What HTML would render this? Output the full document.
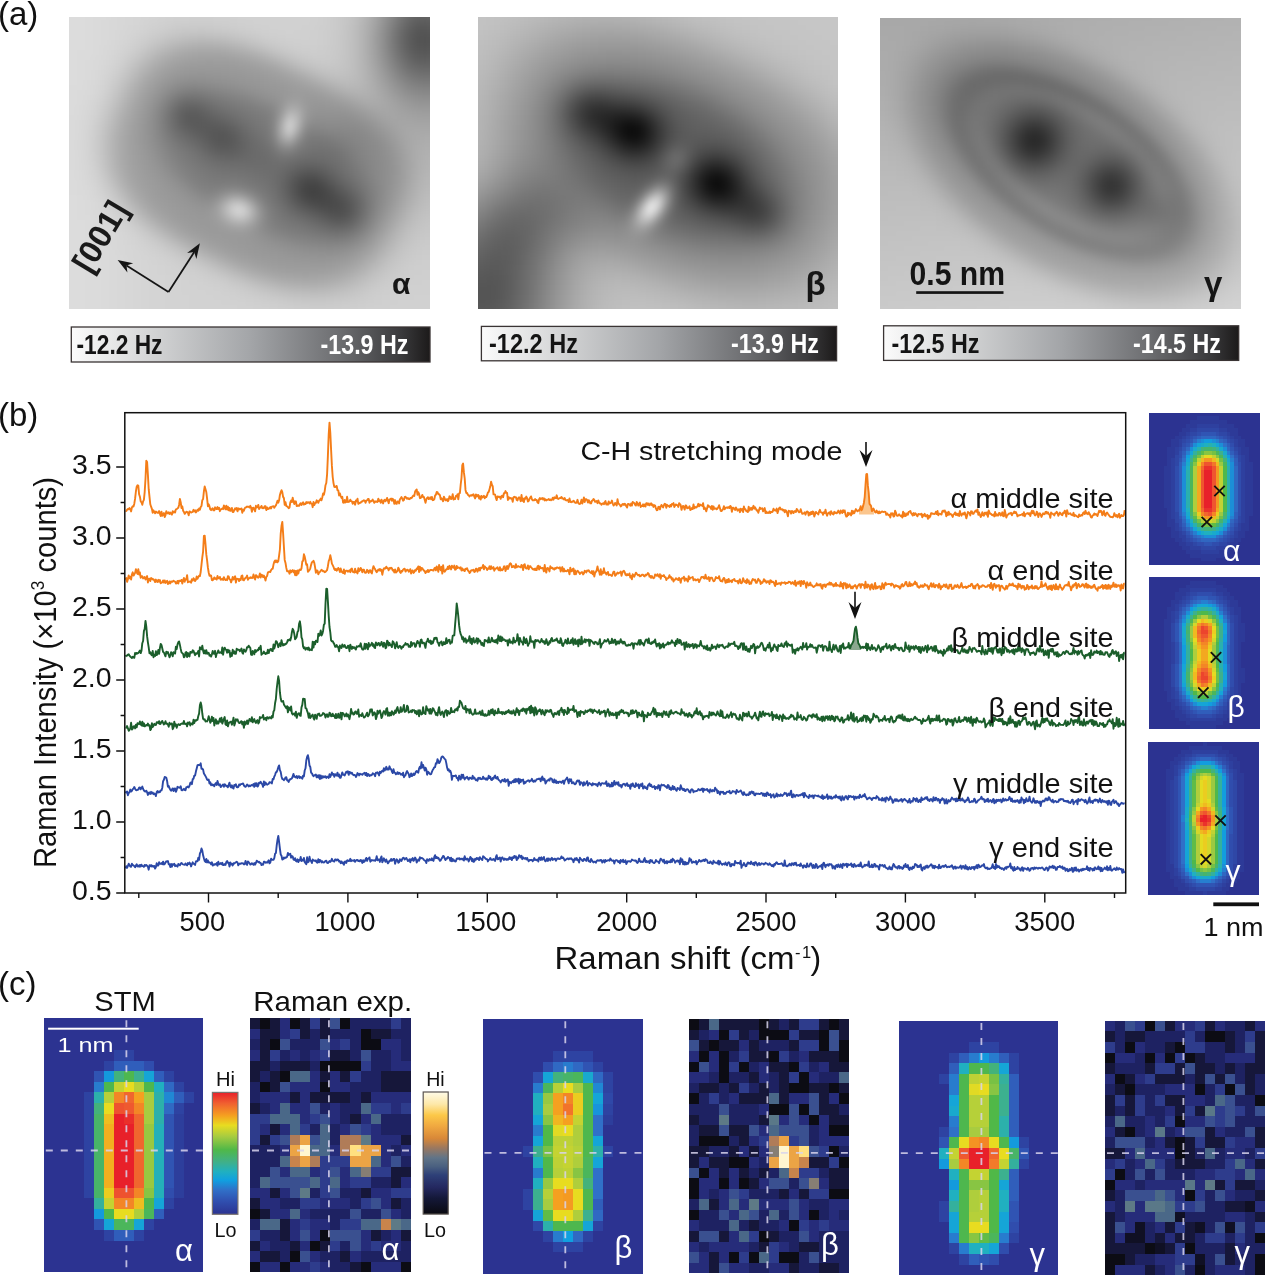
<!DOCTYPE html><html><head><meta charset="utf-8"><style>html,body{margin:0;padding:0;background:#fff;width:1266px;height:1277px;overflow:hidden;position:relative}i{position:absolute;left:0;width:100%;display:block}svg text{font-family:"Liberation Sans",sans-serif}#ov{position:absolute;left:0;top:0;will-change:transform}</style></head><body>
<div style="position:absolute;left:69px;top:17px;width:361px;height:291.5px;overflow:hidden"><div style="position:absolute;left:-12px;top:-12px;width:385px;height:316px;filter:blur(3px)"><i style="top:0px;height:5px;background:linear-gradient(90deg,#dcdcdc,#dcdcdc,#dcdcdc,#dcdcdc,#dbdbdb,#dadada,#dadada,#d8d8d8,#d7d7d7,#d6d6d6,#d5d5d5,#d4d4d4,#d3d3d3,#d2d2d2,#d1d1d1,#d0d0d0,#d0d0d0,#cfcfcf,#cfcfcf,#cfcfcf,#d0d0d0,#d0d0d0,#d0d0d0,#d1d1d1,#d1d1d1,#d1d1d1,#d1d1d1,#d1d1d1,#d1d1d1,#d1d1d1,#d1d1d1,#d1d1d1,#d0d0d0,#cfcfcf,#cdcdcd,#cacaca,#c6c6c6,#c1c1c1,#b9b9b9,#aeaeae,#a1a1a1,#929292,#838383,#747474,#696969,#626262,#626262,#646464,#646464)"></i><i style="top:5px;height:5px;background:linear-gradient(90deg,#dcdcdc,#dcdcdc,#dcdcdc,#dcdcdc,#dbdbdb,#dadada,#dadada,#d8d8d8,#d7d7d7,#d6d6d6,#d5d5d5,#d4d4d4,#d3d3d3,#d2d2d2,#d1d1d1,#d0d0d0,#d0d0d0,#cfcfcf,#cfcfcf,#cfcfcf,#d0d0d0,#d0d0d0,#d0d0d0,#d1d1d1,#d1d1d1,#d1d1d1,#d1d1d1,#d1d1d1,#d1d1d1,#d1d1d1,#d1d1d1,#d1d1d1,#d0d0d0,#cfcfcf,#cdcdcd,#cacaca,#c6c6c6,#c1c1c1,#b9b9b9,#aeaeae,#a1a1a1,#929292,#838383,#747474,#696969,#626262,#626262,#646464,#646464)"></i><i style="top:10px;height:5px;background:linear-gradient(90deg,#dcdcdc,#dcdcdc,#dcdcdc,#dcdcdc,#dbdbdb,#dadada,#dadada,#d8d8d8,#d7d7d7,#d6d6d6,#d5d5d5,#d4d4d4,#d3d3d3,#d2d2d2,#d1d1d1,#d0d0d0,#d0d0d0,#cfcfcf,#cfcfcf,#cfcfcf,#d0d0d0,#d0d0d0,#d0d0d0,#d1d1d1,#d1d1d1,#d1d1d1,#d1d1d1,#d1d1d1,#d1d1d1,#d1d1d1,#d1d1d1,#d1d1d1,#d0d0d0,#cfcfcf,#cdcdcd,#cacaca,#c6c6c6,#c1c1c1,#b9b9b9,#aeaeae,#a1a1a1,#929292,#838383,#747474,#696969,#626262,#626262,#646464,#646464)"></i><i style="top:15px;height:5px;background:linear-gradient(90deg,#dcdcdc,#dcdcdc,#dcdcdc,#dcdcdc,#dbdbdb,#dadada,#d9d9d9,#d8d8d8,#d7d7d7,#d6d6d6,#d5d5d5,#d3d3d3,#d2d2d2,#d0d0d0,#cfcfcf,#cecece,#cecece,#cdcdcd,#cdcdcd,#cdcdcd,#cecece,#cecece,#cfcfcf,#d0d0d0,#d0d0d0,#d1d1d1,#d1d1d1,#d1d1d1,#d1d1d1,#d1d1d1,#d1d1d1,#d1d1d1,#d0d0d0,#cfcfcf,#cdcdcd,#cacaca,#c6c6c6,#c0c0c0,#b7b7b7,#acacac,#9f9f9f,#8f8f8f,#7f7f7f,#707070,#646464,#5d5d5d,#5c5c5c,#5e5e5e,#5e5e5e)"></i><i style="top:20px;height:5px;background:linear-gradient(90deg,#dcdcdc,#dcdcdc,#dcdcdc,#dcdcdc,#dbdbdb,#dadada,#d9d9d9,#d8d8d8,#d7d7d7,#d5d5d5,#d4d4d4,#d2d2d2,#d0d0d0,#cfcfcf,#cdcdcd,#cbcbcb,#cacaca,#cacaca,#cacaca,#cacaca,#cbcbcb,#cccccc,#cdcdcd,#cecece,#cfcfcf,#d0d0d0,#d0d0d0,#d1d1d1,#d1d1d1,#d1d1d1,#d1d1d1,#d0d0d0,#d0d0d0,#cecece,#cdcdcd,#cacaca,#c5c5c5,#bfbfbf,#b6b6b6,#ababab,#9d9d9d,#8c8c8c,#7c7c7c,#6c6c6c,#606060,#585858,#585858,#5a5a5a,#5a5a5a)"></i><i style="top:25px;height:5px;background:linear-gradient(90deg,#dcdcdc,#dcdcdc,#dcdcdc,#dcdcdc,#dbdbdb,#dadada,#d9d9d9,#d8d8d8,#d6d6d6,#d5d5d5,#d3d3d3,#d1d1d1,#cecece,#cccccc,#c9c9c9,#c7c7c7,#c6c6c6,#c5c5c5,#c4c4c4,#c5c5c5,#c6c6c6,#c7c7c7,#c9c9c9,#cbcbcb,#cccccc,#cecece,#cfcfcf,#d0d0d0,#d0d0d0,#d1d1d1,#d0d0d0,#d0d0d0,#cfcfcf,#cecece,#cccccc,#c9c9c9,#c5c5c5,#bebebe,#b5b5b5,#aaaaaa,#9b9b9b,#8b8b8b,#797979,#696969,#5d5d5d,#555555,#555555,#575757,#575757)"></i><i style="top:30px;height:5px;background:linear-gradient(90deg,#dcdcdc,#dcdcdc,#dcdcdc,#dcdcdc,#dbdbdb,#dadada,#d9d9d9,#d8d8d8,#d6d6d6,#d4d4d4,#d1d1d1,#cecece,#cbcbcb,#c8c8c8,#c4c4c4,#c2c2c2,#bfbfbf,#bebebe,#bdbdbd,#bebebe,#bfbfbf,#c0c0c0,#c3c3c3,#c5c5c5,#c8c8c8,#cacaca,#cdcdcd,#cecece,#cfcfcf,#d0d0d0,#d0d0d0,#d0d0d0,#cfcfcf,#cecece,#cccccc,#c9c9c9,#c5c5c5,#bebebe,#b5b5b5,#a9a9a9,#9a9a9a,#8a8a8a,#787878,#686868,#5b5b5b,#545454,#535353,#555555,#555555)"></i><i style="top:35px;height:5px;background:linear-gradient(90deg,#dcdcdc,#dcdcdc,#dcdcdc,#dcdcdc,#dbdbdb,#dadada,#d9d9d9,#d7d7d7,#d5d5d5,#d3d3d3,#cfcfcf,#cccccc,#c7c7c7,#c3c3c3,#bebebe,#bbbbbb,#b8b8b8,#b6b6b6,#b5b5b5,#b5b5b5,#b6b6b6,#b8b8b8,#bbbbbb,#bebebe,#c2c2c2,#c5c5c5,#c9c9c9,#cbcbcb,#cdcdcd,#cecece,#cfcfcf,#cfcfcf,#cfcfcf,#cecece,#cccccc,#c9c9c9,#c4c4c4,#bebebe,#b5b5b5,#a9a9a9,#9a9a9a,#8a8a8a,#787878,#686868,#5c5c5c,#545454,#535353,#555555,#555555)"></i><i style="top:40px;height:5px;background:linear-gradient(90deg,#dcdcdc,#dcdcdc,#dcdcdc,#dcdcdc,#dbdbdb,#dadada,#d8d8d8,#d7d7d7,#d4d4d4,#d1d1d1,#cdcdcd,#c8c8c8,#c2c2c2,#bdbdbd,#b8b8b8,#b3b3b3,#b0b0b0,#aeaeae,#adadad,#adadad,#aeaeae,#afafaf,#b2b2b2,#b5b5b5,#bababa,#bebebe,#c3c3c3,#c7c7c7,#cacaca,#cccccc,#cdcdcd,#cecece,#cecece,#cdcdcd,#cbcbcb,#c9c9c9,#c4c4c4,#bebebe,#b5b5b5,#a9a9a9,#9b9b9b,#8a8a8a,#797979,#696969,#5d5d5d,#565656,#555555,#575757,#575757)"></i><i style="top:45px;height:5px;background:linear-gradient(90deg,#dcdcdc,#dcdcdc,#dcdcdc,#dbdbdb,#dbdbdb,#dadada,#d8d8d8,#d6d6d6,#d3d3d3,#cfcfcf,#cacaca,#c3c3c3,#bdbdbd,#b6b6b6,#b1b1b1,#acacac,#a9a9a9,#a7a7a7,#a6a6a6,#a6a6a6,#a6a6a6,#a7a7a7,#aaaaaa,#adadad,#b0b0b0,#b5b5b5,#bababa,#c0c0c0,#c4c4c4,#c8c8c8,#cbcbcb,#cccccc,#cdcdcd,#cccccc,#cbcbcb,#c8c8c8,#c4c4c4,#bebebe,#b5b5b5,#a9a9a9,#9c9c9c,#8c8c8c,#7b7b7b,#6c6c6c,#606060,#595959,#585858,#5a5a5a,#5a5a5a)"></i><i style="top:50px;height:5px;background:linear-gradient(90deg,#dcdcdc,#dcdcdc,#dcdcdc,#dbdbdb,#dbdbdb,#d9d9d9,#d8d8d8,#d5d5d5,#d1d1d1,#cccccc,#c6c6c6,#bfbfbf,#b7b7b7,#b0b0b0,#ababab,#a6a6a6,#a4a4a4,#a2a2a2,#a1a1a1,#a0a0a0,#a1a1a1,#a1a1a1,#a3a3a3,#a5a5a5,#a8a8a8,#acacac,#b1b1b1,#b7b7b7,#bdbdbd,#c2c2c2,#c6c6c6,#c9c9c9,#cbcbcb,#cbcbcb,#cacaca,#c8c8c8,#c4c4c4,#bebebe,#b5b5b5,#aaaaaa,#9d9d9d,#8e8e8e,#7e7e7e,#6f6f6f,#646464,#5d5d5d,#5c5c5c,#5e5e5e,#5e5e5e)"></i><i style="top:55px;height:5px;background:linear-gradient(90deg,#dcdcdc,#dcdcdc,#dcdcdc,#dbdbdb,#dadada,#d9d9d9,#d7d7d7,#d4d4d4,#d0d0d0,#c9c9c9,#c2c2c2,#b9b9b9,#b1b1b1,#ababab,#a5a5a5,#a2a2a2,#9f9f9f,#9e9e9e,#9d9d9d,#9c9c9c,#9d9d9d,#9d9d9d,#9e9e9e,#a0a0a0,#a2a2a2,#a5a5a5,#a9a9a9,#aeaeae,#b4b4b4,#bababa,#c0c0c0,#c5c5c5,#c7c7c7,#c9c9c9,#c9c9c9,#c7c7c7,#c3c3c3,#bebebe,#b6b6b6,#ababab,#9f9f9f,#909090,#818181,#747474,#696969,#626262,#616161,#636363,#636363)"></i><i style="top:60px;height:5px;background:linear-gradient(90deg,#dcdcdc,#dcdcdc,#dcdcdc,#dbdbdb,#dadada,#d9d9d9,#d6d6d6,#d3d3d3,#cdcdcd,#c6c6c6,#bdbdbd,#b4b4b4,#acacac,#a6a6a6,#a1a1a1,#9d9d9d,#9b9b9b,#9a9a9a,#9a9a9a,#9a9a9a,#9a9a9a,#9a9a9a,#9b9b9b,#9c9c9c,#9d9d9d,#9f9f9f,#a2a2a2,#a6a6a6,#ababab,#b2b2b2,#b8b8b8,#bebebe,#c2c2c2,#c5c5c5,#c6c6c6,#c5c5c5,#c3c3c3,#bebebe,#b6b6b6,#adadad,#a1a1a1,#939393,#858585,#787878,#6e6e6e,#686868,#676767,#686868,#686868)"></i><i style="top:65px;height:5px;background:linear-gradient(90deg,#dcdcdc,#dcdcdc,#dcdcdc,#dbdbdb,#dadada,#d8d8d8,#d5d5d5,#d1d1d1,#cbcbcb,#c2c2c2,#b9b9b9,#b0b0b0,#a8a8a8,#a1a1a1,#9d9d9d,#9a9a9a,#989898,#979797,#969696,#979797,#979797,#989898,#999999,#999999,#9b9b9b,#9c9c9c,#9e9e9e,#a0a0a0,#a4a4a4,#a9a9a9,#afafaf,#b5b5b5,#bbbbbb,#c0c0c0,#c2c2c2,#c3c3c3,#c1c1c1,#bdbdbd,#b7b7b7,#aeaeae,#a3a3a3,#979797,#8a8a8a,#7e7e7e,#747474,#6f6f6f,#6d6d6d,#6f6f6f,#6f6f6f)"></i><i style="top:70px;height:5px;background:linear-gradient(90deg,#dcdcdc,#dcdcdc,#dcdcdc,#dbdbdb,#dadada,#d8d8d8,#d4d4d4,#cfcfcf,#c8c8c8,#bfbfbf,#b5b5b5,#ababab,#a4a4a4,#9e9e9e,#999999,#959595,#939393,#929292,#929292,#939393,#949494,#959595,#969696,#979797,#989898,#999999,#9b9b9b,#9d9d9d,#9f9f9f,#a2a2a2,#a7a7a7,#acacac,#b3b3b3,#b8b8b8,#bdbdbd,#bfbfbf,#bfbfbf,#bcbcbc,#b7b7b7,#afafaf,#a5a5a5,#9a9a9a,#8e8e8e,#838383,#7b7b7b,#757575,#747474,#757575,#757575)"></i><i style="top:75px;height:5px;background:linear-gradient(90deg,#dcdcdc,#dcdcdc,#dcdcdc,#dbdbdb,#d9d9d9,#d7d7d7,#d3d3d3,#cdcdcd,#c5c5c5,#bbbbbb,#b1b1b1,#a7a7a7,#a0a0a0,#9a9a9a,#959595,#909090,#8e8e8e,#8c8c8c,#8d8d8d,#8e8e8e,#909090,#919191,#939393,#959595,#969696,#979797,#999999,#9a9a9a,#9c9c9c,#9e9e9e,#a1a1a1,#a5a5a5,#aaaaaa,#b0b0b0,#b5b5b5,#b9b9b9,#bbbbbb,#bababa,#b7b7b7,#b0b0b0,#a7a7a7,#9d9d9d,#939393,#898989,#818181,#7c7c7c,#7b7b7b,#7c7c7c,#7c7c7c)"></i><i style="top:80px;height:5px;background:linear-gradient(90deg,#dcdcdc,#dcdcdc,#dbdbdb,#dbdbdb,#d9d9d9,#d6d6d6,#d2d2d2,#cbcbcb,#c2c2c2,#b7b7b7,#adadad,#a4a4a4,#9d9d9d,#969696,#909090,#8a8a8a,#868686,#858585,#868686,#888888,#8a8a8a,#8c8c8c,#8e8e8e,#919191,#939393,#959595,#979797,#989898,#999999,#9b9b9b,#9d9d9d,#9f9f9f,#a3a3a3,#a7a7a7,#adadad,#b2b2b2,#b6b6b6,#b7b7b7,#b5b5b5,#b0b0b0,#a9a9a9,#a1a1a1,#979797,#8e8e8e,#878787,#838383,#828282,#828282,#828282)"></i><i style="top:85px;height:5px;background:linear-gradient(90deg,#dcdcdc,#dcdcdc,#dbdbdb,#dadada,#d9d9d9,#d6d6d6,#d1d1d1,#c9c9c9,#bfbfbf,#b4b4b4,#aaaaaa,#a1a1a1,#9a9a9a,#929292,#8a8a8a,#838383,#7e7e7e,#7c7c7c,#7d7d7d,#808080,#838383,#868686,#888888,#8b8b8b,#8e8e8e,#919191,#949494,#969696,#989898,#9a9a9a,#9c9c9c,#9c9c9c,#9d9d9d,#a0a0a0,#a5a5a5,#aaaaaa,#afafaf,#b2b2b2,#b2b2b2,#b0b0b0,#aaaaaa,#a3a3a3,#9b9b9b,#939393,#8d8d8d,#898989,#888888,#898989,#898989)"></i><i style="top:90px;height:5px;background:linear-gradient(90deg,#dbdbdb,#dbdbdb,#dbdbdb,#dadada,#d8d8d8,#d5d5d5,#cfcfcf,#c6c6c6,#bcbcbc,#b1b1b1,#a7a7a7,#9e9e9e,#979797,#8e8e8e,#848484,#7a7a7a,#747474,#737373,#757575,#797979,#7c7c7c,#7f7f7f,#828282,#858585,#888888,#8c8c8c,#909090,#939393,#969696,#9b9b9b,#9d9d9d,#9a9a9a,#9a9a9a,#9b9b9b,#9e9e9e,#a2a2a2,#a7a7a7,#ababab,#aeaeae,#aeaeae,#ababab,#a5a5a5,#9f9f9f,#989898,#939393,#8f8f8f,#8e8e8e,#8f8f8f,#8f8f8f)"></i><i style="top:95px;height:5px;background:linear-gradient(90deg,#dbdbdb,#dbdbdb,#dbdbdb,#dadada,#d7d7d7,#d3d3d3,#cdcdcd,#c4c4c4,#b9b9b9,#aeaeae,#a4a4a4,#9c9c9c,#949494,#8a8a8a,#7e7e7e,#727272,#6b6b6b,#6a6a6a,#6d6d6d,#717171,#767676,#797979,#7c7c7c,#7f7f7f,#828282,#868686,#8a8a8a,#8e8e8e,#969696,#a0a0a0,#a1a1a1,#9a9a9a,#979797,#989898,#999999,#9c9c9c,#9f9f9f,#a4a4a4,#a8a8a8,#ababab,#aaaaaa,#a7a7a7,#a2a2a2,#9c9c9c,#989898,#949494,#949494,#949494,#949494)"></i><i style="top:100px;height:5px;background:linear-gradient(90deg,#dbdbdb,#dbdbdb,#dbdbdb,#d9d9d9,#d7d7d7,#d2d2d2,#cbcbcb,#c1c1c1,#b6b6b6,#ababab,#a2a2a2,#9a9a9a,#919191,#868686,#797979,#6c6c6c,#646464,#626262,#656565,#6b6b6b,#707070,#747474,#777777,#7a7a7a,#7d7d7d,#808080,#848484,#898989,#969696,#a9a9a9,#a8a8a8,#9a9a9a,#969696,#959595,#969696,#979797,#999999,#9d9d9d,#a2a2a2,#a6a6a6,#a8a8a8,#a7a7a7,#a4a4a4,#a0a0a0,#9c9c9c,#999999,#999999,#999999,#999999)"></i><i style="top:105px;height:5px;background:linear-gradient(90deg,#dbdbdb,#dbdbdb,#dbdbdb,#d9d9d9,#d6d6d6,#d1d1d1,#c9c9c9,#bebebe,#b3b3b3,#a9a9a9,#a0a0a0,#999999,#8f8f8f,#838383,#757575,#676767,#5e5e5e,#5c5c5c,#606060,#656565,#6a6a6a,#6e6e6e,#727272,#767676,#797979,#7c7c7c,#7f7f7f,#858585,#999999,#b6b6b6,#b0b0b0,#9a9a9a,#939393,#939393,#939393,#939393,#949494,#979797,#9b9b9b,#a0a0a0,#a4a4a4,#a6a6a6,#a5a5a5,#a2a2a2,#a0a0a0,#9e9e9e,#9d9d9d,#9d9d9d,#9d9d9d)"></i><i style="top:110px;height:5px;background:linear-gradient(90deg,#dbdbdb,#dbdbdb,#dadada,#d9d9d9,#d5d5d5,#d0d0d0,#c7c7c7,#bcbcbc,#b0b0b0,#a7a7a7,#9f9f9f,#979797,#8e8e8e,#828282,#737373,#666666,#5c5c5c,#5a5a5a,#5c5c5c,#606060,#646464,#696969,#6d6d6d,#727272,#767676,#797979,#7c7c7c,#838383,#a0a0a0,#c5c5c5,#b6b6b6,#989898,#909090,#909090,#909090,#909090,#909090,#929292,#969696,#9b9b9b,#a0a0a0,#a4a4a4,#a5a5a5,#a4a4a4,#a3a3a3,#a1a1a1,#a1a1a1,#a1a1a1,#a1a1a1)"></i><i style="top:115px;height:5px;background:linear-gradient(90deg,#dbdbdb,#dbdbdb,#dadada,#d8d8d8,#d5d5d5,#cecece,#c5c5c5,#bababa,#aeaeae,#a5a5a5,#9e9e9e,#969696,#8d8d8d,#818181,#747474,#676767,#5d5d5d,#5a5a5a,#5a5a5a,#5c5c5c,#5f5f5f,#626262,#686868,#6e6e6e,#737373,#777777,#7a7a7a,#838383,#a8a8a8,#d1d1d1,#b7b7b7,#939393,#8c8c8c,#8c8c8c,#8d8d8d,#8d8d8d,#8d8d8d,#8e8e8e,#919191,#959595,#9b9b9b,#a1a1a1,#a4a4a4,#a5a5a5,#a5a5a5,#a4a4a4,#a4a4a4,#a4a4a4,#a4a4a4)"></i><i style="top:120px;height:5px;background:linear-gradient(90deg,#dbdbdb,#dbdbdb,#dadada,#d8d8d8,#d4d4d4,#cdcdcd,#c3c3c3,#b8b8b8,#adadad,#a4a4a4,#9d9d9d,#969696,#8d8d8d,#828282,#757575,#696969,#616161,#5c5c5c,#5a5a5a,#5a5a5a,#5a5a5a,#5d5d5d,#626262,#696969,#707070,#757575,#787878,#838383,#adadad,#d5d5d5,#b2b2b2,#8c8c8c,#868686,#888888,#898989,#898989,#8a8a8a,#8b8b8b,#8d8d8d,#919191,#979797,#9d9d9d,#a2a2a2,#a6a6a6,#a7a7a7,#a7a7a7,#a7a7a7,#a7a7a7,#a7a7a7)"></i><i style="top:125px;height:5px;background:linear-gradient(90deg,#dbdbdb,#dbdbdb,#dadada,#d8d8d8,#d3d3d3,#cccccc,#c2c2c2,#b6b6b6,#ababab,#a3a3a3,#9c9c9c,#969696,#8e8e8e,#838383,#787878,#6e6e6e,#666666,#606060,#5c5c5c,#595959,#575757,#585858,#5e5e5e,#666666,#6d6d6d,#727272,#767676,#828282,#acacac,#cbcbcb,#a6a6a6,#848484,#808080,#828282,#848484,#858585,#878787,#888888,#8a8a8a,#8e8e8e,#939393,#999999,#a0a0a0,#a5a5a5,#a8a8a8,#a9a9a9,#a9a9a9,#aaaaaa,#aaaaaa)"></i><i style="top:130px;height:5px;background:linear-gradient(90deg,#dbdbdb,#dbdbdb,#dadada,#d8d8d8,#d3d3d3,#cbcbcb,#c1c1c1,#b5b5b5,#aaaaaa,#a2a2a2,#9c9c9c,#969696,#8e8e8e,#858585,#7b7b7b,#727272,#6b6b6b,#656565,#606060,#5a5a5a,#565656,#565656,#5b5b5b,#636363,#6a6a6a,#707070,#747474,#808080,#a4a4a4,#b8b8b8,#979797,#7e7e7e,#7a7a7a,#7c7c7c,#7e7e7e,#818181,#838383,#868686,#888888,#8b8b8b,#909090,#969696,#9d9d9d,#a4a4a4,#a8a8a8,#aaaaaa,#acacac,#acacac,#acacac)"></i><i style="top:135px;height:5px;background:linear-gradient(90deg,#dbdbdb,#dbdbdb,#dadada,#d7d7d7,#d3d3d3,#cbcbcb,#c0c0c0,#b4b4b4,#aaaaaa,#a2a2a2,#9c9c9c,#969696,#8f8f8f,#878787,#7e7e7e,#767676,#707070,#6a6a6a,#646464,#5d5d5d,#585858,#575757,#5b5b5b,#626262,#686868,#6d6d6d,#727272,#7c7c7c,#979797,#a1a1a1,#898989,#797979,#777777,#777777,#797979,#7c7c7c,#808080,#848484,#878787,#8a8a8a,#8d8d8d,#939393,#9b9b9b,#a2a2a2,#a8a8a8,#ababab,#adadad,#aeaeae,#aeaeae)"></i><i style="top:140px;height:5px;background:linear-gradient(90deg,#dbdbdb,#dbdbdb,#dadada,#d7d7d7,#d3d3d3,#cbcbcb,#c0c0c0,#b4b4b4,#aaaaaa,#a2a2a2,#9d9d9d,#979797,#919191,#898989,#818181,#7a7a7a,#747474,#6f6f6f,#686868,#616161,#5b5b5b,#5a5a5a,#5d5d5d,#626262,#686868,#6c6c6c,#6f6f6f,#777777,#888888,#8d8d8d,#7e7e7e,#767676,#747474,#737373,#757575,#787878,#7d7d7d,#818181,#858585,#898989,#8c8c8c,#919191,#989898,#a1a1a1,#a8a8a8,#acacac,#afafaf,#b0b0b0,#b0b0b0)"></i><i style="top:145px;height:5px;background:linear-gradient(90deg,#dbdbdb,#dbdbdb,#dadada,#d8d8d8,#d3d3d3,#cbcbcb,#c0c0c0,#b4b4b4,#aaaaaa,#a2a2a2,#9d9d9d,#989898,#929292,#8b8b8b,#838383,#7d7d7d,#787878,#737373,#6d6d6d,#666666,#616161,#5f5f5f,#606060,#646464,#686868,#6b6b6b,#6d6d6d,#737373,#7d7d7d,#7e7e7e,#767676,#727272,#707070,#707070,#717171,#747474,#797979,#7f7f7f,#848484,#888888,#8b8b8b,#909090,#979797,#9f9f9f,#a7a7a7,#adadad,#b0b0b0,#b1b1b1,#b1b1b1)"></i><i style="top:150px;height:5px;background:linear-gradient(90deg,#dbdbdb,#dbdbdb,#dadada,#d8d8d8,#d3d3d3,#cccccc,#c1c1c1,#b5b5b5,#aaaaaa,#a3a3a3,#9e9e9e,#999999,#949494,#8d8d8d,#868686,#7f7f7f,#7a7a7a,#767676,#717171,#6c6c6c,#676767,#656565,#656565,#676767,#696969,#6b6b6b,#6c6c6c,#707070,#747474,#747474,#707070,#6d6d6d,#6c6c6c,#6d6d6d,#6f6f6f,#727272,#777777,#7d7d7d,#838383,#878787,#8b8b8b,#8f8f8f,#959595,#9e9e9e,#a7a7a7,#adadad,#b1b1b1,#b3b3b3,#b3b3b3)"></i><i style="top:155px;height:5px;background:linear-gradient(90deg,#dbdbdb,#dbdbdb,#dadada,#d8d8d8,#d4d4d4,#cccccc,#c2c2c2,#b6b6b6,#ababab,#a3a3a3,#9e9e9e,#9a9a9a,#959595,#8f8f8f,#888888,#828282,#7c7c7c,#787878,#747474,#707070,#6d6d6d,#6b6b6b,#6b6b6b,#6b6b6b,#6b6b6b,#6c6c6c,#6c6c6c,#6e6e6e,#6f6f6f,#6d6d6d,#696969,#676767,#676767,#686868,#6c6c6c,#6f6f6f,#747474,#7b7b7b,#818181,#868686,#8a8a8a,#8e8e8e,#959595,#9d9d9d,#a6a6a6,#aeaeae,#b2b2b2,#b4b4b4,#b4b4b4)"></i><i style="top:160px;height:5px;background:linear-gradient(90deg,#dbdbdb,#dbdbdb,#dadada,#d8d8d8,#d5d5d5,#cecece,#c3c3c3,#b7b7b7,#acacac,#a4a4a4,#9f9f9f,#9b9b9b,#979797,#929292,#8b8b8b,#848484,#7f7f7f,#7b7b7b,#777777,#747474,#717171,#707070,#6f6f6f,#6f6f6f,#6e6e6e,#6d6d6d,#6d6d6d,#6d6d6d,#6c6c6c,#686868,#636363,#5f5f5f,#5f5f5f,#626262,#676767,#6d6d6d,#727272,#787878,#7f7f7f,#858585,#8a8a8a,#8e8e8e,#949494,#9d9d9d,#a6a6a6,#aeaeae,#b3b3b3,#b5b5b5,#b5b5b5)"></i><i style="top:165px;height:5px;background:linear-gradient(90deg,#dbdbdb,#dbdbdb,#dbdbdb,#d9d9d9,#d5d5d5,#cfcfcf,#c5c5c5,#b9b9b9,#aeaeae,#a5a5a5,#a0a0a0,#9c9c9c,#989898,#949494,#8e8e8e,#878787,#818181,#7d7d7d,#7a7a7a,#777777,#757575,#747474,#737373,#727272,#717171,#707070,#6e6e6e,#6d6d6d,#696969,#636363,#5c5c5c,#575757,#575757,#5b5b5b,#626262,#696969,#707070,#767676,#7d7d7d,#848484,#898989,#8e8e8e,#949494,#9d9d9d,#a7a7a7,#afafaf,#b4b4b4,#b6b6b6,#b6b6b6)"></i><i style="top:170px;height:5px;background:linear-gradient(90deg,#dbdbdb,#dbdbdb,#dbdbdb,#d9d9d9,#d6d6d6,#d1d1d1,#c8c8c8,#bcbcbc,#b0b0b0,#a7a7a7,#a1a1a1,#9d9d9d,#9a9a9a,#969696,#919191,#8b8b8b,#848484,#7f7f7f,#7c7c7c,#797979,#787878,#777777,#777777,#767676,#747474,#727272,#707070,#6d6d6d,#686868,#5f5f5f,#555555,#4f4f4f,#4e4e4e,#545454,#5c5c5c,#656565,#6c6c6c,#737373,#7b7b7b,#828282,#898989,#8e8e8e,#959595,#9d9d9d,#a7a7a7,#b0b0b0,#b6b6b6,#b8b8b8,#b8b8b8)"></i><i style="top:175px;height:5px;background:linear-gradient(90deg,#dbdbdb,#dbdbdb,#dbdbdb,#dadada,#d7d7d7,#d2d2d2,#cacaca,#bfbfbf,#b3b3b3,#a9a9a9,#a2a2a2,#9e9e9e,#9b9b9b,#989898,#949494,#8f8f8f,#888888,#828282,#7e7e7e,#7c7c7c,#7b7b7b,#7b7b7b,#7b7b7b,#7a7a7a,#777777,#757575,#727272,#6e6e6e,#676767,#5c5c5c,#515151,#484848,#474747,#4d4d4d,#565656,#5f5f5f,#686868,#6f6f6f,#787878,#808080,#888888,#8e8e8e,#959595,#9e9e9e,#a8a8a8,#b1b1b1,#b7b7b7,#b9b9b9,#b9b9b9)"></i><i style="top:180px;height:5px;background:linear-gradient(90deg,#dbdbdb,#dbdbdb,#dbdbdb,#dadada,#d8d8d8,#d4d4d4,#cdcdcd,#c3c3c3,#b7b7b7,#acacac,#a4a4a4,#9f9f9f,#9c9c9c,#999999,#969696,#929292,#8d8d8d,#868686,#818181,#7f7f7f,#7f7f7f,#828282,#838383,#818181,#7c7c7c,#787878,#747474,#6f6f6f,#676767,#5b5b5b,#4e4e4e,#454545,#434343,#474747,#505050,#595959,#626262,#6b6b6b,#757575,#7e7e7e,#878787,#8e8e8e,#969696,#a0a0a0,#aaaaaa,#b3b3b3,#b8b8b8,#bababa,#bababa)"></i><i style="top:185px;height:5px;background:linear-gradient(90deg,#dcdcdc,#dcdcdc,#dbdbdb,#dadada,#d9d9d9,#d5d5d5,#cfcfcf,#c7c7c7,#bbbbbb,#b0b0b0,#a7a7a7,#a1a1a1,#9d9d9d,#9a9a9a,#989898,#959595,#919191,#8b8b8b,#868686,#838383,#868686,#8d8d8d,#929292,#8f8f8f,#868686,#7d7d7d,#777777,#717171,#686868,#5c5c5c,#4f4f4f,#454545,#414141,#454545,#4b4b4b,#545454,#5c5c5c,#666666,#717171,#7c7c7c,#868686,#8f8f8f,#989898,#a1a1a1,#acacac,#b4b4b4,#bababa,#bcbcbc,#bcbcbc)"></i><i style="top:190px;height:5px;background:linear-gradient(90deg,#dcdcdc,#dcdcdc,#dcdcdc,#dbdbdb,#d9d9d9,#d6d6d6,#d2d2d2,#cacaca,#c0c0c0,#b4b4b4,#aaaaaa,#a3a3a3,#9e9e9e,#9b9b9b,#999999,#979797,#949494,#909090,#8b8b8b,#898989,#8f8f8f,#9c9c9c,#a8a8a8,#a5a5a5,#959595,#858585,#7a7a7a,#737373,#6a6a6a,#5f5f5f,#525252,#484848,#444444,#454545,#494949,#4f4f4f,#575757,#616161,#6e6e6e,#7b7b7b,#868686,#909090,#999999,#a4a4a4,#aeaeae,#b6b6b6,#bcbcbc,#bebebe,#bebebe)"></i><i style="top:195px;height:5px;background:linear-gradient(90deg,#dcdcdc,#dcdcdc,#dcdcdc,#dbdbdb,#dadada,#d8d8d8,#d4d4d4,#cecece,#c5c5c5,#b9b9b9,#afafaf,#a6a6a6,#a0a0a0,#9d9d9d,#9a9a9a,#989898,#969696,#939393,#909090,#8f8f8f,#989898,#acacac,#c0c0c0,#bfbfbf,#a9a9a9,#8f8f8f,#7e7e7e,#757575,#6d6d6d,#636363,#585858,#4f4f4f,#494949,#484848,#494949,#4c4c4c,#535353,#5e5e5e,#6b6b6b,#7a7a7a,#878787,#919191,#9b9b9b,#a6a6a6,#b0b0b0,#b8b8b8,#bdbdbd,#bfbfbf,#bfbfbf)"></i><i style="top:200px;height:5px;background:linear-gradient(90deg,#dcdcdc,#dcdcdc,#dcdcdc,#dbdbdb,#dadada,#d8d8d8,#d5d5d5,#d0d0d0,#c9c9c9,#bfbfbf,#b4b4b4,#aaaaaa,#a3a3a3,#9e9e9e,#9c9c9c,#9a9a9a,#989898,#969696,#949494,#959595,#9f9f9f,#b6b6b6,#cfcfcf,#d2d2d2,#bababa,#999999,#838383,#787878,#717171,#686868,#5f5f5f,#575757,#515151,#4d4d4d,#4b4b4b,#4c4c4c,#515151,#5c5c5c,#6b6b6b,#7a7a7a,#888888,#939393,#9e9e9e,#a9a9a9,#b3b3b3,#bababa,#bfbfbf,#c1c1c1,#c1c1c1)"></i><i style="top:205px;height:5px;background:linear-gradient(90deg,#dcdcdc,#dcdcdc,#dcdcdc,#dbdbdb,#dadada,#d9d9d9,#d7d7d7,#d3d3d3,#cdcdcd,#c5c5c5,#bababa,#b0b0b0,#a7a7a7,#a1a1a1,#9d9d9d,#9b9b9b,#999999,#989898,#969696,#989898,#a0a0a0,#b5b5b5,#cecece,#d5d5d5,#bfbfbf,#9e9e9e,#868686,#7a7a7a,#747474,#6d6d6d,#666666,#606060,#5a5a5a,#555555,#505050,#4f4f4f,#525252,#5d5d5d,#6c6c6c,#7c7c7c,#8a8a8a,#969696,#a1a1a1,#acacac,#b6b6b6,#bdbdbd,#c1c1c1,#c2c2c2,#c2c2c2)"></i><i style="top:210px;height:5px;background:linear-gradient(90deg,#dcdcdc,#dcdcdc,#dcdcdc,#dbdbdb,#dbdbdb,#d9d9d9,#d8d8d8,#d5d5d5,#d0d0d0,#cacaca,#c0c0c0,#b6b6b6,#acacac,#a5a5a5,#a0a0a0,#9c9c9c,#9a9a9a,#999999,#989898,#999999,#9e9e9e,#adadad,#c0c0c0,#c7c7c7,#b7b7b7,#9c9c9c,#878787,#7c7c7c,#777777,#727272,#6d6d6d,#686868,#626262,#5d5d5d,#575757,#545454,#575757,#616161,#6f6f6f,#7f7f7f,#8d8d8d,#999999,#a5a5a5,#afafaf,#b9b9b9,#bfbfbf,#c3c3c3,#c4c4c4,#c4c4c4)"></i><i style="top:215px;height:5px;background:linear-gradient(90deg,#dcdcdc,#dcdcdc,#dcdcdc,#dcdcdc,#dbdbdb,#dadada,#d8d8d8,#d6d6d6,#d3d3d3,#cecece,#c6c6c6,#bdbdbd,#b3b3b3,#aaaaaa,#a3a3a3,#9f9f9f,#9c9c9c,#9a9a9a,#999999,#999999,#9c9c9c,#a4a4a4,#afafaf,#b3b3b3,#a9a9a9,#979797,#878787,#7e7e7e,#7a7a7a,#767676,#737373,#6f6f6f,#6a6a6a,#656565,#606060,#5c5c5c,#5f5f5f,#676767,#757575,#838383,#919191,#9d9d9d,#a8a8a8,#b3b3b3,#bbbbbb,#c1c1c1,#c4c4c4,#c6c6c6,#c6c6c6)"></i><i style="top:220px;height:5px;background:linear-gradient(90deg,#dcdcdc,#dcdcdc,#dcdcdc,#dcdcdc,#dbdbdb,#dadada,#d9d9d9,#d7d7d7,#d4d4d4,#d1d1d1,#cbcbcb,#c4c4c4,#bababa,#b1b1b1,#a9a9a9,#a3a3a3,#9e9e9e,#9c9c9c,#9a9a9a,#999999,#9a9a9a,#9d9d9d,#a2a2a2,#a4a4a4,#9e9e9e,#939393,#888888,#818181,#7d7d7d,#7a7a7a,#787878,#757575,#717171,#6d6d6d,#686868,#666666,#686868,#6f6f6f,#7b7b7b,#888888,#959595,#a1a1a1,#acacac,#b7b7b7,#bebebe,#c3c3c3,#c6c6c6,#c7c7c7,#c7c7c7)"></i><i style="top:225px;height:5px;background:linear-gradient(90deg,#dcdcdc,#dcdcdc,#dcdcdc,#dcdcdc,#dbdbdb,#dadada,#d9d9d9,#d8d8d8,#d6d6d6,#d3d3d3,#cfcfcf,#c9c9c9,#c2c2c2,#b9b9b9,#b0b0b0,#a8a8a8,#a2a2a2,#9e9e9e,#9c9c9c,#9a9a9a,#9a9a9a,#9a9a9a,#9b9b9b,#9c9c9c,#989898,#929292,#8b8b8b,#868686,#828282,#7f7f7f,#7c7c7c,#7a7a7a,#777777,#747474,#717171,#707070,#727272,#787878,#828282,#8e8e8e,#9a9a9a,#a5a5a5,#b1b1b1,#bababa,#c1c1c1,#c5c5c5,#c7c7c7,#c8c8c8,#c8c8c8)"></i><i style="top:230px;height:5px;background:linear-gradient(90deg,#dcdcdc,#dcdcdc,#dcdcdc,#dcdcdc,#dbdbdb,#dadada,#d9d9d9,#d8d8d8,#d6d6d6,#d4d4d4,#d2d2d2,#cdcdcd,#c8c8c8,#c0c0c0,#b8b8b8,#afafaf,#a8a8a8,#a3a3a3,#9f9f9f,#9c9c9c,#9b9b9b,#9a9a9a,#999999,#999999,#979797,#949494,#909090,#8b8b8b,#888888,#848484,#828282,#808080,#7e7e7e,#7c7c7c,#7a7a7a,#797979,#7b7b7b,#818181,#8a8a8a,#949494,#9f9f9f,#aaaaaa,#b5b5b5,#bdbdbd,#c3c3c3,#c7c7c7,#c9c9c9,#c9c9c9,#c9c9c9)"></i><i style="top:235px;height:5px;background:linear-gradient(90deg,#dcdcdc,#dcdcdc,#dcdcdc,#dcdcdc,#dbdbdb,#dadada,#d9d9d9,#d8d8d8,#d7d7d7,#d5d5d5,#d3d3d3,#d0d0d0,#cccccc,#c7c7c7,#c0c0c0,#b8b8b8,#b0b0b0,#a9a9a9,#a3a3a3,#9f9f9f,#9d9d9d,#9b9b9b,#9a9a9a,#999999,#989898,#969696,#939393,#919191,#8e8e8e,#8b8b8b,#888888,#868686,#848484,#838383,#828282,#828282,#848484,#898989,#909090,#999999,#a4a4a4,#aeaeae,#b8b8b8,#c0c0c0,#c5c5c5,#c8c8c8,#cacaca,#cacaca,#cacaca)"></i><i style="top:240px;height:5px;background:linear-gradient(90deg,#dcdcdc,#dcdcdc,#dcdcdc,#dcdcdc,#dbdbdb,#dadada,#dadada,#d8d8d8,#d7d7d7,#d6d6d6,#d4d4d4,#d2d2d2,#cfcfcf,#cccccc,#c6c6c6,#c0c0c0,#b8b8b8,#b1b1b1,#aaaaaa,#a4a4a4,#a0a0a0,#9d9d9d,#9b9b9b,#9a9a9a,#999999,#989898,#969696,#949494,#929292,#909090,#8e8e8e,#8c8c8c,#8b8b8b,#8a8a8a,#898989,#8a8a8a,#8c8c8c,#909090,#979797,#9f9f9f,#a9a9a9,#b3b3b3,#bcbcbc,#c3c3c3,#c7c7c7,#cacaca,#cbcbcb,#cbcbcb,#cbcbcb)"></i><i style="top:245px;height:5px;background:linear-gradient(90deg,#dcdcdc,#dcdcdc,#dcdcdc,#dcdcdc,#dbdbdb,#dadada,#dadada,#d9d9d9,#d7d7d7,#d6d6d6,#d5d5d5,#d3d3d3,#d1d1d1,#cfcfcf,#cbcbcb,#c7c7c7,#c0c0c0,#b9b9b9,#b2b2b2,#ababab,#a6a6a6,#a1a1a1,#9e9e9e,#9c9c9c,#9a9a9a,#999999,#989898,#979797,#969696,#949494,#939393,#919191,#909090,#909090,#8f8f8f,#909090,#939393,#979797,#9d9d9d,#a4a4a4,#aeaeae,#b7b7b7,#bfbfbf,#c5c5c5,#c9c9c9,#cbcbcb,#cccccc,#cccccc,#cccccc)"></i><i style="top:250px;height:5px;background:linear-gradient(90deg,#dcdcdc,#dcdcdc,#dcdcdc,#dcdcdc,#dbdbdb,#dadada,#dadada,#d9d9d9,#d8d8d8,#d6d6d6,#d5d5d5,#d4d4d4,#d3d3d3,#d1d1d1,#cfcfcf,#cbcbcb,#c7c7c7,#c1c1c1,#bbbbbb,#b4b4b4,#adadad,#a7a7a7,#a2a2a2,#9f9f9f,#9d9d9d,#9b9b9b,#9a9a9a,#999999,#989898,#979797,#969696,#959595,#959595,#949494,#959595,#969696,#989898,#9c9c9c,#a2a2a2,#aaaaaa,#b3b3b3,#bcbcbc,#c3c3c3,#c7c7c7,#cacaca,#cccccc,#cdcdcd,#cdcdcd,#cdcdcd)"></i><i style="top:255px;height:5px;background:linear-gradient(90deg,#dcdcdc,#dcdcdc,#dcdcdc,#dcdcdc,#dbdbdb,#dbdbdb,#dadada,#d9d9d9,#d8d8d8,#d7d7d7,#d6d6d6,#d5d5d5,#d3d3d3,#d2d2d2,#d1d1d1,#cfcfcf,#cccccc,#c8c8c8,#c3c3c3,#bdbdbd,#b6b6b6,#afafaf,#a9a9a9,#a4a4a4,#a1a1a1,#9e9e9e,#9d9d9d,#9b9b9b,#9a9a9a,#9a9a9a,#999999,#999999,#989898,#989898,#999999,#9b9b9b,#9d9d9d,#a2a2a2,#a8a8a8,#b0b0b0,#b8b8b8,#c0c0c0,#c5c5c5,#c9c9c9,#cccccc,#cdcdcd,#cecece,#cecece,#cecece)"></i><i style="top:260px;height:5px;background:linear-gradient(90deg,#dcdcdc,#dcdcdc,#dcdcdc,#dcdcdc,#dbdbdb,#dbdbdb,#dadada,#d9d9d9,#d8d8d8,#d7d7d7,#d6d6d6,#d5d5d5,#d4d4d4,#d3d3d3,#d2d2d2,#d0d0d0,#cfcfcf,#cccccc,#c9c9c9,#c4c4c4,#bebebe,#b8b8b8,#b1b1b1,#ababab,#a7a7a7,#a3a3a3,#a0a0a0,#9e9e9e,#9d9d9d,#9c9c9c,#9c9c9c,#9c9c9c,#9c9c9c,#9c9c9c,#9d9d9d,#9f9f9f,#a3a3a3,#a7a7a7,#aeaeae,#b5b5b5,#bdbdbd,#c3c3c3,#c8c8c8,#cbcbcb,#cdcdcd,#cecece,#cecece,#cecece,#cecece)"></i><i style="top:265px;height:5px;background:linear-gradient(90deg,#dcdcdc,#dcdcdc,#dcdcdc,#dcdcdc,#dbdbdb,#dbdbdb,#dadada,#d9d9d9,#d8d8d8,#d7d7d7,#d6d6d6,#d5d5d5,#d4d4d4,#d3d3d3,#d2d2d2,#d2d2d2,#d0d0d0,#cfcfcf,#cdcdcd,#cacaca,#c5c5c5,#c0c0c0,#bababa,#b4b4b4,#aeaeae,#aaaaaa,#a6a6a6,#a3a3a3,#a1a1a1,#a0a0a0,#9f9f9f,#9f9f9f,#9f9f9f,#a0a0a0,#a2a2a2,#a4a4a4,#a8a8a8,#adadad,#b4b4b4,#bbbbbb,#c1c1c1,#c6c6c6,#cacaca,#cccccc,#cecece,#cecece,#cfcfcf,#cfcfcf,#cfcfcf)"></i><i style="top:270px;height:5px;background:linear-gradient(90deg,#dcdcdc,#dcdcdc,#dcdcdc,#dcdcdc,#dbdbdb,#dbdbdb,#dadada,#d9d9d9,#d8d8d8,#d7d7d7,#d6d6d6,#d5d5d5,#d4d4d4,#d4d4d4,#d3d3d3,#d2d2d2,#d1d1d1,#d0d0d0,#cfcfcf,#cdcdcd,#cbcbcb,#c7c7c7,#c2c2c2,#bdbdbd,#b7b7b7,#b2b2b2,#aeaeae,#aaaaaa,#a7a7a7,#a6a6a6,#a5a5a5,#a4a4a4,#a5a5a5,#a6a6a6,#a8a8a8,#aaaaaa,#afafaf,#b4b4b4,#bababa,#c0c0c0,#c5c5c5,#c9c9c9,#cccccc,#cdcdcd,#cecece,#cfcfcf,#cfcfcf,#cfcfcf,#cfcfcf)"></i><i style="top:275px;height:5px;background:linear-gradient(90deg,#dcdcdc,#dcdcdc,#dcdcdc,#dcdcdc,#dbdbdb,#dbdbdb,#dadada,#d9d9d9,#d8d8d8,#d7d7d7,#d6d6d6,#d5d5d5,#d4d4d4,#d4d4d4,#d3d3d3,#d3d3d3,#d2d2d2,#d1d1d1,#d1d1d1,#cfcfcf,#cecece,#cccccc,#c8c8c8,#c5c5c5,#c0c0c0,#bbbbbb,#b7b7b7,#b3b3b3,#afafaf,#adadad,#acacac,#ababab,#ababab,#acacac,#aeaeae,#b1b1b1,#b5b5b5,#bababa,#bfbfbf,#c4c4c4,#c8c8c8,#cbcbcb,#cdcdcd,#cecece,#cfcfcf,#cfcfcf,#d0d0d0,#d0d0d0,#d0d0d0)"></i><i style="top:280px;height:5px;background:linear-gradient(90deg,#dcdcdc,#dcdcdc,#dcdcdc,#dcdcdc,#dbdbdb,#dbdbdb,#dadada,#d9d9d9,#d8d8d8,#d7d7d7,#d6d6d6,#d5d5d5,#d4d4d4,#d4d4d4,#d3d3d3,#d3d3d3,#d2d2d2,#d2d2d2,#d1d1d1,#d1d1d1,#d0d0d0,#cecece,#cccccc,#cacaca,#c7c7c7,#c3c3c3,#bfbfbf,#bcbcbc,#b8b8b8,#b6b6b6,#b4b4b4,#b3b3b3,#b3b3b3,#b4b4b4,#b6b6b6,#b9b9b9,#bcbcbc,#c0c0c0,#c4c4c4,#c8c8c8,#cbcbcb,#cdcdcd,#cecece,#cfcfcf,#d0d0d0,#d0d0d0,#d0d0d0,#d0d0d0,#d0d0d0)"></i><i style="top:285px;height:5px;background:linear-gradient(90deg,#dcdcdc,#dcdcdc,#dcdcdc,#dcdcdc,#dbdbdb,#dbdbdb,#dadada,#d9d9d9,#d8d8d8,#d7d7d7,#d6d6d6,#d5d5d5,#d4d4d4,#d4d4d4,#d3d3d3,#d3d3d3,#d2d2d2,#d2d2d2,#d2d2d2,#d1d1d1,#d1d1d1,#d0d0d0,#cfcfcf,#cdcdcd,#cbcbcb,#c9c9c9,#c6c6c6,#c3c3c3,#c1c1c1,#bebebe,#bdbdbd,#bcbcbc,#bbbbbb,#bcbcbc,#bdbdbd,#c0c0c0,#c2c2c2,#c5c5c5,#c8c8c8,#cbcbcb,#cdcdcd,#cecece,#cfcfcf,#d0d0d0,#d0d0d0,#d0d0d0,#d0d0d0,#d0d0d0,#d0d0d0)"></i><i style="top:290px;height:5px;background:linear-gradient(90deg,#dcdcdc,#dcdcdc,#dcdcdc,#dcdcdc,#dbdbdb,#dbdbdb,#dadada,#d9d9d9,#d8d8d8,#d7d7d7,#d6d6d6,#d5d5d5,#d4d4d4,#d4d4d4,#d3d3d3,#d3d3d3,#d3d3d3,#d2d2d2,#d2d2d2,#d2d2d2,#d1d1d1,#d1d1d1,#d0d0d0,#cfcfcf,#cecece,#cdcdcd,#cbcbcb,#c9c9c9,#c7c7c7,#c5c5c5,#c4c4c4,#c3c3c3,#c3c3c3,#c3c3c3,#c4c4c4,#c5c5c5,#c7c7c7,#c9c9c9,#cbcbcb,#cdcdcd,#cecece,#cfcfcf,#d0d0d0,#d0d0d0,#d0d0d0,#d1d1d1,#d1d1d1,#d1d1d1,#d1d1d1)"></i><i style="top:295px;height:5px;background:linear-gradient(90deg,#dcdcdc,#dcdcdc,#dcdcdc,#dcdcdc,#dbdbdb,#dbdbdb,#dadada,#d9d9d9,#d8d8d8,#d7d7d7,#d6d6d6,#d5d5d5,#d4d4d4,#d4d4d4,#d3d3d3,#d3d3d3,#d3d3d3,#d2d2d2,#d2d2d2,#d2d2d2,#d2d2d2,#d1d1d1,#d1d1d1,#d1d1d1,#d0d0d0,#cfcfcf,#cecece,#cdcdcd,#cccccc,#cacaca,#c9c9c9,#c9c9c9,#c8c8c8,#c8c8c8,#c9c9c9,#cacaca,#cbcbcb,#cccccc,#cdcdcd,#cecece,#cfcfcf,#d0d0d0,#d0d0d0,#d1d1d1,#d1d1d1,#d1d1d1,#d1d1d1,#d1d1d1,#d1d1d1)"></i><i style="top:300px;height:5px;background:linear-gradient(90deg,#dcdcdc,#dcdcdc,#dcdcdc,#dcdcdc,#dbdbdb,#dbdbdb,#dadada,#d9d9d9,#d8d8d8,#d7d7d7,#d6d6d6,#d5d5d5,#d4d4d4,#d4d4d4,#d3d3d3,#d3d3d3,#d3d3d3,#d2d2d2,#d2d2d2,#d2d2d2,#d2d2d2,#d2d2d2,#d2d2d2,#d1d1d1,#d1d1d1,#d0d0d0,#d0d0d0,#cfcfcf,#cecece,#cecece,#cdcdcd,#cccccc,#cccccc,#cccccc,#cccccc,#cdcdcd,#cecece,#cecece,#cfcfcf,#d0d0d0,#d0d0d0,#d0d0d0,#d1d1d1,#d1d1d1,#d1d1d1,#d1d1d1,#d1d1d1,#d1d1d1,#d1d1d1)"></i><i style="top:305px;height:5px;background:linear-gradient(90deg,#dcdcdc,#dcdcdc,#dcdcdc,#dcdcdc,#dbdbdb,#dbdbdb,#dadada,#d9d9d9,#d8d8d8,#d7d7d7,#d6d6d6,#d5d5d5,#d4d4d4,#d4d4d4,#d3d3d3,#d3d3d3,#d3d3d3,#d2d2d2,#d2d2d2,#d2d2d2,#d2d2d2,#d2d2d2,#d2d2d2,#d1d1d1,#d1d1d1,#d1d1d1,#d0d0d0,#d0d0d0,#cfcfcf,#cecece,#cdcdcd,#cdcdcd,#cdcdcd,#cdcdcd,#cdcdcd,#cdcdcd,#cecece,#cfcfcf,#cfcfcf,#d0d0d0,#d0d0d0,#d1d1d1,#d1d1d1,#d1d1d1,#d1d1d1,#d1d1d1,#d1d1d1,#d1d1d1,#d1d1d1)"></i><i style="top:310px;height:5px;background:linear-gradient(90deg,#dcdcdc,#dcdcdc,#dcdcdc,#dcdcdc,#dbdbdb,#dbdbdb,#dadada,#d9d9d9,#d8d8d8,#d7d7d7,#d6d6d6,#d5d5d5,#d4d4d4,#d4d4d4,#d3d3d3,#d3d3d3,#d3d3d3,#d2d2d2,#d2d2d2,#d2d2d2,#d2d2d2,#d2d2d2,#d2d2d2,#d1d1d1,#d1d1d1,#d1d1d1,#d0d0d0,#d0d0d0,#cfcfcf,#cecece,#cdcdcd,#cdcdcd,#cdcdcd,#cdcdcd,#cdcdcd,#cdcdcd,#cecece,#cfcfcf,#cfcfcf,#d0d0d0,#d0d0d0,#d1d1d1,#d1d1d1,#d1d1d1,#d1d1d1,#d1d1d1,#d1d1d1,#d1d1d1,#d1d1d1)"></i><i style="top:315px;height:5px;background:linear-gradient(90deg,#dcdcdc,#dcdcdc,#dcdcdc,#dcdcdc,#dbdbdb,#dbdbdb,#dadada,#d9d9d9,#d8d8d8,#d7d7d7,#d6d6d6,#d5d5d5,#d4d4d4,#d4d4d4,#d3d3d3,#d3d3d3,#d3d3d3,#d2d2d2,#d2d2d2,#d2d2d2,#d2d2d2,#d2d2d2,#d2d2d2,#d1d1d1,#d1d1d1,#d1d1d1,#d0d0d0,#d0d0d0,#cfcfcf,#cecece,#cdcdcd,#cdcdcd,#cdcdcd,#cdcdcd,#cdcdcd,#cdcdcd,#cecece,#cfcfcf,#cfcfcf,#d0d0d0,#d0d0d0,#d1d1d1,#d1d1d1,#d1d1d1,#d1d1d1,#d1d1d1,#d1d1d1,#d1d1d1,#d1d1d1)"></i></div></div><div style="position:absolute;left:477.7px;top:17px;width:360px;height:291.5px;overflow:hidden"><div style="position:absolute;left:-12px;top:-12px;width:384px;height:316px;filter:blur(3px)"><i style="top:0px;height:5px;background:linear-gradient(90deg,#c3c3c3,#c3c3c3,#c3c3c3,#c2c2c2,#c1c1c1,#c0c0c0,#bebebe,#bdbdbd,#bbbbbb,#bababa,#b8b8b8,#b6b6b6,#b5b5b5,#b4b4b4,#b3b3b3,#b2b2b2,#b2b2b2,#b2b2b2,#b2b2b2,#b2b2b2,#b3b3b3,#b4b4b4,#b5b5b5,#b6b6b6,#b8b8b8,#b9b9b9,#bbbbbb,#bcbcbc,#bebebe,#bfbfbf,#c0c0c0,#c1c1c1,#c2c2c2,#c3c3c3,#c3c3c3,#c4c4c4,#c4c4c4,#c5c5c5,#c5c5c5,#c5c5c5,#c5c5c5,#c6c6c6,#c6c6c6,#c6c6c6,#c6c6c6,#c6c6c6,#c6c6c6,#c6c6c6,#c6c6c6)"></i><i style="top:5px;height:5px;background:linear-gradient(90deg,#c3c3c3,#c3c3c3,#c3c3c3,#c2c2c2,#c1c1c1,#c0c0c0,#bebebe,#bdbdbd,#bbbbbb,#bababa,#b8b8b8,#b6b6b6,#b5b5b5,#b4b4b4,#b3b3b3,#b2b2b2,#b2b2b2,#b2b2b2,#b2b2b2,#b2b2b2,#b3b3b3,#b4b4b4,#b5b5b5,#b6b6b6,#b8b8b8,#b9b9b9,#bbbbbb,#bcbcbc,#bebebe,#bfbfbf,#c0c0c0,#c1c1c1,#c2c2c2,#c3c3c3,#c3c3c3,#c4c4c4,#c4c4c4,#c5c5c5,#c5c5c5,#c5c5c5,#c5c5c5,#c6c6c6,#c6c6c6,#c6c6c6,#c6c6c6,#c6c6c6,#c6c6c6,#c6c6c6,#c6c6c6)"></i><i style="top:10px;height:5px;background:linear-gradient(90deg,#c3c3c3,#c3c3c3,#c3c3c3,#c2c2c2,#c1c1c1,#c0c0c0,#bebebe,#bdbdbd,#bbbbbb,#bababa,#b8b8b8,#b6b6b6,#b5b5b5,#b4b4b4,#b3b3b3,#b2b2b2,#b2b2b2,#b2b2b2,#b2b2b2,#b2b2b2,#b3b3b3,#b4b4b4,#b5b5b5,#b6b6b6,#b8b8b8,#b9b9b9,#bbbbbb,#bcbcbc,#bebebe,#bfbfbf,#c0c0c0,#c1c1c1,#c2c2c2,#c3c3c3,#c3c3c3,#c4c4c4,#c4c4c4,#c5c5c5,#c5c5c5,#c5c5c5,#c5c5c5,#c6c6c6,#c6c6c6,#c6c6c6,#c6c6c6,#c6c6c6,#c6c6c6,#c6c6c6,#c6c6c6)"></i><i style="top:15px;height:5px;background:linear-gradient(90deg,#c3c3c3,#c3c3c3,#c2c2c2,#c1c1c1,#c0c0c0,#bebebe,#bdbdbd,#bbbbbb,#b9b9b9,#b7b7b7,#b5b5b5,#b3b3b3,#b2b2b2,#b0b0b0,#afafaf,#aeaeae,#aeaeae,#adadad,#adadad,#aeaeae,#aeaeae,#afafaf,#b1b1b1,#b2b2b2,#b4b4b4,#b5b5b5,#b7b7b7,#b9b9b9,#bbbbbb,#bdbdbd,#bebebe,#bfbfbf,#c1c1c1,#c2c2c2,#c3c3c3,#c3c3c3,#c4c4c4,#c4c4c4,#c5c5c5,#c5c5c5,#c5c5c5,#c5c5c5,#c6c6c6,#c6c6c6,#c6c6c6,#c6c6c6,#c6c6c6,#c6c6c6,#c6c6c6)"></i><i style="top:20px;height:5px;background:linear-gradient(90deg,#c2c2c2,#c2c2c2,#c2c2c2,#c0c0c0,#bfbfbf,#bdbdbd,#bbbbbb,#b9b9b9,#b7b7b7,#b4b4b4,#b2b2b2,#b0b0b0,#aeaeae,#adadad,#ababab,#aaaaaa,#a9a9a9,#a9a9a9,#a9a9a9,#a9a9a9,#aaaaaa,#ababab,#acacac,#adadad,#afafaf,#b1b1b1,#b3b3b3,#b5b5b5,#b7b7b7,#bababa,#bbbbbb,#bdbdbd,#bfbfbf,#c0c0c0,#c1c1c1,#c2c2c2,#c3c3c3,#c4c4c4,#c4c4c4,#c5c5c5,#c5c5c5,#c5c5c5,#c5c5c5,#c6c6c6,#c6c6c6,#c6c6c6,#c6c6c6,#c6c6c6,#c6c6c6)"></i><i style="top:25px;height:5px;background:linear-gradient(90deg,#c1c1c1,#c1c1c1,#c1c1c1,#bfbfbf,#bebebe,#bcbcbc,#b9b9b9,#b7b7b7,#b4b4b4,#b2b2b2,#afafaf,#adadad,#aaaaaa,#a9a9a9,#a7a7a7,#a6a6a6,#a5a5a5,#a5a5a5,#a4a4a4,#a5a5a5,#a5a5a5,#a6a6a6,#a7a7a7,#a9a9a9,#aaaaaa,#acacac,#afafaf,#b1b1b1,#b3b3b3,#b6b6b6,#b8b8b8,#bababa,#bcbcbc,#bebebe,#c0c0c0,#c1c1c1,#c2c2c2,#c3c3c3,#c3c3c3,#c4c4c4,#c4c4c4,#c5c5c5,#c5c5c5,#c5c5c5,#c6c6c6,#c6c6c6,#c6c6c6,#c6c6c6,#c6c6c6)"></i><i style="top:30px;height:5px;background:linear-gradient(90deg,#c1c1c1,#c1c1c1,#c0c0c0,#bebebe,#bcbcbc,#bababa,#b7b7b7,#b5b5b5,#b2b2b2,#afafaf,#acacac,#a9a9a9,#a7a7a7,#a5a5a5,#a3a3a3,#a2a2a2,#a1a1a1,#a0a0a0,#a0a0a0,#a0a0a0,#a1a1a1,#a1a1a1,#a2a2a2,#a4a4a4,#a6a6a6,#a8a8a8,#aaaaaa,#acacac,#afafaf,#b2b2b2,#b4b4b4,#b7b7b7,#b9b9b9,#bcbcbc,#bdbdbd,#bfbfbf,#c0c0c0,#c2c2c2,#c3c3c3,#c3c3c3,#c4c4c4,#c4c4c4,#c5c5c5,#c5c5c5,#c5c5c5,#c6c6c6,#c6c6c6,#c6c6c6,#c6c6c6)"></i><i style="top:35px;height:5px;background:linear-gradient(90deg,#c0c0c0,#c0c0c0,#bfbfbf,#bdbdbd,#bbbbbb,#b8b8b8,#b5b5b5,#b2b2b2,#afafaf,#acacac,#a9a9a9,#a6a6a6,#a3a3a3,#a1a1a1,#9f9f9f,#9e9e9e,#9d9d9d,#9c9c9c,#9c9c9c,#9c9c9c,#9c9c9c,#9d9d9d,#9e9e9e,#9f9f9f,#a1a1a1,#a3a3a3,#a5a5a5,#a7a7a7,#aaaaaa,#adadad,#b0b0b0,#b3b3b3,#b6b6b6,#b8b8b8,#bbbbbb,#bdbdbd,#bfbfbf,#c0c0c0,#c1c1c1,#c2c2c2,#c3c3c3,#c4c4c4,#c4c4c4,#c5c5c5,#c5c5c5,#c5c5c5,#c6c6c6,#c6c6c6,#c6c6c6)"></i><i style="top:40px;height:5px;background:linear-gradient(90deg,#bfbfbf,#bfbfbf,#bebebe,#bcbcbc,#bababa,#b7b7b7,#b3b3b3,#b0b0b0,#acacac,#a9a9a9,#a5a5a5,#a2a2a2,#a0a0a0,#9d9d9d,#9b9b9b,#9a9a9a,#999999,#989898,#989898,#989898,#989898,#989898,#999999,#9b9b9b,#9c9c9c,#9e9e9e,#a0a0a0,#a3a3a3,#a5a5a5,#a8a8a8,#ababab,#afafaf,#b2b2b2,#b5b5b5,#b7b7b7,#bababa,#bcbcbc,#bebebe,#c0c0c0,#c1c1c1,#c2c2c2,#c3c3c3,#c4c4c4,#c4c4c4,#c5c5c5,#c5c5c5,#c5c5c5,#c5c5c5,#c5c5c5)"></i><i style="top:45px;height:5px;background:linear-gradient(90deg,#bfbfbf,#bfbfbf,#bebebe,#bbbbbb,#b8b8b8,#b5b5b5,#b1b1b1,#adadad,#aaaaaa,#a6a6a6,#a2a2a2,#9f9f9f,#9c9c9c,#9a9a9a,#979797,#969696,#959595,#949494,#939393,#939393,#949494,#949494,#959595,#969696,#989898,#9a9a9a,#9c9c9c,#9e9e9e,#a1a1a1,#a3a3a3,#a7a7a7,#aaaaaa,#adadad,#b0b0b0,#b4b4b4,#b7b7b7,#b9b9b9,#bcbcbc,#bebebe,#c0c0c0,#c1c1c1,#c2c2c2,#c3c3c3,#c4c4c4,#c4c4c4,#c5c5c5,#c5c5c5,#c5c5c5,#c5c5c5)"></i><i style="top:50px;height:5px;background:linear-gradient(90deg,#bebebe,#bebebe,#bdbdbd,#bababa,#b7b7b7,#b3b3b3,#afafaf,#ababab,#a7a7a7,#a3a3a3,#9f9f9f,#9c9c9c,#999999,#969696,#939393,#929292,#909090,#909090,#8f8f8f,#8f8f8f,#8f8f8f,#909090,#919191,#929292,#949494,#959595,#979797,#999999,#9c9c9c,#9f9f9f,#a2a2a2,#a5a5a5,#a8a8a8,#acacac,#afafaf,#b3b3b3,#b6b6b6,#b9b9b9,#bbbbbb,#bebebe,#bfbfbf,#c1c1c1,#c2c2c2,#c3c3c3,#c4c4c4,#c4c4c4,#c5c5c5,#c5c5c5,#c5c5c5)"></i><i style="top:55px;height:5px;background:linear-gradient(90deg,#bdbdbd,#bdbdbd,#bcbcbc,#b9b9b9,#b5b5b5,#b1b1b1,#adadad,#a9a9a9,#a4a4a4,#a0a0a0,#9c9c9c,#989898,#959595,#929292,#8f8f8f,#8d8d8d,#8b8b8b,#8b8b8b,#8a8a8a,#8a8a8a,#8b8b8b,#8b8b8b,#8c8c8c,#8d8d8d,#8f8f8f,#919191,#939393,#959595,#989898,#9a9a9a,#9d9d9d,#a0a0a0,#a4a4a4,#a7a7a7,#ababab,#aeaeae,#b2b2b2,#b5b5b5,#b8b8b8,#bbbbbb,#bdbdbd,#bfbfbf,#c1c1c1,#c2c2c2,#c3c3c3,#c4c4c4,#c4c4c4,#c5c5c5,#c5c5c5)"></i><i style="top:60px;height:5px;background:linear-gradient(90deg,#bcbcbc,#bcbcbc,#bbbbbb,#b8b8b8,#b4b4b4,#b0b0b0,#ababab,#a7a7a7,#a2a2a2,#9d9d9d,#999999,#959595,#919191,#8d8d8d,#8a8a8a,#878787,#868686,#858585,#848484,#848484,#858585,#868686,#878787,#888888,#8a8a8a,#8c8c8c,#8e8e8e,#919191,#939393,#969696,#999999,#9c9c9c,#9f9f9f,#a2a2a2,#a6a6a6,#aaaaaa,#aeaeae,#b1b1b1,#b5b5b5,#b8b8b8,#bbbbbb,#bdbdbd,#bfbfbf,#c1c1c1,#c2c2c2,#c3c3c3,#c4c4c4,#c4c4c4,#c4c4c4)"></i><i style="top:65px;height:5px;background:linear-gradient(90deg,#bcbcbc,#bcbcbc,#bababa,#b7b7b7,#b3b3b3,#aeaeae,#a9a9a9,#a4a4a4,#a0a0a0,#9b9b9b,#969696,#919191,#8c8c8c,#888888,#848484,#808080,#7e7e7e,#7d7d7d,#7d7d7d,#7e7e7e,#7e7e7e,#7f7f7f,#818181,#828282,#848484,#878787,#898989,#8c8c8c,#8f8f8f,#929292,#949494,#979797,#9b9b9b,#9e9e9e,#a1a1a1,#a5a5a5,#a9a9a9,#adadad,#b1b1b1,#b5b5b5,#b8b8b8,#bbbbbb,#bebebe,#c0c0c0,#c1c1c1,#c2c2c2,#c3c3c3,#c4c4c4,#c4c4c4)"></i><i style="top:70px;height:5px;background:linear-gradient(90deg,#bbbbbb,#bbbbbb,#b9b9b9,#b5b5b5,#b1b1b1,#acacac,#a7a7a7,#a2a2a2,#9d9d9d,#989898,#939393,#8d8d8d,#878787,#818181,#7c7c7c,#787878,#767676,#757575,#757575,#767676,#777777,#787878,#7a7a7a,#7c7c7c,#7e7e7e,#818181,#848484,#878787,#8a8a8a,#8d8d8d,#909090,#939393,#969696,#9a9a9a,#9d9d9d,#a1a1a1,#a5a5a5,#a9a9a9,#adadad,#b1b1b1,#b5b5b5,#b8b8b8,#bbbbbb,#bebebe,#c0c0c0,#c1c1c1,#c3c3c3,#c3c3c3,#c3c3c3)"></i><i style="top:75px;height:5px;background:linear-gradient(90deg,#bababa,#bababa,#b8b8b8,#b4b4b4,#b0b0b0,#ababab,#a6a6a6,#a1a1a1,#9b9b9b,#969696,#909090,#898989,#828282,#7a7a7a,#737373,#6e6e6e,#6b6b6b,#6b6b6b,#6c6c6c,#6d6d6d,#6e6e6e,#707070,#727272,#747474,#777777,#7a7a7a,#7d7d7d,#818181,#848484,#888888,#8c8c8c,#8f8f8f,#929292,#969696,#999999,#9c9c9c,#a0a0a0,#a4a4a4,#a9a9a9,#adadad,#b1b1b1,#b5b5b5,#b9b9b9,#bcbcbc,#bebebe,#c0c0c0,#c2c2c2,#c2c2c2,#c2c2c2)"></i><i style="top:80px;height:5px;background:linear-gradient(90deg,#b9b9b9,#b9b9b9,#b7b7b7,#b3b3b3,#afafaf,#aaaaaa,#a4a4a4,#9f9f9f,#999999,#939393,#8d8d8d,#858585,#7c7c7c,#727272,#696969,#636363,#606060,#606060,#616161,#636363,#656565,#676767,#696969,#6c6c6c,#6f6f6f,#737373,#767676,#7a7a7a,#7e7e7e,#828282,#868686,#8a8a8a,#8e8e8e,#929292,#959595,#989898,#9c9c9c,#a0a0a0,#a4a4a4,#a9a9a9,#adadad,#b2b2b2,#b6b6b6,#b9b9b9,#bcbcbc,#bfbfbf,#c1c1c1,#c1c1c1,#c1c1c1)"></i><i style="top:85px;height:5px;background:linear-gradient(90deg,#b8b8b8,#b8b8b8,#b7b7b7,#b2b2b2,#adadad,#a8a8a8,#a3a3a3,#9d9d9d,#979797,#919191,#898989,#808080,#767676,#6a6a6a,#5f5f5f,#575757,#535353,#535353,#565656,#585858,#5b5b5b,#5d5d5d,#606060,#646464,#686868,#6c6c6c,#707070,#747474,#787878,#7c7c7c,#818181,#858585,#898989,#8d8d8d,#919191,#959595,#989898,#9c9c9c,#a0a0a0,#a5a5a5,#a9a9a9,#aeaeae,#b2b2b2,#b6b6b6,#bababa,#bdbdbd,#bfbfbf,#c0c0c0,#c0c0c0)"></i><i style="top:90px;height:5px;background:linear-gradient(90deg,#b8b8b8,#b8b8b8,#b6b6b6,#b1b1b1,#acacac,#a7a7a7,#a1a1a1,#9c9c9c,#969696,#8f8f8f,#878787,#7c7c7c,#707070,#626262,#555555,#4b4b4b,#474747,#474747,#4a4a4a,#4d4d4d,#4f4f4f,#525252,#565656,#5b5b5b,#606060,#656565,#696969,#6e6e6e,#727272,#767676,#7a7a7a,#7f7f7f,#848484,#898989,#8d8d8d,#919191,#959595,#989898,#9c9c9c,#a1a1a1,#a5a5a5,#aaaaaa,#afafaf,#b3b3b3,#b7b7b7,#bbbbbb,#bebebe,#bfbfbf,#bfbfbf)"></i><i style="top:95px;height:5px;background:linear-gradient(90deg,#b7b7b7,#b7b7b7,#b5b5b5,#b0b0b0,#ababab,#a6a6a6,#a0a0a0,#9a9a9a,#949494,#8d8d8d,#848484,#797979,#6b6b6b,#5b5b5b,#4c4c4c,#414141,#3c3c3c,#3c3c3c,#3e3e3e,#414141,#434343,#464646,#4b4b4b,#515151,#585858,#5f5f5f,#646464,#686868,#6c6c6c,#707070,#747474,#797979,#7f7f7f,#848484,#898989,#8d8d8d,#919191,#959595,#999999,#9d9d9d,#a2a2a2,#a6a6a6,#ababab,#b0b0b0,#b4b4b4,#b8b8b8,#bcbcbc,#bdbdbd,#bdbdbd)"></i><i style="top:100px;height:5px;background:linear-gradient(90deg,#b7b7b7,#b7b7b7,#b4b4b4,#b0b0b0,#aaaaaa,#a5a5a5,#9f9f9f,#999999,#939393,#8b8b8b,#828282,#767676,#676767,#565656,#464646,#3a3a3a,#333333,#323232,#333333,#353535,#363636,#393939,#3f3f3f,#474747,#505050,#595959,#5f5f5f,#646464,#686868,#6b6b6b,#6f6f6f,#747474,#797979,#7e7e7e,#848484,#898989,#8e8e8e,#929292,#969696,#9a9a9a,#9e9e9e,#a3a3a3,#a8a8a8,#adadad,#b1b1b1,#b6b6b6,#bababa,#bbbbbb,#bbbbbb)"></i><i style="top:105px;height:5px;background:linear-gradient(90deg,#b6b6b6,#b6b6b6,#b4b4b4,#afafaf,#aaaaaa,#a4a4a4,#9e9e9e,#989898,#929292,#8a8a8a,#818181,#747474,#656565,#535353,#434343,#363636,#2e2e2e,#2b2b2b,#2a2a2a,#292929,#292929,#2c2c2c,#323232,#3d3d3d,#494949,#535353,#5b5b5b,#606060,#646464,#676767,#6a6a6a,#6e6e6e,#737373,#797979,#7f7f7f,#848484,#8a8a8a,#8e8e8e,#939393,#979797,#9b9b9b,#9f9f9f,#a4a4a4,#a9a9a9,#aeaeae,#b3b3b3,#b7b7b7,#b9b9b9,#b9b9b9)"></i><i style="top:110px;height:5px;background:linear-gradient(90deg,#b6b6b6,#b6b6b6,#b3b3b3,#aeaeae,#a9a9a9,#a3a3a3,#9d9d9d,#979797,#919191,#898989,#808080,#747474,#646464,#535353,#434343,#353535,#2c2c2c,#272727,#242424,#202020,#1e1e1e,#1f1f1f,#262626,#333333,#414141,#4e4e4e,#585858,#5e5e5e,#616161,#646464,#676767,#6a6a6a,#6e6e6e,#737373,#797979,#808080,#858585,#8b8b8b,#8f8f8f,#949494,#989898,#9c9c9c,#a1a1a1,#a6a6a6,#ababab,#b0b0b0,#b5b5b5,#b7b7b7,#b7b7b7)"></i><i style="top:115px;height:5px;background:linear-gradient(90deg,#b5b5b5,#b5b5b5,#b3b3b3,#aeaeae,#a8a8a8,#a2a2a2,#9d9d9d,#979797,#909090,#898989,#808080,#747474,#666666,#555555,#464646,#383838,#2f2f2f,#272727,#212121,#1a1a1a,#151515,#151515,#1c1c1c,#2a2a2a,#3b3b3b,#4a4a4a,#555555,#5c5c5c,#5f5f5f,#626262,#646464,#666666,#6a6a6a,#6e6e6e,#747474,#7a7a7a,#818181,#878787,#8c8c8c,#919191,#959595,#999999,#9e9e9e,#a3a3a3,#a8a8a8,#aeaeae,#b3b3b3,#b5b5b5,#b5b5b5)"></i><i style="top:120px;height:5px;background:linear-gradient(90deg,#b5b5b5,#b5b5b5,#b3b3b3,#adadad,#a8a8a8,#a2a2a2,#9c9c9c,#969696,#909090,#898989,#808080,#757575,#686868,#595959,#4a4a4a,#3e3e3e,#343434,#2b2b2b,#212121,#171717,#0f0f0f,#0e0e0e,#151515,#252525,#373737,#474747,#535353,#5a5a5a,#5e5e5e,#606060,#616161,#636363,#666666,#6a6a6a,#6f6f6f,#757575,#7c7c7c,#838383,#898989,#8e8e8e,#929292,#979797,#9b9b9b,#a0a0a0,#a5a5a5,#ababab,#b0b0b0,#b2b2b2,#b2b2b2)"></i><i style="top:125px;height:5px;background:linear-gradient(90deg,#b5b5b5,#b5b5b5,#b2b2b2,#adadad,#a7a7a7,#a1a1a1,#9b9b9b,#959595,#8f8f8f,#898989,#808080,#767676,#6a6a6a,#5d5d5d,#505050,#454545,#3b3b3b,#303030,#252525,#191919,#0f0f0f,#0c0c0c,#131313,#222222,#353535,#464646,#525252,#595959,#5c5c5c,#5e5e5e,#5e5e5e,#606060,#626262,#656565,#6a6a6a,#707070,#777777,#7e7e7e,#858585,#8b8b8b,#909090,#949494,#999999,#9e9e9e,#a3a3a3,#a8a8a8,#aeaeae,#b0b0b0,#b0b0b0)"></i><i style="top:130px;height:5px;background:linear-gradient(90deg,#b4b4b4,#b4b4b4,#b2b2b2,#acacac,#a7a7a7,#a1a1a1,#9b9b9b,#959595,#8f8f8f,#898989,#818181,#787878,#6d6d6d,#626262,#575757,#4c4c4c,#424242,#383838,#2b2b2b,#1e1e1e,#131313,#0f0f0f,#151515,#242424,#363636,#474747,#535353,#5a5a5a,#5b5b5b,#5b5b5b,#5b5b5b,#5c5c5c,#5e5e5e,#616161,#666666,#6c6c6c,#737373,#7a7a7a,#818181,#888888,#8d8d8d,#929292,#979797,#9b9b9b,#a0a0a0,#a6a6a6,#ababab,#aeaeae,#aeaeae)"></i><i style="top:135px;height:5px;background:linear-gradient(90deg,#b4b4b4,#b4b4b4,#b1b1b1,#acacac,#a6a6a6,#a0a0a0,#9a9a9a,#949494,#8f8f8f,#888888,#828282,#797979,#707070,#666666,#5c5c5c,#535353,#4a4a4a,#404040,#333333,#262626,#1b1b1b,#171717,#1c1c1c,#292929,#3a3a3a,#4b4b4b,#575757,#5c5c5c,#5b5b5b,#585858,#575757,#575757,#585858,#5c5c5c,#616161,#676767,#6e6e6e,#767676,#7d7d7d,#848484,#8a8a8a,#909090,#949494,#999999,#9e9e9e,#a3a3a3,#a9a9a9,#acacac,#acacac)"></i><i style="top:140px;height:5px;background:linear-gradient(90deg,#b3b3b3,#b3b3b3,#b0b0b0,#ababab,#a5a5a5,#9f9f9f,#999999,#939393,#8e8e8e,#888888,#828282,#7b7b7b,#727272,#6a6a6a,#616161,#595959,#515151,#474747,#3c3c3c,#303030,#262626,#222222,#252525,#303030,#404040,#515151,#5e5e5e,#606060,#5b5b5b,#545454,#515151,#505050,#515151,#565656,#5c5c5c,#636363,#6a6a6a,#727272,#7a7a7a,#818181,#888888,#8d8d8d,#929292,#979797,#9c9c9c,#a1a1a1,#a7a7a7,#aaaaaa,#aaaaaa)"></i><i style="top:145px;height:5px;background:linear-gradient(90deg,#b2b2b2,#b2b2b2,#afafaf,#aaaaaa,#a4a4a4,#9e9e9e,#989898,#929292,#8d8d8d,#888888,#828282,#7c7c7c,#747474,#6c6c6c,#656565,#5e5e5e,#575757,#4e4e4e,#454545,#3a3a3a,#313131,#2e2e2e,#313131,#3a3a3a,#474747,#585858,#666666,#656565,#5a5a5a,#4f4f4f,#494949,#474747,#494949,#4e4e4e,#555555,#5e5e5e,#666666,#6e6e6e,#767676,#7e7e7e,#858585,#8b8b8b,#909090,#959595,#9a9a9a,#a0a0a0,#a5a5a5,#a8a8a8,#a8a8a8)"></i><i style="top:150px;height:5px;background:linear-gradient(90deg,#b1b1b1,#b1b1b1,#aeaeae,#a8a8a8,#a2a2a2,#9c9c9c,#969696,#909090,#8c8c8c,#878787,#828282,#7c7c7c,#767676,#6f6f6f,#686868,#626262,#5b5b5b,#545454,#4c4c4c,#444444,#3d3d3d,#3a3a3a,#3c3c3c,#434343,#4e4e4e,#5f5f5f,#6b6b6b,#686868,#575757,#494949,#404040,#3c3c3c,#3e3e3e,#454545,#4e4e4e,#585858,#626262,#6a6a6a,#737373,#7b7b7b,#828282,#898989,#8f8f8f,#949494,#999999,#9e9e9e,#a3a3a3,#a6a6a6,#a6a6a6)"></i><i style="top:155px;height:5px;background:linear-gradient(90deg,#afafaf,#afafaf,#acacac,#a6a6a6,#a0a0a0,#9a9a9a,#949494,#8e8e8e,#8a8a8a,#858585,#818181,#7c7c7c,#777777,#717171,#6a6a6a,#656565,#5f5f5f,#595959,#535353,#4d4d4d,#474747,#454545,#464646,#4b4b4b,#545454,#616161,#6b6b6b,#656565,#525252,#404040,#353535,#303030,#323232,#3b3b3b,#464646,#535353,#5e5e5e,#676767,#707070,#787878,#808080,#878787,#8d8d8d,#929292,#979797,#9d9d9d,#a2a2a2,#a5a5a5,#a5a5a5)"></i><i style="top:160px;height:5px;background:linear-gradient(90deg,#adadad,#adadad,#aaaaaa,#a4a4a4,#9e9e9e,#979797,#919191,#8c8c8c,#888888,#848484,#808080,#7c7c7c,#787878,#727272,#6d6d6d,#676767,#626262,#5d5d5d,#585858,#545454,#505050,#4e4e4e,#4e4e4e,#525252,#585858,#626262,#676767,#5e5e5e,#4b4b4b,#383838,#2a2a2a,#242424,#262626,#303030,#3e3e3e,#4d4d4d,#595959,#646464,#6d6d6d,#757575,#7d7d7d,#858585,#8b8b8b,#919191,#969696,#9b9b9b,#a1a1a1,#a4a4a4,#a4a4a4)"></i><i style="top:165px;height:5px;background:linear-gradient(90deg,#aaaaaa,#aaaaaa,#a7a7a7,#a1a1a1,#9b9b9b,#949494,#8e8e8e,#898989,#858585,#828282,#7f7f7f,#7c7c7c,#787878,#747474,#6f6f6f,#6a6a6a,#656565,#606060,#5c5c5c,#595959,#565656,#555555,#555555,#575757,#5c5c5c,#626262,#626262,#565656,#434343,#303030,#212121,#191919,#1b1b1b,#262626,#363636,#474747,#555555,#606060,#6a6a6a,#737373,#7b7b7b,#838383,#8a8a8a,#909090,#959595,#9a9a9a,#a0a0a0,#a3a3a3,#a3a3a3)"></i><i style="top:170px;height:5px;background:linear-gradient(90deg,#a7a7a7,#a7a7a7,#a4a4a4,#9e9e9e,#979797,#919191,#8b8b8b,#868686,#828282,#7f7f7f,#7d7d7d,#7b7b7b,#787878,#757575,#717171,#6c6c6c,#676767,#636363,#606060,#5d5d5d,#5b5b5b,#595959,#5a5a5a,#5d5d5d,#646464,#686868,#606060,#515151,#3e3e3e,#2a2a2a,#1a1a1a,#111111,#131313,#1f1f1f,#303030,#414141,#515151,#5d5d5d,#676767,#707070,#797979,#818181,#888888,#8f8f8f,#949494,#9a9a9a,#9f9f9f,#a2a2a2,#a2a2a2)"></i><i style="top:175px;height:5px;background:linear-gradient(90deg,#a3a3a3,#a3a3a3,#a0a0a0,#9a9a9a,#939393,#8d8d8d,#878787,#828282,#7f7f7f,#7c7c7c,#7b7b7b,#7a7a7a,#787878,#767676,#737373,#6f6f6f,#6a6a6a,#666666,#636363,#606060,#5e5e5e,#5d5d5d,#5e5e5e,#666666,#737373,#747474,#636363,#4f4f4f,#3c3c3c,#282828,#171717,#0d0d0d,#0f0f0f,#1a1a1a,#2b2b2b,#3d3d3d,#4c4c4c,#595959,#636363,#6d6d6d,#777777,#808080,#878787,#8e8e8e,#939393,#999999,#9e9e9e,#a1a1a1,#a1a1a1)"></i><i style="top:180px;height:5px;background:linear-gradient(90deg,#9f9f9f,#9f9f9f,#9c9c9c,#959595,#8f8f8f,#898989,#838383,#7e7e7e,#7b7b7b,#797979,#787878,#787878,#787878,#777777,#757575,#727272,#6e6e6e,#696969,#666666,#636363,#616161,#606060,#656565,#767676,#8c8c8c,#858585,#676767,#4f4f4f,#3c3c3c,#2a2a2a,#191919,#0f0f0f,#0f0f0f,#191919,#282828,#393939,#474747,#545454,#5f5f5f,#6a6a6a,#757575,#7e7e7e,#868686,#8d8d8d,#939393,#999999,#9e9e9e,#a1a1a1,#a1a1a1)"></i><i style="top:185px;height:5px;background:linear-gradient(90deg,#9b9b9b,#9b9b9b,#979797,#919191,#8a8a8a,#848484,#7f7f7f,#7a7a7a,#787878,#767676,#767676,#777777,#787878,#787878,#777777,#757575,#717171,#6d6d6d,#696969,#666666,#646464,#646464,#707070,#929292,#adadad,#959595,#6a6a6a,#505050,#3f3f3f,#2e2e2e,#1e1e1e,#151515,#141414,#1c1c1c,#282828,#363636,#424242,#4e4e4e,#5b5b5b,#676767,#727272,#7d7d7d,#858585,#8d8d8d,#939393,#989898,#9e9e9e,#a1a1a1,#a1a1a1)"></i><i style="top:190px;height:5px;background:linear-gradient(90deg,#969696,#969696,#929292,#8b8b8b,#858585,#7f7f7f,#7a7a7a,#767676,#747474,#737373,#747474,#757575,#777777,#787878,#797979,#787878,#757575,#717171,#6d6d6d,#696969,#676767,#6a6a6a,#828282,#b7b7b7,#cdcdcd,#9e9e9e,#6a6a6a,#535353,#444444,#353535,#272727,#1e1e1e,#1d1d1d,#222222,#2b2b2b,#343434,#3e3e3e,#494949,#565656,#636363,#707070,#7c7c7c,#858585,#8c8c8c,#939393,#989898,#9e9e9e,#a1a1a1,#a1a1a1)"></i><i style="top:195px;height:5px;background:linear-gradient(90deg,#919191,#919191,#8d8d8d,#868686,#808080,#7a7a7a,#767676,#737373,#717171,#717171,#727272,#747474,#777777,#797979,#7a7a7a,#7a7a7a,#797979,#767676,#727272,#6e6e6e,#6b6b6b,#737373,#9c9c9c,#dbdbdb,#dcdcdc,#9a9a9a,#686868,#555555,#4a4a4a,#3e3e3e,#323232,#2a2a2a,#282828,#2a2a2a,#2f2f2f,#343434,#3b3b3b,#454545,#515151,#606060,#6e6e6e,#7b7b7b,#858585,#8c8c8c,#939393,#999999,#9e9e9e,#a1a1a1,#a1a1a1)"></i><i style="top:200px;height:5px;background:linear-gradient(90deg,#8c8c8c,#8c8c8c,#888888,#818181,#7a7a7a,#757575,#717171,#6f6f6f,#6e6e6e,#6f6f6f,#717171,#747474,#777777,#7a7a7a,#7c7c7c,#7d7d7d,#7c7c7c,#7a7a7a,#777777,#737373,#717171,#7f7f7f,#b5b5b5,#eeeeee,#d4d4d4,#8d8d8d,#666666,#595959,#505050,#474747,#3e3e3e,#373737,#343434,#343434,#353535,#373737,#3a3a3a,#424242,#4f4f4f,#5e5e5e,#6d6d6d,#7a7a7a,#858585,#8d8d8d,#939393,#999999,#9f9f9f,#a1a1a1,#a1a1a1)"></i><i style="top:205px;height:5px;background:linear-gradient(90deg,#878787,#878787,#838383,#7c7c7c,#757575,#717171,#6d6d6d,#6c6c6c,#6c6c6c,#6e6e6e,#707070,#747474,#777777,#7b7b7b,#7e7e7e,#808080,#808080,#7f7f7f,#7c7c7c,#787878,#787878,#8c8c8c,#c3c3c3,#e7e7e7,#bbbbbb,#7f7f7f,#656565,#5d5d5d,#575757,#505050,#494949,#444444,#404040,#3e3e3e,#3d3d3d,#3b3b3b,#3c3c3c,#434343,#4e4e4e,#5e5e5e,#6d6d6d,#7b7b7b,#858585,#8e8e8e,#949494,#9a9a9a,#9f9f9f,#a2a2a2,#a2a2a2)"></i><i style="top:210px;height:5px;background:linear-gradient(90deg,#828282,#828282,#7e7e7e,#777777,#717171,#6c6c6c,#6a6a6a,#696969,#6a6a6a,#6d6d6d,#707070,#747474,#797979,#7d7d7d,#808080,#828282,#838383,#838383,#818181,#7e7e7e,#808080,#969696,#c3c3c3,#cdcdcd,#9e9e9e,#757575,#666666,#616161,#5d5d5d,#585858,#535353,#4f4f4f,#4c4c4c,#494949,#464646,#424242,#424242,#464646,#515151,#606060,#6f6f6f,#7c7c7c,#878787,#8f8f8f,#959595,#9b9b9b,#a0a0a0,#a3a3a3,#a3a3a3)"></i><i style="top:215px;height:5px;background:linear-gradient(90deg,#7d7d7d,#7d7d7d,#797979,#727272,#6d6d6d,#696969,#676767,#676767,#696969,#6c6c6c,#717171,#767676,#7a7a7a,#7f7f7f,#828282,#858585,#868686,#878787,#858585,#848484,#868686,#9a9a9a,#b5b5b5,#aeaeae,#898989,#727272,#6a6a6a,#666666,#636363,#5f5f5f,#5c5c5c,#595959,#565656,#535353,#4f4f4f,#4c4c4c,#4a4a4a,#4e4e4e,#575757,#646464,#727272,#7f7f7f,#888888,#909090,#969696,#9c9c9c,#a1a1a1,#a4a4a4,#a4a4a4)"></i><i style="top:220px;height:5px;background:linear-gradient(90deg,#787878,#787878,#757575,#6e6e6e,#696969,#666666,#656565,#666666,#686868,#6d6d6d,#727272,#787878,#7d7d7d,#828282,#858585,#888888,#8a8a8a,#8a8a8a,#8a8a8a,#898989,#8c8c8c,#999999,#a4a4a4,#979797,#808080,#747474,#6f6f6f,#6c6c6c,#696969,#666666,#636363,#616161,#5f5f5f,#5d5d5d,#5a5a5a,#565656,#555555,#575757,#5f5f5f,#6a6a6a,#777777,#828282,#8b8b8b,#929292,#989898,#9d9d9d,#a3a3a3,#a5a5a5,#a5a5a5)"></i><i style="top:225px;height:5px;background:linear-gradient(90deg,#747474,#747474,#717171,#6a6a6a,#666666,#636363,#636363,#656565,#686868,#6e6e6e,#747474,#7a7a7a,#808080,#858585,#898989,#8c8c8c,#8e8e8e,#8e8e8e,#8e8e8e,#8d8d8d,#8f8f8f,#969696,#979797,#8c8c8c,#7f7f7f,#797979,#757575,#727272,#6f6f6f,#6d6d6d,#6b6b6b,#696969,#686868,#666666,#646464,#616161,#606060,#626262,#696969,#727272,#7c7c7c,#858585,#8d8d8d,#949494,#9a9a9a,#9f9f9f,#a4a4a4,#a7a7a7,#a7a7a7)"></i><i style="top:230px;height:5px;background:linear-gradient(90deg,#707070,#707070,#6d6d6d,#676767,#636363,#616161,#616161,#646464,#696969,#6f6f6f,#767676,#7d7d7d,#838383,#898989,#8d8d8d,#909090,#929292,#929292,#929292,#919191,#929292,#949494,#919191,#8a8a8a,#838383,#7f7f7f,#7b7b7b,#797979,#767676,#747474,#727272,#717171,#707070,#6f6f6f,#6d6d6d,#6c6c6c,#6b6b6b,#6d6d6d,#727272,#7a7a7a,#828282,#898989,#909090,#969696,#9b9b9b,#a1a1a1,#a6a6a6,#a8a8a8,#a8a8a8)"></i><i style="top:235px;height:5px;background:linear-gradient(90deg,#6d6d6d,#6d6d6d,#696969,#646464,#616161,#606060,#616161,#646464,#696969,#707070,#787878,#7f7f7f,#868686,#8c8c8c,#919191,#949494,#969696,#979797,#969696,#959595,#959595,#949494,#919191,#8c8c8c,#888888,#858585,#828282,#7f7f7f,#7d7d7d,#7b7b7b,#797979,#787878,#777777,#777777,#767676,#757575,#767676,#777777,#7b7b7b,#818181,#878787,#8d8d8d,#939393,#989898,#9d9d9d,#a2a2a2,#a7a7a7,#aaaaaa,#aaaaaa)"></i><i style="top:240px;height:5px;background:linear-gradient(90deg,#696969,#696969,#666666,#626262,#5f5f5f,#5e5e5e,#606060,#646464,#6a6a6a,#727272,#7a7a7a,#828282,#8a8a8a,#909090,#959595,#989898,#9a9a9a,#9b9b9b,#9b9b9b,#9a9a9a,#989898,#979797,#949494,#919191,#8e8e8e,#8b8b8b,#888888,#868686,#838383,#818181,#808080,#7f7f7f,#7e7e7e,#7e7e7e,#7e7e7e,#7e7e7e,#7e7e7e,#808080,#838383,#878787,#8c8c8c,#919191,#969696,#9b9b9b,#a0a0a0,#a4a4a4,#a9a9a9,#acacac,#acacac)"></i><i style="top:245px;height:5px;background:linear-gradient(90deg,#666666,#666666,#636363,#5f5f5f,#5d5d5d,#5e5e5e,#606060,#656565,#6c6c6c,#737373,#7c7c7c,#858585,#8d8d8d,#949494,#999999,#9d9d9d,#9f9f9f,#a0a0a0,#9f9f9f,#9e9e9e,#9d9d9d,#9a9a9a,#989898,#959595,#939393,#909090,#8e8e8e,#8b8b8b,#898989,#888888,#868686,#858585,#858585,#848484,#848484,#858585,#868686,#878787,#8a8a8a,#8d8d8d,#919191,#959595,#999999,#9d9d9d,#a2a2a2,#a6a6a6,#ababab,#adadad,#adadad)"></i><i style="top:250px;height:5px;background:linear-gradient(90deg,#636363,#636363,#616161,#5d5d5d,#5c5c5c,#5d5d5d,#606060,#666666,#6d6d6d,#757575,#7e7e7e,#878787,#909090,#979797,#9d9d9d,#a1a1a1,#a3a3a3,#a4a4a4,#a4a4a4,#a3a3a3,#a1a1a1,#9f9f9f,#9c9c9c,#9a9a9a,#979797,#959595,#939393,#909090,#8f8f8f,#8d8d8d,#8c8c8c,#8b8b8b,#8a8a8a,#8a8a8a,#8a8a8a,#8b8b8b,#8b8b8b,#8d8d8d,#8f8f8f,#929292,#959595,#989898,#9c9c9c,#a0a0a0,#a4a4a4,#a9a9a9,#adadad,#afafaf,#afafaf)"></i><i style="top:255px;height:5px;background:linear-gradient(90deg,#606060,#606060,#5e5e5e,#5b5b5b,#5b5b5b,#5c5c5c,#606060,#666666,#6e6e6e,#777777,#808080,#898989,#929292,#999999,#a0a0a0,#a4a4a4,#a7a7a7,#a8a8a8,#a9a9a9,#a8a8a8,#a6a6a6,#a4a4a4,#a1a1a1,#9f9f9f,#9c9c9c,#9a9a9a,#979797,#959595,#939393,#929292,#919191,#909090,#8f8f8f,#8f8f8f,#8f8f8f,#909090,#909090,#929292,#949494,#969696,#999999,#9c9c9c,#9f9f9f,#a3a3a3,#a7a7a7,#ababab,#afafaf,#b1b1b1,#b1b1b1)"></i><i style="top:260px;height:5px;background:linear-gradient(90deg,#5e5e5e,#5e5e5e,#5c5c5c,#5a5a5a,#5a5a5a,#5c5c5c,#616161,#676767,#6f6f6f,#787878,#828282,#8b8b8b,#949494,#9c9c9c,#a2a2a2,#a7a7a7,#aaaaaa,#acacac,#adadad,#acacac,#ababab,#a9a9a9,#a6a6a6,#a3a3a3,#a1a1a1,#9e9e9e,#9c9c9c,#9a9a9a,#989898,#979797,#959595,#949494,#949494,#949494,#949494,#949494,#959595,#969696,#989898,#9a9a9a,#9c9c9c,#9f9f9f,#a2a2a2,#a6a6a6,#aaaaaa,#adadad,#b1b1b1,#b3b3b3,#b3b3b3)"></i><i style="top:265px;height:5px;background:linear-gradient(90deg,#5b5b5b,#5b5b5b,#5a5a5a,#585858,#595959,#5c5c5c,#616161,#686868,#707070,#797979,#838383,#8d8d8d,#969696,#9e9e9e,#a4a4a4,#a9a9a9,#adadad,#afafaf,#b0b0b0,#b0b0b0,#afafaf,#adadad,#ababab,#a8a8a8,#a6a6a6,#a3a3a3,#a1a1a1,#9f9f9f,#9d9d9d,#9b9b9b,#9a9a9a,#999999,#989898,#989898,#989898,#989898,#999999,#9a9a9a,#9c9c9c,#9e9e9e,#a0a0a0,#a3a3a3,#a6a6a6,#a9a9a9,#acacac,#b0b0b0,#b3b3b3,#b5b5b5,#b5b5b5)"></i><i style="top:270px;height:5px;background:linear-gradient(90deg,#595959,#595959,#585858,#575757,#585858,#5b5b5b,#616161,#686868,#717171,#7a7a7a,#848484,#8e8e8e,#979797,#9f9f9f,#a6a6a6,#ababab,#afafaf,#b2b2b2,#b3b3b3,#b4b4b4,#b3b3b3,#b2b2b2,#b0b0b0,#adadad,#ababab,#a8a8a8,#a6a6a6,#a4a4a4,#a2a2a2,#a0a0a0,#9e9e9e,#9d9d9d,#9d9d9d,#9c9c9c,#9c9c9c,#9c9c9c,#9d9d9d,#9e9e9e,#a0a0a0,#a1a1a1,#a3a3a3,#a6a6a6,#a9a9a9,#acacac,#afafaf,#b2b2b2,#b5b5b5,#b7b7b7,#b7b7b7)"></i><i style="top:275px;height:5px;background:linear-gradient(90deg,#585858,#585858,#575757,#565656,#575757,#5b5b5b,#616161,#696969,#727272,#7b7b7b,#858585,#8f8f8f,#989898,#a0a0a0,#a7a7a7,#adadad,#b1b1b1,#b4b4b4,#b6b6b6,#b7b7b7,#b6b6b6,#b5b5b5,#b4b4b4,#b2b2b2,#b0b0b0,#adadad,#ababab,#a9a9a9,#a7a7a7,#a5a5a5,#a3a3a3,#a2a2a2,#a1a1a1,#a1a1a1,#a1a1a1,#a1a1a1,#a1a1a1,#a2a2a2,#a4a4a4,#a5a5a5,#a7a7a7,#a9a9a9,#acacac,#afafaf,#b2b2b2,#b5b5b5,#b7b7b7,#b9b9b9,#b9b9b9)"></i><i style="top:280px;height:5px;background:linear-gradient(90deg,#565656,#565656,#555555,#555555,#575757,#5b5b5b,#616161,#696969,#727272,#7c7c7c,#868686,#909090,#999999,#a1a1a1,#a8a8a8,#aeaeae,#b3b3b3,#b6b6b6,#b8b8b8,#b9b9b9,#b9b9b9,#b9b9b9,#b7b7b7,#b6b6b6,#b4b4b4,#b2b2b2,#b0b0b0,#adadad,#ababab,#aaaaaa,#a8a8a8,#a7a7a7,#a6a6a6,#a5a5a5,#a5a5a5,#a5a5a5,#a6a6a6,#a6a6a6,#a8a8a8,#a9a9a9,#ababab,#adadad,#afafaf,#b2b2b2,#b4b4b4,#b7b7b7,#b9b9b9,#bababa,#bababa)"></i><i style="top:285px;height:5px;background:linear-gradient(90deg,#565656,#565656,#555555,#555555,#575757,#5c5c5c,#626262,#6a6a6a,#737373,#7d7d7d,#878787,#919191,#9a9a9a,#a2a2a2,#a9a9a9,#afafaf,#b4b4b4,#b7b7b7,#b9b9b9,#bbbbbb,#bbbbbb,#bbbbbb,#bababa,#b9b9b9,#b8b8b8,#b6b6b6,#b4b4b4,#b2b2b2,#b0b0b0,#afafaf,#adadad,#acacac,#ababab,#aaaaaa,#aaaaaa,#aaaaaa,#aaaaaa,#ababab,#acacac,#adadad,#afafaf,#b0b0b0,#b2b2b2,#b5b5b5,#b7b7b7,#b9b9b9,#bbbbbb,#bcbcbc,#bcbcbc)"></i><i style="top:290px;height:5px;background:linear-gradient(90deg,#565656,#565656,#555555,#555555,#575757,#5c5c5c,#636363,#6b6b6b,#747474,#7e7e7e,#888888,#929292,#9b9b9b,#a3a3a3,#aaaaaa,#b0b0b0,#b5b5b5,#b8b8b8,#bbbbbb,#bcbcbc,#bdbdbd,#bdbdbd,#bdbdbd,#bcbcbc,#bbbbbb,#b9b9b9,#b8b8b8,#b6b6b6,#b5b5b5,#b3b3b3,#b2b2b2,#b0b0b0,#afafaf,#afafaf,#aeaeae,#aeaeae,#aeaeae,#afafaf,#b0b0b0,#b1b1b1,#b2b2b2,#b4b4b4,#b5b5b5,#b7b7b7,#b9b9b9,#bbbbbb,#bdbdbd,#bebebe,#bebebe)"></i><i style="top:295px;height:5px;background:linear-gradient(90deg,#565656,#565656,#555555,#565656,#585858,#5d5d5d,#646464,#6c6c6c,#757575,#7f7f7f,#898989,#939393,#9c9c9c,#a4a4a4,#ababab,#b1b1b1,#b5b5b5,#b9b9b9,#bcbcbc,#bdbdbd,#bebebe,#bfbfbf,#bfbfbf,#bebebe,#bdbdbd,#bcbcbc,#bbbbbb,#bababa,#b8b8b8,#b7b7b7,#b6b6b6,#b5b5b5,#b4b4b4,#b3b3b3,#b3b3b3,#b2b2b2,#b2b2b2,#b3b3b3,#b4b4b4,#b4b4b4,#b6b6b6,#b7b7b7,#b8b8b8,#bababa,#bbbbbb,#bdbdbd,#bebebe,#bfbfbf,#bfbfbf)"></i><i style="top:300px;height:5px;background:linear-gradient(90deg,#575757,#575757,#575757,#575757,#5a5a5a,#5f5f5f,#656565,#6e6e6e,#777777,#818181,#8a8a8a,#949494,#9d9d9d,#a5a5a5,#acacac,#b1b1b1,#b6b6b6,#bababa,#bcbcbc,#bebebe,#bfbfbf,#c0c0c0,#c0c0c0,#c0c0c0,#c0c0c0,#bfbfbf,#bebebe,#bdbdbd,#bcbcbc,#bababa,#b9b9b9,#b8b8b8,#b8b8b8,#b7b7b7,#b6b6b6,#b6b6b6,#b6b6b6,#b6b6b6,#b7b7b7,#b8b8b8,#b9b9b9,#bababa,#bbbbbb,#bcbcbc,#bdbdbd,#bebebe,#c0c0c0,#c0c0c0,#c0c0c0)"></i><i style="top:305px;height:5px;background:linear-gradient(90deg,#575757,#575757,#575757,#575757,#5a5a5a,#5f5f5f,#666666,#6e6e6e,#777777,#818181,#8b8b8b,#949494,#9d9d9d,#a5a5a5,#acacac,#b1b1b1,#b6b6b6,#bababa,#bdbdbd,#bebebe,#c0c0c0,#c0c0c0,#c1c1c1,#c0c0c0,#c0c0c0,#bfbfbf,#bebebe,#bdbdbd,#bcbcbc,#bbbbbb,#bababa,#b9b9b9,#b8b8b8,#b8b8b8,#b7b7b7,#b7b7b7,#b7b7b7,#b7b7b7,#b8b8b8,#b8b8b8,#b9b9b9,#bababa,#bbbbbb,#bcbcbc,#bebebe,#bfbfbf,#c0c0c0,#c0c0c0,#c0c0c0)"></i><i style="top:310px;height:5px;background:linear-gradient(90deg,#575757,#575757,#575757,#575757,#5a5a5a,#5f5f5f,#666666,#6e6e6e,#777777,#818181,#8b8b8b,#949494,#9d9d9d,#a5a5a5,#acacac,#b1b1b1,#b6b6b6,#bababa,#bdbdbd,#bebebe,#c0c0c0,#c0c0c0,#c1c1c1,#c0c0c0,#c0c0c0,#bfbfbf,#bebebe,#bdbdbd,#bcbcbc,#bbbbbb,#bababa,#b9b9b9,#b8b8b8,#b8b8b8,#b7b7b7,#b7b7b7,#b7b7b7,#b7b7b7,#b8b8b8,#b8b8b8,#b9b9b9,#bababa,#bbbbbb,#bcbcbc,#bebebe,#bfbfbf,#c0c0c0,#c0c0c0,#c0c0c0)"></i><i style="top:315px;height:5px;background:linear-gradient(90deg,#575757,#575757,#575757,#575757,#5a5a5a,#5f5f5f,#666666,#6e6e6e,#777777,#818181,#8b8b8b,#949494,#9d9d9d,#a5a5a5,#acacac,#b1b1b1,#b6b6b6,#bababa,#bdbdbd,#bebebe,#c0c0c0,#c0c0c0,#c1c1c1,#c0c0c0,#c0c0c0,#bfbfbf,#bebebe,#bdbdbd,#bcbcbc,#bbbbbb,#bababa,#b9b9b9,#b8b8b8,#b8b8b8,#b7b7b7,#b7b7b7,#b7b7b7,#b7b7b7,#b8b8b8,#b8b8b8,#b9b9b9,#bababa,#bbbbbb,#bcbcbc,#bebebe,#bfbfbf,#c0c0c0,#c0c0c0,#c0c0c0)"></i></div></div><div style="position:absolute;left:880px;top:17.5px;width:361px;height:291px;overflow:hidden"><div style="position:absolute;left:-12px;top:-12px;width:385px;height:315px;filter:blur(3px)"><i style="top:0px;height:5px;background:linear-gradient(90deg,#a8a8a8,#a8a8a8,#a8a8a8,#a8a8a8,#a8a8a8,#a8a8a8,#a8a8a8,#a8a8a8,#a8a8a8,#a7a7a7,#a7a7a7,#a7a7a7,#a7a7a7,#a7a7a7,#a7a7a7,#a8a8a8,#a8a8a8,#a8a8a8,#a9a9a9,#aaaaaa,#aaaaaa,#ababab,#ababab,#acacac,#acacac,#adadad,#adadad,#adadad,#aeaeae,#aeaeae,#aeaeae,#afafaf,#afafaf,#afafaf,#afafaf,#afafaf,#b0b0b0,#b0b0b0,#b0b0b0,#b0b0b0,#b1b1b1,#b1b1b1,#b1b1b1,#b1b1b1,#b1b1b1,#b2b2b2,#b2b2b2,#b2b2b2,#b2b2b2)"></i><i style="top:5px;height:5px;background:linear-gradient(90deg,#a8a8a8,#a8a8a8,#a8a8a8,#a8a8a8,#a8a8a8,#a8a8a8,#a8a8a8,#a8a8a8,#a8a8a8,#a7a7a7,#a7a7a7,#a7a7a7,#a7a7a7,#a7a7a7,#a7a7a7,#a8a8a8,#a8a8a8,#a8a8a8,#a9a9a9,#aaaaaa,#aaaaaa,#ababab,#ababab,#acacac,#acacac,#adadad,#adadad,#adadad,#aeaeae,#aeaeae,#aeaeae,#afafaf,#afafaf,#afafaf,#afafaf,#afafaf,#b0b0b0,#b0b0b0,#b0b0b0,#b0b0b0,#b1b1b1,#b1b1b1,#b1b1b1,#b1b1b1,#b1b1b1,#b2b2b2,#b2b2b2,#b2b2b2,#b2b2b2)"></i><i style="top:10px;height:5px;background:linear-gradient(90deg,#a8a8a8,#a8a8a8,#a8a8a8,#a8a8a8,#a8a8a8,#a8a8a8,#a8a8a8,#a8a8a8,#a8a8a8,#a7a7a7,#a7a7a7,#a7a7a7,#a7a7a7,#a7a7a7,#a7a7a7,#a8a8a8,#a8a8a8,#a8a8a8,#a9a9a9,#aaaaaa,#aaaaaa,#ababab,#ababab,#acacac,#acacac,#adadad,#adadad,#adadad,#aeaeae,#aeaeae,#aeaeae,#afafaf,#afafaf,#afafaf,#afafaf,#afafaf,#b0b0b0,#b0b0b0,#b0b0b0,#b0b0b0,#b1b1b1,#b1b1b1,#b1b1b1,#b1b1b1,#b1b1b1,#b2b2b2,#b2b2b2,#b2b2b2,#b2b2b2)"></i><i style="top:15px;height:5px;background:linear-gradient(90deg,#a8a8a8,#a8a8a8,#a8a8a8,#a8a8a8,#a8a8a8,#a8a8a8,#a8a8a8,#a8a8a8,#a7a7a7,#a7a7a7,#a6a6a6,#a6a6a6,#a6a6a6,#a5a5a5,#a6a6a6,#a6a6a6,#a6a6a6,#a7a7a7,#a8a8a8,#a9a9a9,#a9a9a9,#aaaaaa,#ababab,#acacac,#adadad,#adadad,#aeaeae,#aeaeae,#aeaeae,#afafaf,#afafaf,#afafaf,#afafaf,#b0b0b0,#b0b0b0,#b0b0b0,#b0b0b0,#b0b0b0,#b1b1b1,#b1b1b1,#b1b1b1,#b1b1b1,#b2b2b2,#b2b2b2,#b2b2b2,#b2b2b2,#b2b2b2,#b3b3b3,#b3b3b3)"></i><i style="top:20px;height:5px;background:linear-gradient(90deg,#a9a9a9,#a9a9a9,#a9a9a9,#a9a9a9,#a9a9a9,#a8a8a8,#a8a8a8,#a7a7a7,#a6a6a6,#a6a6a6,#a5a5a5,#a4a4a4,#a3a3a3,#a3a3a3,#a3a3a3,#a3a3a3,#a3a3a3,#a4a4a4,#a5a5a5,#a6a6a6,#a8a8a8,#a9a9a9,#aaaaaa,#ababab,#acacac,#adadad,#aeaeae,#aeaeae,#afafaf,#afafaf,#afafaf,#b0b0b0,#b0b0b0,#b0b0b0,#b0b0b0,#b1b1b1,#b1b1b1,#b1b1b1,#b1b1b1,#b1b1b1,#b2b2b2,#b2b2b2,#b2b2b2,#b2b2b2,#b3b3b3,#b3b3b3,#b3b3b3,#b3b3b3,#b3b3b3)"></i><i style="top:25px;height:5px;background:linear-gradient(90deg,#a9a9a9,#a9a9a9,#a9a9a9,#a9a9a9,#a9a9a9,#a8a8a8,#a7a7a7,#a6a6a6,#a5a5a5,#a4a4a4,#a2a2a2,#a1a1a1,#a0a0a0,#9f9f9f,#9f9f9f,#9f9f9f,#9f9f9f,#a0a0a0,#a1a1a1,#a3a3a3,#a4a4a4,#a6a6a6,#a8a8a8,#aaaaaa,#ababab,#adadad,#aeaeae,#aeaeae,#afafaf,#afafaf,#b0b0b0,#b0b0b0,#b0b0b0,#b1b1b1,#b1b1b1,#b1b1b1,#b1b1b1,#b2b2b2,#b2b2b2,#b2b2b2,#b2b2b2,#b3b3b3,#b3b3b3,#b3b3b3,#b3b3b3,#b3b3b3,#b4b4b4,#b4b4b4,#b4b4b4)"></i><i style="top:30px;height:5px;background:linear-gradient(90deg,#aaaaaa,#aaaaaa,#aaaaaa,#a9a9a9,#a9a9a9,#a8a8a8,#a7a7a7,#a5a5a5,#a3a3a3,#a1a1a1,#9f9f9f,#9d9d9d,#9c9c9c,#9b9b9b,#9a9a9a,#9a9a9a,#9a9a9a,#9b9b9b,#9c9c9c,#9e9e9e,#a0a0a0,#a2a2a2,#a4a4a4,#a7a7a7,#a9a9a9,#ababab,#adadad,#aeaeae,#afafaf,#b0b0b0,#b0b0b0,#b1b1b1,#b1b1b1,#b1b1b1,#b1b1b1,#b2b2b2,#b2b2b2,#b2b2b2,#b2b2b2,#b3b3b3,#b3b3b3,#b3b3b3,#b3b3b3,#b4b4b4,#b4b4b4,#b4b4b4,#b4b4b4,#b4b4b4,#b4b4b4)"></i><i style="top:35px;height:5px;background:linear-gradient(90deg,#aaaaaa,#aaaaaa,#aaaaaa,#aaaaaa,#a9a9a9,#a8a8a8,#a6a6a6,#a4a4a4,#a1a1a1,#9e9e9e,#9c9c9c,#999999,#979797,#969696,#959595,#949494,#949494,#959595,#969696,#989898,#9a9a9a,#9c9c9c,#9f9f9f,#a2a2a2,#a6a6a6,#a8a8a8,#ababab,#adadad,#aeaeae,#b0b0b0,#b0b0b0,#b1b1b1,#b1b1b1,#b2b2b2,#b2b2b2,#b2b2b2,#b3b3b3,#b3b3b3,#b3b3b3,#b3b3b3,#b3b3b3,#b4b4b4,#b4b4b4,#b4b4b4,#b4b4b4,#b5b5b5,#b5b5b5,#b5b5b5,#b5b5b5)"></i><i style="top:40px;height:5px;background:linear-gradient(90deg,#aaaaaa,#aaaaaa,#aaaaaa,#aaaaaa,#a9a9a9,#a7a7a7,#a5a5a5,#a2a2a2,#9e9e9e,#9b9b9b,#989898,#959595,#929292,#919191,#909090,#8f8f8f,#8f8f8f,#8f8f8f,#909090,#929292,#949494,#969696,#999999,#9d9d9d,#a0a0a0,#a4a4a4,#a8a8a8,#ababab,#adadad,#afafaf,#b0b0b0,#b1b1b1,#b2b2b2,#b2b2b2,#b3b3b3,#b3b3b3,#b3b3b3,#b3b3b3,#b4b4b4,#b4b4b4,#b4b4b4,#b4b4b4,#b4b4b4,#b5b5b5,#b5b5b5,#b5b5b5,#b5b5b5,#b5b5b5,#b5b5b5)"></i><i style="top:45px;height:5px;background:linear-gradient(90deg,#ababab,#ababab,#ababab,#aaaaaa,#a8a8a8,#a6a6a6,#a3a3a3,#9f9f9f,#9b9b9b,#979797,#949494,#919191,#8e8e8e,#8c8c8c,#8b8b8b,#8a8a8a,#8a8a8a,#8a8a8a,#8b8b8b,#8d8d8d,#8e8e8e,#909090,#939393,#969696,#9a9a9a,#9e9e9e,#a3a3a3,#a7a7a7,#ababab,#adadad,#afafaf,#b1b1b1,#b2b2b2,#b3b3b3,#b3b3b3,#b3b3b3,#b4b4b4,#b4b4b4,#b4b4b4,#b4b4b4,#b5b5b5,#b5b5b5,#b5b5b5,#b5b5b5,#b6b6b6,#b6b6b6,#b6b6b6,#b6b6b6,#b6b6b6)"></i><i style="top:50px;height:5px;background:linear-gradient(90deg,#ababab,#ababab,#ababab,#aaaaaa,#a8a8a8,#a5a5a5,#a1a1a1,#9d9d9d,#989898,#949494,#909090,#8d8d8d,#8a8a8a,#878787,#868686,#858585,#848484,#858585,#868686,#888888,#8a8a8a,#8c8c8c,#8e8e8e,#919191,#949494,#989898,#9d9d9d,#a2a2a2,#a6a6a6,#ababab,#aeaeae,#b0b0b0,#b2b2b2,#b3b3b3,#b3b3b3,#b4b4b4,#b4b4b4,#b4b4b4,#b5b5b5,#b5b5b5,#b5b5b5,#b5b5b5,#b6b6b6,#b6b6b6,#b6b6b6,#b6b6b6,#b7b7b7,#b7b7b7,#b7b7b7)"></i><i style="top:55px;height:5px;background:linear-gradient(90deg,#acacac,#acacac,#ababab,#aaaaaa,#a7a7a7,#a4a4a4,#9f9f9f,#9a9a9a,#959595,#919191,#8c8c8c,#888888,#858585,#828282,#7f7f7f,#7d7d7d,#7d7d7d,#7d7d7d,#7f7f7f,#818181,#848484,#868686,#898989,#8c8c8c,#8f8f8f,#929292,#969696,#9b9b9b,#a1a1a1,#a6a6a6,#ababab,#aeaeae,#b1b1b1,#b2b2b2,#b3b3b3,#b4b4b4,#b5b5b5,#b5b5b5,#b5b5b5,#b6b6b6,#b6b6b6,#b6b6b6,#b6b6b6,#b6b6b6,#b7b7b7,#b7b7b7,#b7b7b7,#b7b7b7,#b7b7b7)"></i><i style="top:60px;height:5px;background:linear-gradient(90deg,#acacac,#acacac,#ababab,#aaaaaa,#a7a7a7,#a3a3a3,#9e9e9e,#989898,#939393,#8e8e8e,#898989,#848484,#7f7f7f,#7b7b7b,#777777,#757575,#747474,#747474,#757575,#777777,#7b7b7b,#7f7f7f,#838383,#878787,#8b8b8b,#8e8e8e,#919191,#959595,#9b9b9b,#a0a0a0,#a6a6a6,#ababab,#afafaf,#b2b2b2,#b3b3b3,#b4b4b4,#b5b5b5,#b5b5b5,#b6b6b6,#b6b6b6,#b6b6b6,#b7b7b7,#b7b7b7,#b7b7b7,#b7b7b7,#b7b7b7,#b8b8b8,#b8b8b8,#b8b8b8)"></i><i style="top:65px;height:5px;background:linear-gradient(90deg,#acacac,#acacac,#acacac,#aaaaaa,#a6a6a6,#a2a2a2,#9c9c9c,#969696,#909090,#8b8b8b,#858585,#7f7f7f,#797979,#747474,#707070,#6e6e6e,#6d6d6d,#6d6d6d,#6d6d6d,#6f6f6f,#717171,#757575,#7a7a7a,#7f7f7f,#858585,#898989,#8d8d8d,#909090,#959595,#9a9a9a,#a0a0a0,#a6a6a6,#acacac,#b0b0b0,#b2b2b2,#b4b4b4,#b5b5b5,#b6b6b6,#b6b6b6,#b7b7b7,#b7b7b7,#b7b7b7,#b7b7b7,#b8b8b8,#b8b8b8,#b8b8b8,#b8b8b8,#b8b8b8,#b8b8b8)"></i><i style="top:70px;height:5px;background:linear-gradient(90deg,#adadad,#adadad,#acacac,#aaaaaa,#a6a6a6,#a1a1a1,#9b9b9b,#949494,#8e8e8e,#888888,#818181,#7a7a7a,#737373,#6e6e6e,#6c6c6c,#6b6b6b,#6b6b6b,#6b6b6b,#6b6b6b,#6b6b6b,#6b6b6b,#6d6d6d,#707070,#757575,#7c7c7c,#838383,#888888,#8d8d8d,#909090,#959595,#9a9a9a,#a1a1a1,#a7a7a7,#adadad,#b1b1b1,#b3b3b3,#b5b5b5,#b6b6b6,#b7b7b7,#b7b7b7,#b7b7b7,#b8b8b8,#b8b8b8,#b8b8b8,#b8b8b8,#b9b9b9,#b9b9b9,#b9b9b9,#b9b9b9)"></i><i style="top:75px;height:5px;background:linear-gradient(90deg,#adadad,#adadad,#acacac,#aaaaaa,#a6a6a6,#a0a0a0,#9a9a9a,#939393,#8d8d8d,#868686,#7e7e7e,#767676,#6f6f6f,#6b6b6b,#6b6b6b,#6b6b6b,#6d6d6d,#6e6e6e,#6e6e6e,#6e6e6e,#6d6d6d,#6c6c6c,#6c6c6c,#6d6d6d,#727272,#797979,#818181,#888888,#8c8c8c,#909090,#959595,#9b9b9b,#a1a1a1,#a8a8a8,#aeaeae,#b2b2b2,#b5b5b5,#b6b6b6,#b7b7b7,#b8b8b8,#b8b8b8,#b8b8b8,#b9b9b9,#b9b9b9,#b9b9b9,#b9b9b9,#b9b9b9,#bababa,#bababa)"></i><i style="top:80px;height:5px;background:linear-gradient(90deg,#aeaeae,#aeaeae,#adadad,#aaaaaa,#a6a6a6,#a0a0a0,#999999,#929292,#8b8b8b,#848484,#7b7b7b,#727272,#6c6c6c,#6b6b6b,#6c6c6c,#6f6f6f,#707070,#717171,#727272,#727272,#717171,#707070,#6f6f6f,#6d6d6d,#6d6d6d,#707070,#767676,#7f7f7f,#878787,#8d8d8d,#919191,#969696,#9c9c9c,#a3a3a3,#aaaaaa,#afafaf,#b3b3b3,#b6b6b6,#b7b7b7,#b8b8b8,#b8b8b8,#b9b9b9,#b9b9b9,#b9b9b9,#bababa,#bababa,#bababa,#bababa,#bababa)"></i><i style="top:85px;height:5px;background:linear-gradient(90deg,#aeaeae,#aeaeae,#adadad,#aaaaaa,#a6a6a6,#9f9f9f,#989898,#919191,#8b8b8b,#828282,#787878,#707070,#6c6c6c,#6c6c6c,#6f6f6f,#727272,#737373,#737373,#727272,#727272,#727272,#727272,#727272,#727272,#707070,#6e6e6e,#6f6f6f,#757575,#7f7f7f,#878787,#8d8d8d,#929292,#979797,#9d9d9d,#a4a4a4,#ababab,#b1b1b1,#b5b5b5,#b7b7b7,#b8b8b8,#b9b9b9,#b9b9b9,#bababa,#bababa,#bababa,#bababa,#bbbbbb,#bbbbbb,#bbbbbb)"></i><i style="top:90px;height:5px;background:linear-gradient(90deg,#afafaf,#afafaf,#aeaeae,#ababab,#a6a6a6,#9f9f9f,#989898,#919191,#8a8a8a,#818181,#777777,#6e6e6e,#6c6c6c,#6e6e6e,#727272,#737373,#737373,#717171,#6f6f6f,#6e6e6e,#6d6d6d,#6e6e6e,#707070,#737373,#747474,#737373,#707070,#707070,#757575,#7f7f7f,#888888,#8e8e8e,#939393,#989898,#9f9f9f,#a6a6a6,#adadad,#b3b3b3,#b6b6b6,#b8b8b8,#b9b9b9,#bababa,#bababa,#bababa,#bbbbbb,#bbbbbb,#bbbbbb,#bbbbbb,#bbbbbb)"></i><i style="top:95px;height:5px;background:linear-gradient(90deg,#afafaf,#afafaf,#afafaf,#acacac,#a7a7a7,#a0a0a0,#989898,#919191,#8a8a8a,#818181,#767676,#6e6e6e,#6d6d6d,#717171,#747474,#747474,#727272,#6e6e6e,#6a6a6a,#676767,#656565,#666666,#696969,#6e6e6e,#737373,#767676,#767676,#727272,#717171,#757575,#7f7f7f,#898989,#8f8f8f,#949494,#9a9a9a,#a1a1a1,#a9a9a9,#b0b0b0,#b5b5b5,#b7b7b7,#b9b9b9,#bababa,#bbbbbb,#bbbbbb,#bbbbbb,#bcbcbc,#bcbcbc,#bcbcbc,#bcbcbc)"></i><i style="top:100px;height:5px;background:linear-gradient(90deg,#b0b0b0,#b0b0b0,#afafaf,#acacac,#a7a7a7,#a0a0a0,#999999,#929292,#8b8b8b,#818181,#767676,#6e6e6e,#6e6e6e,#727272,#757575,#737373,#6f6f6f,#6a6a6a,#656565,#5f5f5f,#5c5c5c,#5c5c5c,#5f5f5f,#656565,#6d6d6d,#747474,#787878,#787878,#747474,#717171,#767676,#818181,#8a8a8a,#919191,#969696,#9c9c9c,#a4a4a4,#acacac,#b2b2b2,#b6b6b6,#b9b9b9,#bababa,#bbbbbb,#bbbbbb,#bcbcbc,#bcbcbc,#bcbcbc,#bcbcbc,#bcbcbc)"></i><i style="top:105px;height:5px;background:linear-gradient(90deg,#b1b1b1,#b1b1b1,#b0b0b0,#adadad,#a8a8a8,#a1a1a1,#999999,#929292,#8b8b8b,#828282,#767676,#6e6e6e,#6f6f6f,#747474,#757575,#727272,#6d6d6d,#666666,#5f5f5f,#585858,#535353,#525252,#565656,#5d5d5d,#656565,#6e6e6e,#757575,#7a7a7a,#7a7a7a,#757575,#727272,#787878,#838383,#8c8c8c,#929292,#989898,#9f9f9f,#a7a7a7,#afafaf,#b4b4b4,#b8b8b8,#bababa,#bbbbbb,#bcbcbc,#bcbcbc,#bdbdbd,#bdbdbd,#bdbdbd,#bdbdbd)"></i><i style="top:110px;height:5px;background:linear-gradient(90deg,#b2b2b2,#b2b2b2,#b1b1b1,#aeaeae,#aaaaaa,#a3a3a3,#9b9b9b,#939393,#8c8c8c,#838383,#777777,#6f6f6f,#707070,#757575,#767676,#727272,#6b6b6b,#626262,#585858,#4f4f4f,#494949,#484848,#4c4c4c,#555555,#5f5f5f,#686868,#707070,#777777,#7c7c7c,#7b7b7b,#767676,#737373,#7a7a7a,#868686,#8f8f8f,#959595,#9a9a9a,#a2a2a2,#aaaaaa,#b2b2b2,#b7b7b7,#bababa,#bbbbbb,#bcbcbc,#bdbdbd,#bdbdbd,#bdbdbd,#bebebe,#bebebe)"></i><i style="top:115px;height:5px;background:linear-gradient(90deg,#b3b3b3,#b3b3b3,#b2b2b2,#afafaf,#ababab,#a4a4a4,#9c9c9c,#949494,#8e8e8e,#858585,#797979,#707070,#717171,#767676,#767676,#717171,#696969,#5e5e5e,#535353,#474747,#3f3f3f,#3d3d3d,#434343,#4d4d4d,#595959,#646464,#6c6c6c,#737373,#797979,#7d7d7d,#7b7b7b,#767676,#747474,#7d7d7d,#898989,#919191,#979797,#9d9d9d,#a5a5a5,#aeaeae,#b5b5b5,#b9b9b9,#bbbbbb,#bdbdbd,#bdbdbd,#bebebe,#bebebe,#bebebe,#bebebe)"></i><i style="top:120px;height:5px;background:linear-gradient(90deg,#b3b3b3,#b3b3b3,#b3b3b3,#b1b1b1,#acacac,#a6a6a6,#9e9e9e,#969696,#8f8f8f,#888888,#7c7c7c,#717171,#717171,#767676,#777777,#717171,#676767,#5b5b5b,#4d4d4d,#404040,#363636,#343434,#3b3b3b,#474747,#555555,#616161,#696969,#6f6f6f,#747474,#7a7a7a,#7d7d7d,#7b7b7b,#757575,#767676,#818181,#8d8d8d,#949494,#9a9a9a,#a1a1a1,#aaaaaa,#b2b2b2,#b7b7b7,#bbbbbb,#bdbdbd,#bebebe,#bebebe,#bfbfbf,#bfbfbf,#bfbfbf)"></i><i style="top:125px;height:5px;background:linear-gradient(90deg,#b4b4b4,#b4b4b4,#b4b4b4,#b2b2b2,#aeaeae,#a8a8a8,#a0a0a0,#989898,#919191,#8a8a8a,#7f7f7f,#737373,#717171,#767676,#787878,#717171,#666666,#595959,#494949,#3a3a3a,#2f2f2f,#2d2d2d,#343434,#424242,#515151,#5f5f5f,#686868,#6e6e6e,#717171,#757575,#7a7a7a,#7d7d7d,#797979,#747474,#797979,#858585,#909090,#979797,#9d9d9d,#a5a5a5,#aeaeae,#b5b5b5,#bababa,#bcbcbc,#bebebe,#bfbfbf,#bfbfbf,#bfbfbf,#bfbfbf)"></i><i style="top:130px;height:5px;background:linear-gradient(90deg,#b5b5b5,#b5b5b5,#b5b5b5,#b3b3b3,#b0b0b0,#aaaaaa,#a2a2a2,#9a9a9a,#939393,#8d8d8d,#838383,#767676,#717171,#767676,#797979,#737373,#676767,#585858,#474747,#373737,#2c2c2c,#292929,#313131,#3f3f3f,#505050,#5e5e5e,#676767,#6c6c6c,#6f6f6f,#717171,#757575,#7a7a7a,#7c7c7c,#777777,#757575,#7d7d7d,#8b8b8b,#949494,#9a9a9a,#a1a1a1,#aaaaaa,#b2b2b2,#b8b8b8,#bcbcbc,#bebebe,#bfbfbf,#c0c0c0,#c0c0c0,#c0c0c0)"></i><i style="top:135px;height:5px;background:linear-gradient(90deg,#b6b6b6,#b6b6b6,#b5b5b5,#b4b4b4,#b1b1b1,#acacac,#a5a5a5,#9c9c9c,#959595,#8f8f8f,#878787,#7a7a7a,#727272,#757575,#797979,#757575,#686868,#595959,#484848,#383838,#2c2c2c,#2a2a2a,#313131,#404040,#505050,#5e5e5e,#676767,#6c6c6c,#6d6d6d,#6e6e6e,#707070,#747474,#7a7a7a,#7a7a7a,#767676,#777777,#838383,#909090,#979797,#9e9e9e,#a6a6a6,#afafaf,#b6b6b6,#bbbbbb,#bebebe,#bfbfbf,#c0c0c0,#c0c0c0,#c0c0c0)"></i><i style="top:140px;height:5px;background:linear-gradient(90deg,#b7b7b7,#b7b7b7,#b6b6b6,#b5b5b5,#b3b3b3,#afafaf,#a7a7a7,#9f9f9f,#979797,#919191,#8b8b8b,#7f7f7f,#747474,#737373,#797979,#777777,#6b6b6b,#5c5c5c,#4b4b4b,#3b3b3b,#303030,#2e2e2e,#353535,#434343,#525252,#5f5f5f,#676767,#6a6a6a,#6b6b6b,#6a6a6a,#6a6a6a,#6d6d6d,#747474,#7a7a7a,#797979,#757575,#7c7c7c,#8a8a8a,#949494,#9b9b9b,#a2a2a2,#ababab,#b3b3b3,#bababa,#bdbdbd,#bfbfbf,#c0c0c0,#c1c1c1,#c1c1c1)"></i><i style="top:145px;height:5px;background:linear-gradient(90deg,#b7b7b7,#b7b7b7,#b7b7b7,#b6b6b6,#b5b5b5,#b1b1b1,#aaaaaa,#a2a2a2,#9a9a9a,#949494,#8e8e8e,#848484,#787878,#737373,#787878,#797979,#6f6f6f,#606060,#505050,#414141,#373737,#353535,#3c3c3c,#484848,#565656,#616161,#676767,#696969,#676767,#656565,#646464,#666666,#6c6c6c,#757575,#7a7a7a,#777777,#777777,#838383,#909090,#989898,#9f9f9f,#a7a7a7,#b0b0b0,#b8b8b8,#bdbdbd,#bfbfbf,#c1c1c1,#c1c1c1,#c1c1c1)"></i><i style="top:150px;height:5px;background:linear-gradient(90deg,#b8b8b8,#b8b8b8,#b8b8b8,#b7b7b7,#b6b6b6,#b3b3b3,#adadad,#a5a5a5,#9d9d9d,#969696,#919191,#898989,#7d7d7d,#747474,#767676,#7a7a7a,#747474,#666666,#575757,#4a4a4a,#414141,#3f3f3f,#454545,#4f4f4f,#5a5a5a,#636363,#676767,#676767,#636363,#5e5e5e,#5c5c5c,#5d5d5d,#646464,#6e6e6e,#787878,#797979,#777777,#7d7d7d,#8b8b8b,#969696,#9d9d9d,#a4a4a4,#adadad,#b6b6b6,#bcbcbc,#bfbfbf,#c1c1c1,#c1c1c1,#c1c1c1)"></i><i style="top:155px;height:5px;background:linear-gradient(90deg,#b9b9b9,#b9b9b9,#b9b9b9,#b8b8b8,#b7b7b7,#b5b5b5,#b0b0b0,#a9a9a9,#a0a0a0,#999999,#939393,#8e8e8e,#838383,#777777,#747474,#7a7a7a,#797979,#6d6d6d,#5f5f5f,#535353,#4c4c4c,#4a4a4a,#4e4e4e,#565656,#5f5f5f,#656565,#676767,#646464,#5e5e5e,#575757,#535353,#545454,#5b5b5b,#676767,#737373,#7a7a7a,#787878,#797979,#858585,#929292,#9a9a9a,#a1a1a1,#aaaaaa,#b3b3b3,#bababa,#bfbfbf,#c1c1c1,#c2c2c2,#c2c2c2)"></i><i style="top:160px;height:5px;background:linear-gradient(90deg,#b9b9b9,#b9b9b9,#b9b9b9,#b9b9b9,#b8b8b8,#b7b7b7,#b3b3b3,#acacac,#a4a4a4,#9c9c9c,#969696,#919191,#898989,#7d7d7d,#747474,#787878,#7b7b7b,#747474,#686868,#5d5d5d,#565656,#555555,#585858,#5e5e5e,#646464,#686868,#676767,#616161,#585858,#4e4e4e,#494949,#4a4a4a,#535353,#606060,#6e6e6e,#797979,#7b7b7b,#787878,#7f7f7f,#8d8d8d,#989898,#9f9f9f,#a7a7a7,#b0b0b0,#b8b8b8,#bebebe,#c1c1c1,#c2c2c2,#c2c2c2)"></i><i style="top:165px;height:5px;background:linear-gradient(90deg,#bababa,#bababa,#bababa,#bababa,#b9b9b9,#b8b8b8,#b5b5b5,#b0b0b0,#a8a8a8,#9f9f9f,#999999,#949494,#8e8e8e,#848484,#787878,#757575,#7b7b7b,#7b7b7b,#717171,#676767,#606060,#5f5f5f,#616161,#656565,#696969,#6a6a6a,#676767,#5e5e5e,#525252,#474747,#404040,#424242,#4b4b4b,#595959,#696969,#777777,#7c7c7c,#797979,#7c7c7c,#888888,#959595,#9d9d9d,#a5a5a5,#aeaeae,#b6b6b6,#bdbdbd,#c1c1c1,#c2c2c2,#c2c2c2)"></i><i style="top:170px;height:5px;background:linear-gradient(90deg,#bbbbbb,#bbbbbb,#bbbbbb,#bbbbbb,#bababa,#b9b9b9,#b7b7b7,#b3b3b3,#acacac,#a4a4a4,#9c9c9c,#969696,#929292,#8b8b8b,#7e7e7e,#767676,#797979,#7e7e7e,#7a7a7a,#707070,#6a6a6a,#676767,#686868,#6a6a6a,#6c6c6c,#6c6c6c,#666666,#5c5c5c,#4e4e4e,#414141,#393939,#3b3b3b,#454545,#555555,#656565,#747474,#7c7c7c,#7b7b7b,#7a7a7a,#848484,#929292,#9b9b9b,#a3a3a3,#ababab,#b4b4b4,#bcbcbc,#c0c0c0,#c2c2c2,#c2c2c2)"></i><i style="top:175px;height:5px;background:linear-gradient(90deg,#bbbbbb,#bbbbbb,#bbbbbb,#bbbbbb,#bbbbbb,#bbbbbb,#b9b9b9,#b6b6b6,#b0b0b0,#a8a8a8,#a0a0a0,#999999,#959595,#909090,#868686,#7a7a7a,#767676,#7d7d7d,#7f7f7f,#7a7a7a,#727272,#6e6e6e,#6e6e6e,#6f6f6f,#6f6f6f,#6d6d6d,#676767,#5b5b5b,#4c4c4c,#3e3e3e,#353535,#373737,#424242,#525252,#636363,#717171,#7b7b7b,#7c7c7c,#7a7a7a,#808080,#8e8e8e,#999999,#a1a1a1,#a9a9a9,#b2b2b2,#bababa,#c0c0c0,#c1c1c1,#c1c1c1)"></i><i style="top:180px;height:5px;background:linear-gradient(90deg,#bcbcbc,#bcbcbc,#bcbcbc,#bcbcbc,#bcbcbc,#bcbcbc,#bbbbbb,#b8b8b8,#b4b4b4,#adadad,#a4a4a4,#9d9d9d,#989898,#949494,#8d8d8d,#828282,#787878,#797979,#808080,#818181,#7b7b7b,#757575,#737373,#737373,#727272,#6f6f6f,#686868,#5c5c5c,#4d4d4d,#3e3e3e,#353535,#373737,#424242,#525252,#626262,#707070,#797979,#7c7c7c,#7a7a7a,#7d7d7d,#8a8a8a,#979797,#9f9f9f,#a7a7a7,#b0b0b0,#b9b9b9,#bfbfbf,#c1c1c1,#c1c1c1)"></i><i style="top:185px;height:5px;background:linear-gradient(90deg,#bcbcbc,#bcbcbc,#bcbcbc,#bdbdbd,#bdbdbd,#bdbdbd,#bcbcbc,#bababa,#b7b7b7,#b1b1b1,#a9a9a9,#a1a1a1,#9b9b9b,#969696,#929292,#8a8a8a,#7e7e7e,#787878,#7d7d7d,#838383,#828282,#7d7d7d,#787878,#767676,#747474,#717171,#6a6a6a,#5e5e5e,#505050,#424242,#3a3a3a,#3b3b3b,#454545,#545454,#626262,#6e6e6e,#777777,#7b7b7b,#797979,#7b7b7b,#868686,#949494,#9e9e9e,#a6a6a6,#aeaeae,#b7b7b7,#bebebe,#c1c1c1,#c1c1c1)"></i><i style="top:190px;height:5px;background:linear-gradient(90deg,#bdbdbd,#bdbdbd,#bdbdbd,#bdbdbd,#bdbdbd,#bdbdbd,#bdbdbd,#bcbcbc,#bababa,#b5b5b5,#aeaeae,#a6a6a6,#9e9e9e,#999999,#969696,#919191,#878787,#7c7c7c,#7a7a7a,#808080,#868686,#848484,#7e7e7e,#7a7a7a,#777777,#737373,#6c6c6c,#626262,#555555,#484848,#414141,#434343,#4b4b4b,#585858,#646464,#6d6d6d,#747474,#797979,#787878,#797979,#848484,#929292,#9d9d9d,#a5a5a5,#adadad,#b6b6b6,#bdbdbd,#c0c0c0,#c0c0c0)"></i><i style="top:195px;height:5px;background:linear-gradient(90deg,#bebebe,#bebebe,#bebebe,#bebebe,#bebebe,#bebebe,#bebebe,#bdbdbd,#bcbcbc,#b9b9b9,#b3b3b3,#ababab,#a3a3a3,#9d9d9d,#999999,#959595,#8f8f8f,#858585,#7b7b7b,#7c7c7c,#838383,#878787,#858585,#808080,#7b7b7b,#767676,#707070,#676767,#5c5c5c,#515151,#4b4b4b,#4c4c4c,#535353,#5d5d5d,#666666,#6d6d6d,#727272,#777777,#777777,#797979,#828282,#909090,#9c9c9c,#a4a4a4,#acacac,#b5b5b5,#bdbdbd,#c0c0c0,#c0c0c0)"></i><i style="top:200px;height:5px;background:linear-gradient(90deg,#bebebe,#bebebe,#bebebe,#bebebe,#bfbfbf,#bfbfbf,#bfbfbf,#bebebe,#bebebe,#bbbbbb,#b7b7b7,#b1b1b1,#a9a9a9,#a1a1a1,#9c9c9c,#989898,#959595,#8e8e8e,#838383,#7b7b7b,#7e7e7e,#858585,#898989,#868686,#808080,#7b7b7b,#747474,#6c6c6c,#636363,#5b5b5b,#565656,#575757,#5c5c5c,#646464,#6a6a6a,#6e6e6e,#727272,#757575,#777777,#787878,#808080,#8f8f8f,#9b9b9b,#a3a3a3,#ababab,#b4b4b4,#bcbcbc,#bfbfbf,#bfbfbf)"></i><i style="top:205px;height:5px;background:linear-gradient(90deg,#bfbfbf,#bfbfbf,#bfbfbf,#bfbfbf,#bfbfbf,#bfbfbf,#bfbfbf,#bfbfbf,#bfbfbf,#bebebe,#bbbbbb,#b6b6b6,#aeaeae,#a6a6a6,#9f9f9f,#9b9b9b,#989898,#949494,#8c8c8c,#828282,#7c7c7c,#808080,#868686,#898989,#868686,#818181,#7a7a7a,#737373,#6c6c6c,#656565,#616161,#626262,#666666,#6a6a6a,#6e6e6e,#707070,#737373,#757575,#777777,#787878,#808080,#8e8e8e,#9a9a9a,#a3a3a3,#ababab,#b3b3b3,#bcbcbc,#bfbfbf,#bfbfbf)"></i><i style="top:210px;height:5px;background:linear-gradient(90deg,#bfbfbf,#bfbfbf,#bfbfbf,#c0c0c0,#c0c0c0,#c0c0c0,#c0c0c0,#c0c0c0,#c0c0c0,#bfbfbf,#bdbdbd,#bababa,#b4b4b4,#acacac,#a4a4a4,#9f9f9f,#9b9b9b,#989898,#949494,#8c8c8c,#828282,#7d7d7d,#808080,#878787,#898989,#878787,#818181,#7b7b7b,#747474,#6f6f6f,#6c6c6c,#6c6c6c,#6e6e6e,#727272,#747474,#757575,#767676,#777777,#787878,#797979,#818181,#8e8e8e,#9a9a9a,#a3a3a3,#ababab,#b3b3b3,#bbbbbb,#bfbfbf,#bfbfbf)"></i><i style="top:215px;height:5px;background:linear-gradient(90deg,#c0c0c0,#c0c0c0,#c0c0c0,#c0c0c0,#c0c0c0,#c1c1c1,#c1c1c1,#c1c1c1,#c1c1c1,#c0c0c0,#bfbfbf,#bdbdbd,#b9b9b9,#b2b2b2,#aaaaaa,#a3a3a3,#9e9e9e,#9b9b9b,#989898,#949494,#8c8c8c,#828282,#7e7e7e,#818181,#868686,#898989,#888888,#838383,#7d7d7d,#797979,#767676,#757575,#777777,#797979,#7a7a7a,#7a7a7a,#7a7a7a,#7a7a7a,#797979,#7b7b7b,#828282,#8f8f8f,#9b9b9b,#a3a3a3,#ababab,#b3b3b3,#bbbbbb,#bfbfbf,#bfbfbf)"></i><i style="top:220px;height:5px;background:linear-gradient(90deg,#c1c1c1,#c1c1c1,#c1c1c1,#c1c1c1,#c1c1c1,#c1c1c1,#c1c1c1,#c2c2c2,#c2c2c2,#c1c1c1,#c1c1c1,#bfbfbf,#bdbdbd,#b8b8b8,#b1b1b1,#a9a9a9,#a3a3a3,#9e9e9e,#9b9b9b,#999999,#949494,#8c8c8c,#838383,#7f7f7f,#808080,#858585,#888888,#888888,#858585,#828282,#7f7f7f,#7e7e7e,#7e7e7e,#7f7f7f,#7f7f7f,#7f7f7f,#7e7e7e,#7c7c7c,#7b7b7b,#7d7d7d,#858585,#909090,#9c9c9c,#a4a4a4,#ababab,#b3b3b3,#bbbbbb,#bfbfbf,#bfbfbf)"></i><i style="top:225px;height:5px;background:linear-gradient(90deg,#c1c1c1,#c1c1c1,#c1c1c1,#c1c1c1,#c2c2c2,#c2c2c2,#c2c2c2,#c2c2c2,#c2c2c2,#c2c2c2,#c2c2c2,#c1c1c1,#bfbfbf,#bcbcbc,#b7b7b7,#b0b0b0,#a8a8a8,#a2a2a2,#9e9e9e,#9c9c9c,#999999,#959595,#8d8d8d,#858585,#808080,#808080,#838383,#878787,#888888,#878787,#868686,#858585,#858585,#848484,#848484,#828282,#808080,#7e7e7e,#7d7d7d,#808080,#888888,#939393,#9d9d9d,#a5a5a5,#acacac,#b4b4b4,#bcbcbc,#bfbfbf,#bfbfbf)"></i><i style="top:230px;height:5px;background:linear-gradient(90deg,#c2c2c2,#c2c2c2,#c2c2c2,#c2c2c2,#c2c2c2,#c2c2c2,#c3c3c3,#c3c3c3,#c3c3c3,#c3c3c3,#c3c3c3,#c3c3c3,#c2c2c2,#c0c0c0,#bcbcbc,#b6b6b6,#afafaf,#a8a8a8,#a2a2a2,#9f9f9f,#9c9c9c,#9a9a9a,#969696,#8f8f8f,#878787,#818181,#808080,#828282,#848484,#868686,#878787,#878787,#878787,#878787,#858585,#838383,#818181,#7f7f7f,#7f7f7f,#838383,#8b8b8b,#969696,#9f9f9f,#a6a6a6,#adadad,#b5b5b5,#bcbcbc,#c0c0c0,#c0c0c0)"></i><i style="top:235px;height:5px;background:linear-gradient(90deg,#c2c2c2,#c2c2c2,#c2c2c2,#c3c3c3,#c3c3c3,#c3c3c3,#c3c3c3,#c3c3c3,#c4c4c4,#c4c4c4,#c4c4c4,#c4c4c4,#c3c3c3,#c2c2c2,#c0c0c0,#bbbbbb,#b5b5b5,#aeaeae,#a8a8a8,#a3a3a3,#9f9f9f,#9d9d9d,#9b9b9b,#989898,#929292,#8a8a8a,#848484,#818181,#818181,#828282,#848484,#858585,#868686,#858585,#848484,#838383,#818181,#808080,#828282,#888888,#909090,#999999,#a1a1a1,#a8a8a8,#afafaf,#b6b6b6,#bdbdbd,#c1c1c1,#c1c1c1)"></i><i style="top:240px;height:5px;background:linear-gradient(90deg,#c3c3c3,#c3c3c3,#c3c3c3,#c3c3c3,#c3c3c3,#c4c4c4,#c4c4c4,#c4c4c4,#c4c4c4,#c4c4c4,#c5c5c5,#c5c5c5,#c4c4c4,#c4c4c4,#c2c2c2,#c0c0c0,#bbbbbb,#b5b5b5,#afafaf,#a8a8a8,#a4a4a4,#a0a0a0,#9e9e9e,#9c9c9c,#9a9a9a,#959595,#8e8e8e,#888888,#848484,#828282,#818181,#828282,#828282,#838383,#828282,#828282,#828282,#838383,#878787,#8d8d8d,#959595,#9d9d9d,#a4a4a4,#aaaaaa,#b0b0b0,#b8b8b8,#bfbfbf,#c2c2c2,#c2c2c2)"></i><i style="top:245px;height:5px;background:linear-gradient(90deg,#c3c3c3,#c3c3c3,#c4c4c4,#c4c4c4,#c4c4c4,#c4c4c4,#c4c4c4,#c5c5c5,#c5c5c5,#c5c5c5,#c5c5c5,#c5c5c5,#c5c5c5,#c5c5c5,#c4c4c4,#c3c3c3,#c0c0c0,#bbbbbb,#b6b6b6,#afafaf,#a9a9a9,#a5a5a5,#a2a2a2,#a0a0a0,#9e9e9e,#9c9c9c,#989898,#939393,#8e8e8e,#898989,#868686,#848484,#838383,#838383,#838383,#848484,#858585,#888888,#8d8d8d,#939393,#9a9a9a,#a0a0a0,#a6a6a6,#acacac,#b2b2b2,#b9b9b9,#c0c0c0,#c3c3c3,#c3c3c3)"></i><i style="top:250px;height:5px;background:linear-gradient(90deg,#c4c4c4,#c4c4c4,#c4c4c4,#c4c4c4,#c5c5c5,#c5c5c5,#c5c5c5,#c5c5c5,#c5c5c5,#c6c6c6,#c6c6c6,#c6c6c6,#c6c6c6,#c6c6c6,#c6c6c6,#c5c5c5,#c3c3c3,#c0c0c0,#bcbcbc,#b6b6b6,#b0b0b0,#aaaaaa,#a6a6a6,#a3a3a3,#a1a1a1,#9f9f9f,#9e9e9e,#9b9b9b,#989898,#949494,#909090,#8d8d8d,#8b8b8b,#8a8a8a,#8a8a8a,#8b8b8b,#8d8d8d,#909090,#949494,#999999,#9f9f9f,#a4a4a4,#a9a9a9,#afafaf,#b5b5b5,#bcbcbc,#c2c2c2,#c4c4c4,#c4c4c4)"></i><i style="top:255px;height:5px;background:linear-gradient(90deg,#c5c5c5,#c5c5c5,#c5c5c5,#c5c5c5,#c5c5c5,#c5c5c5,#c6c6c6,#c6c6c6,#c6c6c6,#c6c6c6,#c6c6c6,#c7c7c7,#c7c7c7,#c7c7c7,#c7c7c7,#c6c6c6,#c5c5c5,#c4c4c4,#c1c1c1,#bdbdbd,#b7b7b7,#b1b1b1,#acacac,#a8a8a8,#a5a5a5,#a3a3a3,#a1a1a1,#a0a0a0,#9e9e9e,#9c9c9c,#999999,#979797,#959595,#939393,#939393,#949494,#959595,#989898,#9b9b9b,#9f9f9f,#a3a3a3,#a8a8a8,#acacac,#b2b2b2,#b8b8b8,#bebebe,#c4c4c4,#c6c6c6,#c6c6c6)"></i><i style="top:260px;height:5px;background:linear-gradient(90deg,#c5c5c5,#c5c5c5,#c5c5c5,#c6c6c6,#c6c6c6,#c6c6c6,#c6c6c6,#c6c6c6,#c7c7c7,#c7c7c7,#c7c7c7,#c7c7c7,#c7c7c7,#c8c8c8,#c8c8c8,#c7c7c7,#c7c7c7,#c6c6c6,#c5c5c5,#c2c2c2,#bebebe,#b9b9b9,#b3b3b3,#aeaeae,#aaaaaa,#a7a7a7,#a5a5a5,#a3a3a3,#a2a2a2,#a1a1a1,#a0a0a0,#9e9e9e,#9d9d9d,#9c9c9c,#9c9c9c,#9c9c9c,#9d9d9d,#9f9f9f,#a1a1a1,#a4a4a4,#a7a7a7,#ababab,#b0b0b0,#b5b5b5,#bbbbbb,#c0c0c0,#c6c6c6,#c8c8c8,#c8c8c8)"></i><i style="top:265px;height:5px;background:linear-gradient(90deg,#c6c6c6,#c6c6c6,#c6c6c6,#c6c6c6,#c6c6c6,#c7c7c7,#c7c7c7,#c7c7c7,#c7c7c7,#c7c7c7,#c8c8c8,#c8c8c8,#c8c8c8,#c8c8c8,#c8c8c8,#c8c8c8,#c8c8c8,#c8c8c8,#c7c7c7,#c5c5c5,#c3c3c3,#bfbfbf,#bbbbbb,#b6b6b6,#b1b1b1,#adadad,#aaaaaa,#a7a7a7,#a6a6a6,#a5a5a5,#a4a4a4,#a3a3a3,#a2a2a2,#a2a2a2,#a2a2a2,#a2a2a2,#a3a3a3,#a4a4a4,#a6a6a6,#a8a8a8,#ababab,#afafaf,#b3b3b3,#b8b8b8,#bebebe,#c3c3c3,#c7c7c7,#c9c9c9,#c9c9c9)"></i><i style="top:270px;height:5px;background:linear-gradient(90deg,#c6c6c6,#c6c6c6,#c6c6c6,#c7c7c7,#c7c7c7,#c7c7c7,#c7c7c7,#c8c8c8,#c8c8c8,#c8c8c8,#c8c8c8,#c8c8c8,#c9c9c9,#c9c9c9,#c9c9c9,#c9c9c9,#c9c9c9,#c9c9c9,#c9c9c9,#c8c8c8,#c6c6c6,#c4c4c4,#c1c1c1,#bdbdbd,#b8b8b8,#b4b4b4,#b0b0b0,#adadad,#aaaaaa,#a9a9a9,#a7a7a7,#a7a7a7,#a6a6a6,#a6a6a6,#a6a6a6,#a6a6a6,#a7a7a7,#a8a8a8,#aaaaaa,#acacac,#afafaf,#b3b3b3,#b7b7b7,#bcbcbc,#c1c1c1,#c6c6c6,#c9c9c9,#cbcbcb,#cbcbcb)"></i><i style="top:275px;height:5px;background:linear-gradient(90deg,#c7c7c7,#c7c7c7,#c7c7c7,#c7c7c7,#c8c8c8,#c8c8c8,#c8c8c8,#c8c8c8,#c8c8c8,#c9c9c9,#c9c9c9,#c9c9c9,#c9c9c9,#c9c9c9,#cacaca,#cacaca,#cacaca,#cacaca,#cacaca,#cacaca,#c9c9c9,#c8c8c8,#c6c6c6,#c3c3c3,#bfbfbf,#bbbbbb,#b7b7b7,#b4b4b4,#b1b1b1,#aeaeae,#acacac,#ababab,#ababab,#aaaaaa,#aaaaaa,#ababab,#ababab,#adadad,#aeaeae,#b1b1b1,#b4b4b4,#b7b7b7,#bcbcbc,#c0c0c0,#c4c4c4,#c8c8c8,#cbcbcb,#cdcdcd,#cdcdcd)"></i><i style="top:280px;height:5px;background:linear-gradient(90deg,#c8c8c8,#c8c8c8,#c8c8c8,#c8c8c8,#c8c8c8,#c8c8c8,#c9c9c9,#c9c9c9,#c9c9c9,#c9c9c9,#c9c9c9,#cacaca,#cacaca,#cacaca,#cacaca,#cacaca,#cbcbcb,#cbcbcb,#cbcbcb,#cbcbcb,#cacaca,#cacaca,#c9c9c9,#c7c7c7,#c5c5c5,#c2c2c2,#bfbfbf,#bbbbbb,#b8b8b8,#b5b5b5,#b3b3b3,#b1b1b1,#b0b0b0,#b0b0b0,#afafaf,#b0b0b0,#b0b0b0,#b2b2b2,#b4b4b4,#b6b6b6,#b9b9b9,#bcbcbc,#c0c0c0,#c4c4c4,#c7c7c7,#cbcbcb,#cdcdcd,#cecece,#cecece)"></i><i style="top:285px;height:5px;background:linear-gradient(90deg,#c8c8c8,#c8c8c8,#c8c8c8,#c8c8c8,#c9c9c9,#c9c9c9,#c9c9c9,#c9c9c9,#cacaca,#cacaca,#cacaca,#cacaca,#cacaca,#cbcbcb,#cbcbcb,#cbcbcb,#cbcbcb,#cbcbcb,#cccccc,#cccccc,#cccccc,#cbcbcb,#cbcbcb,#cacaca,#c9c9c9,#c7c7c7,#c5c5c5,#c2c2c2,#bfbfbf,#bdbdbd,#bababa,#b8b8b8,#b7b7b7,#b6b6b6,#b6b6b6,#b6b6b6,#b6b6b6,#b8b8b8,#b9b9b9,#bbbbbb,#bebebe,#c1c1c1,#c4c4c4,#c7c7c7,#cacaca,#cdcdcd,#cfcfcf,#cfcfcf,#cfcfcf)"></i><i style="top:290px;height:5px;background:linear-gradient(90deg,#c9c9c9,#c9c9c9,#c9c9c9,#c9c9c9,#c9c9c9,#c9c9c9,#cacaca,#cacaca,#cacaca,#cacaca,#cbcbcb,#cbcbcb,#cbcbcb,#cbcbcb,#cbcbcb,#cccccc,#cccccc,#cccccc,#cccccc,#cccccc,#cccccc,#cccccc,#cccccc,#cccccc,#cbcbcb,#cacaca,#c9c9c9,#c7c7c7,#c5c5c5,#c3c3c3,#c1c1c1,#bfbfbf,#bebebe,#bdbdbd,#bcbcbc,#bcbcbc,#bdbdbd,#bebebe,#bfbfbf,#c1c1c1,#c3c3c3,#c6c6c6,#c8c8c8,#cbcbcb,#cdcdcd,#cfcfcf,#d0d0d0,#d1d1d1,#d1d1d1)"></i><i style="top:295px;height:5px;background:linear-gradient(90deg,#c9c9c9,#c9c9c9,#c9c9c9,#cacaca,#cacaca,#cacaca,#cacaca,#cbcbcb,#cbcbcb,#cbcbcb,#cbcbcb,#cbcbcb,#cccccc,#cccccc,#cccccc,#cccccc,#cccccc,#cdcdcd,#cdcdcd,#cdcdcd,#cdcdcd,#cdcdcd,#cdcdcd,#cdcdcd,#cdcdcd,#cccccc,#cccccc,#cbcbcb,#cacaca,#c8c8c8,#c7c7c7,#c6c6c6,#c4c4c4,#c3c3c3,#c3c3c3,#c3c3c3,#c3c3c3,#c4c4c4,#c5c5c5,#c6c6c6,#c8c8c8,#cacaca,#cbcbcb,#cdcdcd,#cfcfcf,#d0d0d0,#d1d1d1,#d2d2d2,#d2d2d2)"></i><i style="top:300px;height:5px;background:linear-gradient(90deg,#cacaca,#cacaca,#cacaca,#cacaca,#cacaca,#cbcbcb,#cbcbcb,#cbcbcb,#cbcbcb,#cccccc,#cccccc,#cccccc,#cccccc,#cccccc,#cdcdcd,#cdcdcd,#cdcdcd,#cdcdcd,#cecece,#cecece,#cecece,#cecece,#cecece,#cecece,#cecece,#cecece,#cecece,#cdcdcd,#cdcdcd,#cccccc,#cbcbcb,#cacaca,#c9c9c9,#c9c9c9,#c8c8c8,#c8c8c8,#c8c8c8,#c9c9c9,#c9c9c9,#cacaca,#cccccc,#cdcdcd,#cecece,#cfcfcf,#d1d1d1,#d2d2d2,#d2d2d2,#d3d3d3,#d3d3d3)"></i><i style="top:305px;height:5px;background:linear-gradient(90deg,#cacaca,#cacaca,#cacaca,#cacaca,#cacaca,#cbcbcb,#cbcbcb,#cbcbcb,#cbcbcb,#cccccc,#cccccc,#cccccc,#cccccc,#cccccc,#cdcdcd,#cdcdcd,#cdcdcd,#cdcdcd,#cecece,#cecece,#cecece,#cecece,#cecece,#cecece,#cecece,#cecece,#cecece,#cdcdcd,#cdcdcd,#cccccc,#cbcbcb,#cacaca,#c9c9c9,#c9c9c9,#c8c8c8,#c8c8c8,#c8c8c8,#c9c9c9,#c9c9c9,#cacaca,#cccccc,#cdcdcd,#cecece,#cfcfcf,#d1d1d1,#d2d2d2,#d2d2d2,#d3d3d3,#d3d3d3)"></i><i style="top:310px;height:5px;background:linear-gradient(90deg,#cacaca,#cacaca,#cacaca,#cacaca,#cacaca,#cbcbcb,#cbcbcb,#cbcbcb,#cbcbcb,#cccccc,#cccccc,#cccccc,#cccccc,#cccccc,#cdcdcd,#cdcdcd,#cdcdcd,#cdcdcd,#cecece,#cecece,#cecece,#cecece,#cecece,#cecece,#cecece,#cecece,#cecece,#cdcdcd,#cdcdcd,#cccccc,#cbcbcb,#cacaca,#c9c9c9,#c9c9c9,#c8c8c8,#c8c8c8,#c8c8c8,#c9c9c9,#c9c9c9,#cacaca,#cccccc,#cdcdcd,#cecece,#cfcfcf,#d1d1d1,#d2d2d2,#d2d2d2,#d3d3d3,#d3d3d3)"></i></div></div><div style="position:absolute;left:43.8px;top:1018.3px;width:159.6px;height:254.1px;overflow:hidden"><i style="top:0.00px;height:11.19px;background:#2c3391"></i><i style="top:10.59px;height:11.19px;background:#2c3391"></i><i style="top:21.18px;height:11.19px;background:#2c3391"></i><i style="top:31.76px;height:11.19px;background:linear-gradient(90deg,#2c3391 0.0px 69.8px,#2e43a2 69.8px 89.8px,#2c3391 89.8px 159.6px)"></i><i style="top:42.35px;height:11.19px;background:linear-gradient(90deg,#2c3391 0.0px 59.8px,#2e43a2 59.8px 69.8px,#305ebb 69.8px 99.8px,#304dad 99.8px 109.7px,#2c3391 109.7px 159.6px)"></i><i style="top:52.94px;height:11.19px;background:linear-gradient(90deg,#2c3391 0.0px 49.9px,#3054b3 49.9px 59.8px,#149add 59.8px 69.8px,#43b27b 69.8px 79.8px,#4eb74e 79.8px 89.8px,#3cb08f 89.8px 99.8px,#15a5d7 99.8px 109.7px,#305ebb 109.7px 119.7px,#2e43a2 119.7px 129.7px,#2c3391 129.7px 159.6px)"></i><i style="top:63.53px;height:11.19px;background:linear-gradient(90deg,#2c3391 0.0px 49.9px,#287cce 49.9px 59.8px,#4eb74e 59.8px 69.8px,#c4d332 69.8px 79.8px,#e8dc20 79.8px 89.8px,#b6d039 89.8px 99.8px,#4eb74e 99.8px 109.7px,#20b0c0 109.7px 119.7px,#3069c3 119.7px 129.7px,#2e43a2 129.7px 139.7px,#2c3391 139.7px 159.6px)"></i><i style="top:74.11px;height:11.19px;background:linear-gradient(90deg,#2c3391 0.0px 39.9px,#2e43a2 39.9px 49.9px,#2cb0ab 49.9px 59.8px,#b6d039 59.8px 69.8px,#f38626 69.8px 79.8px,#f0662e 79.8px 89.8px,#f5a020 89.8px 99.8px,#a8cc40 99.8px 109.7px,#2cb0ab 109.7px 119.7px,#2088d4 119.7px 129.7px,#305ebb 129.7px 139.7px,#2e43a2 139.7px 149.6px,#2c3391 149.6px 159.6px)"></i><i style="top:84.70px;height:11.19px;background:linear-gradient(90deg,#2c3391 0.0px 39.9px,#2e43a2 39.9px 49.9px,#43b27b 49.9px 59.8px,#e8dc20 59.8px 69.8px,#ee522f 69.8px 79.8px,#ef592f 79.8px 89.8px,#f38626 89.8px 99.8px,#a8cc40 99.8px 109.7px,#2cb0ab 109.7px 119.7px,#3069c3 119.7px 129.7px,#2e43a2 129.7px 139.7px,#2c3391 139.7px 159.6px)"></i><i style="top:95.29px;height:11.19px;background:linear-gradient(90deg,#2c3391 0.0px 39.9px,#2e43a2 39.9px 49.9px,#48b468 49.9px 59.8px,#eebe20 59.8px 69.8px,#e8202a 69.8px 79.8px,#ea2e2b 79.8px 89.8px,#f0662e 89.8px 99.8px,#a8cc40 99.8px 109.7px,#2cb0ab 109.7px 119.7px,#3054b3 119.7px 129.7px,#2d3e9c 129.7px 139.7px,#2c3391 139.7px 159.6px)"></i><i style="top:105.88px;height:11.19px;background:linear-gradient(90deg,#2c3391 0.0px 39.9px,#2e43a2 39.9px 49.9px,#48b468 49.9px 59.8px,#f2af20 59.8px 69.8px,#e8202a 69.8px 89.8px,#f0662e 89.8px 99.8px,#98c841 99.8px 109.7px,#24b0b9 109.7px 119.7px,#3054b3 119.7px 129.7px,#2d3e9c 129.7px 139.7px,#2c3391 139.7px 159.6px)"></i><i style="top:116.46px;height:11.19px;background:linear-gradient(90deg,#2c3391 0.0px 39.9px,#2e43a2 39.9px 49.9px,#48b468 49.9px 59.8px,#f2af20 59.8px 69.8px,#e8202a 69.8px 89.8px,#f0662e 89.8px 99.8px,#98c841 99.8px 109.7px,#24b0b9 109.7px 119.7px,#3054b3 119.7px 129.7px,#2d3e9c 129.7px 139.7px,#2c3391 139.7px 159.6px)"></i><i style="top:127.05px;height:11.19px;background:linear-gradient(90deg,#2c3391 0.0px 39.9px,#2e43a2 39.9px 49.9px,#48b468 49.9px 59.8px,#f2af20 59.8px 69.8px,#e8202a 69.8px 89.8px,#f0662e 89.8px 99.8px,#98c841 99.8px 109.7px,#24b0b9 109.7px 119.7px,#3054b3 119.7px 129.7px,#2d3e9c 129.7px 139.7px,#2c3391 139.7px 159.6px)"></i><i style="top:137.64px;height:11.19px;background:linear-gradient(90deg,#2c3391 0.0px 39.9px,#2e43a2 39.9px 49.9px,#48b468 49.9px 59.8px,#f2af20 59.8px 69.8px,#e8202a 69.8px 89.8px,#f0662e 89.8px 99.8px,#98c841 99.8px 109.7px,#24b0b9 109.7px 119.7px,#3054b3 119.7px 129.7px,#2d3e9c 129.7px 139.7px,#2c3391 139.7px 159.6px)"></i><i style="top:148.22px;height:11.19px;background:linear-gradient(90deg,#2c3391 0.0px 39.9px,#2e43a2 39.9px 49.9px,#48b468 49.9px 59.8px,#f2af20 59.8px 69.8px,#e8202a 69.8px 89.8px,#f0662e 89.8px 99.8px,#98c841 99.8px 109.7px,#24b0b9 109.7px 119.7px,#3054b3 119.7px 129.7px,#2d3e9c 129.7px 139.7px,#2c3391 139.7px 159.6px)"></i><i style="top:158.81px;height:11.19px;background:linear-gradient(90deg,#2c3391 0.0px 39.9px,#2e43a2 39.9px 49.9px,#48b468 49.9px 59.8px,#f2af20 59.8px 69.8px,#e8202a 69.8px 89.8px,#f0662e 89.8px 99.8px,#98c841 99.8px 109.7px,#24b0b9 109.7px 119.7px,#3054b3 119.7px 129.7px,#2d3e9c 129.7px 139.7px,#2c3391 139.7px 159.6px)"></i><i style="top:169.40px;height:11.19px;background:linear-gradient(90deg,#2c3391 0.0px 39.9px,#2e43a2 39.9px 49.9px,#48b468 49.9px 59.8px,#ebcd20 59.8px 69.8px,#ee522f 69.8px 89.8px,#f38626 89.8px 99.8px,#88c543 99.8px 109.7px,#24b0b9 109.7px 119.7px,#304dad 119.7px 129.7px,#2d3e9c 129.7px 139.7px,#2c3391 139.7px 159.6px)"></i><i style="top:179.99px;height:11.19px;background:linear-gradient(90deg,#2c3391 0.0px 49.9px,#34b09d 49.9px 59.8px,#c4d332 59.8px 69.8px,#f38626 69.8px 89.8px,#eebe20 89.8px 99.8px,#4eb74e 99.8px 109.7px,#15a5d7 109.7px 119.7px,#2e43a2 119.7px 129.7px,#2c3391 129.7px 159.6px)"></i><i style="top:190.58px;height:11.19px;background:linear-gradient(90deg,#2c3391 0.0px 49.9px,#149add 49.9px 59.8px,#4eb74e 59.8px 69.8px,#e8dc20 69.8px 89.8px,#afce3c 89.8px 99.8px,#4bb65b 99.8px 109.7px,#305ebb 109.7px 119.7px,#2c3391 119.7px 159.6px)"></i><i style="top:201.16px;height:11.19px;background:linear-gradient(90deg,#2c3391 0.0px 49.9px,#3054b3 49.9px 59.8px,#15a5d7 59.8px 69.8px,#4bb65b 69.8px 89.8px,#15a5d7 89.8px 99.8px,#2e43a2 99.8px 109.7px,#2c3391 109.7px 159.6px)"></i><i style="top:211.75px;height:11.19px;background:linear-gradient(90deg,#2c3391 0.0px 59.8px,#2e43a2 59.8px 69.8px,#305ebb 69.8px 89.8px,#2e43a2 89.8px 99.8px,#2c3391 99.8px 159.6px)"></i><i style="top:222.34px;height:11.19px;background:#2c3391"></i><i style="top:232.93px;height:11.19px;background:#2c3391"></i><i style="top:243.51px;height:11.19px;background:#2c3391"></i></div><div style="position:absolute;left:250px;top:1018.3px;width:160.8px;height:254.1px;overflow:hidden"><i style="top:0.00px;height:11.19px;background:linear-gradient(90deg,#16173a 0.0px 10.1px,#0c0c14 10.1px 20.1px,#16173a 20.1px 30.2px,#262c7a 30.2px 40.2px,#0c0c14 40.2px 50.2px,#16173a 50.2px 60.3px,#2e3c8c 60.3px 70.4px,#16173a 70.4px 80.4px,#3a5090 80.4px 90.5px,#0c0c14 90.5px 100.5px,#1e2262 100.5px 140.7px,#2e3c8c 140.7px 150.8px,#1e2262 150.8px 160.8px)"></i><i style="top:10.59px;height:11.19px;background:linear-gradient(90deg,#262c7a 0.0px 10.1px,#16173a 10.1px 30.2px,#262c7a 30.2px 40.2px,#2e3c8c 40.2px 50.2px,#16173a 50.2px 60.3px,#1e2262 60.3px 70.4px,#16173a 70.4px 80.4px,#1e2262 80.4px 110.6px,#0c0c14 110.6px 120.6px,#16173a 120.6px 140.7px,#1e2262 140.7px 160.8px)"></i><i style="top:21.18px;height:11.19px;background:linear-gradient(90deg,#1e2262 0.0px 10.1px,#16173a 10.1px 20.1px,#0c0c14 20.1px 30.2px,#3a5090 30.2px 40.2px,#1e2262 40.2px 70.4px,#3a5090 70.4px 80.4px,#262c7a 80.4px 90.5px,#2e3c8c 90.5px 100.5px,#1e2262 100.5px 110.6px,#0c0c14 110.6px 130.7px,#262c7a 130.7px 150.8px,#1e2262 150.8px 160.8px)"></i><i style="top:31.76px;height:11.19px;background:linear-gradient(90deg,#262c7a 0.0px 10.1px,#16173a 10.1px 20.1px,#2e3c8c 20.1px 30.2px,#1e2262 30.2px 40.2px,#262c7a 40.2px 50.2px,#1e2262 50.2px 60.3px,#262c7a 60.3px 70.4px,#2e3c8c 70.4px 80.4px,#16173a 80.4px 100.5px,#1e2262 100.5px 110.6px,#3a5090 110.6px 120.6px,#1e2262 120.6px 140.7px,#262c7a 140.7px 150.8px,#1e2262 150.8px 160.8px)"></i><i style="top:42.35px;height:11.19px;background:linear-gradient(90deg,#16173a 0.0px 20.1px,#1e2262 20.1px 30.2px,#16173a 30.2px 60.3px,#1e2262 60.3px 70.4px,#0c0c14 70.4px 110.6px,#2e3c8c 110.6px 120.6px,#1e2262 120.6px 140.7px,#262c7a 140.7px 160.8px)"></i><i style="top:52.94px;height:11.19px;background:linear-gradient(90deg,#16173a 0.0px 10.1px,#1e2262 10.1px 20.1px,#16173a 20.1px 30.2px,#0c0c14 30.2px 40.2px,#4a6888 40.2px 60.3px,#262c7a 60.3px 70.4px,#16173a 70.4px 80.4px,#262c7a 80.4px 90.5px,#16173a 90.5px 100.5px,#2e3c8c 100.5px 110.6px,#1e2262 110.6px 130.7px,#16173a 130.7px 160.8px)"></i><i style="top:63.53px;height:11.19px;background:linear-gradient(90deg,#1e2262 0.0px 10.1px,#0c0c14 10.1px 20.1px,#16173a 20.1px 30.2px,#3a5090 30.2px 40.2px,#262c7a 40.2px 70.4px,#0c0c14 70.4px 80.4px,#262c7a 80.4px 100.5px,#1e2262 100.5px 130.7px,#16173a 130.7px 160.8px)"></i><i style="top:74.11px;height:11.19px;background:linear-gradient(90deg,#1e2262 0.0px 10.1px,#262c7a 10.1px 40.2px,#16173a 40.2px 50.2px,#262c7a 50.2px 60.3px,#16173a 60.3px 100.5px,#1e2262 100.5px 110.6px,#16173a 110.6px 120.6px,#262c7a 120.6px 160.8px)"></i><i style="top:84.70px;height:11.19px;background:linear-gradient(90deg,#16173a 0.0px 10.1px,#1e2262 10.1px 20.1px,#262c7a 20.1px 30.2px,#4a6888 30.2px 40.2px,#262c7a 40.2px 60.3px,#3a5090 60.3px 70.4px,#1e2262 70.4px 80.4px,#262c7a 80.4px 90.5px,#1e2262 90.5px 110.6px,#4a6888 110.6px 120.6px,#2e3c8c 120.6px 140.7px,#262c7a 140.7px 150.8px,#2e3c8c 150.8px 160.8px)"></i><i style="top:95.29px;height:11.19px;background:linear-gradient(90deg,#2e3c8c 0.0px 20.1px,#4a6888 20.1px 50.2px,#262c7a 50.2px 60.3px,#2e3c8c 60.3px 70.4px,#3a5090 70.4px 80.4px,#262c7a 80.4px 90.5px,#1e2262 90.5px 100.5px,#16173a 100.5px 110.6px,#262c7a 110.6px 120.6px,#4a6888 120.6px 130.7px,#1e2262 130.7px 160.8px)"></i><i style="top:105.88px;height:11.19px;background:linear-gradient(90deg,#2e3c8c 0.0px 10.1px,#262c7a 10.1px 20.1px,#16173a 20.1px 30.2px,#262c7a 30.2px 40.2px,#4a6888 40.2px 50.2px,#2e3c8c 50.2px 60.3px,#1e2262 60.3px 70.4px,#4a6888 70.4px 80.4px,#1e2262 80.4px 90.5px,#262c7a 90.5px 100.5px,#3a5090 100.5px 110.6px,#2e3c8c 110.6px 120.6px,#262c7a 120.6px 130.7px,#1e2262 130.7px 160.8px)"></i><i style="top:116.46px;height:11.19px;background:linear-gradient(90deg,#2e3c8c 0.0px 10.1px,#16173a 10.1px 20.1px,#2e3c8c 20.1px 30.2px,#3a5090 30.2px 40.2px,#b07c58 40.2px 50.2px,#eca445 50.2px 60.3px,#3a5090 60.3px 70.4px,#4a6888 70.4px 80.4px,#1e2262 80.4px 90.5px,#b07c58 90.5px 110.6px,#5e7a86 110.6px 120.6px,#262c7a 120.6px 150.8px,#16173a 150.8px 160.8px)"></i><i style="top:127.05px;height:11.19px;background:linear-gradient(90deg,#1e2262 0.0px 30.2px,#262c7a 30.2px 40.2px,#eca445 40.2px 50.2px,#fff6d0 50.2px 60.3px,#4a6888 60.3px 80.4px,#262c7a 80.4px 90.5px,#b07c58 90.5px 100.5px,#ffe080 100.5px 110.6px,#eca445 110.6px 130.7px,#262c7a 130.7px 140.7px,#1e2262 140.7px 150.8px,#262c7a 150.8px 160.8px)"></i><i style="top:137.64px;height:11.19px;background:linear-gradient(90deg,#1e2262 0.0px 30.2px,#4a6888 30.2px 40.2px,#c8844c 40.2px 50.2px,#eca445 50.2px 60.3px,#b07c58 60.3px 70.4px,#2e3c8c 70.4px 100.5px,#eca445 100.5px 120.6px,#4a6888 120.6px 130.7px,#262c7a 130.7px 140.7px,#3a5090 140.7px 150.8px,#1e2262 150.8px 160.8px)"></i><i style="top:148.22px;height:11.19px;background:linear-gradient(90deg,#1e2262 0.0px 20.1px,#3a5090 20.1px 30.2px,#262c7a 30.2px 40.2px,#4a6888 40.2px 60.3px,#262c7a 60.3px 70.4px,#2e3c8c 70.4px 80.4px,#3a5090 80.4px 90.5px,#262c7a 90.5px 100.5px,#4a6888 100.5px 110.6px,#867e74 110.6px 120.6px,#2e3c8c 120.6px 140.7px,#16173a 140.7px 160.8px)"></i><i style="top:158.81px;height:11.19px;background:linear-gradient(90deg,#1e2262 0.0px 10.1px,#4a6888 10.1px 20.1px,#3a5090 20.1px 60.3px,#4a6888 60.3px 70.4px,#2e3c8c 70.4px 80.4px,#4a6888 80.4px 90.5px,#262c7a 90.5px 100.5px,#2e3c8c 100.5px 120.6px,#1e2262 120.6px 140.7px,#16173a 140.7px 150.8px,#262c7a 150.8px 160.8px)"></i><i style="top:169.40px;height:11.19px;background:linear-gradient(90deg,#262c7a 0.0px 20.1px,#16173a 20.1px 30.2px,#262c7a 30.2px 40.2px,#3a5090 40.2px 50.2px,#5e7a86 50.2px 60.3px,#1e2262 60.3px 70.4px,#2e3c8c 70.4px 80.4px,#3a5090 80.4px 90.5px,#1e2262 90.5px 110.6px,#16173a 110.6px 120.6px,#262c7a 120.6px 140.7px,#2e3c8c 140.7px 160.8px)"></i><i style="top:179.99px;height:11.19px;background:linear-gradient(90deg,#16173a 0.0px 10.1px,#262c7a 10.1px 30.2px,#1e2262 30.2px 50.2px,#2e3c8c 50.2px 70.4px,#262c7a 70.4px 100.5px,#1e2262 100.5px 110.6px,#2e3c8c 110.6px 120.6px,#3a5090 120.6px 130.7px,#262c7a 130.7px 140.7px,#16173a 140.7px 150.8px,#1e2262 150.8px 160.8px)"></i><i style="top:190.58px;height:11.19px;background:linear-gradient(90deg,#0c0c14 0.0px 10.1px,#16173a 10.1px 20.1px,#262c7a 20.1px 40.2px,#4a6888 40.2px 50.2px,#262c7a 50.2px 60.3px,#1e2262 60.3px 100.5px,#3a5090 100.5px 110.6px,#1e2262 110.6px 130.7px,#3a5090 130.7px 140.7px,#262c7a 140.7px 150.8px,#1e2262 150.8px 160.8px)"></i><i style="top:201.16px;height:11.19px;background:linear-gradient(90deg,#1e2262 0.0px 10.1px,#4a6888 10.1px 30.2px,#16173a 30.2px 40.2px,#262c7a 40.2px 50.2px,#2e3c8c 50.2px 60.3px,#262c7a 60.3px 80.4px,#1e2262 80.4px 90.5px,#2e3c8c 90.5px 110.6px,#4a6888 110.6px 130.7px,#c8844c 130.7px 140.7px,#5e7a86 140.7px 150.8px,#4a6888 150.8px 160.8px)"></i><i style="top:211.75px;height:11.19px;background:linear-gradient(90deg,#2e3c8c 0.0px 10.1px,#1e2262 10.1px 30.2px,#16173a 30.2px 40.2px,#262c7a 40.2px 50.2px,#3a5090 50.2px 60.3px,#262c7a 60.3px 70.4px,#0c0c14 70.4px 80.4px,#3a5090 80.4px 110.6px,#262c7a 110.6px 120.6px,#16173a 120.6px 130.7px,#1e2262 130.7px 140.7px,#262c7a 140.7px 150.8px,#16173a 150.8px 160.8px)"></i><i style="top:222.34px;height:11.19px;background:linear-gradient(90deg,#16173a 0.0px 10.1px,#262c7a 10.1px 20.1px,#1e2262 20.1px 40.2px,#16173a 40.2px 50.2px,#262c7a 50.2px 60.3px,#0c0c14 60.3px 70.4px,#16173a 70.4px 80.4px,#2e3c8c 80.4px 90.5px,#1e2262 90.5px 100.5px,#3a5090 100.5px 110.6px,#262c7a 110.6px 120.6px,#2e3c8c 120.6px 130.7px,#262c7a 130.7px 150.8px,#1e2262 150.8px 160.8px)"></i><i style="top:232.93px;height:11.19px;background:linear-gradient(90deg,#262c7a 0.0px 10.1px,#16173a 10.1px 30.2px,#1e2262 30.2px 40.2px,#0c0c14 40.2px 50.2px,#3a5090 50.2px 60.3px,#262c7a 60.3px 70.4px,#1e2262 70.4px 90.5px,#16173a 90.5px 100.5px,#262c7a 100.5px 110.6px,#1e2262 110.6px 160.8px)"></i><i style="top:243.51px;height:11.19px;background:linear-gradient(90deg,#0c0c14 0.0px 10.1px,#262c7a 10.1px 30.2px,#0c0c14 30.2px 40.2px,#262c7a 40.2px 60.3px,#2e3c8c 60.3px 70.4px,#262c7a 70.4px 80.4px,#1e2262 80.4px 100.5px,#16173a 100.5px 110.6px,#0c0c14 110.6px 120.6px,#262c7a 120.6px 150.8px,#0c0c14 150.8px 160.8px)"></i></div><div style="position:absolute;left:482.5px;top:1019.3px;width:160.4px;height:254.3px;overflow:hidden"><i style="top:0.00px;height:11.20px;background:#2c3391"></i><i style="top:10.60px;height:11.20px;background:#2c3391"></i><i style="top:21.19px;height:11.20px;background:#2c3391"></i><i style="top:31.79px;height:11.20px;background:linear-gradient(90deg,#2c3391 0.0px 70.2px,#2e43a2 70.2px 110.3px,#2c3391 110.3px 160.4px)"></i><i style="top:42.38px;height:11.20px;background:linear-gradient(90deg,#2c3391 0.0px 60.2px,#304dad 60.2px 70.2px,#3069c3 70.2px 80.2px,#287cce 80.2px 90.2px,#3069c3 90.2px 100.2px,#3054b3 100.2px 110.3px,#2e43a2 110.3px 120.3px,#2c3391 120.3px 160.4px)"></i><i style="top:52.98px;height:11.20px;background:linear-gradient(90deg,#2c3391 0.0px 50.1px,#304dad 50.1px 60.2px,#15a5d7 60.2px 70.2px,#43b27b 70.2px 80.2px,#48b468 80.2px 90.2px,#4bb65b 90.2px 100.2px,#19a9ce 100.2px 110.3px,#3069c3 110.3px 120.3px,#2e43a2 120.3px 130.3px,#2c3391 130.3px 160.4px)"></i><i style="top:63.58px;height:11.20px;background:linear-gradient(90deg,#2c3391 0.0px 50.1px,#287cce 50.1px 60.2px,#4bb65b 60.2px 70.2px,#b6d039 70.2px 80.2px,#e8dc20 80.2px 90.2px,#a8cc40 90.2px 100.2px,#4eb74e 100.2px 110.3px,#2088d4 110.3px 120.3px,#2e43a2 120.3px 130.3px,#2c3391 130.3px 160.4px)"></i><i style="top:74.17px;height:11.20px;background:linear-gradient(90deg,#2c3391 0.0px 50.1px,#20b0c0 50.1px 60.2px,#98c841 60.2px 70.2px,#f5a020 70.2px 80.2px,#f38626 80.2px 90.2px,#ebcd20 90.2px 100.2px,#4eb74e 100.2px 110.3px,#15a5d7 110.3px 120.3px,#2f48a8 120.3px 130.3px,#2c3391 130.3px 160.4px)"></i><i style="top:84.77px;height:11.20px;background:linear-gradient(90deg,#2c3391 0.0px 50.1px,#20b0c0 50.1px 60.2px,#a8cc40 60.2px 70.2px,#f5a020 70.2px 80.2px,#f2732b 80.2px 90.2px,#ebcd20 90.2px 100.2px,#4eb74e 100.2px 110.3px,#1894da 110.3px 120.3px,#2e43a2 120.3px 130.3px,#2c3391 130.3px 160.4px)"></i><i style="top:95.36px;height:11.20px;background:linear-gradient(90deg,#2c3391 0.0px 50.1px,#15a5d7 50.1px 60.2px,#88c543 60.2px 70.2px,#f0b620 70.2px 80.2px,#f5a020 80.2px 90.2px,#c4d332 90.2px 100.2px,#4eb74e 100.2px 110.3px,#3070c8 110.3px 120.3px,#2d3e9c 120.3px 130.3px,#2c3391 130.3px 160.4px)"></i><i style="top:105.96px;height:11.20px;background:linear-gradient(90deg,#2c3391 0.0px 50.1px,#287cce 50.1px 60.2px,#50b848 60.2px 70.2px,#e1da24 70.2px 80.2px,#e8dc20 80.2px 90.2px,#afce3c 90.2px 100.2px,#4eb74e 100.2px 110.3px,#3070c8 110.3px 120.3px,#2c3391 120.3px 160.4px)"></i><i style="top:116.55px;height:11.20px;background:linear-gradient(90deg,#2c3391 0.0px 50.1px,#15a5d7 50.1px 60.2px,#50b848 60.2px 70.2px,#bdd135 70.2px 90.2px,#afce3c 90.2px 100.2px,#4eb74e 100.2px 110.3px,#15a5d7 110.3px 120.3px,#2c3391 120.3px 160.4px)"></i><i style="top:127.15px;height:11.20px;background:linear-gradient(90deg,#2c3391 0.0px 40.1px,#2e43a2 40.1px 50.1px,#3cb08f 50.1px 60.2px,#78c144 60.2px 70.2px,#c4d332 70.2px 90.2px,#b6d039 90.2px 100.2px,#4eb74e 100.2px 110.3px,#2cb0ab 110.3px 120.3px,#2e43a2 120.3px 130.3px,#2c3391 130.3px 160.4px)"></i><i style="top:137.75px;height:11.20px;background:linear-gradient(90deg,#2c3391 0.0px 50.1px,#20b0c0 50.1px 60.2px,#50b848 60.2px 70.2px,#bdd135 70.2px 80.2px,#c4d332 80.2px 90.2px,#afce3c 90.2px 100.2px,#4bb65b 100.2px 110.3px,#15a5d7 110.3px 120.3px,#2c3391 120.3px 160.4px)"></i><i style="top:148.34px;height:11.20px;background:linear-gradient(90deg,#2c3391 0.0px 50.1px,#287cce 50.1px 60.2px,#4eb74e 60.2px 70.2px,#b6d039 70.2px 80.2px,#bdd135 80.2px 90.2px,#88c543 90.2px 100.2px,#4bb65b 100.2px 110.3px,#3070c8 110.3px 120.3px,#2c3391 120.3px 160.4px)"></i><i style="top:158.94px;height:11.20px;background:linear-gradient(90deg,#2c3391 0.0px 50.1px,#20b0c0 50.1px 60.2px,#98c841 60.2px 70.2px,#e8dc20 70.2px 90.2px,#afce3c 90.2px 100.2px,#43b27b 100.2px 110.3px,#3070c8 110.3px 120.3px,#2c3391 120.3px 160.4px)"></i><i style="top:169.53px;height:11.20px;background:linear-gradient(90deg,#2c3391 0.0px 40.1px,#2e43a2 40.1px 50.1px,#3cb08f 50.1px 60.2px,#b6d039 60.2px 70.2px,#f5a020 70.2px 80.2px,#f49a22 80.2px 90.2px,#e8dc20 90.2px 100.2px,#4eb74e 100.2px 110.3px,#3070c8 110.3px 120.3px,#2c3391 120.3px 160.4px)"></i><i style="top:180.13px;height:11.20px;background:linear-gradient(90deg,#2c3391 0.0px 40.1px,#2e43a2 40.1px 50.1px,#3cb08f 50.1px 60.2px,#a8cc40 60.2px 70.2px,#f5a020 70.2px 80.2px,#f49a22 80.2px 90.2px,#e8dc20 90.2px 100.2px,#4eb74e 100.2px 110.3px,#305ebb 110.3px 120.3px,#2c3391 120.3px 160.4px)"></i><i style="top:190.72px;height:11.20px;background:linear-gradient(90deg,#2c3391 0.0px 50.1px,#15a5d7 50.1px 60.2px,#60bc47 60.2px 70.2px,#e8dc20 70.2px 90.2px,#afce3c 90.2px 100.2px,#3cb08f 100.2px 110.3px,#3069c3 110.3px 120.3px,#2c3391 120.3px 160.4px)"></i><i style="top:201.32px;height:11.20px;background:linear-gradient(90deg,#2c3391 0.0px 50.1px,#2f48a8 50.1px 60.2px,#2cb0ab 60.2px 70.2px,#4eb74e 70.2px 100.2px,#15a5d7 100.2px 110.3px,#2e43a2 110.3px 120.3px,#2c3391 120.3px 160.4px)"></i><i style="top:211.92px;height:11.20px;background:linear-gradient(90deg,#2c3391 0.0px 60.2px,#2e43a2 60.2px 70.2px,#287cce 70.2px 80.2px,#10a0e0 80.2px 90.2px,#3069c3 90.2px 100.2px,#2e43a2 100.2px 110.3px,#2c3391 110.3px 160.4px)"></i><i style="top:222.51px;height:11.20px;background:linear-gradient(90deg,#2c3391 0.0px 70.2px,#2e43a2 70.2px 100.2px,#2c3391 100.2px 160.4px)"></i><i style="top:233.11px;height:11.20px;background:#2c3391"></i><i style="top:243.70px;height:11.20px;background:#2c3391"></i></div><div style="position:absolute;left:688.9px;top:1019.3px;width:160px;height:254.1px;overflow:hidden"><i style="top:0.00px;height:11.19px;background:linear-gradient(90deg,#0c0c14 0.0px 10.0px,#16173a 10.0px 20.0px,#4a6888 20.0px 30.0px,#16173a 30.0px 70.0px,#0c0c14 70.0px 80.0px,#16173a 80.0px 90.0px,#1e2262 90.0px 100.0px,#16173a 100.0px 110.0px,#2e3c8c 110.0px 130.0px,#16173a 130.0px 140.0px,#0c0c14 140.0px 150.0px,#16173a 150.0px 160.0px)"></i><i style="top:10.59px;height:11.19px;background:linear-gradient(90deg,#16173a 0.0px 10.0px,#1e2262 10.0px 20.0px,#262c7a 20.0px 30.0px,#0c0c14 30.0px 40.0px,#2e3c8c 40.0px 50.0px,#16173a 50.0px 60.0px,#1e2262 60.0px 70.0px,#0c0c14 70.0px 100.0px,#2e3c8c 100.0px 110.0px,#16173a 110.0px 130.0px,#0c0c14 130.0px 140.0px,#3a5090 140.0px 150.0px,#16173a 150.0px 160.0px)"></i><i style="top:21.18px;height:11.19px;background:linear-gradient(90deg,#3a5090 0.0px 10.0px,#16173a 10.0px 20.0px,#0c0c14 20.0px 30.0px,#16173a 30.0px 50.0px,#262c7a 50.0px 60.0px,#16173a 60.0px 70.0px,#1e2262 70.0px 100.0px,#16173a 100.0px 110.0px,#2e3c8c 110.0px 130.0px,#0c0c14 130.0px 140.0px,#3a5090 140.0px 150.0px,#0c0c14 150.0px 160.0px)"></i><i style="top:31.76px;height:11.19px;background:linear-gradient(90deg,#262c7a 0.0px 10.0px,#0c0c14 10.0px 20.0px,#262c7a 20.0px 30.0px,#0c0c14 30.0px 40.0px,#1e2262 40.0px 50.0px,#2e3c8c 50.0px 60.0px,#16173a 60.0px 80.0px,#0c0c14 80.0px 90.0px,#2e3c8c 90.0px 100.0px,#1e2262 100.0px 110.0px,#262c7a 110.0px 120.0px,#16173a 120.0px 150.0px,#0c0c14 150.0px 160.0px)"></i><i style="top:42.35px;height:11.19px;background:linear-gradient(90deg,#0c0c14 0.0px 10.0px,#3a5090 10.0px 20.0px,#262c7a 20.0px 30.0px,#0c0c14 30.0px 40.0px,#2e3c8c 40.0px 50.0px,#0c0c14 50.0px 60.0px,#1e2262 60.0px 70.0px,#262c7a 70.0px 80.0px,#16173a 80.0px 100.0px,#0c0c14 100.0px 110.0px,#2e3c8c 110.0px 120.0px,#1e2262 120.0px 130.0px,#262c7a 130.0px 140.0px,#16173a 140.0px 160.0px)"></i><i style="top:52.94px;height:11.19px;background:linear-gradient(90deg,#262c7a 0.0px 20.0px,#1e2262 20.0px 30.0px,#0c0c14 30.0px 40.0px,#1e2262 40.0px 60.0px,#16173a 60.0px 70.0px,#262c7a 70.0px 80.0px,#1e2262 80.0px 90.0px,#16173a 90.0px 100.0px,#2e3c8c 100.0px 110.0px,#0c0c14 110.0px 120.0px,#262c7a 120.0px 130.0px,#1e2262 130.0px 150.0px,#4a6888 150.0px 160.0px)"></i><i style="top:63.53px;height:11.19px;background:linear-gradient(90deg,#1e2262 0.0px 10.0px,#16173a 10.0px 30.0px,#1e2262 30.0px 40.0px,#16173a 40.0px 50.0px,#2e3c8c 50.0px 60.0px,#1e2262 60.0px 70.0px,#16173a 70.0px 80.0px,#1e2262 80.0px 90.0px,#16173a 90.0px 100.0px,#0c0c14 100.0px 120.0px,#16173a 120.0px 140.0px,#0c0c14 140.0px 150.0px,#16173a 150.0px 160.0px)"></i><i style="top:74.11px;height:11.19px;background:linear-gradient(90deg,#0c0c14 0.0px 10.0px,#1e2262 10.0px 20.0px,#2e3c8c 20.0px 30.0px,#1e2262 30.0px 40.0px,#262c7a 40.0px 50.0px,#16173a 50.0px 80.0px,#4a6888 80.0px 90.0px,#16173a 90.0px 100.0px,#262c7a 100.0px 120.0px,#3a5090 120.0px 130.0px,#16173a 130.0px 140.0px,#262c7a 140.0px 150.0px,#0c0c14 150.0px 160.0px)"></i><i style="top:84.70px;height:11.19px;background:linear-gradient(90deg,#1e2262 0.0px 30.0px,#3a5090 30.0px 40.0px,#1e2262 40.0px 70.0px,#262c7a 70.0px 80.0px,#0c0c14 80.0px 100.0px,#3a5090 100.0px 110.0px,#0c0c14 110.0px 120.0px,#3a5090 120.0px 130.0px,#16173a 130.0px 150.0px,#1e2262 150.0px 160.0px)"></i><i style="top:95.29px;height:11.19px;background:linear-gradient(90deg,#16173a 0.0px 10.0px,#1e2262 10.0px 30.0px,#5e7a86 30.0px 40.0px,#1e2262 40.0px 70.0px,#16173a 70.0px 80.0px,#5a7888 80.0px 90.0px,#262c7a 90.0px 100.0px,#3a5090 100.0px 110.0px,#262c7a 110.0px 120.0px,#0c0c14 120.0px 130.0px,#262c7a 130.0px 140.0px,#16173a 140.0px 160.0px)"></i><i style="top:105.88px;height:11.19px;background:linear-gradient(90deg,#1e2262 0.0px 10.0px,#16173a 10.0px 30.0px,#3a5090 30.0px 40.0px,#16173a 40.0px 60.0px,#3a5090 60.0px 70.0px,#262c7a 70.0px 80.0px,#4a6888 80.0px 90.0px,#3a5090 90.0px 120.0px,#1e2262 120.0px 130.0px,#262c7a 130.0px 140.0px,#0c0c14 140.0px 160.0px)"></i><i style="top:116.46px;height:11.19px;background:linear-gradient(90deg,#1e2262 0.0px 10.0px,#0c0c14 10.0px 40.0px,#1e2262 40.0px 50.0px,#16173a 50.0px 60.0px,#262c7a 60.0px 70.0px,#2e3c8c 70.0px 80.0px,#b07c58 80.0px 90.0px,#eca445 90.0px 100.0px,#2e3c8c 100.0px 110.0px,#3a5090 110.0px 120.0px,#1e2262 120.0px 130.0px,#262c7a 130.0px 160.0px)"></i><i style="top:127.05px;height:11.19px;background:linear-gradient(90deg,#16173a 0.0px 20.0px,#1e2262 20.0px 40.0px,#16173a 40.0px 50.0px,#262c7a 50.0px 60.0px,#16173a 60.0px 70.0px,#262c7a 70.0px 80.0px,#867e74 80.0px 90.0px,#fff6d0 90.0px 100.0px,#eca445 100.0px 110.0px,#ffe080 110.0px 120.0px,#3a5090 120.0px 130.0px,#2e3c8c 130.0px 140.0px,#0c0c14 140.0px 150.0px,#1e2262 150.0px 160.0px)"></i><i style="top:137.64px;height:11.19px;background:linear-gradient(90deg,#16173a 0.0px 10.0px,#262c7a 10.0px 20.0px,#16173a 20.0px 40.0px,#0c0c14 40.0px 60.0px,#262c7a 60.0px 70.0px,#1e2262 70.0px 80.0px,#eca445 80.0px 90.0px,#fff6d0 90.0px 100.0px,#eca445 100.0px 110.0px,#c8844c 110.0px 120.0px,#16173a 120.0px 140.0px,#2e3c8c 140.0px 150.0px,#0c0c14 150.0px 160.0px)"></i><i style="top:148.22px;height:11.19px;background:linear-gradient(90deg,#3a5090 0.0px 10.0px,#0c0c14 10.0px 20.0px,#262c7a 20.0px 30.0px,#16173a 30.0px 40.0px,#262c7a 40.0px 50.0px,#16173a 50.0px 60.0px,#1e2262 60.0px 70.0px,#16173a 70.0px 80.0px,#1e2262 80.0px 90.0px,#4a6888 90.0px 100.0px,#c8844c 100.0px 110.0px,#2e3c8c 110.0px 130.0px,#1e2262 130.0px 140.0px,#16173a 140.0px 160.0px)"></i><i style="top:158.81px;height:11.19px;background:linear-gradient(90deg,#0c0c14 0.0px 10.0px,#262c7a 10.0px 30.0px,#0c0c14 30.0px 40.0px,#262c7a 40.0px 50.0px,#0c0c14 50.0px 60.0px,#16173a 60.0px 70.0px,#262c7a 70.0px 80.0px,#3a5090 80.0px 100.0px,#1e2262 100.0px 110.0px,#3a5090 110.0px 120.0px,#867e74 120.0px 130.0px,#262c7a 130.0px 140.0px,#16173a 140.0px 160.0px)"></i><i style="top:169.40px;height:11.19px;background:linear-gradient(90deg,#0c0c14 0.0px 10.0px,#262c7a 10.0px 20.0px,#1e2262 20.0px 30.0px,#262c7a 30.0px 40.0px,#3a5090 40.0px 50.0px,#2e3c8c 50.0px 60.0px,#1e2262 60.0px 90.0px,#16173a 90.0px 100.0px,#262c7a 100.0px 110.0px,#16173a 110.0px 120.0px,#2e3c8c 120.0px 140.0px,#0c0c14 140.0px 160.0px)"></i><i style="top:179.99px;height:11.19px;background:linear-gradient(90deg,#1e2262 0.0px 10.0px,#4a6888 10.0px 20.0px,#16173a 20.0px 30.0px,#262c7a 30.0px 40.0px,#4a6888 40.0px 50.0px,#262c7a 50.0px 60.0px,#5e7a86 60.0px 70.0px,#262c7a 70.0px 100.0px,#3a5090 100.0px 110.0px,#262c7a 110.0px 120.0px,#1e2262 120.0px 140.0px,#262c7a 140.0px 160.0px)"></i><i style="top:190.58px;height:11.19px;background:linear-gradient(90deg,#0c0c14 0.0px 10.0px,#1e2262 10.0px 30.0px,#3a5090 30.0px 40.0px,#262c7a 40.0px 50.0px,#4a6888 50.0px 60.0px,#3a5090 60.0px 70.0px,#1e2262 70.0px 80.0px,#4a6888 80.0px 90.0px,#1e2262 90.0px 100.0px,#3a5090 100.0px 110.0px,#262c7a 110.0px 120.0px,#0c0c14 120.0px 130.0px,#1e2262 130.0px 140.0px,#262c7a 140.0px 150.0px,#1e2262 150.0px 160.0px)"></i><i style="top:201.16px;height:11.19px;background:linear-gradient(90deg,#262c7a 0.0px 10.0px,#1e2262 10.0px 40.0px,#4a6888 40.0px 50.0px,#1e2262 50.0px 60.0px,#16173a 60.0px 70.0px,#1e2262 70.0px 90.0px,#262c7a 90.0px 100.0px,#0c0c14 100.0px 110.0px,#2e3c8c 110.0px 120.0px,#262c7a 120.0px 130.0px,#2e3c8c 130.0px 140.0px,#262c7a 140.0px 160.0px)"></i><i style="top:211.75px;height:11.19px;background:linear-gradient(90deg,#16173a 0.0px 10.0px,#3a5090 10.0px 30.0px,#16173a 30.0px 40.0px,#262c7a 40.0px 50.0px,#4a6888 50.0px 60.0px,#2e3c8c 60.0px 70.0px,#0c0c14 70.0px 80.0px,#16173a 80.0px 90.0px,#1e2262 90.0px 110.0px,#3a5090 110.0px 120.0px,#262c7a 120.0px 130.0px,#1e2262 130.0px 160.0px)"></i><i style="top:222.34px;height:11.19px;background:linear-gradient(90deg,#262c7a 0.0px 10.0px,#1e2262 10.0px 20.0px,#262c7a 20.0px 60.0px,#1e2262 60.0px 70.0px,#16173a 70.0px 80.0px,#2e3c8c 80.0px 90.0px,#262c7a 90.0px 100.0px,#1e2262 100.0px 110.0px,#16173a 110.0px 130.0px,#1e2262 130.0px 160.0px)"></i><i style="top:232.93px;height:11.19px;background:linear-gradient(90deg,#3a5090 0.0px 10.0px,#262c7a 10.0px 20.0px,#16173a 20.0px 30.0px,#262c7a 30.0px 40.0px,#0c0c14 40.0px 50.0px,#2e3c8c 50.0px 60.0px,#0c0c14 60.0px 70.0px,#4a6888 70.0px 80.0px,#2e3c8c 80.0px 90.0px,#0c0c14 90.0px 110.0px,#1e2262 110.0px 120.0px,#3a5090 120.0px 130.0px,#1e2262 130.0px 160.0px)"></i><i style="top:243.51px;height:11.19px;background:linear-gradient(90deg,#262c7a 0.0px 20.0px,#16173a 20.0px 30.0px,#3a5090 30.0px 40.0px,#262c7a 40.0px 60.0px,#1e2262 60.0px 80.0px,#262c7a 80.0px 100.0px,#16173a 100.0px 110.0px,#1e2262 110.0px 130.0px,#16173a 130.0px 150.0px,#1e2262 150.0px 160.0px)"></i></div><div style="position:absolute;left:898.8px;top:1020.9px;width:159.5px;height:254.4px;overflow:hidden"><i style="top:0.00px;height:11.20px;background:#2c3391"></i><i style="top:10.60px;height:11.20px;background:#2c3391"></i><i style="top:21.20px;height:11.20px;background:linear-gradient(90deg,#2c3391 0.0px 69.8px,#2e43a2 69.8px 99.7px,#2c3391 99.7px 159.5px)"></i><i style="top:31.80px;height:11.20px;background:linear-gradient(90deg,#2c3391 0.0px 49.8px,#2e43a2 49.8px 59.8px,#305ebb 59.8px 69.8px,#287cce 69.8px 79.8px,#149add 79.8px 89.7px,#287cce 89.7px 99.7px,#305ebb 99.7px 109.7px,#2e43a2 109.7px 119.6px,#2c3391 119.6px 159.5px)"></i><i style="top:42.40px;height:11.20px;background:linear-gradient(90deg,#2c3391 0.0px 49.8px,#305ebb 49.8px 59.8px,#20b0c0 59.8px 69.8px,#4eb74e 69.8px 89.7px,#43b27b 89.7px 99.7px,#15a5d7 99.7px 109.7px,#2e43a2 109.7px 119.6px,#2c3391 119.6px 159.5px)"></i><i style="top:53.00px;height:11.20px;background:linear-gradient(90deg,#2c3391 0.0px 39.9px,#2e43a2 39.9px 49.8px,#287cce 49.8px 59.8px,#4eb74e 59.8px 69.8px,#bdd135 69.8px 79.8px,#c4d332 79.8px 89.7px,#78c144 89.7px 99.7px,#34b09d 99.7px 109.7px,#305ebb 109.7px 119.6px,#2c3391 119.6px 159.5px)"></i><i style="top:63.60px;height:11.20px;background:linear-gradient(90deg,#2c3391 0.0px 49.8px,#287cce 49.8px 59.8px,#4eb74e 59.8px 69.8px,#e1da24 69.8px 79.8px,#e8dc20 79.8px 89.7px,#88c543 89.7px 99.7px,#3cb08f 99.7px 109.7px,#305ebb 109.7px 119.6px,#2c3391 119.6px 159.5px)"></i><i style="top:74.20px;height:11.20px;background:linear-gradient(90deg,#2c3391 0.0px 49.8px,#15a5d7 49.8px 59.8px,#4eb74e 59.8px 69.8px,#b6d039 69.8px 89.7px,#50b848 89.7px 99.7px,#3cb08f 99.7px 109.7px,#305ebb 109.7px 119.6px,#2c3391 119.6px 159.5px)"></i><i style="top:84.80px;height:11.20px;background:linear-gradient(90deg,#2c3391 0.0px 49.8px,#19a9ce 49.8px 59.8px,#4eb74e 59.8px 69.8px,#b6d039 69.8px 89.7px,#50b848 89.7px 99.7px,#3cb08f 99.7px 109.7px,#305ebb 109.7px 119.6px,#2c3391 119.6px 159.5px)"></i><i style="top:95.40px;height:11.20px;background:linear-gradient(90deg,#2c3391 0.0px 49.8px,#287cce 49.8px 59.8px,#4eb74e 59.8px 69.8px,#b6d039 69.8px 89.7px,#50b848 89.7px 99.7px,#2cb0ab 99.7px 109.7px,#305ebb 109.7px 119.6px,#2c3391 119.6px 159.5px)"></i><i style="top:106.00px;height:11.20px;background:linear-gradient(90deg,#2c3391 0.0px 39.9px,#2e43a2 39.9px 49.8px,#3070c8 49.8px 59.8px,#4eb74e 59.8px 69.8px,#a8cc40 69.8px 89.7px,#50b848 89.7px 99.7px,#2cb0ab 99.7px 109.7px,#305ebb 109.7px 119.6px,#2c3391 119.6px 159.5px)"></i><i style="top:116.60px;height:11.20px;background:linear-gradient(90deg,#2c3391 0.0px 39.9px,#3054b3 39.9px 49.8px,#4eb74e 49.8px 59.8px,#e8dc20 59.8px 69.8px,#f49323 69.8px 79.8px,#f38626 79.8px 89.7px,#e8dc20 89.7px 99.7px,#4eb74e 99.7px 109.7px,#149add 109.7px 119.6px,#2e43a2 119.6px 129.6px,#2c3391 129.6px 159.5px)"></i><i style="top:127.20px;height:11.20px;background:linear-gradient(90deg,#2c3391 0.0px 39.9px,#20b0c0 39.9px 49.8px,#c4d332 49.8px 59.8px,#ef592f 59.8px 69.8px,#e8202a 69.8px 89.7px,#f0662e 89.7px 99.7px,#e8dc20 99.7px 109.7px,#48b468 109.7px 119.6px,#3054b3 119.6px 129.6px,#2c3391 129.6px 159.5px)"></i><i style="top:137.80px;height:11.20px;background:linear-gradient(90deg,#2c3391 0.0px 39.9px,#149add 39.9px 49.8px,#a8cc40 49.8px 59.8px,#f38626 59.8px 69.8px,#e8202a 69.8px 89.7px,#f27a2a 89.7px 99.7px,#c4d332 99.7px 109.7px,#34b09d 109.7px 119.6px,#2e43a2 119.6px 129.6px,#2c3391 129.6px 159.5px)"></i><i style="top:148.40px;height:11.20px;background:linear-gradient(90deg,#2c3391 0.0px 49.8px,#20b0c0 49.8px 59.8px,#4eb74e 59.8px 69.8px,#c4d332 69.8px 89.7px,#50b848 89.7px 99.7px,#3cb08f 99.7px 109.7px,#305ebb 109.7px 119.6px,#2c3391 119.6px 159.5px)"></i><i style="top:159.00px;height:11.20px;background:linear-gradient(90deg,#2c3391 0.0px 49.8px,#149add 49.8px 59.8px,#4eb74e 59.8px 69.8px,#88c543 69.8px 89.7px,#50b848 89.7px 99.7px,#15a5d7 99.7px 109.7px,#305ebb 109.7px 119.6px,#2c3391 119.6px 159.5px)"></i><i style="top:169.60px;height:11.20px;background:linear-gradient(90deg,#2c3391 0.0px 49.8px,#20b0c0 49.8px 59.8px,#4eb74e 59.8px 69.8px,#afce3c 69.8px 79.8px,#b6d039 79.8px 89.7px,#50b848 89.7px 99.7px,#20b0c0 99.7px 109.7px,#305ebb 109.7px 119.6px,#2c3391 119.6px 159.5px)"></i><i style="top:180.20px;height:11.20px;background:linear-gradient(90deg,#2c3391 0.0px 39.9px,#2e43a2 39.9px 49.8px,#34b09d 49.8px 59.8px,#4eb74e 59.8px 69.8px,#afce3c 69.8px 79.8px,#b6d039 79.8px 89.7px,#50b848 89.7px 99.7px,#20b0c0 99.7px 109.7px,#3054b3 109.7px 119.6px,#2c3391 119.6px 159.5px)"></i><i style="top:190.80px;height:11.20px;background:linear-gradient(90deg,#2c3391 0.0px 39.9px,#2e43a2 39.9px 49.8px,#15a5d7 49.8px 59.8px,#4eb74e 59.8px 69.8px,#b6d039 69.8px 89.7px,#50b848 89.7px 99.7px,#15a5d7 99.7px 109.7px,#3054b3 109.7px 119.6px,#2c3391 119.6px 159.5px)"></i><i style="top:201.40px;height:11.20px;background:linear-gradient(90deg,#2c3391 0.0px 49.8px,#15a5d7 49.8px 59.8px,#4eb74e 59.8px 69.8px,#e8dc20 69.8px 89.7px,#50b848 89.7px 99.7px,#15a5d7 99.7px 109.7px,#304dad 109.7px 119.6px,#2c3391 119.6px 159.5px)"></i><i style="top:212.00px;height:11.20px;background:linear-gradient(90deg,#2c3391 0.0px 49.8px,#287cce 49.8px 59.8px,#4eb74e 59.8px 69.8px,#88c543 69.8px 79.8px,#60bc47 79.8px 89.7px,#4bb65b 89.7px 99.7px,#287cce 99.7px 109.7px,#2e43a2 109.7px 119.6px,#2c3391 119.6px 159.5px)"></i><i style="top:222.60px;height:11.20px;background:linear-gradient(90deg,#2c3391 0.0px 49.8px,#2e43a2 49.8px 59.8px,#287cce 59.8px 69.8px,#20b0c0 69.8px 89.7px,#15a5d7 89.7px 99.7px,#304dad 99.7px 109.7px,#2c3391 109.7px 159.5px)"></i><i style="top:233.20px;height:11.20px;background:linear-gradient(90deg,#2c3391 0.0px 59.8px,#2e43a2 59.8px 69.8px,#305ebb 69.8px 79.8px,#3054b3 79.8px 89.7px,#304dad 89.7px 99.7px,#2c3391 99.7px 159.5px)"></i><i style="top:243.80px;height:11.20px;background:#2c3391"></i></div><div style="position:absolute;left:1105px;top:1020.9px;width:159.6px;height:254.4px;overflow:hidden"><i style="top:0.00px;height:11.20px;background:linear-gradient(90deg,#262c7a 0.0px 10.0px,#1e2262 10.0px 19.9px,#3a5090 19.9px 29.9px,#2e3c8c 29.9px 39.9px,#0c0c14 39.9px 49.9px,#3a5090 49.9px 59.8px,#16173a 59.8px 69.8px,#262c7a 69.8px 89.8px,#2e3c8c 89.8px 99.8px,#16173a 99.8px 109.7px,#262c7a 109.7px 119.7px,#1e2262 119.7px 139.7px,#16173a 139.7px 149.6px,#262c7a 149.6px 159.6px)"></i><i style="top:10.60px;height:11.20px;background:linear-gradient(90deg,#16173a 0.0px 10.0px,#1e2262 10.0px 19.9px,#16173a 19.9px 39.9px,#1e2262 39.9px 79.8px,#2e3c8c 79.8px 89.8px,#1e2262 89.8px 99.8px,#0c0c14 99.8px 119.7px,#16173a 119.7px 129.7px,#1e2262 129.7px 139.7px,#2e3c8c 139.7px 149.6px,#16173a 149.6px 159.6px)"></i><i style="top:21.20px;height:11.20px;background:linear-gradient(90deg,#2e3c8c 0.0px 10.0px,#1e2262 10.0px 19.9px,#0c0c14 19.9px 29.9px,#262c7a 29.9px 39.9px,#1e2262 39.9px 59.8px,#16173a 59.8px 69.8px,#0c0c14 69.8px 79.8px,#2e3c8c 79.8px 99.8px,#1e2262 99.8px 119.7px,#16173a 119.7px 129.7px,#1e2262 129.7px 139.7px,#3a5090 139.7px 149.6px,#16173a 149.6px 159.6px)"></i><i style="top:31.80px;height:11.20px;background:linear-gradient(90deg,#0c0c14 0.0px 10.0px,#262c7a 10.0px 29.9px,#1e2262 29.9px 39.9px,#0c0c14 39.9px 49.9px,#262c7a 49.9px 59.8px,#0c0c14 59.8px 69.8px,#2e3c8c 69.8px 79.8px,#0c0c14 79.8px 89.8px,#16173a 89.8px 99.8px,#1e2262 99.8px 119.7px,#262c7a 119.7px 149.6px,#16173a 149.6px 159.6px)"></i><i style="top:42.40px;height:11.20px;background:linear-gradient(90deg,#16173a 0.0px 10.0px,#1e2262 10.0px 39.9px,#16173a 39.9px 49.9px,#2e3c8c 49.9px 69.8px,#16173a 69.8px 79.8px,#3a5090 79.8px 89.8px,#16173a 89.8px 109.7px,#1e2262 109.7px 119.7px,#16173a 119.7px 129.7px,#1e2262 129.7px 139.7px,#16173a 139.7px 159.6px)"></i><i style="top:53.00px;height:11.20px;background:linear-gradient(90deg,#262c7a 0.0px 10.0px,#0c0c14 10.0px 19.9px,#16173a 19.9px 29.9px,#262c7a 29.9px 39.9px,#2e3c8c 39.9px 49.9px,#16173a 49.9px 79.8px,#1e2262 79.8px 89.8px,#16173a 89.8px 99.8px,#3a5090 99.8px 109.7px,#16173a 109.7px 119.7px,#3a5090 119.7px 129.7px,#1e2262 129.7px 139.7px,#16173a 139.7px 149.6px,#1e2262 149.6px 159.6px)"></i><i style="top:63.60px;height:11.20px;background:linear-gradient(90deg,#1e2262 0.0px 10.0px,#16173a 10.0px 19.9px,#0c0c14 19.9px 29.9px,#1e2262 29.9px 59.8px,#262c7a 59.8px 89.8px,#0c0c14 89.8px 99.8px,#1e2262 99.8px 109.7px,#2e3c8c 109.7px 119.7px,#0c0c14 119.7px 129.7px,#3a5090 129.7px 139.7px,#16173a 139.7px 149.6px,#1e2262 149.6px 159.6px)"></i><i style="top:74.20px;height:11.20px;background:linear-gradient(90deg,#16173a 0.0px 10.0px,#2e3c8c 10.0px 19.9px,#16173a 19.9px 29.9px,#2e3c8c 29.9px 39.9px,#1e2262 39.9px 49.9px,#2e3c8c 49.9px 59.8px,#16173a 59.8px 79.8px,#262c7a 79.8px 99.8px,#1e2262 99.8px 109.7px,#4a6888 109.7px 119.7px,#3a5090 119.7px 129.7px,#1e2262 129.7px 149.6px,#0c0c14 149.6px 159.6px)"></i><i style="top:84.80px;height:11.20px;background:linear-gradient(90deg,#16173a 0.0px 10.0px,#1e2262 10.0px 19.9px,#16173a 19.9px 29.9px,#2e3c8c 29.9px 39.9px,#1e2262 39.9px 59.8px,#262c7a 59.8px 69.8px,#16173a 69.8px 79.8px,#2e3c8c 79.8px 89.8px,#16173a 89.8px 99.8px,#5a7888 99.8px 109.7px,#2e3c8c 109.7px 119.7px,#3a5090 119.7px 129.7px,#2e3c8c 129.7px 139.7px,#1e2262 139.7px 149.6px,#3a5090 149.6px 159.6px)"></i><i style="top:95.40px;height:11.20px;background:linear-gradient(90deg,#1e2262 0.0px 10.0px,#4a6888 10.0px 19.9px,#1e2262 19.9px 39.9px,#262c7a 39.9px 49.9px,#1e2262 49.9px 59.8px,#2e3c8c 59.8px 69.8px,#0c0c14 69.8px 79.8px,#262c7a 79.8px 99.8px,#3a5090 99.8px 109.7px,#2e3c8c 109.7px 119.7px,#3a5090 119.7px 129.7px,#1e2262 129.7px 159.6px)"></i><i style="top:106.00px;height:11.20px;background:linear-gradient(90deg,#262c7a 0.0px 10.0px,#16173a 10.0px 19.9px,#0c0c14 19.9px 29.9px,#1e2262 29.9px 39.9px,#262c7a 39.9px 49.9px,#5a7888 49.9px 59.8px,#1e2262 59.8px 69.8px,#262c7a 69.8px 79.8px,#3a5090 79.8px 99.8px,#16173a 99.8px 109.7px,#262c7a 109.7px 119.7px,#1e2262 119.7px 139.7px,#3a5090 139.7px 149.6px,#16173a 149.6px 159.6px)"></i><i style="top:116.60px;height:11.20px;background:linear-gradient(90deg,#1e2262 0.0px 10.0px,#3a5090 10.0px 39.9px,#1e2262 39.9px 49.9px,#262c7a 49.9px 59.8px,#16173a 59.8px 69.8px,#0c0c14 69.8px 79.8px,#16173a 79.8px 89.8px,#2e3c8c 89.8px 99.8px,#16173a 99.8px 119.7px,#2e3c8c 119.7px 129.7px,#262c7a 129.7px 149.6px,#16173a 149.6px 159.6px)"></i><i style="top:127.20px;height:11.20px;background:linear-gradient(90deg,#16173a 0.0px 19.9px,#262c7a 19.9px 29.9px,#4a6888 29.9px 39.9px,#262c7a 39.9px 69.8px,#0c0c14 69.8px 79.8px,#16173a 79.8px 89.8px,#1e2262 89.8px 99.8px,#4a6888 99.8px 109.7px,#1e2262 109.7px 119.7px,#262c7a 119.7px 139.7px,#1e2262 139.7px 149.6px,#2e3c8c 149.6px 159.6px)"></i><i style="top:137.80px;height:11.20px;background:linear-gradient(90deg,#262c7a 0.0px 10.0px,#2e3c8c 10.0px 19.9px,#1e2262 19.9px 29.9px,#262c7a 29.9px 39.9px,#4a6888 39.9px 49.9px,#2e3c8c 49.9px 59.8px,#1e2262 59.8px 69.8px,#16173a 69.8px 99.8px,#1e2262 99.8px 119.7px,#2e3c8c 119.7px 129.7px,#4a6888 129.7px 139.7px,#262c7a 139.7px 149.6px,#16173a 149.6px 159.6px)"></i><i style="top:148.40px;height:11.20px;background:linear-gradient(90deg,#2e3c8c 0.0px 10.0px,#0c0c14 10.0px 19.9px,#1e2262 19.9px 29.9px,#3a5090 29.9px 39.9px,#1e2262 39.9px 49.9px,#3a5090 49.9px 59.8px,#1e2262 59.8px 89.8px,#262c7a 89.8px 109.7px,#2e3c8c 109.7px 129.7px,#262c7a 129.7px 139.7px,#4a6888 139.7px 149.6px,#262c7a 149.6px 159.6px)"></i><i style="top:159.00px;height:11.20px;background:linear-gradient(90deg,#0c0c14 0.0px 10.0px,#262c7a 10.0px 29.9px,#1e2262 29.9px 39.9px,#262c7a 39.9px 79.8px,#5a7888 79.8px 89.8px,#262c7a 89.8px 99.8px,#5e7a86 99.8px 109.7px,#16173a 109.7px 119.7px,#2e3c8c 119.7px 129.7px,#16173a 129.7px 149.6px,#1e2262 149.6px 159.6px)"></i><i style="top:169.60px;height:11.20px;background:linear-gradient(90deg,#16173a 0.0px 10.0px,#1e2262 10.0px 19.9px,#3a5090 19.9px 49.9px,#4a6888 49.9px 59.8px,#3a5090 59.8px 69.8px,#262c7a 69.8px 79.8px,#0c0c14 79.8px 89.8px,#2e3c8c 89.8px 99.8px,#1e2262 99.8px 109.7px,#3a5090 109.7px 119.7px,#262c7a 119.7px 129.7px,#1e2262 129.7px 149.6px,#16173a 149.6px 159.6px)"></i><i style="top:180.20px;height:11.20px;background:linear-gradient(90deg,#262c7a 0.0px 10.0px,#1e2262 10.0px 19.9px,#5e7a86 19.9px 29.9px,#262c7a 29.9px 39.9px,#5a7888 39.9px 59.8px,#4a6888 59.8px 69.8px,#2e3c8c 69.8px 89.8px,#3a5090 89.8px 99.8px,#1e2262 99.8px 119.7px,#16173a 119.7px 139.7px,#101024 139.7px 149.6px,#262c7a 149.6px 159.6px)"></i><i style="top:190.80px;height:11.20px;background:linear-gradient(90deg,#16173a 0.0px 10.0px,#1e2262 10.0px 19.9px,#262c7a 19.9px 49.9px,#4a6888 49.9px 69.8px,#101024 69.8px 79.8px,#1e2262 79.8px 119.7px,#262c7a 119.7px 139.7px,#1e2262 139.7px 149.6px,#16173a 149.6px 159.6px)"></i><i style="top:201.40px;height:11.20px;background:linear-gradient(90deg,#16173a 0.0px 10.0px,#3a5090 10.0px 19.9px,#262c7a 19.9px 29.9px,#101024 29.9px 39.9px,#1e2262 39.9px 49.9px,#262c7a 49.9px 59.8px,#16173a 59.8px 69.8px,#2e3c8c 69.8px 79.8px,#16173a 79.8px 89.8px,#101024 89.8px 99.8px,#1e2262 99.8px 109.7px,#3a5090 109.7px 119.7px,#101024 119.7px 129.7px,#3a5090 129.7px 139.7px,#1e2262 139.7px 149.6px,#2e3c8c 149.6px 159.6px)"></i><i style="top:212.00px;height:11.20px;background:linear-gradient(90deg,#16173a 0.0px 10.0px,#262c7a 10.0px 19.9px,#101024 19.9px 39.9px,#1e2262 39.9px 49.9px,#16173a 49.9px 59.8px,#262c7a 59.8px 69.8px,#16173a 69.8px 89.8px,#1e2262 89.8px 99.8px,#2e3c8c 99.8px 119.7px,#1e2262 119.7px 129.7px,#2e3c8c 129.7px 139.7px,#1e2262 139.7px 149.6px,#0c0c14 149.6px 159.6px)"></i><i style="top:222.60px;height:11.20px;background:linear-gradient(90deg,#16173a 0.0px 39.9px,#0c0c14 39.9px 49.9px,#101024 49.9px 59.8px,#16173a 59.8px 69.8px,#2e3c8c 69.8px 79.8px,#0c0c14 79.8px 89.8px,#1e2262 89.8px 119.7px,#16173a 119.7px 129.7px,#262c7a 129.7px 139.7px,#1e2262 139.7px 159.6px)"></i><i style="top:233.20px;height:11.20px;background:linear-gradient(90deg,#0c0c14 0.0px 19.9px,#16173a 19.9px 29.9px,#1e2262 29.9px 49.9px,#262c7a 49.9px 69.8px,#2e3c8c 69.8px 89.8px,#101024 89.8px 99.8px,#1e2262 99.8px 109.7px,#3a5090 109.7px 119.7px,#16173a 119.7px 129.7px,#1e2262 129.7px 149.6px,#0c0c14 149.6px 159.6px)"></i><i style="top:243.80px;height:11.20px;background:linear-gradient(90deg,#0c0c14 0.0px 10.0px,#262c7a 10.0px 39.9px,#16173a 39.9px 49.9px,#1e2262 49.9px 59.8px,#262c7a 59.8px 69.8px,#3a5090 69.8px 79.8px,#1e2262 79.8px 89.8px,#0c0c14 89.8px 99.8px,#1e2262 99.8px 109.7px,#262c7a 109.7px 139.7px,#1e2262 139.7px 149.6px,#0c0c14 149.6px 159.6px)"></i></div><div style="position:absolute;left:1149px;top:412.7px;width:111px;height:152.5px;overflow:hidden"><i style="top:0.00px;height:4.41px;background:#2c3391"></i><i style="top:3.81px;height:4.41px;background:linear-gradient(90deg,#2c3391 0.0px 48.1px,#2d3a98 48.1px 70.3px,#2c3391 70.3px 111.0px)"></i><i style="top:7.62px;height:4.41px;background:linear-gradient(90deg,#2c3391 0.0px 40.7px,#2d3a98 40.7px 77.7px,#2c3391 77.7px 111.0px)"></i><i style="top:11.44px;height:4.41px;background:linear-gradient(90deg,#2c3391 0.0px 37.0px,#2d3a98 37.0px 48.1px,#2e409f 48.1px 70.3px,#2d3a98 70.3px 85.1px,#2c3391 85.1px 111.0px)"></i><i style="top:15.25px;height:4.41px;background:linear-gradient(90deg,#2c3391 0.0px 33.3px,#2d3a98 33.3px 40.7px,#2e409f 40.7px 48.1px,#2f47a6 48.1px 70.3px,#2e409f 70.3px 77.7px,#2d3a98 77.7px 88.8px,#2c3391 88.8px 111.0px)"></i><i style="top:19.06px;height:4.41px;background:linear-gradient(90deg,#2c3391 0.0px 29.6px,#2d3a98 29.6px 37.0px,#2e409f 37.0px 40.7px,#2f47a6 40.7px 48.1px,#304dad 48.1px 51.8px,#3055b4 51.8px 66.6px,#304dad 66.6px 70.3px,#2f47a6 70.3px 77.7px,#2e409f 77.7px 81.4px,#2d3a98 81.4px 88.8px,#2c3391 88.8px 111.0px)"></i><i style="top:22.88px;height:4.41px;background:linear-gradient(90deg,#2c3391 0.0px 25.9px,#2d3a98 25.9px 33.3px,#2e409f 33.3px 37.0px,#2f47a6 37.0px 40.7px,#304dad 40.7px 44.4px,#3055b4 44.4px 48.1px,#305ebb 48.1px 51.8px,#3067c1 51.8px 66.6px,#305ebb 66.6px 70.3px,#3055b4 70.3px 74.0px,#304dad 74.0px 77.7px,#2f47a6 77.7px 81.4px,#2e409f 81.4px 85.1px,#2d3a98 85.1px 92.5px,#2c3391 92.5px 111.0px)"></i><i style="top:26.69px;height:4.41px;background:linear-gradient(90deg,#2c3391 0.0px 22.2px,#2d3a98 22.2px 29.6px,#2e409f 29.6px 33.3px,#2f47a6 33.3px 37.0px,#304dad 37.0px 40.7px,#3055b4 40.7px 44.4px,#3067c1 44.4px 48.1px,#267fd0 48.1px 51.8px,#1c8ed7 51.8px 55.5px,#129dde 55.5px 62.9px,#1c8ed7 62.9px 66.6px,#267fd0 66.6px 70.3px,#3067c1 70.3px 74.0px,#305ebb 74.0px 77.7px,#304dad 77.7px 81.4px,#2f47a6 81.4px 85.1px,#2e409f 85.1px 88.8px,#2d3a98 88.8px 96.2px,#2c3391 96.2px 111.0px)"></i><i style="top:30.50px;height:4.41px;background:linear-gradient(90deg,#2c3391 0.0px 22.2px,#2d3a98 22.2px 29.6px,#2e409f 29.6px 33.3px,#304dad 33.3px 37.0px,#3055b4 37.0px 40.7px,#3067c1 40.7px 44.4px,#1c8ed7 44.4px 48.1px,#15a5d7 48.1px 51.8px,#1aaacb 51.8px 55.5px,#20b0c0 55.5px 59.2px,#2ab0ae 59.2px 62.9px,#20b0c0 62.9px 66.6px,#15a5d7 66.6px 70.3px,#1c8ed7 70.3px 74.0px,#3070c8 74.0px 77.7px,#305ebb 77.7px 81.4px,#304dad 81.4px 85.1px,#2e409f 85.1px 88.8px,#2d3a98 88.8px 96.2px,#2c3391 96.2px 111.0px)"></i><i style="top:34.31px;height:4.41px;background:linear-gradient(90deg,#2c3391 0.0px 18.5px,#2d3a98 18.5px 25.9px,#2e409f 25.9px 29.6px,#2f47a6 29.6px 33.3px,#3055b4 33.3px 37.0px,#3067c1 37.0px 40.7px,#1c8ed7 40.7px 44.4px,#1aaacb 44.4px 48.1px,#2ab0ae 48.1px 51.8px,#43b27b 51.8px 55.5px,#47b46b 55.5px 62.9px,#43b27b 62.9px 66.6px,#34b09d 66.6px 70.3px,#1aaacb 70.3px 74.0px,#1c8ed7 74.0px 77.7px,#3067c1 77.7px 81.4px,#3055b4 81.4px 85.1px,#2f47a6 85.1px 88.8px,#2e409f 88.8px 92.5px,#2d3a98 92.5px 99.9px,#2c3391 99.9px 111.0px)"></i><i style="top:38.12px;height:4.41px;background:linear-gradient(90deg,#2c3391 0.0px 18.5px,#2d3a98 18.5px 25.9px,#2e409f 25.9px 29.6px,#304dad 29.6px 33.3px,#305ebb 33.3px 37.0px,#267fd0 37.0px 40.7px,#15a5d7 40.7px 44.4px,#34b09d 44.4px 48.1px,#47b46b 48.1px 51.8px,#60bc47 51.8px 55.5px,#88c543 55.5px 62.9px,#74c045 62.9px 66.6px,#4bb65b 66.6px 70.3px,#3eb08c 70.3px 74.0px,#1aaacb 74.0px 77.7px,#267fd0 77.7px 81.4px,#305ebb 81.4px 85.1px,#304dad 85.1px 88.8px,#2e409f 88.8px 92.5px,#2d3a98 92.5px 99.9px,#2c3391 99.9px 111.0px)"></i><i style="top:41.94px;height:4.41px;background:linear-gradient(90deg,#2c3391 0.0px 18.5px,#2d3a98 18.5px 25.9px,#2f47a6 25.9px 29.6px,#304dad 29.6px 33.3px,#3067c1 33.3px 37.0px,#129dde 37.0px 40.7px,#2ab0ae 40.7px 44.4px,#47b46b 44.4px 48.1px,#74c045 48.1px 51.8px,#c1d234 51.8px 55.5px,#e4db22 55.5px 62.9px,#c1d234 62.9px 66.6px,#88c543 66.6px 70.3px,#4bb65b 70.3px 74.0px,#2ab0ae 74.0px 77.7px,#129dde 77.7px 81.4px,#3070c8 81.4px 85.1px,#3055b4 85.1px 88.8px,#2f47a6 88.8px 92.5px,#2e409f 92.5px 96.2px,#2d3a98 96.2px 99.9px,#2c3391 99.9px 111.0px)"></i><i style="top:45.75px;height:4.41px;background:linear-gradient(90deg,#2c3391 0.0px 18.5px,#2d3a98 18.5px 22.2px,#2e409f 22.2px 25.9px,#2f47a6 25.9px 29.6px,#3055b4 29.6px 33.3px,#3070c8 33.3px 37.0px,#15a5d7 37.0px 40.7px,#3eb08c 40.7px 44.4px,#60bc47 44.4px 48.1px,#c1d234 48.1px 51.8px,#efba20 51.8px 55.5px,#f49622 55.5px 62.9px,#efba20 62.9px 66.6px,#d3d72b 66.6px 70.3px,#74c045 70.3px 74.0px,#43b27b 74.0px 77.7px,#1aaacb 77.7px 81.4px,#267fd0 81.4px 85.1px,#305ebb 85.1px 88.8px,#2f47a6 88.8px 92.5px,#2e409f 92.5px 96.2px,#2d3a98 96.2px 99.9px,#2c3391 99.9px 111.0px)"></i><i style="top:49.56px;height:4.41px;background:linear-gradient(90deg,#2c3391 0.0px 18.5px,#2d3a98 18.5px 22.2px,#2e409f 22.2px 25.9px,#2f47a6 25.9px 29.6px,#305ebb 29.6px 33.3px,#267fd0 33.3px 37.0px,#1aaacb 37.0px 40.7px,#47b46b 40.7px 44.4px,#88c543 44.4px 48.1px,#ebcd20 48.1px 51.8px,#f38626 51.8px 55.5px,#ef552f 55.5px 62.9px,#f2762a 62.9px 66.6px,#efba20 66.6px 70.3px,#9cc941 70.3px 74.0px,#4bb65b 74.0px 77.7px,#20b0c0 77.7px 81.4px,#1c8ed7 81.4px 85.1px,#305ebb 85.1px 88.8px,#304dad 88.8px 92.5px,#2e409f 92.5px 96.2px,#2d3a98 96.2px 103.6px,#2c3391 103.6px 111.0px)"></i><i style="top:53.38px;height:4.41px;background:linear-gradient(90deg,#2c3391 0.0px 14.8px,#2d3a98 14.8px 22.2px,#2e409f 22.2px 25.9px,#304dad 25.9px 29.6px,#305ebb 29.6px 33.3px,#1c8ed7 33.3px 37.0px,#20b0c0 37.0px 40.7px,#4bb65b 40.7px 44.4px,#afce3c 44.4px 48.1px,#f3a820 48.1px 51.8px,#f0662e 51.8px 55.5px,#ea322c 55.5px 62.9px,#ef552f 62.9px 66.6px,#f49622 66.6px 70.3px,#c1d234 70.3px 74.0px,#4fb84b 74.0px 77.7px,#2ab0ae 77.7px 81.4px,#1c8ed7 81.4px 85.1px,#3067c1 85.1px 88.8px,#304dad 88.8px 92.5px,#2e409f 92.5px 96.2px,#2d3a98 96.2px 103.6px,#2c3391 103.6px 111.0px)"></i><i style="top:57.19px;height:4.41px;background:linear-gradient(90deg,#2c3391 0.0px 14.8px,#2d3a98 14.8px 22.2px,#2e409f 22.2px 25.9px,#304dad 25.9px 29.6px,#305ebb 29.6px 33.3px,#1c8ed7 33.3px 37.0px,#2ab0ae 37.0px 40.7px,#4bb65b 40.7px 44.4px,#afce3c 44.4px 48.1px,#f3a820 48.1px 51.8px,#ef552f 51.8px 55.5px,#e8202a 55.5px 62.9px,#ef552f 62.9px 66.6px,#f49622 66.6px 70.3px,#c1d234 70.3px 74.0px,#4fb84b 74.0px 77.7px,#2ab0ae 77.7px 81.4px,#1c8ed7 81.4px 85.1px,#3067c1 85.1px 88.8px,#304dad 88.8px 92.5px,#2e409f 92.5px 96.2px,#2d3a98 96.2px 103.6px,#2c3391 103.6px 111.0px)"></i><i style="top:61.00px;height:4.41px;background:linear-gradient(90deg,#2c3391 0.0px 14.8px,#2d3a98 14.8px 22.2px,#2e409f 22.2px 25.9px,#304dad 25.9px 29.6px,#305ebb 29.6px 33.3px,#1c8ed7 33.3px 37.0px,#2ab0ae 37.0px 40.7px,#4bb65b 40.7px 44.4px,#afce3c 44.4px 48.1px,#f3a820 48.1px 51.8px,#ef552f 51.8px 55.5px,#e8202a 55.5px 62.9px,#ef552f 62.9px 66.6px,#f49622 66.6px 70.3px,#c1d234 70.3px 74.0px,#4fb84b 74.0px 77.7px,#2ab0ae 77.7px 81.4px,#1c8ed7 81.4px 85.1px,#3067c1 85.1px 88.8px,#304dad 88.8px 92.5px,#2e409f 92.5px 96.2px,#2d3a98 96.2px 103.6px,#2c3391 103.6px 111.0px)"></i><i style="top:64.81px;height:4.41px;background:linear-gradient(90deg,#2c3391 0.0px 14.8px,#2d3a98 14.8px 22.2px,#2e409f 22.2px 25.9px,#304dad 25.9px 29.6px,#305ebb 29.6px 33.3px,#1c8ed7 33.3px 37.0px,#2ab0ae 37.0px 40.7px,#4bb65b 40.7px 44.4px,#afce3c 44.4px 48.1px,#f3a820 48.1px 51.8px,#ef552f 51.8px 55.5px,#e8202a 55.5px 62.9px,#ef552f 62.9px 66.6px,#f49622 66.6px 70.3px,#c1d234 70.3px 74.0px,#4fb84b 74.0px 77.7px,#2ab0ae 77.7px 81.4px,#1c8ed7 81.4px 85.1px,#3067c1 85.1px 88.8px,#304dad 88.8px 92.5px,#2e409f 92.5px 96.2px,#2d3a98 96.2px 103.6px,#2c3391 103.6px 111.0px)"></i><i style="top:68.62px;height:4.41px;background:linear-gradient(90deg,#2c3391 0.0px 14.8px,#2d3a98 14.8px 22.2px,#2e409f 22.2px 25.9px,#304dad 25.9px 29.6px,#305ebb 29.6px 33.3px,#1c8ed7 33.3px 37.0px,#2ab0ae 37.0px 40.7px,#4bb65b 40.7px 44.4px,#afce3c 44.4px 48.1px,#f3a820 48.1px 51.8px,#ef552f 51.8px 55.5px,#e8202a 55.5px 62.9px,#ef552f 62.9px 66.6px,#f49622 66.6px 70.3px,#c1d234 70.3px 74.0px,#4fb84b 74.0px 77.7px,#2ab0ae 77.7px 81.4px,#1c8ed7 81.4px 85.1px,#3067c1 85.1px 88.8px,#304dad 88.8px 92.5px,#2e409f 92.5px 96.2px,#2d3a98 96.2px 103.6px,#2c3391 103.6px 111.0px)"></i><i style="top:72.44px;height:4.41px;background:linear-gradient(90deg,#2c3391 0.0px 14.8px,#2d3a98 14.8px 22.2px,#2e409f 22.2px 25.9px,#304dad 25.9px 29.6px,#305ebb 29.6px 33.3px,#1c8ed7 33.3px 37.0px,#2ab0ae 37.0px 40.7px,#4bb65b 40.7px 44.4px,#afce3c 44.4px 48.1px,#f3a820 48.1px 51.8px,#ef552f 51.8px 55.5px,#e8202a 55.5px 62.9px,#ef552f 62.9px 66.6px,#f49622 66.6px 70.3px,#c1d234 70.3px 74.0px,#4fb84b 74.0px 77.7px,#2ab0ae 77.7px 81.4px,#1c8ed7 81.4px 85.1px,#3067c1 85.1px 88.8px,#304dad 88.8px 92.5px,#2e409f 92.5px 96.2px,#2d3a98 96.2px 103.6px,#2c3391 103.6px 111.0px)"></i><i style="top:76.25px;height:4.41px;background:linear-gradient(90deg,#2c3391 0.0px 14.8px,#2d3a98 14.8px 22.2px,#2e409f 22.2px 25.9px,#304dad 25.9px 29.6px,#305ebb 29.6px 33.3px,#1c8ed7 33.3px 37.0px,#2ab0ae 37.0px 40.7px,#4bb65b 40.7px 44.4px,#afce3c 44.4px 48.1px,#f3a820 48.1px 51.8px,#ef552f 51.8px 55.5px,#e8202a 55.5px 62.9px,#ef552f 62.9px 66.6px,#f49622 66.6px 70.3px,#c1d234 70.3px 74.0px,#4fb84b 74.0px 77.7px,#2ab0ae 77.7px 81.4px,#1c8ed7 81.4px 85.1px,#3067c1 85.1px 88.8px,#304dad 88.8px 92.5px,#2e409f 92.5px 96.2px,#2d3a98 96.2px 103.6px,#2c3391 103.6px 111.0px)"></i><i style="top:80.06px;height:4.41px;background:linear-gradient(90deg,#2c3391 0.0px 14.8px,#2d3a98 14.8px 22.2px,#2e409f 22.2px 25.9px,#304dad 25.9px 29.6px,#305ebb 29.6px 33.3px,#1c8ed7 33.3px 37.0px,#2ab0ae 37.0px 40.7px,#4bb65b 40.7px 44.4px,#afce3c 44.4px 48.1px,#f3a820 48.1px 51.8px,#ef552f 51.8px 55.5px,#e8202a 55.5px 62.9px,#ef552f 62.9px 66.6px,#f49622 66.6px 70.3px,#c1d234 70.3px 74.0px,#4fb84b 74.0px 77.7px,#2ab0ae 77.7px 81.4px,#1c8ed7 81.4px 85.1px,#3067c1 85.1px 88.8px,#304dad 88.8px 92.5px,#2e409f 92.5px 96.2px,#2d3a98 96.2px 103.6px,#2c3391 103.6px 111.0px)"></i><i style="top:83.88px;height:4.41px;background:linear-gradient(90deg,#2c3391 0.0px 14.8px,#2d3a98 14.8px 22.2px,#2e409f 22.2px 25.9px,#304dad 25.9px 29.6px,#305ebb 29.6px 33.3px,#1c8ed7 33.3px 37.0px,#2ab0ae 37.0px 40.7px,#4bb65b 40.7px 44.4px,#afce3c 44.4px 48.1px,#f3a820 48.1px 51.8px,#ef552f 51.8px 55.5px,#e8202a 55.5px 62.9px,#ef552f 62.9px 66.6px,#f49622 66.6px 70.3px,#c1d234 70.3px 74.0px,#4fb84b 74.0px 77.7px,#2ab0ae 77.7px 81.4px,#1c8ed7 81.4px 85.1px,#3067c1 85.1px 88.8px,#304dad 88.8px 92.5px,#2e409f 92.5px 96.2px,#2d3a98 96.2px 103.6px,#2c3391 103.6px 111.0px)"></i><i style="top:87.69px;height:4.41px;background:linear-gradient(90deg,#2c3391 0.0px 14.8px,#2d3a98 14.8px 22.2px,#2e409f 22.2px 25.9px,#304dad 25.9px 29.6px,#305ebb 29.6px 33.3px,#1c8ed7 33.3px 37.0px,#2ab0ae 37.0px 40.7px,#4bb65b 40.7px 44.4px,#afce3c 44.4px 48.1px,#f3a820 48.1px 51.8px,#ef552f 51.8px 55.5px,#e8202a 55.5px 62.9px,#ef552f 62.9px 66.6px,#f49622 66.6px 70.3px,#c1d234 70.3px 74.0px,#4fb84b 74.0px 77.7px,#2ab0ae 77.7px 81.4px,#1c8ed7 81.4px 85.1px,#3067c1 85.1px 88.8px,#304dad 88.8px 92.5px,#2e409f 92.5px 96.2px,#2d3a98 96.2px 103.6px,#2c3391 103.6px 111.0px)"></i><i style="top:91.50px;height:4.41px;background:linear-gradient(90deg,#2c3391 0.0px 14.8px,#2d3a98 14.8px 22.2px,#2e409f 22.2px 25.9px,#304dad 25.9px 29.6px,#305ebb 29.6px 33.3px,#1c8ed7 33.3px 37.0px,#2ab0ae 37.0px 40.7px,#4bb65b 40.7px 44.4px,#afce3c 44.4px 48.1px,#f3a820 48.1px 51.8px,#ef552f 51.8px 55.5px,#e8202a 55.5px 62.9px,#ef552f 62.9px 66.6px,#f49622 66.6px 70.3px,#c1d234 70.3px 74.0px,#4fb84b 74.0px 77.7px,#2ab0ae 77.7px 81.4px,#1c8ed7 81.4px 85.1px,#3067c1 85.1px 88.8px,#304dad 88.8px 92.5px,#2e409f 92.5px 96.2px,#2d3a98 96.2px 103.6px,#2c3391 103.6px 111.0px)"></i><i style="top:95.31px;height:4.41px;background:linear-gradient(90deg,#2c3391 0.0px 18.5px,#2d3a98 18.5px 22.2px,#2e409f 22.2px 25.9px,#304dad 25.9px 29.6px,#305ebb 29.6px 33.3px,#1c8ed7 33.3px 37.0px,#20b0c0 37.0px 40.7px,#4bb65b 40.7px 44.4px,#afce3c 44.4px 48.1px,#f3a820 48.1px 51.8px,#f0662e 51.8px 55.5px,#ea322c 55.5px 62.9px,#ef552f 62.9px 66.6px,#f3a820 66.6px 70.3px,#c1d234 70.3px 74.0px,#4fb84b 74.0px 77.7px,#2ab0ae 77.7px 81.4px,#1c8ed7 81.4px 85.1px,#3067c1 85.1px 88.8px,#304dad 88.8px 92.5px,#2e409f 92.5px 96.2px,#2d3a98 96.2px 103.6px,#2c3391 103.6px 111.0px)"></i><i style="top:99.12px;height:4.41px;background:linear-gradient(90deg,#2c3391 0.0px 18.5px,#2d3a98 18.5px 22.2px,#2e409f 22.2px 25.9px,#2f47a6 25.9px 29.6px,#305ebb 29.6px 33.3px,#267fd0 33.3px 37.0px,#1aaacb 37.0px 40.7px,#47b46b 40.7px 44.4px,#88c543 44.4px 48.1px,#ebcd20 48.1px 51.8px,#f38626 51.8px 55.5px,#f0662e 55.5px 59.2px,#ef552f 59.2px 62.9px,#f38626 62.9px 66.6px,#ebcd20 66.6px 70.3px,#9cc941 70.3px 74.0px,#47b46b 74.0px 77.7px,#20b0c0 77.7px 81.4px,#1c8ed7 81.4px 85.1px,#305ebb 85.1px 88.8px,#304dad 88.8px 92.5px,#2e409f 92.5px 96.2px,#2d3a98 96.2px 103.6px,#2c3391 103.6px 111.0px)"></i><i style="top:102.94px;height:4.41px;background:linear-gradient(90deg,#2c3391 0.0px 18.5px,#2d3a98 18.5px 22.2px,#2e409f 22.2px 25.9px,#2f47a6 25.9px 29.6px,#3055b4 29.6px 33.3px,#3070c8 33.3px 37.0px,#15a5d7 37.0px 40.7px,#3eb08c 40.7px 44.4px,#60bc47 44.4px 48.1px,#c1d234 48.1px 51.8px,#ebcd20 51.8px 55.5px,#f49622 55.5px 62.9px,#efba20 62.9px 66.6px,#c1d234 66.6px 70.3px,#74c045 70.3px 74.0px,#43b27b 74.0px 77.7px,#1aaacb 77.7px 81.4px,#267fd0 81.4px 85.1px,#305ebb 85.1px 88.8px,#2f47a6 88.8px 92.5px,#2e409f 92.5px 96.2px,#2d3a98 96.2px 99.9px,#2c3391 99.9px 111.0px)"></i><i style="top:106.75px;height:4.41px;background:linear-gradient(90deg,#2c3391 0.0px 18.5px,#2d3a98 18.5px 25.9px,#2f47a6 25.9px 29.6px,#304dad 29.6px 33.3px,#3067c1 33.3px 37.0px,#1c8ed7 37.0px 40.7px,#20b0c0 40.7px 44.4px,#47b46b 44.4px 48.1px,#74c045 48.1px 51.8px,#afce3c 51.8px 55.5px,#d3d72b 55.5px 62.9px,#c1d234 62.9px 66.6px,#88c543 66.6px 70.3px,#47b46b 70.3px 74.0px,#2ab0ae 74.0px 77.7px,#129dde 77.7px 81.4px,#3067c1 81.4px 85.1px,#3055b4 85.1px 88.8px,#2f47a6 88.8px 92.5px,#2e409f 92.5px 96.2px,#2d3a98 96.2px 99.9px,#2c3391 99.9px 111.0px)"></i><i style="top:110.56px;height:4.41px;background:linear-gradient(90deg,#2c3391 0.0px 18.5px,#2d3a98 18.5px 25.9px,#2e409f 25.9px 29.6px,#304dad 29.6px 33.3px,#305ebb 33.3px 37.0px,#267fd0 37.0px 40.7px,#15a5d7 40.7px 44.4px,#2ab0ae 44.4px 48.1px,#47b46b 48.1px 51.8px,#60bc47 51.8px 55.5px,#74c045 55.5px 62.9px,#60bc47 62.9px 66.6px,#47b46b 66.6px 70.3px,#34b09d 70.3px 74.0px,#15a5d7 74.0px 77.7px,#267fd0 77.7px 81.4px,#305ebb 81.4px 85.1px,#304dad 85.1px 88.8px,#2e409f 88.8px 92.5px,#2d3a98 92.5px 99.9px,#2c3391 99.9px 111.0px)"></i><i style="top:114.38px;height:4.41px;background:linear-gradient(90deg,#2c3391 0.0px 22.2px,#2d3a98 22.2px 25.9px,#2e409f 25.9px 29.6px,#2f47a6 29.6px 33.3px,#3055b4 33.3px 37.0px,#3067c1 37.0px 40.7px,#267fd0 40.7px 44.4px,#15a5d7 44.4px 48.1px,#2ab0ae 48.1px 51.8px,#3eb08c 51.8px 55.5px,#43b27b 55.5px 62.9px,#3eb08c 62.9px 66.6px,#2ab0ae 66.6px 70.3px,#1aaacb 70.3px 74.0px,#1c8ed7 74.0px 77.7px,#3067c1 77.7px 81.4px,#3055b4 81.4px 85.1px,#2f47a6 85.1px 88.8px,#2e409f 88.8px 92.5px,#2d3a98 92.5px 99.9px,#2c3391 99.9px 111.0px)"></i><i style="top:118.19px;height:4.41px;background:linear-gradient(90deg,#2c3391 0.0px 22.2px,#2d3a98 22.2px 29.6px,#2e409f 29.6px 33.3px,#2f47a6 33.3px 37.0px,#3055b4 37.0px 40.7px,#3067c1 40.7px 44.4px,#267fd0 44.4px 48.1px,#129dde 48.1px 51.8px,#1aaacb 51.8px 55.5px,#20b0c0 55.5px 62.9px,#1aaacb 62.9px 66.6px,#15a5d7 66.6px 70.3px,#1c8ed7 70.3px 74.0px,#3067c1 74.0px 77.7px,#3055b4 77.7px 81.4px,#304dad 81.4px 85.1px,#2e409f 85.1px 88.8px,#2d3a98 88.8px 96.2px,#2c3391 96.2px 111.0px)"></i><i style="top:122.00px;height:4.41px;background:linear-gradient(90deg,#2c3391 0.0px 22.2px,#2d3a98 22.2px 29.6px,#2e409f 29.6px 37.0px,#304dad 37.0px 40.7px,#3055b4 40.7px 44.4px,#3067c1 44.4px 48.1px,#3070c8 48.1px 51.8px,#267fd0 51.8px 55.5px,#1c8ed7 55.5px 66.6px,#3070c8 66.6px 70.3px,#3067c1 70.3px 74.0px,#3055b4 74.0px 77.7px,#304dad 77.7px 81.4px,#2f47a6 81.4px 85.1px,#2e409f 85.1px 88.8px,#2d3a98 88.8px 96.2px,#2c3391 96.2px 111.0px)"></i><i style="top:125.81px;height:4.41px;background:linear-gradient(90deg,#2c3391 0.0px 25.9px,#2d3a98 25.9px 33.3px,#2e409f 33.3px 37.0px,#2f47a6 37.0px 40.7px,#304dad 40.7px 44.4px,#3055b4 44.4px 48.1px,#305ebb 48.1px 51.8px,#3067c1 51.8px 66.6px,#305ebb 66.6px 70.3px,#3055b4 70.3px 74.0px,#304dad 74.0px 77.7px,#2f47a6 77.7px 81.4px,#2e409f 81.4px 85.1px,#2d3a98 85.1px 92.5px,#2c3391 92.5px 111.0px)"></i><i style="top:129.62px;height:4.41px;background:linear-gradient(90deg,#2c3391 0.0px 29.6px,#2d3a98 29.6px 37.0px,#2e409f 37.0px 44.4px,#2f47a6 44.4px 48.1px,#304dad 48.1px 55.5px,#3055b4 55.5px 62.9px,#304dad 62.9px 70.3px,#2f47a6 70.3px 77.7px,#2e409f 77.7px 81.4px,#2d3a98 81.4px 88.8px,#2c3391 88.8px 111.0px)"></i><i style="top:133.44px;height:4.41px;background:linear-gradient(90deg,#2c3391 0.0px 33.3px,#2d3a98 33.3px 40.7px,#2e409f 40.7px 51.8px,#2f47a6 51.8px 66.6px,#2e409f 66.6px 77.7px,#2d3a98 77.7px 88.8px,#2c3391 88.8px 111.0px)"></i><i style="top:137.25px;height:4.41px;background:linear-gradient(90deg,#2c3391 0.0px 37.0px,#2d3a98 37.0px 51.8px,#2e409f 51.8px 70.3px,#2d3a98 70.3px 81.4px,#2c3391 81.4px 111.0px)"></i><i style="top:141.06px;height:4.41px;background:linear-gradient(90deg,#2c3391 0.0px 40.7px,#2d3a98 40.7px 77.7px,#2c3391 77.7px 111.0px)"></i><i style="top:144.88px;height:4.41px;background:linear-gradient(90deg,#2c3391 0.0px 51.8px,#2d3a98 51.8px 66.6px,#2c3391 66.6px 111.0px)"></i><i style="top:148.69px;height:4.41px;background:#2c3391"></i></div><div style="position:absolute;left:1149px;top:577px;width:111px;height:152px;overflow:hidden"><i style="top:0.00px;height:4.40px;background:#2c3391"></i><i style="top:3.80px;height:4.40px;background:linear-gradient(90deg,#2c3391 0.0px 40.7px,#2d3a98 40.7px 66.6px,#2c3391 66.6px 111.0px)"></i><i style="top:7.60px;height:4.40px;background:linear-gradient(90deg,#2c3391 0.0px 37.0px,#2d3a98 37.0px 74.0px,#2c3391 74.0px 111.0px)"></i><i style="top:11.40px;height:4.40px;background:linear-gradient(90deg,#2c3391 0.0px 29.6px,#2d3a98 29.6px 40.7px,#2e409f 40.7px 66.6px,#2d3a98 66.6px 77.7px,#2c3391 77.7px 111.0px)"></i><i style="top:15.20px;height:4.40px;background:linear-gradient(90deg,#2c3391 0.0px 25.9px,#2d3a98 25.9px 37.0px,#2e409f 37.0px 40.7px,#2f47a6 40.7px 48.1px,#304dad 48.1px 62.9px,#2f47a6 62.9px 66.6px,#2e409f 66.6px 74.0px,#2d3a98 74.0px 81.4px,#2c3391 81.4px 111.0px)"></i><i style="top:19.00px;height:4.40px;background:linear-gradient(90deg,#2c3391 0.0px 25.9px,#2d3a98 25.9px 33.3px,#2e409f 33.3px 37.0px,#2f47a6 37.0px 40.7px,#304dad 40.7px 44.4px,#3055b4 44.4px 48.1px,#305ebb 48.1px 59.2px,#3055b4 59.2px 66.6px,#304dad 66.6px 70.3px,#2f47a6 70.3px 74.0px,#2e409f 74.0px 77.7px,#2d3a98 77.7px 85.1px,#2c3391 85.1px 111.0px)"></i><i style="top:22.80px;height:4.40px;background:linear-gradient(90deg,#2c3391 0.0px 22.2px,#2d3a98 22.2px 29.6px,#2e409f 29.6px 33.3px,#2f47a6 33.3px 37.0px,#304dad 37.0px 40.7px,#305ebb 40.7px 44.4px,#3067c1 44.4px 48.1px,#3070c8 48.1px 51.8px,#267fd0 51.8px 59.2px,#3070c8 59.2px 62.9px,#3067c1 62.9px 66.6px,#3055b4 66.6px 70.3px,#304dad 70.3px 74.0px,#2f47a6 74.0px 77.7px,#2e409f 77.7px 81.4px,#2d3a98 81.4px 88.8px,#2c3391 88.8px 111.0px)"></i><i style="top:26.60px;height:4.40px;background:linear-gradient(90deg,#2c3391 0.0px 22.2px,#2d3a98 22.2px 25.9px,#2e409f 25.9px 29.6px,#2f47a6 29.6px 33.3px,#304dad 33.3px 37.0px,#305ebb 37.0px 40.7px,#3070c8 40.7px 44.4px,#1c8ed7 44.4px 48.1px,#15a5d7 48.1px 59.2px,#129dde 59.2px 62.9px,#1c8ed7 62.9px 66.6px,#3070c8 66.6px 70.3px,#305ebb 70.3px 74.0px,#304dad 74.0px 77.7px,#2e409f 77.7px 81.4px,#2d3a98 81.4px 88.8px,#2c3391 88.8px 111.0px)"></i><i style="top:30.40px;height:4.40px;background:linear-gradient(90deg,#2c3391 0.0px 18.5px,#2d3a98 18.5px 25.9px,#2e409f 25.9px 29.6px,#304dad 29.6px 33.3px,#305ebb 33.3px 37.0px,#3070c8 37.0px 40.7px,#129dde 40.7px 44.4px,#1aaacb 44.4px 48.1px,#2ab0ae 48.1px 51.8px,#34b09d 51.8px 59.2px,#2ab0ae 59.2px 62.9px,#1aaacb 62.9px 66.6px,#1c8ed7 66.6px 70.3px,#3067c1 70.3px 74.0px,#3055b4 74.0px 77.7px,#2f47a6 77.7px 81.4px,#2e409f 81.4px 85.1px,#2d3a98 85.1px 92.5px,#2c3391 92.5px 111.0px)"></i><i style="top:34.20px;height:4.40px;background:linear-gradient(90deg,#2c3391 0.0px 18.5px,#2d3a98 18.5px 22.2px,#2e409f 22.2px 25.9px,#2f47a6 25.9px 29.6px,#3055b4 29.6px 33.3px,#3067c1 33.3px 37.0px,#1c8ed7 37.0px 40.7px,#20b0c0 40.7px 44.4px,#3eb08c 44.4px 48.1px,#4bb65b 48.1px 51.8px,#4fb84b 51.8px 59.2px,#47b46b 59.2px 62.9px,#34b09d 62.9px 66.6px,#1aaacb 66.6px 70.3px,#267fd0 70.3px 74.0px,#305ebb 74.0px 77.7px,#304dad 77.7px 81.4px,#2e409f 81.4px 85.1px,#2d3a98 85.1px 92.5px,#2c3391 92.5px 111.0px)"></i><i style="top:38.00px;height:4.40px;background:linear-gradient(90deg,#2c3391 0.0px 18.5px,#2d3a98 18.5px 22.2px,#2e409f 22.2px 25.9px,#2f47a6 25.9px 29.6px,#305ebb 29.6px 33.3px,#267fd0 33.3px 37.0px,#1aaacb 37.0px 40.7px,#3eb08c 40.7px 44.4px,#4fb84b 44.4px 48.1px,#88c543 48.1px 51.8px,#afce3c 51.8px 59.2px,#74c045 59.2px 62.9px,#4bb65b 62.9px 66.6px,#34b09d 66.6px 70.3px,#15a5d7 70.3px 74.0px,#3070c8 74.0px 77.7px,#3055b4 77.7px 81.4px,#2f47a6 81.4px 85.1px,#2e409f 85.1px 88.8px,#2d3a98 88.8px 92.5px,#2c3391 92.5px 111.0px)"></i><i style="top:41.80px;height:4.40px;background:linear-gradient(90deg,#2c3391 0.0px 14.8px,#2d3a98 14.8px 22.2px,#2e409f 22.2px 25.9px,#304dad 25.9px 29.6px,#3067c1 29.6px 33.3px,#1c8ed7 33.3px 37.0px,#2ab0ae 37.0px 40.7px,#4bb65b 40.7px 44.4px,#9cc941 44.4px 48.1px,#e4db22 48.1px 51.8px,#efba20 51.8px 55.5px,#ebcd20 55.5px 59.2px,#d3d72b 59.2px 62.9px,#88c543 62.9px 66.6px,#47b46b 66.6px 70.3px,#20b0c0 70.3px 74.0px,#267fd0 74.0px 77.7px,#305ebb 77.7px 81.4px,#2f47a6 81.4px 85.1px,#2e409f 85.1px 88.8px,#2d3a98 88.8px 92.5px,#2c3391 92.5px 111.0px)"></i><i style="top:45.60px;height:4.40px;background:linear-gradient(90deg,#2c3391 0.0px 14.8px,#2d3a98 14.8px 22.2px,#2f47a6 22.2px 25.9px,#3055b4 25.9px 29.6px,#3070c8 29.6px 33.3px,#15a5d7 33.3px 37.0px,#3eb08c 37.0px 40.7px,#74c045 40.7px 44.4px,#d3d72b 44.4px 48.1px,#f49622 48.1px 51.8px,#f2762a 51.8px 55.5px,#f38626 55.5px 59.2px,#f3a820 59.2px 62.9px,#c1d234 62.9px 66.6px,#4fb84b 66.6px 70.3px,#34b09d 70.3px 74.0px,#129dde 74.0px 77.7px,#3067c1 77.7px 81.4px,#304dad 81.4px 85.1px,#2e409f 85.1px 88.8px,#2d3a98 88.8px 96.2px,#2c3391 96.2px 111.0px)"></i><i style="top:49.40px;height:4.40px;background:linear-gradient(90deg,#2c3391 0.0px 14.8px,#2d3a98 14.8px 22.2px,#2f47a6 22.2px 25.9px,#3055b4 25.9px 29.6px,#3070c8 29.6px 33.3px,#1aaacb 33.3px 37.0px,#43b27b 37.0px 40.7px,#9cc941 40.7px 44.4px,#efba20 44.4px 48.1px,#f2762a 48.1px 51.8px,#ec442d 51.8px 55.5px,#ef552f 55.5px 59.2px,#f38626 59.2px 62.9px,#e4db22 62.9px 66.6px,#74c045 66.6px 70.3px,#3eb08c 70.3px 74.0px,#129dde 74.0px 77.7px,#3067c1 77.7px 81.4px,#304dad 81.4px 85.1px,#2e409f 85.1px 88.8px,#2d3a98 88.8px 96.2px,#2c3391 96.2px 111.0px)"></i><i style="top:53.20px;height:4.40px;background:linear-gradient(90deg,#2c3391 0.0px 14.8px,#2d3a98 14.8px 22.2px,#2f47a6 22.2px 25.9px,#3055b4 25.9px 29.6px,#3070c8 29.6px 33.3px,#1aaacb 33.3px 37.0px,#47b46b 37.0px 40.7px,#9cc941 40.7px 44.4px,#efba20 44.4px 48.1px,#f0662e 48.1px 51.8px,#ec442d 51.8px 59.2px,#f2762a 59.2px 62.9px,#ebcd20 62.9px 66.6px,#74c045 66.6px 70.3px,#3eb08c 70.3px 74.0px,#15a5d7 74.0px 77.7px,#3067c1 77.7px 81.4px,#304dad 81.4px 85.1px,#2e409f 85.1px 88.8px,#2d3a98 88.8px 96.2px,#2c3391 96.2px 111.0px)"></i><i style="top:57.00px;height:4.40px;background:linear-gradient(90deg,#2c3391 0.0px 14.8px,#2d3a98 14.8px 22.2px,#2f47a6 22.2px 25.9px,#3055b4 25.9px 29.6px,#3070c8 29.6px 33.3px,#1aaacb 33.3px 37.0px,#43b27b 37.0px 40.7px,#9cc941 40.7px 44.4px,#efba20 44.4px 48.1px,#f2762a 48.1px 51.8px,#ef552f 51.8px 59.2px,#f38626 59.2px 62.9px,#e4db22 62.9px 66.6px,#74c045 66.6px 70.3px,#3eb08c 70.3px 74.0px,#129dde 74.0px 77.7px,#3067c1 77.7px 81.4px,#304dad 81.4px 85.1px,#2e409f 85.1px 88.8px,#2d3a98 88.8px 96.2px,#2c3391 96.2px 111.0px)"></i><i style="top:60.80px;height:4.40px;background:linear-gradient(90deg,#2c3391 0.0px 14.8px,#2d3a98 14.8px 22.2px,#2f47a6 22.2px 25.9px,#3055b4 25.9px 29.6px,#3070c8 29.6px 33.3px,#15a5d7 33.3px 37.0px,#43b27b 37.0px 40.7px,#88c543 40.7px 44.4px,#e4db22 44.4px 48.1px,#f38626 48.1px 51.8px,#f0662e 51.8px 55.5px,#f2762a 55.5px 59.2px,#f49622 59.2px 62.9px,#d3d72b 62.9px 66.6px,#60bc47 66.6px 70.3px,#34b09d 70.3px 74.0px,#129dde 74.0px 77.7px,#3067c1 77.7px 81.4px,#304dad 81.4px 85.1px,#2e409f 85.1px 88.8px,#2d3a98 88.8px 96.2px,#2c3391 96.2px 111.0px)"></i><i style="top:64.60px;height:4.40px;background:linear-gradient(90deg,#2c3391 0.0px 14.8px,#2d3a98 14.8px 22.2px,#2e409f 22.2px 25.9px,#304dad 25.9px 29.6px,#3067c1 29.6px 33.3px,#15a5d7 33.3px 37.0px,#3eb08c 37.0px 40.7px,#60bc47 40.7px 44.4px,#d3d72b 44.4px 48.1px,#f3a820 48.1px 51.8px,#f38626 51.8px 59.2px,#efba20 59.2px 62.9px,#afce3c 62.9px 66.6px,#4fb84b 66.6px 70.3px,#2ab0ae 70.3px 74.0px,#1c8ed7 74.0px 77.7px,#3067c1 77.7px 81.4px,#304dad 81.4px 85.1px,#2e409f 85.1px 88.8px,#2d3a98 88.8px 92.5px,#2c3391 92.5px 111.0px)"></i><i style="top:68.40px;height:4.40px;background:linear-gradient(90deg,#2c3391 0.0px 14.8px,#2d3a98 14.8px 22.2px,#2e409f 22.2px 25.9px,#304dad 25.9px 29.6px,#3067c1 29.6px 33.3px,#129dde 33.3px 37.0px,#34b09d 37.0px 40.7px,#60bc47 40.7px 44.4px,#c1d234 44.4px 48.1px,#efba20 48.1px 51.8px,#f49622 51.8px 59.2px,#ebcd20 59.2px 62.9px,#9cc941 62.9px 66.6px,#4bb65b 66.6px 70.3px,#2ab0ae 70.3px 74.0px,#1c8ed7 74.0px 77.7px,#305ebb 77.7px 81.4px,#304dad 81.4px 85.1px,#2e409f 85.1px 88.8px,#2d3a98 88.8px 92.5px,#2c3391 92.5px 111.0px)"></i><i style="top:72.20px;height:4.40px;background:linear-gradient(90deg,#2c3391 0.0px 14.8px,#2d3a98 14.8px 22.2px,#2e409f 22.2px 25.9px,#304dad 25.9px 29.6px,#3067c1 29.6px 33.3px,#129dde 33.3px 37.0px,#34b09d 37.0px 40.7px,#4fb84b 40.7px 44.4px,#afce3c 44.4px 48.1px,#ebcd20 48.1px 51.8px,#f3a820 51.8px 59.2px,#e4db22 59.2px 62.9px,#9cc941 62.9px 66.6px,#4bb65b 66.6px 70.3px,#20b0c0 70.3px 74.0px,#1c8ed7 74.0px 77.7px,#305ebb 77.7px 81.4px,#304dad 81.4px 85.1px,#2e409f 85.1px 88.8px,#2d3a98 88.8px 92.5px,#2c3391 92.5px 111.0px)"></i><i style="top:76.00px;height:4.40px;background:linear-gradient(90deg,#2c3391 0.0px 14.8px,#2d3a98 14.8px 22.2px,#2e409f 22.2px 25.9px,#304dad 25.9px 29.6px,#3067c1 29.6px 33.3px,#129dde 33.3px 37.0px,#34b09d 37.0px 40.7px,#4fb84b 40.7px 44.4px,#afce3c 44.4px 48.1px,#ebcd20 48.1px 51.8px,#f3a820 51.8px 59.2px,#e4db22 59.2px 62.9px,#9cc941 62.9px 66.6px,#4bb65b 66.6px 70.3px,#20b0c0 70.3px 74.0px,#1c8ed7 74.0px 77.7px,#305ebb 77.7px 81.4px,#304dad 81.4px 85.1px,#2e409f 85.1px 88.8px,#2d3a98 88.8px 92.5px,#2c3391 92.5px 111.0px)"></i><i style="top:79.80px;height:4.40px;background:linear-gradient(90deg,#2c3391 0.0px 14.8px,#2d3a98 14.8px 22.2px,#2e409f 22.2px 25.9px,#304dad 25.9px 29.6px,#3067c1 29.6px 33.3px,#129dde 33.3px 37.0px,#34b09d 37.0px 40.7px,#4fb84b 40.7px 44.4px,#afce3c 44.4px 48.1px,#ebcd20 48.1px 51.8px,#f3a820 51.8px 59.2px,#e4db22 59.2px 62.9px,#9cc941 62.9px 66.6px,#4bb65b 66.6px 70.3px,#20b0c0 70.3px 74.0px,#1c8ed7 74.0px 77.7px,#305ebb 77.7px 81.4px,#304dad 81.4px 85.1px,#2e409f 85.1px 88.8px,#2d3a98 88.8px 92.5px,#2c3391 92.5px 111.0px)"></i><i style="top:83.60px;height:4.40px;background:linear-gradient(90deg,#2c3391 0.0px 14.8px,#2d3a98 14.8px 22.2px,#2e409f 22.2px 25.9px,#304dad 25.9px 29.6px,#3067c1 29.6px 33.3px,#129dde 33.3px 37.0px,#34b09d 37.0px 40.7px,#60bc47 40.7px 44.4px,#c1d234 44.4px 48.1px,#efba20 48.1px 51.8px,#f49622 51.8px 59.2px,#ebcd20 59.2px 62.9px,#afce3c 62.9px 66.6px,#4bb65b 66.6px 70.3px,#2ab0ae 70.3px 74.0px,#1c8ed7 74.0px 77.7px,#305ebb 77.7px 81.4px,#304dad 81.4px 85.1px,#2e409f 85.1px 88.8px,#2d3a98 88.8px 92.5px,#2c3391 92.5px 111.0px)"></i><i style="top:87.40px;height:4.40px;background:linear-gradient(90deg,#2c3391 0.0px 14.8px,#2d3a98 14.8px 22.2px,#2f47a6 22.2px 25.9px,#3055b4 25.9px 29.6px,#3070c8 29.6px 33.3px,#15a5d7 33.3px 37.0px,#3eb08c 37.0px 40.7px,#74c045 40.7px 44.4px,#d3d72b 44.4px 48.1px,#f3a820 48.1px 51.8px,#f38626 51.8px 59.2px,#efba20 59.2px 62.9px,#c1d234 62.9px 66.6px,#4fb84b 66.6px 70.3px,#2ab0ae 70.3px 74.0px,#129dde 74.0px 77.7px,#3067c1 77.7px 81.4px,#304dad 81.4px 85.1px,#2e409f 85.1px 88.8px,#2d3a98 88.8px 92.5px,#2c3391 92.5px 111.0px)"></i><i style="top:91.20px;height:4.40px;background:linear-gradient(90deg,#2c3391 0.0px 14.8px,#2d3a98 14.8px 22.2px,#2f47a6 22.2px 25.9px,#3055b4 25.9px 29.6px,#3070c8 29.6px 33.3px,#15a5d7 33.3px 37.0px,#43b27b 37.0px 40.7px,#88c543 40.7px 44.4px,#ebcd20 44.4px 48.1px,#f38626 48.1px 51.8px,#f0662e 51.8px 59.2px,#f49622 59.2px 62.9px,#d3d72b 62.9px 66.6px,#60bc47 66.6px 70.3px,#34b09d 70.3px 74.0px,#129dde 74.0px 77.7px,#3067c1 77.7px 81.4px,#304dad 81.4px 85.1px,#2e409f 85.1px 88.8px,#2d3a98 88.8px 96.2px,#2c3391 96.2px 111.0px)"></i><i style="top:95.00px;height:4.40px;background:linear-gradient(90deg,#2c3391 0.0px 14.8px,#2d3a98 14.8px 22.2px,#2f47a6 22.2px 25.9px,#3055b4 25.9px 29.6px,#3070c8 29.6px 33.3px,#1aaacb 33.3px 37.0px,#47b46b 37.0px 40.7px,#9cc941 40.7px 44.4px,#efba20 44.4px 48.1px,#f2762a 48.1px 51.8px,#ec442d 51.8px 55.5px,#ef552f 55.5px 59.2px,#f38626 59.2px 62.9px,#e4db22 62.9px 66.6px,#74c045 66.6px 70.3px,#3eb08c 70.3px 74.0px,#15a5d7 74.0px 77.7px,#3067c1 77.7px 81.4px,#304dad 81.4px 85.1px,#2e409f 85.1px 88.8px,#2d3a98 88.8px 96.2px,#2c3391 96.2px 111.0px)"></i><i style="top:98.80px;height:4.40px;background:linear-gradient(90deg,#2c3391 0.0px 14.8px,#2d3a98 14.8px 22.2px,#2f47a6 22.2px 25.9px,#3055b4 25.9px 29.6px,#3070c8 29.6px 33.3px,#1aaacb 33.3px 37.0px,#47b46b 37.0px 40.7px,#9cc941 40.7px 44.4px,#efba20 44.4px 48.1px,#f0662e 48.1px 51.8px,#ec442d 51.8px 59.2px,#f2762a 59.2px 62.9px,#ebcd20 62.9px 66.6px,#74c045 66.6px 70.3px,#3eb08c 70.3px 74.0px,#15a5d7 74.0px 77.7px,#3067c1 77.7px 81.4px,#304dad 81.4px 85.1px,#2e409f 85.1px 88.8px,#2d3a98 88.8px 96.2px,#2c3391 96.2px 111.0px)"></i><i style="top:102.60px;height:4.40px;background:linear-gradient(90deg,#2c3391 0.0px 14.8px,#2d3a98 14.8px 22.2px,#2f47a6 22.2px 25.9px,#3055b4 25.9px 29.6px,#3070c8 29.6px 33.3px,#1aaacb 33.3px 37.0px,#43b27b 37.0px 40.7px,#88c543 40.7px 44.4px,#ebcd20 44.4px 48.1px,#f2762a 48.1px 51.8px,#ef552f 51.8px 59.2px,#f38626 59.2px 62.9px,#e4db22 62.9px 66.6px,#74c045 66.6px 70.3px,#3eb08c 70.3px 74.0px,#129dde 74.0px 77.7px,#3067c1 77.7px 81.4px,#304dad 81.4px 85.1px,#2e409f 85.1px 88.8px,#2d3a98 88.8px 96.2px,#2c3391 96.2px 111.0px)"></i><i style="top:106.40px;height:4.40px;background:linear-gradient(90deg,#2c3391 0.0px 14.8px,#2d3a98 14.8px 22.2px,#2f47a6 22.2px 25.9px,#3055b4 25.9px 29.6px,#3070c8 29.6px 33.3px,#15a5d7 33.3px 37.0px,#3eb08c 37.0px 40.7px,#74c045 40.7px 44.4px,#d3d72b 44.4px 48.1px,#f3a820 48.1px 51.8px,#f2762a 51.8px 55.5px,#f38626 55.5px 59.2px,#efba20 59.2px 62.9px,#c1d234 62.9px 66.6px,#4fb84b 66.6px 70.3px,#2ab0ae 70.3px 74.0px,#129dde 74.0px 77.7px,#3067c1 77.7px 81.4px,#304dad 81.4px 85.1px,#2e409f 85.1px 88.8px,#2d3a98 88.8px 92.5px,#2c3391 92.5px 111.0px)"></i><i style="top:110.20px;height:4.40px;background:linear-gradient(90deg,#2c3391 0.0px 14.8px,#2d3a98 14.8px 22.2px,#2e409f 22.2px 25.9px,#304dad 25.9px 29.6px,#3067c1 29.6px 33.3px,#1c8ed7 33.3px 37.0px,#2ab0ae 37.0px 40.7px,#4bb65b 40.7px 44.4px,#9cc941 44.4px 48.1px,#e4db22 48.1px 51.8px,#ebcd20 51.8px 59.2px,#d3d72b 59.2px 62.9px,#88c543 62.9px 66.6px,#47b46b 66.6px 70.3px,#20b0c0 70.3px 74.0px,#267fd0 74.0px 77.7px,#305ebb 77.7px 81.4px,#2f47a6 81.4px 85.1px,#2e409f 85.1px 88.8px,#2d3a98 88.8px 92.5px,#2c3391 92.5px 111.0px)"></i><i style="top:114.00px;height:4.40px;background:linear-gradient(90deg,#2c3391 0.0px 18.5px,#2d3a98 18.5px 22.2px,#2e409f 22.2px 25.9px,#2f47a6 25.9px 29.6px,#305ebb 29.6px 33.3px,#267fd0 33.3px 37.0px,#1aaacb 37.0px 40.7px,#3eb08c 40.7px 44.4px,#4fb84b 44.4px 48.1px,#88c543 48.1px 51.8px,#afce3c 51.8px 59.2px,#74c045 59.2px 62.9px,#4bb65b 62.9px 66.6px,#34b09d 66.6px 70.3px,#15a5d7 70.3px 74.0px,#3070c8 74.0px 77.7px,#3055b4 77.7px 81.4px,#2f47a6 81.4px 85.1px,#2e409f 85.1px 88.8px,#2d3a98 88.8px 92.5px,#2c3391 92.5px 111.0px)"></i><i style="top:117.80px;height:4.40px;background:linear-gradient(90deg,#2c3391 0.0px 18.5px,#2d3a98 18.5px 22.2px,#2e409f 22.2px 25.9px,#2f47a6 25.9px 29.6px,#3055b4 29.6px 33.3px,#3067c1 33.3px 37.0px,#1c8ed7 37.0px 40.7px,#20b0c0 40.7px 44.4px,#3eb08c 44.4px 48.1px,#4bb65b 48.1px 51.8px,#4fb84b 51.8px 59.2px,#47b46b 59.2px 62.9px,#34b09d 62.9px 66.6px,#1aaacb 66.6px 70.3px,#267fd0 70.3px 74.0px,#305ebb 74.0px 77.7px,#304dad 77.7px 81.4px,#2e409f 81.4px 85.1px,#2d3a98 85.1px 92.5px,#2c3391 92.5px 111.0px)"></i><i style="top:121.60px;height:4.40px;background:linear-gradient(90deg,#2c3391 0.0px 18.5px,#2d3a98 18.5px 25.9px,#2e409f 25.9px 29.6px,#304dad 29.6px 33.3px,#305ebb 33.3px 37.0px,#3070c8 37.0px 40.7px,#129dde 40.7px 44.4px,#20b0c0 44.4px 48.1px,#34b09d 48.1px 51.8px,#3eb08c 51.8px 55.5px,#34b09d 55.5px 59.2px,#2ab0ae 59.2px 62.9px,#1aaacb 62.9px 66.6px,#1c8ed7 66.6px 70.3px,#3067c1 70.3px 74.0px,#3055b4 74.0px 77.7px,#2f47a6 77.7px 81.4px,#2e409f 81.4px 85.1px,#2d3a98 85.1px 92.5px,#2c3391 92.5px 111.0px)"></i><i style="top:125.40px;height:4.40px;background:linear-gradient(90deg,#2c3391 0.0px 22.2px,#2d3a98 22.2px 25.9px,#2e409f 25.9px 29.6px,#2f47a6 29.6px 33.3px,#304dad 33.3px 37.0px,#305ebb 37.0px 40.7px,#3070c8 40.7px 44.4px,#1c8ed7 44.4px 48.1px,#15a5d7 48.1px 59.2px,#129dde 59.2px 62.9px,#1c8ed7 62.9px 66.6px,#3070c8 66.6px 70.3px,#305ebb 70.3px 74.0px,#304dad 74.0px 77.7px,#2e409f 77.7px 81.4px,#2d3a98 81.4px 88.8px,#2c3391 88.8px 111.0px)"></i><i style="top:129.20px;height:4.40px;background:linear-gradient(90deg,#2c3391 0.0px 22.2px,#2d3a98 22.2px 29.6px,#2e409f 29.6px 33.3px,#2f47a6 33.3px 37.0px,#304dad 37.0px 40.7px,#305ebb 40.7px 44.4px,#3067c1 44.4px 48.1px,#3070c8 48.1px 51.8px,#267fd0 51.8px 59.2px,#3070c8 59.2px 62.9px,#3067c1 62.9px 66.6px,#3055b4 66.6px 70.3px,#304dad 70.3px 74.0px,#2f47a6 74.0px 77.7px,#2e409f 77.7px 81.4px,#2d3a98 81.4px 88.8px,#2c3391 88.8px 111.0px)"></i><i style="top:133.00px;height:4.40px;background:linear-gradient(90deg,#2c3391 0.0px 25.9px,#2d3a98 25.9px 33.3px,#2e409f 33.3px 37.0px,#2f47a6 37.0px 40.7px,#304dad 40.7px 44.4px,#3055b4 44.4px 48.1px,#305ebb 48.1px 62.9px,#3055b4 62.9px 66.6px,#304dad 66.6px 70.3px,#2f47a6 70.3px 74.0px,#2e409f 74.0px 77.7px,#2d3a98 77.7px 85.1px,#2c3391 85.1px 111.0px)"></i><i style="top:136.80px;height:4.40px;background:linear-gradient(90deg,#2c3391 0.0px 25.9px,#2d3a98 25.9px 37.0px,#2e409f 37.0px 40.7px,#2f47a6 40.7px 48.1px,#304dad 48.1px 62.9px,#2f47a6 62.9px 66.6px,#2e409f 66.6px 74.0px,#2d3a98 74.0px 81.4px,#2c3391 81.4px 111.0px)"></i><i style="top:140.60px;height:4.40px;background:linear-gradient(90deg,#2c3391 0.0px 29.6px,#2d3a98 29.6px 40.7px,#2e409f 40.7px 66.6px,#2d3a98 66.6px 77.7px,#2c3391 77.7px 111.0px)"></i><i style="top:144.40px;height:4.40px;background:linear-gradient(90deg,#2c3391 0.0px 37.0px,#2d3a98 37.0px 74.0px,#2c3391 74.0px 111.0px)"></i><i style="top:148.20px;height:4.40px;background:linear-gradient(90deg,#2c3391 0.0px 40.7px,#2d3a98 40.7px 66.6px,#2c3391 66.6px 111.0px)"></i></div><div style="position:absolute;left:1148.2px;top:742.2px;width:111px;height:152.5px;overflow:hidden"><i style="top:0.00px;height:4.41px;background:linear-gradient(90deg,#2c3391 0.0px 55.5px,#2d3a98 55.5px 59.2px,#2c3391 59.2px 111.0px)"></i><i style="top:3.81px;height:4.41px;background:linear-gradient(90deg,#2c3391 0.0px 40.7px,#2d3a98 40.7px 74.0px,#2c3391 74.0px 111.0px)"></i><i style="top:7.62px;height:4.41px;background:linear-gradient(90deg,#2c3391 0.0px 33.3px,#2d3a98 33.3px 44.4px,#2e409f 44.4px 70.3px,#2d3a98 70.3px 81.4px,#2c3391 81.4px 111.0px)"></i><i style="top:11.44px;height:4.41px;background:linear-gradient(90deg,#2c3391 0.0px 29.6px,#2d3a98 29.6px 37.0px,#2e409f 37.0px 44.4px,#2f47a6 44.4px 48.1px,#304dad 48.1px 66.6px,#2f47a6 66.6px 70.3px,#2e409f 70.3px 77.7px,#2d3a98 77.7px 85.1px,#2c3391 85.1px 111.0px)"></i><i style="top:15.25px;height:4.41px;background:linear-gradient(90deg,#2c3391 0.0px 25.9px,#2d3a98 25.9px 33.3px,#2e409f 33.3px 37.0px,#2f47a6 37.0px 40.7px,#304dad 40.7px 44.4px,#3055b4 44.4px 48.1px,#305ebb 48.1px 51.8px,#3067c1 51.8px 62.9px,#305ebb 62.9px 66.6px,#3055b4 66.6px 70.3px,#304dad 70.3px 74.0px,#2f47a6 74.0px 77.7px,#2e409f 77.7px 81.4px,#2d3a98 81.4px 88.8px,#2c3391 88.8px 111.0px)"></i><i style="top:19.06px;height:4.41px;background:linear-gradient(90deg,#2c3391 0.0px 22.2px,#2d3a98 22.2px 29.6px,#2e409f 29.6px 33.3px,#2f47a6 33.3px 37.0px,#3055b4 37.0px 40.7px,#305ebb 40.7px 44.4px,#3070c8 44.4px 48.1px,#1c8ed7 48.1px 51.8px,#129dde 51.8px 62.9px,#1c8ed7 62.9px 66.6px,#3070c8 66.6px 70.3px,#305ebb 70.3px 74.0px,#304dad 74.0px 77.7px,#2f47a6 77.7px 81.4px,#2e409f 81.4px 85.1px,#2d3a98 85.1px 92.5px,#2c3391 92.5px 111.0px)"></i><i style="top:22.88px;height:4.41px;background:linear-gradient(90deg,#2c3391 0.0px 22.2px,#2d3a98 22.2px 25.9px,#2e409f 25.9px 29.6px,#2f47a6 29.6px 33.3px,#304dad 33.3px 37.0px,#3067c1 37.0px 40.7px,#267fd0 40.7px 44.4px,#15a5d7 44.4px 48.1px,#20b0c0 48.1px 51.8px,#34b09d 51.8px 62.9px,#20b0c0 62.9px 66.6px,#129dde 66.6px 70.3px,#267fd0 70.3px 74.0px,#305ebb 74.0px 77.7px,#304dad 77.7px 81.4px,#2e409f 81.4px 85.1px,#2d3a98 85.1px 92.5px,#2c3391 92.5px 111.0px)"></i><i style="top:26.69px;height:4.41px;background:linear-gradient(90deg,#2c3391 0.0px 18.5px,#2d3a98 18.5px 25.9px,#2e409f 25.9px 29.6px,#304dad 29.6px 33.3px,#305ebb 33.3px 37.0px,#267fd0 37.0px 40.7px,#15a5d7 40.7px 44.4px,#34b09d 44.4px 48.1px,#47b46b 48.1px 51.8px,#4fb84b 51.8px 62.9px,#43b27b 62.9px 66.6px,#2ab0ae 66.6px 70.3px,#129dde 70.3px 74.0px,#3070c8 74.0px 77.7px,#3055b4 77.7px 81.4px,#2f47a6 81.4px 85.1px,#2e409f 85.1px 88.8px,#2d3a98 88.8px 92.5px,#2c3391 92.5px 111.0px)"></i><i style="top:30.50px;height:4.41px;background:linear-gradient(90deg,#2c3391 0.0px 18.5px,#2d3a98 18.5px 25.9px,#2e409f 25.9px 29.6px,#304dad 29.6px 33.3px,#3067c1 33.3px 37.0px,#129dde 37.0px 40.7px,#2ab0ae 40.7px 44.4px,#47b46b 44.4px 48.1px,#74c045 48.1px 51.8px,#9cc941 51.8px 55.5px,#afce3c 55.5px 59.2px,#9cc941 59.2px 62.9px,#60bc47 62.9px 66.6px,#43b27b 66.6px 70.3px,#20b0c0 70.3px 74.0px,#1c8ed7 74.0px 77.7px,#305ebb 77.7px 81.4px,#304dad 81.4px 85.1px,#2e409f 85.1px 88.8px,#2d3a98 88.8px 96.2px,#2c3391 96.2px 111.0px)"></i><i style="top:34.31px;height:4.41px;background:linear-gradient(90deg,#2c3391 0.0px 18.5px,#2d3a98 18.5px 25.9px,#2f47a6 25.9px 29.6px,#3055b4 29.6px 33.3px,#3070c8 33.3px 37.0px,#15a5d7 37.0px 40.7px,#34b09d 40.7px 44.4px,#4fb84b 44.4px 48.1px,#9cc941 48.1px 51.8px,#d3d72b 51.8px 55.5px,#e4db22 55.5px 59.2px,#d3d72b 59.2px 62.9px,#9cc941 62.9px 66.6px,#4bb65b 66.6px 70.3px,#2ab0ae 70.3px 74.0px,#129dde 74.0px 77.7px,#3067c1 77.7px 81.4px,#304dad 81.4px 85.1px,#2e409f 85.1px 88.8px,#2d3a98 88.8px 96.2px,#2c3391 96.2px 111.0px)"></i><i style="top:38.12px;height:4.41px;background:linear-gradient(90deg,#2c3391 0.0px 18.5px,#2d3a98 18.5px 22.2px,#2e409f 22.2px 25.9px,#2f47a6 25.9px 29.6px,#3055b4 29.6px 33.3px,#3070c8 33.3px 37.0px,#15a5d7 37.0px 40.7px,#3eb08c 40.7px 44.4px,#60bc47 44.4px 48.1px,#afce3c 48.1px 51.8px,#e4db22 51.8px 55.5px,#ebcd20 55.5px 59.2px,#d3d72b 59.2px 62.9px,#9cc941 62.9px 66.6px,#4fb84b 66.6px 70.3px,#34b09d 70.3px 74.0px,#129dde 74.0px 77.7px,#3067c1 77.7px 81.4px,#304dad 81.4px 85.1px,#2f47a6 85.1px 88.8px,#2d3a98 88.8px 96.2px,#2c3391 96.2px 111.0px)"></i><i style="top:41.94px;height:4.41px;background:linear-gradient(90deg,#2c3391 0.0px 18.5px,#2d3a98 18.5px 22.2px,#2e409f 22.2px 25.9px,#2f47a6 25.9px 29.6px,#3055b4 29.6px 33.3px,#3070c8 33.3px 37.0px,#15a5d7 37.0px 40.7px,#3eb08c 40.7px 44.4px,#60bc47 44.4px 48.1px,#afce3c 48.1px 51.8px,#e4db22 51.8px 55.5px,#ebcd20 55.5px 59.2px,#d3d72b 59.2px 62.9px,#9cc941 62.9px 66.6px,#4fb84b 66.6px 70.3px,#34b09d 70.3px 74.0px,#129dde 74.0px 77.7px,#3067c1 77.7px 81.4px,#304dad 81.4px 85.1px,#2f47a6 85.1px 88.8px,#2d3a98 88.8px 96.2px,#2c3391 96.2px 111.0px)"></i><i style="top:45.75px;height:4.41px;background:linear-gradient(90deg,#2c3391 0.0px 18.5px,#2d3a98 18.5px 22.2px,#2e409f 22.2px 25.9px,#2f47a6 25.9px 29.6px,#3055b4 29.6px 33.3px,#3070c8 33.3px 37.0px,#15a5d7 37.0px 40.7px,#3eb08c 40.7px 44.4px,#60bc47 44.4px 48.1px,#afce3c 48.1px 51.8px,#e4db22 51.8px 55.5px,#ebcd20 55.5px 59.2px,#d3d72b 59.2px 62.9px,#9cc941 62.9px 66.6px,#4fb84b 66.6px 70.3px,#34b09d 70.3px 74.0px,#129dde 74.0px 77.7px,#3067c1 77.7px 81.4px,#304dad 81.4px 85.1px,#2f47a6 85.1px 88.8px,#2d3a98 88.8px 96.2px,#2c3391 96.2px 111.0px)"></i><i style="top:49.56px;height:4.41px;background:linear-gradient(90deg,#2c3391 0.0px 18.5px,#2d3a98 18.5px 22.2px,#2e409f 22.2px 25.9px,#2f47a6 25.9px 29.6px,#3055b4 29.6px 33.3px,#3070c8 33.3px 37.0px,#15a5d7 37.0px 40.7px,#3eb08c 40.7px 44.4px,#60bc47 44.4px 48.1px,#afce3c 48.1px 51.8px,#e4db22 51.8px 55.5px,#ebcd20 55.5px 59.2px,#d3d72b 59.2px 62.9px,#9cc941 62.9px 66.6px,#4fb84b 66.6px 70.3px,#34b09d 70.3px 74.0px,#129dde 74.0px 77.7px,#3067c1 77.7px 81.4px,#304dad 81.4px 85.1px,#2f47a6 85.1px 88.8px,#2d3a98 88.8px 96.2px,#2c3391 96.2px 111.0px)"></i><i style="top:53.38px;height:4.41px;background:linear-gradient(90deg,#2c3391 0.0px 18.5px,#2d3a98 18.5px 22.2px,#2e409f 22.2px 25.9px,#2f47a6 25.9px 29.6px,#3055b4 29.6px 33.3px,#3070c8 33.3px 37.0px,#15a5d7 37.0px 40.7px,#3eb08c 40.7px 44.4px,#60bc47 44.4px 48.1px,#afce3c 48.1px 51.8px,#e4db22 51.8px 55.5px,#ebcd20 55.5px 59.2px,#d3d72b 59.2px 62.9px,#9cc941 62.9px 66.6px,#4fb84b 66.6px 70.3px,#34b09d 70.3px 74.0px,#129dde 74.0px 77.7px,#3067c1 77.7px 81.4px,#304dad 81.4px 85.1px,#2f47a6 85.1px 88.8px,#2d3a98 88.8px 96.2px,#2c3391 96.2px 111.0px)"></i><i style="top:57.19px;height:4.41px;background:linear-gradient(90deg,#2c3391 0.0px 18.5px,#2d3a98 18.5px 22.2px,#2e409f 22.2px 25.9px,#2f47a6 25.9px 29.6px,#3055b4 29.6px 33.3px,#3070c8 33.3px 37.0px,#15a5d7 37.0px 40.7px,#3eb08c 40.7px 44.4px,#60bc47 44.4px 48.1px,#afce3c 48.1px 51.8px,#e4db22 51.8px 55.5px,#ebcd20 55.5px 59.2px,#e4db22 59.2px 62.9px,#9cc941 62.9px 66.6px,#4fb84b 66.6px 70.3px,#34b09d 70.3px 74.0px,#129dde 74.0px 77.7px,#3067c1 77.7px 81.4px,#304dad 81.4px 85.1px,#2f47a6 85.1px 88.8px,#2d3a98 88.8px 96.2px,#2c3391 96.2px 111.0px)"></i><i style="top:61.00px;height:4.41px;background:linear-gradient(90deg,#2c3391 0.0px 18.5px,#2d3a98 18.5px 22.2px,#2e409f 22.2px 25.9px,#2f47a6 25.9px 29.6px,#3055b4 29.6px 33.3px,#3070c8 33.3px 37.0px,#15a5d7 37.0px 40.7px,#3eb08c 40.7px 44.4px,#60bc47 44.4px 48.1px,#c1d234 48.1px 51.8px,#ebcd20 51.8px 55.5px,#efba20 55.5px 59.2px,#ebcd20 59.2px 62.9px,#afce3c 62.9px 66.6px,#4fb84b 66.6px 70.3px,#34b09d 70.3px 74.0px,#129dde 74.0px 77.7px,#3067c1 77.7px 81.4px,#304dad 81.4px 85.1px,#2f47a6 85.1px 88.8px,#2d3a98 88.8px 96.2px,#2c3391 96.2px 111.0px)"></i><i style="top:64.81px;height:4.41px;background:linear-gradient(90deg,#2c3391 0.0px 18.5px,#2d3a98 18.5px 22.2px,#2e409f 22.2px 25.9px,#2f47a6 25.9px 29.6px,#3055b4 29.6px 33.3px,#3070c8 33.3px 37.0px,#1aaacb 37.0px 40.7px,#43b27b 40.7px 44.4px,#88c543 44.4px 48.1px,#e4db22 48.1px 51.8px,#f49622 51.8px 55.5px,#f38626 55.5px 59.2px,#f3a820 59.2px 62.9px,#d3d72b 62.9px 66.6px,#60bc47 66.6px 70.3px,#3eb08c 70.3px 74.0px,#15a5d7 74.0px 77.7px,#3070c8 77.7px 81.4px,#3055b4 81.4px 85.1px,#2f47a6 85.1px 88.8px,#2d3a98 88.8px 96.2px,#2c3391 96.2px 111.0px)"></i><i style="top:68.62px;height:4.41px;background:linear-gradient(90deg,#2c3391 0.0px 18.5px,#2d3a98 18.5px 22.2px,#2e409f 22.2px 25.9px,#2f47a6 25.9px 29.6px,#3055b4 29.6px 33.3px,#3070c8 33.3px 37.0px,#1aaacb 37.0px 40.7px,#47b46b 40.7px 44.4px,#9cc941 44.4px 48.1px,#f3a820 48.1px 51.8px,#f0662e 51.8px 55.5px,#ef552f 55.5px 59.2px,#f2762a 59.2px 62.9px,#efba20 62.9px 66.6px,#88c543 66.6px 70.3px,#43b27b 70.3px 74.0px,#15a5d7 74.0px 77.7px,#3070c8 77.7px 81.4px,#3055b4 81.4px 85.1px,#2f47a6 85.1px 88.8px,#2d3a98 88.8px 96.2px,#2c3391 96.2px 111.0px)"></i><i style="top:72.44px;height:4.41px;background:linear-gradient(90deg,#2c3391 0.0px 18.5px,#2d3a98 18.5px 22.2px,#2e409f 22.2px 25.9px,#2f47a6 25.9px 29.6px,#3055b4 29.6px 33.3px,#267fd0 33.3px 37.0px,#1aaacb 37.0px 40.7px,#4bb65b 40.7px 44.4px,#c1d234 44.4px 48.1px,#f38626 48.1px 51.8px,#ea322c 51.8px 55.5px,#e8202a 55.5px 59.2px,#ec442d 59.2px 62.9px,#f49622 62.9px 66.6px,#afce3c 66.6px 70.3px,#43b27b 70.3px 74.0px,#15a5d7 74.0px 77.7px,#3070c8 77.7px 81.4px,#3055b4 81.4px 85.1px,#2f47a6 85.1px 88.8px,#2d3a98 88.8px 96.2px,#2c3391 96.2px 111.0px)"></i><i style="top:76.25px;height:4.41px;background:linear-gradient(90deg,#2c3391 0.0px 18.5px,#2d3a98 18.5px 22.2px,#2e409f 22.2px 25.9px,#2f47a6 25.9px 29.6px,#3055b4 29.6px 33.3px,#267fd0 33.3px 37.0px,#20b0c0 37.0px 40.7px,#4bb65b 40.7px 44.4px,#c1d234 44.4px 48.1px,#f2762a 48.1px 51.8px,#e8202a 51.8px 59.2px,#ea322c 59.2px 62.9px,#f49622 62.9px 66.6px,#afce3c 66.6px 70.3px,#47b46b 70.3px 74.0px,#15a5d7 74.0px 77.7px,#3070c8 77.7px 81.4px,#3055b4 81.4px 85.1px,#2f47a6 85.1px 88.8px,#2d3a98 88.8px 96.2px,#2c3391 96.2px 111.0px)"></i><i style="top:80.06px;height:4.41px;background:linear-gradient(90deg,#2c3391 0.0px 18.5px,#2d3a98 18.5px 22.2px,#2e409f 22.2px 25.9px,#2f47a6 25.9px 29.6px,#3055b4 29.6px 33.3px,#3070c8 33.3px 37.0px,#1aaacb 37.0px 40.7px,#47b46b 40.7px 44.4px,#afce3c 44.4px 48.1px,#f49622 48.1px 51.8px,#ef552f 51.8px 55.5px,#ea322c 55.5px 59.2px,#ef552f 59.2px 62.9px,#f3a820 62.9px 66.6px,#9cc941 66.6px 70.3px,#43b27b 70.3px 74.0px,#15a5d7 74.0px 77.7px,#3070c8 77.7px 81.4px,#3055b4 81.4px 85.1px,#2f47a6 85.1px 88.8px,#2d3a98 88.8px 96.2px,#2c3391 96.2px 111.0px)"></i><i style="top:83.88px;height:4.41px;background:linear-gradient(90deg,#2c3391 0.0px 18.5px,#2d3a98 18.5px 22.2px,#2e409f 22.2px 25.9px,#2f47a6 25.9px 29.6px,#3055b4 29.6px 33.3px,#3070c8 33.3px 37.0px,#1aaacb 37.0px 40.7px,#43b27b 40.7px 44.4px,#88c543 44.4px 48.1px,#ebcd20 48.1px 51.8px,#f38626 51.8px 55.5px,#f2762a 55.5px 59.2px,#f49622 59.2px 62.9px,#e4db22 62.9px 66.6px,#74c045 66.6px 70.3px,#3eb08c 70.3px 74.0px,#15a5d7 74.0px 77.7px,#3070c8 77.7px 81.4px,#3055b4 81.4px 85.1px,#2f47a6 85.1px 88.8px,#2d3a98 88.8px 96.2px,#2c3391 96.2px 111.0px)"></i><i style="top:87.69px;height:4.41px;background:linear-gradient(90deg,#2c3391 0.0px 18.5px,#2d3a98 18.5px 22.2px,#2e409f 22.2px 25.9px,#2f47a6 25.9px 29.6px,#3055b4 29.6px 33.3px,#3070c8 33.3px 37.0px,#15a5d7 37.0px 40.7px,#3eb08c 40.7px 44.4px,#74c045 44.4px 48.1px,#d3d72b 48.1px 51.8px,#efba20 51.8px 55.5px,#f3a820 55.5px 59.2px,#ebcd20 59.2px 62.9px,#c1d234 62.9px 66.6px,#60bc47 66.6px 70.3px,#34b09d 70.3px 74.0px,#129dde 74.0px 77.7px,#3067c1 77.7px 81.4px,#3055b4 81.4px 85.1px,#2f47a6 85.1px 88.8px,#2d3a98 88.8px 96.2px,#2c3391 96.2px 111.0px)"></i><i style="top:91.50px;height:4.41px;background:linear-gradient(90deg,#2c3391 0.0px 18.5px,#2d3a98 18.5px 22.2px,#2e409f 22.2px 25.9px,#2f47a6 25.9px 29.6px,#3055b4 29.6px 33.3px,#3070c8 33.3px 37.0px,#15a5d7 37.0px 40.7px,#3eb08c 40.7px 44.4px,#60bc47 44.4px 48.1px,#afce3c 48.1px 51.8px,#e4db22 51.8px 55.5px,#ebcd20 55.5px 59.2px,#e4db22 59.2px 62.9px,#afce3c 62.9px 66.6px,#4fb84b 66.6px 70.3px,#34b09d 70.3px 74.0px,#129dde 74.0px 77.7px,#3067c1 77.7px 81.4px,#304dad 81.4px 85.1px,#2f47a6 85.1px 88.8px,#2d3a98 88.8px 96.2px,#2c3391 96.2px 111.0px)"></i><i style="top:95.31px;height:4.41px;background:linear-gradient(90deg,#2c3391 0.0px 18.5px,#2d3a98 18.5px 22.2px,#2e409f 22.2px 25.9px,#2f47a6 25.9px 29.6px,#3055b4 29.6px 33.3px,#3070c8 33.3px 37.0px,#15a5d7 37.0px 40.7px,#3eb08c 40.7px 44.4px,#60bc47 44.4px 48.1px,#afce3c 48.1px 51.8px,#e4db22 51.8px 55.5px,#ebcd20 55.5px 59.2px,#d3d72b 59.2px 62.9px,#9cc941 62.9px 66.6px,#4fb84b 66.6px 70.3px,#34b09d 70.3px 74.0px,#129dde 74.0px 77.7px,#3067c1 77.7px 81.4px,#304dad 81.4px 85.1px,#2f47a6 85.1px 88.8px,#2d3a98 88.8px 96.2px,#2c3391 96.2px 111.0px)"></i><i style="top:99.12px;height:4.41px;background:linear-gradient(90deg,#2c3391 0.0px 18.5px,#2d3a98 18.5px 22.2px,#2e409f 22.2px 25.9px,#2f47a6 25.9px 29.6px,#3055b4 29.6px 33.3px,#3070c8 33.3px 37.0px,#15a5d7 37.0px 40.7px,#3eb08c 40.7px 44.4px,#60bc47 44.4px 48.1px,#afce3c 48.1px 51.8px,#e4db22 51.8px 55.5px,#ebcd20 55.5px 59.2px,#d3d72b 59.2px 62.9px,#9cc941 62.9px 66.6px,#4fb84b 66.6px 70.3px,#34b09d 70.3px 74.0px,#129dde 74.0px 77.7px,#3067c1 77.7px 81.4px,#304dad 81.4px 85.1px,#2f47a6 85.1px 88.8px,#2d3a98 88.8px 96.2px,#2c3391 96.2px 111.0px)"></i><i style="top:102.94px;height:4.41px;background:linear-gradient(90deg,#2c3391 0.0px 18.5px,#2d3a98 18.5px 22.2px,#2e409f 22.2px 25.9px,#2f47a6 25.9px 29.6px,#3055b4 29.6px 33.3px,#3070c8 33.3px 37.0px,#15a5d7 37.0px 40.7px,#3eb08c 40.7px 44.4px,#60bc47 44.4px 48.1px,#afce3c 48.1px 51.8px,#e4db22 51.8px 55.5px,#ebcd20 55.5px 59.2px,#d3d72b 59.2px 62.9px,#9cc941 62.9px 66.6px,#4fb84b 66.6px 70.3px,#34b09d 70.3px 74.0px,#129dde 74.0px 77.7px,#3067c1 77.7px 81.4px,#304dad 81.4px 85.1px,#2f47a6 85.1px 88.8px,#2d3a98 88.8px 96.2px,#2c3391 96.2px 111.0px)"></i><i style="top:106.75px;height:4.41px;background:linear-gradient(90deg,#2c3391 0.0px 18.5px,#2d3a98 18.5px 22.2px,#2e409f 22.2px 25.9px,#2f47a6 25.9px 29.6px,#3055b4 29.6px 33.3px,#3070c8 33.3px 37.0px,#15a5d7 37.0px 40.7px,#3eb08c 40.7px 44.4px,#60bc47 44.4px 48.1px,#afce3c 48.1px 51.8px,#e4db22 51.8px 55.5px,#ebcd20 55.5px 59.2px,#d3d72b 59.2px 62.9px,#9cc941 62.9px 66.6px,#4fb84b 66.6px 70.3px,#34b09d 70.3px 74.0px,#129dde 74.0px 77.7px,#3067c1 77.7px 81.4px,#304dad 81.4px 85.1px,#2f47a6 85.1px 88.8px,#2d3a98 88.8px 96.2px,#2c3391 96.2px 111.0px)"></i><i style="top:110.56px;height:4.41px;background:linear-gradient(90deg,#2c3391 0.0px 18.5px,#2d3a98 18.5px 22.2px,#2e409f 22.2px 25.9px,#2f47a6 25.9px 29.6px,#3055b4 29.6px 33.3px,#3070c8 33.3px 37.0px,#15a5d7 37.0px 40.7px,#3eb08c 40.7px 44.4px,#60bc47 44.4px 48.1px,#afce3c 48.1px 51.8px,#e4db22 51.8px 55.5px,#ebcd20 55.5px 59.2px,#d3d72b 59.2px 62.9px,#9cc941 62.9px 66.6px,#4fb84b 66.6px 70.3px,#34b09d 70.3px 74.0px,#129dde 74.0px 77.7px,#3067c1 77.7px 81.4px,#304dad 81.4px 85.1px,#2f47a6 85.1px 88.8px,#2d3a98 88.8px 96.2px,#2c3391 96.2px 111.0px)"></i><i style="top:114.38px;height:4.41px;background:linear-gradient(90deg,#2c3391 0.0px 18.5px,#2d3a98 18.5px 22.2px,#2e409f 22.2px 25.9px,#2f47a6 25.9px 29.6px,#3055b4 29.6px 33.3px,#3070c8 33.3px 37.0px,#15a5d7 37.0px 40.7px,#3eb08c 40.7px 44.4px,#60bc47 44.4px 48.1px,#afce3c 48.1px 51.8px,#e4db22 51.8px 55.5px,#ebcd20 55.5px 59.2px,#d3d72b 59.2px 62.9px,#9cc941 62.9px 66.6px,#4fb84b 66.6px 70.3px,#34b09d 70.3px 74.0px,#129dde 74.0px 77.7px,#3067c1 77.7px 81.4px,#304dad 81.4px 85.1px,#2f47a6 85.1px 88.8px,#2d3a98 88.8px 96.2px,#2c3391 96.2px 111.0px)"></i><i style="top:118.19px;height:4.41px;background:linear-gradient(90deg,#2c3391 0.0px 18.5px,#2d3a98 18.5px 22.2px,#2e409f 22.2px 25.9px,#2f47a6 25.9px 29.6px,#3055b4 29.6px 33.3px,#3070c8 33.3px 37.0px,#15a5d7 37.0px 40.7px,#3eb08c 40.7px 44.4px,#4fb84b 44.4px 48.1px,#afce3c 48.1px 51.8px,#e4db22 51.8px 59.2px,#d3d72b 59.2px 62.9px,#9cc941 62.9px 66.6px,#4fb84b 66.6px 70.3px,#34b09d 70.3px 74.0px,#129dde 74.0px 77.7px,#3067c1 77.7px 81.4px,#304dad 81.4px 85.1px,#2f47a6 85.1px 88.8px,#2d3a98 88.8px 96.2px,#2c3391 96.2px 111.0px)"></i><i style="top:122.00px;height:4.41px;background:linear-gradient(90deg,#2c3391 0.0px 18.5px,#2d3a98 18.5px 25.9px,#2f47a6 25.9px 29.6px,#3055b4 29.6px 33.3px,#3067c1 33.3px 37.0px,#129dde 37.0px 40.7px,#34b09d 40.7px 44.4px,#4bb65b 44.4px 48.1px,#88c543 48.1px 51.8px,#c1d234 51.8px 55.5px,#d3d72b 55.5px 59.2px,#afce3c 59.2px 62.9px,#74c045 62.9px 66.6px,#47b46b 66.6px 70.3px,#2ab0ae 70.3px 74.0px,#1c8ed7 74.0px 77.7px,#3067c1 77.7px 81.4px,#304dad 81.4px 85.1px,#2e409f 85.1px 88.8px,#2d3a98 88.8px 96.2px,#2c3391 96.2px 111.0px)"></i><i style="top:125.81px;height:4.41px;background:linear-gradient(90deg,#2c3391 0.0px 18.5px,#2d3a98 18.5px 25.9px,#2e409f 25.9px 29.6px,#304dad 29.6px 33.3px,#305ebb 33.3px 37.0px,#1c8ed7 37.0px 40.7px,#1aaacb 40.7px 44.4px,#3eb08c 44.4px 48.1px,#4fb84b 48.1px 51.8px,#74c045 51.8px 55.5px,#88c543 55.5px 59.2px,#74c045 59.2px 62.9px,#4bb65b 62.9px 66.6px,#34b09d 66.6px 70.3px,#1aaacb 70.3px 74.0px,#267fd0 74.0px 77.7px,#305ebb 77.7px 81.4px,#304dad 81.4px 85.1px,#2e409f 85.1px 88.8px,#2d3a98 88.8px 96.2px,#2c3391 96.2px 111.0px)"></i><i style="top:129.62px;height:4.41px;background:linear-gradient(90deg,#2c3391 0.0px 22.2px,#2d3a98 22.2px 25.9px,#2e409f 25.9px 29.6px,#2f47a6 29.6px 33.3px,#3055b4 33.3px 37.0px,#3070c8 37.0px 40.7px,#1c8ed7 40.7px 44.4px,#20b0c0 44.4px 48.1px,#34b09d 48.1px 51.8px,#43b27b 51.8px 55.5px,#47b46b 55.5px 59.2px,#43b27b 59.2px 62.9px,#34b09d 62.9px 66.6px,#1aaacb 66.6px 70.3px,#1c8ed7 70.3px 74.0px,#3067c1 74.0px 77.7px,#3055b4 77.7px 81.4px,#2f47a6 81.4px 85.1px,#2e409f 85.1px 88.8px,#2d3a98 88.8px 92.5px,#2c3391 92.5px 111.0px)"></i><i style="top:133.44px;height:4.41px;background:linear-gradient(90deg,#2c3391 0.0px 22.2px,#2d3a98 22.2px 29.6px,#2e409f 29.6px 33.3px,#304dad 33.3px 37.0px,#3055b4 37.0px 40.7px,#3070c8 40.7px 44.4px,#1c8ed7 44.4px 48.1px,#15a5d7 48.1px 51.8px,#1aaacb 51.8px 62.9px,#129dde 62.9px 66.6px,#267fd0 66.6px 70.3px,#3067c1 70.3px 74.0px,#3055b4 74.0px 77.7px,#2f47a6 77.7px 81.4px,#2e409f 81.4px 85.1px,#2d3a98 85.1px 92.5px,#2c3391 92.5px 111.0px)"></i><i style="top:137.25px;height:4.41px;background:linear-gradient(90deg,#2c3391 0.0px 25.9px,#2d3a98 25.9px 33.3px,#2e409f 33.3px 37.0px,#304dad 37.0px 40.7px,#3055b4 40.7px 44.4px,#305ebb 44.4px 48.1px,#3070c8 48.1px 51.8px,#267fd0 51.8px 62.9px,#3070c8 62.9px 66.6px,#305ebb 66.6px 70.3px,#3055b4 70.3px 74.0px,#2f47a6 74.0px 77.7px,#2e409f 77.7px 81.4px,#2d3a98 81.4px 88.8px,#2c3391 88.8px 111.0px)"></i><i style="top:141.06px;height:4.41px;background:linear-gradient(90deg,#2c3391 0.0px 25.9px,#2d3a98 25.9px 37.0px,#2e409f 37.0px 40.7px,#2f47a6 40.7px 44.4px,#304dad 44.4px 48.1px,#3055b4 48.1px 66.6px,#304dad 66.6px 70.3px,#2f47a6 70.3px 74.0px,#2e409f 74.0px 77.7px,#2d3a98 77.7px 85.1px,#2c3391 85.1px 111.0px)"></i><i style="top:144.88px;height:4.41px;background:linear-gradient(90deg,#2c3391 0.0px 29.6px,#2d3a98 29.6px 40.7px,#2e409f 40.7px 48.1px,#2f47a6 48.1px 66.6px,#2e409f 66.6px 74.0px,#2d3a98 74.0px 81.4px,#2c3391 81.4px 111.0px)"></i><i style="top:148.69px;height:4.41px;background:linear-gradient(90deg,#2c3391 0.0px 37.0px,#2d3a98 37.0px 55.5px,#2e409f 55.5px 59.2px,#2d3a98 59.2px 77.7px,#2c3391 77.7px 111.0px)"></i></div>
<svg id="ov" width="1266" height="1277" viewBox="0 0 1266 1277">
<defs><linearGradient id="cbg" x1="0" x2="1" y1="0" y2="0"><stop offset="0" stop-color="#fbfbfb"/><stop offset="0.25" stop-color="#cfd0d1"/><stop offset="0.5" stop-color="#a3a5a8"/><stop offset="0.75" stop-color="#6c6d70"/><stop offset="0.92" stop-color="#3a3a3c"/><stop offset="1" stop-color="#1c1a1a"/></linearGradient></defs><text x="392" y="293.5" font-size="30" font-weight="bold" fill="#161616">α</text><text x="805.5" y="295" font-size="33" font-weight="bold" fill="#161616">β</text><text x="1204" y="295" font-size="33" font-weight="bold" fill="#161616">γ</text><text x="0" y="0" font-size="32.6" font-weight="bold" fill="#1a1a1a" text-anchor="middle" transform="translate(109.6,242) rotate(-59.3)">[001]</text><path d="M168.5,291.9L126.5,265.5" stroke="#151515" stroke-width="1.8"/><path d="M117.6,259.9L133.2,263.2L126.5,265.5L127.4,272.5Z" fill="#151515"/><path d="M168.5,291.9L194.2,252.1" stroke="#151515" stroke-width="1.8"/><path d="M199.9,243.3L196.4,258.9L194.2,252.1L187.1,252.9Z" fill="#151515"/><text x="909.6" y="284.5" font-size="34" font-weight="bold" fill="#141414" textLength="95.5" lengthAdjust="spacingAndGlyphs">0.5 nm</text><rect x="916.2" y="291.2" width="87.3" height="2.7" fill="#141414"/><rect x="71.3" y="327" width="358.7" height="35" fill="url(#cbg)" stroke="#3a3434" stroke-width="1.3"/><text x="76.5" y="353.5" font-size="27" font-weight="bold" fill="#141414" textLength="86" lengthAdjust="spacingAndGlyphs">-12.2 Hz</text><text x="320.5" y="353.5" font-size="27" font-weight="bold" fill="#ffffff" textLength="88" lengthAdjust="spacingAndGlyphs">-13.9 Hz</text><rect x="481.4" y="326.4" width="355.20000000000005" height="34.400000000000034" fill="url(#cbg)" stroke="#3a3434" stroke-width="1.3"/><text x="489" y="353" font-size="27" font-weight="bold" fill="#141414" textLength="89" lengthAdjust="spacingAndGlyphs">-12.2 Hz</text><text x="731" y="353" font-size="27" font-weight="bold" fill="#ffffff" textLength="88" lengthAdjust="spacingAndGlyphs">-13.9 Hz</text><rect x="883.6" y="325.8" width="355.1" height="34.599999999999966" fill="url(#cbg)" stroke="#3a3434" stroke-width="1.3"/><text x="891.5" y="352.8" font-size="27" font-weight="bold" fill="#141414" textLength="88" lengthAdjust="spacingAndGlyphs">-12.5 Hz</text><text x="1133" y="352.8" font-size="27" font-weight="bold" fill="#ffffff" textLength="88" lengthAdjust="spacingAndGlyphs">-14.5 Hz</text><text x="-2" y="25.2" font-size="33" fill="#111">(a)</text><text x="-2" y="426.3" font-size="33" fill="#111">(b)</text><text x="-2" y="995.3" font-size="33" fill="#111">(c)</text><polygon points="859.0,514.5 859.1,510.7 859.9,508.9 860.7,506.2 861.5,510.3 862.3,509.0 863.1,506.1 863.9,502.7 864.7,497.2 865.5,485.1 866.3,474.4 867.1,473.9 867.9,485.9 868.7,492.5 869.5,503.9 870.3,504.9 871.1,506.1 871.9,511.1 872.7,509.9 873.5,508.5 874.0,514.5" fill="#fbc68e"/><polygon points="850.0,650 850.3,648.1 851.1,645.0 851.9,644.1 852.7,642.5 853.5,640.8 854.3,633.9 855.1,628.3 855.9,626.7 856.7,630.8 857.5,637.7 858.3,643.2 859.1,644.4 859.9,645.9 860.7,648.3 861.0,650" fill="#8aa88f"/><path d="M125.5,511.0L126.3,511.1 127.1,509.7 127.9,509.0 128.7,509.3 129.5,508.0 130.3,509.5 131.1,511.4 131.9,507.6 132.7,506.3 133.5,506.5 134.3,503.7 135.1,498.7 135.9,491.5 136.7,486.7 137.5,485.3 138.3,485.7 139.1,494.3 139.9,496.7 140.7,501.4 141.5,502.3 142.3,504.8 143.1,501.4 143.9,499.9 144.7,491.8 145.5,478.7 146.3,460.8 147.1,462.0 147.9,474.9 148.7,489.2 149.5,496.8 150.3,504.3 151.1,506.7 151.9,508.8 152.7,512.8 153.5,510.3 154.3,511.9 155.1,513.3 155.9,511.6 156.7,512.1 157.5,512.9 158.3,512.9 159.1,511.1 159.9,513.6 160.7,516.0 161.5,511.6 162.3,515.8 163.1,514.3 163.9,513.1 164.7,517.0 165.5,515.2 166.3,511.2 167.1,513.0 167.9,513.5 168.7,512.3 169.5,513.9 170.3,512.5 171.1,513.9 171.9,514.7 172.7,511.1 173.5,512.6 174.3,511.5 175.1,512.5 175.9,509.3 176.7,509.1 177.5,508.4 178.3,507.7 179.1,504.9 179.9,499.0 180.7,502.2 181.5,508.1 182.3,506.4 183.1,510.7 183.9,511.9 184.7,513.8 185.5,512.8 186.3,511.8 187.1,511.9 187.9,512.7 188.7,515.3 189.5,511.4 190.3,511.9 191.1,512.6 191.9,512.2 192.7,511.8 193.5,509.8 194.3,511.4 195.1,510.3 195.9,512.4 196.7,511.4 197.5,509.7 198.3,510.7 199.1,508.5 199.9,509.8 200.7,507.0 201.5,506.0 202.3,500.2 203.1,499.0 203.9,491.4 204.7,486.4 205.5,489.2 206.3,492.0 207.1,498.7 207.9,506.2 208.7,504.3 209.5,506.4 210.3,509.4 211.1,510.2 211.9,509.0 212.7,508.3 213.5,510.3 214.3,510.4 215.1,507.3 215.9,508.7 216.7,509.1 217.5,507.1 218.3,509.1 219.1,507.8 219.9,511.2 220.7,509.4 221.5,509.1 222.3,508.4 223.1,509.2 223.9,505.5 224.7,506.7 225.5,509.4 226.3,505.6 227.1,509.6 227.9,506.6 228.7,510.3 229.5,507.9 230.3,510.9 231.1,510.6 231.9,508.0 232.7,512.0 233.5,512.0 234.3,509.9 235.1,508.3 235.9,509.4 236.7,508.0 237.5,511.4 238.3,508.3 239.1,509.4 239.9,508.8 240.7,509.3 241.5,508.4 242.3,512.8 243.1,509.7 243.9,510.8 244.7,508.3 245.5,507.4 246.3,507.3 247.1,506.5 247.9,506.9 248.7,506.8 249.5,507.5 250.3,505.8 251.1,507.6 251.9,511.7 252.7,507.9 253.5,507.7 254.3,509.6 255.1,511.3 255.9,505.8 256.7,507.5 257.5,507.2 258.3,504.9 259.1,509.1 259.9,507.7 260.7,507.3 261.5,505.9 262.3,508.2 263.1,507.6 263.9,508.2 264.7,506.1 265.5,506.2 266.3,510.1 267.1,507.5 267.9,509.1 268.7,508.9 269.5,508.0 270.3,507.0 271.1,508.5 271.9,506.6 272.7,506.4 273.5,506.3 274.3,507.7 275.1,506.3 275.9,505.4 276.7,503.2 277.5,500.7 278.3,502.7 279.1,500.3 279.9,495.0 280.7,492.4 281.5,490.2 282.3,492.1 283.1,496.9 283.9,498.1 284.7,504.9 285.5,502.2 286.3,506.0 287.1,506.4 287.9,507.2 288.7,508.3 289.5,507.6 290.3,502.3 291.1,500.6 291.9,502.0 292.7,497.8 293.5,501.4 294.3,504.1 295.1,501.3 295.9,501.5 296.7,506.1 297.5,505.8 298.3,505.4 299.1,505.8 299.9,504.2 300.7,503.2 301.5,505.0 302.3,503.4 303.1,502.2 303.9,504.6 304.7,503.7 305.5,504.1 306.3,502.1 307.1,503.0 307.9,502.1 308.7,502.3 309.5,503.5 310.3,501.8 311.1,503.7 311.9,503.9 312.7,507.2 313.5,501.9 314.3,505.1 315.1,503.1 315.9,502.9 316.7,500.3 317.5,501.3 318.3,502.8 319.1,500.7 319.9,500.0 320.7,498.6 321.5,500.3 322.3,497.4 323.1,493.5 323.9,494.8 324.7,491.1 325.5,485.2 326.3,483.0 327.1,474.2 327.9,455.6 328.7,434.6 329.5,422.6 330.3,432.8 331.1,449.8 331.9,465.9 332.7,477.0 333.5,483.1 334.3,486.8 335.1,487.1 335.9,486.3 336.7,486.0 337.5,490.4 338.3,490.5 339.1,495.5 339.9,493.5 340.7,496.0 341.5,498.0 342.3,496.8 343.1,502.6 343.9,502.7 344.7,500.0 345.5,502.4 346.3,502.0 347.1,496.8 347.9,502.0 348.7,501.9 349.5,501.4 350.3,499.7 351.1,501.2 351.9,501.4 352.7,503.8 353.5,502.0 354.3,502.0 355.1,504.7 355.9,500.5 356.7,501.2 357.5,498.7 358.3,503.9 359.1,503.3 359.9,502.7 360.7,502.8 361.5,501.5 362.3,501.5 363.1,500.8 363.9,500.3 364.7,500.6 365.5,502.8 366.3,500.7 367.1,500.4 367.9,499.0 368.7,499.0 369.5,502.7 370.3,501.0 371.1,501.4 371.9,500.8 372.7,499.6 373.5,501.3 374.3,502.8 375.1,501.3 375.9,501.8 376.7,501.4 377.5,501.9 378.3,498.6 379.1,501.1 379.9,500.4 380.7,502.8 381.5,499.7 382.3,501.8 383.1,503.4 383.9,500.4 384.7,499.8 385.5,501.2 386.3,499.9 387.1,497.9 387.9,500.7 388.7,503.2 389.5,499.4 390.3,499.6 391.1,498.5 391.9,500.8 392.7,498.8 393.5,499.6 394.3,503.7 395.1,500.1 395.9,503.5 396.7,503.8 397.5,501.5 398.3,501.7 399.1,503.4 399.9,499.3 400.7,498.4 401.5,497.1 402.3,498.7 403.1,500.7 403.9,500.0 404.7,496.9 405.5,496.8 406.3,497.9 407.1,498.8 407.9,498.0 408.7,499.0 409.5,499.2 410.3,497.9 411.1,498.2 411.9,497.7 412.7,496.3 413.5,495.4 414.3,495.9 415.1,491.6 415.9,490.4 416.7,489.5 417.5,494.8 418.3,492.1 419.1,493.8 419.9,498.2 420.7,498.0 421.5,496.6 422.3,494.9 423.1,497.1 423.9,497.0 424.7,499.8 425.5,502.8 426.3,499.5 427.1,497.9 427.9,497.2 428.7,499.0 429.5,498.9 430.3,497.3 431.1,499.2 431.9,496.9 432.7,500.2 433.5,500.0 434.3,499.2 435.1,495.5 435.9,494.8 436.7,492.0 437.5,492.1 438.3,494.3 439.1,494.2 439.9,495.1 440.7,499.3 441.5,498.2 442.3,499.7 443.1,501.2 443.9,496.7 444.7,498.4 445.5,500.3 446.3,500.4 447.1,499.1 447.9,501.2 448.7,499.7 449.5,496.3 450.3,496.9 451.1,499.1 451.9,498.3 452.7,494.2 453.5,499.6 454.3,498.4 455.1,499.1 455.9,495.9 456.7,496.3 457.5,494.3 458.3,499.3 459.1,493.4 459.9,493.2 460.7,484.5 461.5,477.8 462.3,465.1 463.1,463.5 463.9,472.4 464.7,478.4 465.5,489.9 466.3,493.0 467.1,493.0 467.9,494.8 468.7,495.2 469.5,496.5 470.3,495.5 471.1,495.1 471.9,495.7 472.7,494.6 473.5,494.3 474.3,496.6 475.1,498.4 475.9,494.4 476.7,496.6 477.5,495.4 478.3,494.9 479.1,498.5 479.9,496.3 480.7,499.6 481.5,495.9 482.3,497.6 483.1,496.9 483.9,495.8 484.7,498.3 485.5,496.7 486.3,497.1 487.1,495.2 487.9,492.6 488.7,492.0 489.5,489.2 490.3,486.3 491.1,481.7 491.9,484.7 492.7,486.2 493.5,494.4 494.3,494.3 495.1,494.6 495.9,498.0 496.7,500.1 497.5,496.4 498.3,496.6 499.1,497.1 499.9,496.7 500.7,498.8 501.5,496.1 502.3,495.7 503.1,497.2 503.9,493.3 504.7,493.3 505.5,491.1 506.3,492.7 507.1,493.0 507.9,500.0 508.7,497.1 509.5,498.4 510.3,497.9 511.1,498.7 511.9,498.3 512.7,501.8 513.5,497.5 514.3,496.7 515.1,497.2 515.9,497.1 516.7,500.0 517.5,500.5 518.3,497.9 519.1,497.3 519.9,498.7 520.7,501.2 521.5,495.0 522.3,500.8 523.1,498.6 523.9,502.0 524.7,498.3 525.5,498.8 526.3,496.6 527.1,498.2 527.9,501.5 528.7,500.9 529.5,498.8 530.3,497.6 531.1,496.4 531.9,499.3 532.7,500.4 533.5,500.3 534.3,500.2 535.1,499.1 535.9,500.1 536.7,499.9 537.5,502.4 538.3,503.2 539.1,499.3 539.9,498.0 540.7,499.3 541.5,498.5 542.3,498.0 543.1,499.5 543.9,498.3 544.7,500.4 545.5,499.3 546.3,500.4 547.1,500.0 547.9,499.6 548.7,499.1 549.5,500.0 550.3,499.4 551.1,500.3 551.9,499.8 552.7,497.8 553.5,499.7 554.3,497.3 555.1,497.9 555.9,498.2 556.7,495.3 557.5,498.5 558.3,499.0 559.1,498.5 559.9,498.0 560.7,498.0 561.5,496.9 562.3,498.6 563.1,498.5 563.9,499.5 564.7,498.0 565.5,500.0 566.3,500.5 567.1,500.0 567.9,500.2 568.7,502.0 569.5,498.5 570.3,501.8 571.1,502.2 571.9,501.6 572.7,501.9 573.5,500.8 574.3,501.5 575.1,502.6 575.9,503.0 576.7,502.5 577.5,499.8 578.3,503.0 579.1,503.9 579.9,504.1 580.7,502.7 581.5,499.7 582.3,503.5 583.1,501.3 583.9,497.4 584.7,502.1 585.5,499.1 586.3,499.2 587.1,499.9 587.9,502.6 588.7,500.1 589.5,501.4 590.3,503.4 591.1,503.4 591.9,500.9 592.7,500.4 593.5,499.0 594.3,499.8 595.1,501.8 595.9,501.6 596.7,501.1 597.5,503.2 598.3,500.5 599.1,502.1 599.9,503.5 600.7,503.4 601.5,504.8 602.3,503.7 603.1,503.2 603.9,504.3 604.7,502.2 605.5,501.1 606.3,504.5 607.1,503.7 607.9,504.7 608.7,501.4 609.5,503.5 610.3,503.2 611.1,502.6 611.9,500.6 612.7,503.5 613.5,505.5 614.3,504.6 615.1,502.9 615.9,504.3 616.7,505.5 617.5,499.3 618.3,503.5 619.1,504.1 619.9,504.9 620.7,506.4 621.5,505.8 622.3,504.3 623.1,503.9 623.9,505.0 624.7,503.7 625.5,504.5 626.3,506.3 627.1,507.6 627.9,503.9 628.7,503.9 629.5,504.5 630.3,505.7 631.1,503.5 631.9,505.6 632.7,501.9 633.5,502.6 634.3,503.0 635.1,504.9 635.9,505.6 636.7,502.0 637.5,503.5 638.3,505.6 639.1,503.8 639.9,502.6 640.7,507.0 641.5,505.8 642.3,506.1 643.1,504.3 643.9,506.4 644.7,504.5 645.5,506.5 646.3,503.2 647.1,503.2 647.9,504.9 648.7,503.4 649.5,505.3 650.3,504.5 651.1,503.2 651.9,505.2 652.7,504.6 653.5,506.9 654.3,505.2 655.1,505.6 655.9,508.4 656.7,510.2 657.5,510.1 658.3,506.9 659.1,506.8 659.9,509.4 660.7,506.6 661.5,504.9 662.3,506.3 663.1,507.4 663.9,505.2 664.7,503.8 665.5,504.1 666.3,507.8 667.1,504.8 667.9,505.9 668.7,506.0 669.5,507.0 670.3,505.0 671.1,506.4 671.9,504.0 672.7,504.6 673.5,503.1 674.3,507.0 675.1,505.6 675.9,504.4 676.7,505.0 677.5,505.1 678.3,506.9 679.1,503.2 679.9,504.2 680.7,505.2 681.5,509.9 682.3,507.1 683.1,505.9 683.9,507.4 684.7,509.6 685.5,505.4 686.3,505.7 687.1,508.3 687.9,507.5 688.7,507.9 689.5,506.3 690.3,510.0 691.1,509.4 691.9,508.1 692.7,509.1 693.5,504.4 694.3,508.3 695.1,506.9 695.9,507.6 696.7,507.3 697.5,506.0 698.3,503.8 699.1,506.4 699.9,504.5 700.7,505.2 701.5,505.1 702.3,505.9 703.1,503.1 703.9,509.1 704.7,507.6 705.5,509.2 706.3,511.3 707.1,508.2 707.9,505.2 708.7,506.7 709.5,506.3 710.3,507.4 711.1,508.9 711.9,505.9 712.7,509.8 713.5,506.4 714.3,508.8 715.1,508.6 715.9,508.3 716.7,509.3 717.5,508.5 718.3,507.4 719.1,505.2 719.9,508.0 720.7,510.8 721.5,511.1 722.3,510.0 723.1,509.1 723.9,506.2 724.7,509.3 725.5,507.7 726.3,507.8 727.1,507.3 727.9,507.9 728.7,507.1 729.5,508.0 730.3,505.9 731.1,507.1 731.9,511.8 732.7,507.8 733.5,507.8 734.3,508.9 735.1,509.9 735.9,507.5 736.7,508.9 737.5,510.7 738.3,509.5 739.1,509.3 739.9,512.2 740.7,508.7 741.5,510.5 742.3,509.1 743.1,512.0 743.9,506.5 744.7,509.2 745.5,509.3 746.3,511.2 747.1,511.1 747.9,512.0 748.7,506.6 749.5,510.6 750.3,508.9 751.1,507.7 751.9,509.8 752.7,507.9 753.5,505.8 754.3,508.7 755.1,507.3 755.9,508.9 756.7,510.5 757.5,510.3 758.3,512.8 759.1,509.9 759.9,507.6 760.7,508.9 761.5,508.5 762.3,508.3 763.1,511.4 763.9,509.8 764.7,508.1 765.5,513.0 766.3,511.6 767.1,513.0 767.9,512.5 768.7,512.9 769.5,511.4 770.3,513.1 771.1,511.8 771.9,512.1 772.7,511.6 773.5,508.7 774.3,510.2 775.1,510.1 775.9,510.7 776.7,508.6 777.5,513.1 778.3,510.6 779.1,508.1 779.9,507.4 780.7,509.4 781.5,509.5 782.3,509.2 783.1,510.5 783.9,509.8 784.7,512.3 785.5,510.2 786.3,511.0 787.1,513.1 787.9,516.4 788.7,510.8 789.5,511.2 790.3,511.2 791.1,513.6 791.9,510.9 792.7,511.9 793.5,513.1 794.3,511.1 795.1,511.2 795.9,512.1 796.7,509.0 797.5,509.8 798.3,511.4 799.1,512.3 799.9,511.9 800.7,509.2 801.5,511.8 802.3,513.8 803.1,513.6 803.9,513.4 804.7,512.3 805.5,514.7 806.3,512.3 807.1,511.5 807.9,511.8 808.7,515.6 809.5,512.8 810.3,514.6 811.1,512.0 811.9,514.1 812.7,511.5 813.5,512.1 814.3,516.5 815.1,514.1 815.9,511.9 816.7,513.1 817.5,513.3 818.3,514.5 819.1,511.4 819.9,509.8 820.7,512.2 821.5,512.5 822.3,512.7 823.1,514.8 823.9,512.2 824.7,513.1 825.5,509.6 826.3,513.4 827.1,515.8 827.9,513.5 828.7,512.8 829.5,512.3 830.3,514.8 831.1,511.3 831.9,512.9 832.7,514.0 833.5,514.5 834.3,511.8 835.1,513.1 835.9,512.5 836.7,513.3 837.5,512.6 838.3,510.6 839.1,512.0 839.9,513.6 840.7,510.5 841.5,511.6 842.3,513.1 843.1,510.1 843.9,512.1 844.7,510.4 845.5,514.5 846.3,516.6 847.1,516.4 847.9,512.6 848.7,514.9 849.5,513.3 850.3,513.4 851.1,515.4 851.9,510.6 852.7,513.7 853.5,511.3 854.3,513.2 855.1,510.9 855.9,509.1 856.7,510.6 857.5,511.3 858.3,510.2 859.1,510.7 859.9,508.9 860.7,506.2 861.5,510.3 862.3,509.0 863.1,506.1 863.9,502.7 864.7,497.2 865.5,485.1 866.3,474.4 867.1,473.9 867.9,485.9 868.7,492.5 869.5,503.9 870.3,504.9 871.1,506.1 871.9,511.1 872.7,509.9 873.5,508.5 874.3,510.4 875.1,512.1 875.9,512.6 876.7,510.6 877.5,512.4 878.3,513.3 879.1,511.4 879.9,513.2 880.7,512.6 881.5,511.6 882.3,511.5 883.1,512.1 883.9,511.9 884.7,511.8 885.5,511.9 886.3,514.9 887.1,513.4 887.9,514.5 888.7,515.3 889.5,514.7 890.3,517.6 891.1,513.1 891.9,514.6 892.7,513.2 893.5,516.6 894.3,516.1 895.1,510.7 895.9,512.6 896.7,515.4 897.5,515.9 898.3,515.5 899.1,514.3 899.9,515.4 900.7,516.2 901.5,515.5 902.3,517.5 903.1,511.6 903.9,516.2 904.7,513.2 905.5,516.1 906.3,514.9 907.1,513.3 907.9,514.7 908.7,511.9 909.5,511.6 910.3,510.9 911.1,513.2 911.9,514.1 912.7,515.6 913.5,513.1 914.3,515.0 915.1,513.2 915.9,513.8 916.7,515.4 917.5,516.3 918.3,514.0 919.1,514.2 919.9,514.2 920.7,514.6 921.5,513.7 922.3,517.3 923.1,514.8 923.9,515.8 924.7,513.8 925.5,516.3 926.3,516.2 927.1,514.9 927.9,518.9 928.7,515.7 929.5,517.6 930.3,516.3 931.1,513.2 931.9,513.1 932.7,513.8 933.5,513.8 934.3,514.0 935.1,513.7 935.9,511.8 936.7,514.1 937.5,511.0 938.3,515.4 939.1,513.8 939.9,513.8 940.7,514.3 941.5,514.5 942.3,511.3 943.1,510.6 943.9,511.7 944.7,510.4 945.5,512.1 946.3,516.4 947.1,512.4 947.9,515.1 948.7,511.8 949.5,514.6 950.3,513.7 951.1,514.3 951.9,515.4 952.7,516.9 953.5,514.4 954.3,514.1 955.1,512.4 955.9,515.0 956.7,513.6 957.5,515.3 958.3,513.8 959.1,516.0 959.9,510.9 960.7,513.9 961.5,515.7 962.3,513.9 963.1,513.2 963.9,514.4 964.7,512.4 965.5,514.5 966.3,518.4 967.1,515.8 967.9,512.0 968.7,512.6 969.5,513.1 970.3,515.4 971.1,511.3 971.9,511.5 972.7,513.8 973.5,513.9 974.3,512.4 975.1,511.2 975.9,510.4 976.7,511.7 977.5,509.4 978.3,514.9 979.1,512.5 979.9,514.6 980.7,517.0 981.5,515.6 982.3,512.1 983.1,515.3 983.9,515.8 984.7,512.8 985.5,512.7 986.3,514.4 987.1,512.3 987.9,516.8 988.7,510.4 989.5,512.6 990.3,513.9 991.1,513.9 991.9,515.0 992.7,515.3 993.5,514.4 994.3,516.4 995.1,512.0 995.9,515.7 996.7,514.2 997.5,515.6 998.3,515.5 999.1,512.9 999.9,513.2 1000.7,515.5 1001.5,514.8 1002.3,512.3 1003.1,516.1 1003.9,516.3 1004.7,510.0 1005.5,513.4 1006.3,517.6 1007.1,515.4 1007.9,514.7 1008.7,513.9 1009.5,513.4 1010.3,513.5 1011.1,512.8 1011.9,515.3 1012.7,513.4 1013.5,513.2 1014.3,511.5 1015.1,513.1 1015.9,512.1 1016.7,513.8 1017.5,516.4 1018.3,515.4 1019.1,515.3 1019.9,515.2 1020.7,514.9 1021.5,514.7 1022.3,514.0 1023.1,515.6 1023.9,512.2 1024.7,516.4 1025.5,514.4 1026.3,513.6 1027.1,513.5 1027.9,513.1 1028.7,514.3 1029.5,513.2 1030.3,516.1 1031.1,512.9 1031.9,510.7 1032.7,513.2 1033.5,511.1 1034.3,514.2 1035.1,515.4 1035.9,514.9 1036.7,511.6 1037.5,512.7 1038.3,517.0 1039.1,514.0 1039.9,513.3 1040.7,514.8 1041.5,516.9 1042.3,515.2 1043.1,513.3 1043.9,513.8 1044.7,514.2 1045.5,512.0 1046.3,511.8 1047.1,513.6 1047.9,512.2 1048.7,513.9 1049.5,514.5 1050.3,517.8 1051.1,512.5 1051.9,513.6 1052.7,513.7 1053.5,514.5 1054.3,515.5 1055.1,513.2 1055.9,513.2 1056.7,511.8 1057.5,513.1 1058.3,515.8 1059.1,514.4 1059.9,512.6 1060.7,513.5 1061.5,514.7 1062.3,515.3 1063.1,512.7 1063.9,513.3 1064.7,510.7 1065.5,511.5 1066.3,516.6 1067.1,510.2 1067.9,513.2 1068.7,514.0 1069.5,513.6 1070.3,513.3 1071.1,514.6 1071.9,515.0 1072.7,515.3 1073.5,512.8 1074.3,516.2 1075.1,515.1 1075.9,515.5 1076.7,516.3 1077.5,516.8 1078.3,517.2 1079.1,514.5 1079.9,516.0 1080.7,515.8 1081.5,514.9 1082.3,515.4 1083.1,512.9 1083.9,512.3 1084.7,514.0 1085.5,510.7 1086.3,513.5 1087.1,513.2 1087.9,514.2 1088.7,512.2 1089.5,513.8 1090.3,515.3 1091.1,517.3 1091.9,517.5 1092.7,515.4 1093.5,515.1 1094.3,513.4 1095.1,514.7 1095.9,513.9 1096.7,514.7 1097.5,516.1 1098.3,513.3 1099.1,510.7 1099.9,512.0 1100.7,510.7 1101.5,511.2 1102.3,515.2 1103.1,513.5 1103.9,511.0 1104.7,515.0 1105.5,515.8 1106.3,513.2 1107.1,512.6 1107.9,513.8 1108.7,514.9 1109.5,515.9 1110.3,516.9 1111.1,517.1 1111.9,516.9 1112.7,517.3 1113.5,516.4 1114.3,513.2 1115.1,515.3 1115.9,516.4 1116.7,515.0 1117.5,517.3 1118.3,515.2 1119.1,513.8 1119.9,517.8 1120.7,516.3 1121.5,515.0 1122.3,516.1 1123.1,516.1 1123.9,514.9 1124.7,510.1" fill="none" stroke="#f47d18" stroke-width="1.9" stroke-linejoin="round"/><path d="M125.5,579.6L126.3,578.0 127.1,581.9 127.9,579.2 128.7,575.4 129.5,578.4 130.3,576.8 131.1,579.6 131.9,574.5 132.7,572.3 133.5,575.6 134.3,574.4 135.1,572.9 135.9,569.2 136.7,572.3 137.5,573.9 138.3,569.2 139.1,574.6 139.9,572.4 140.7,577.8 141.5,576.3 142.3,576.3 143.1,578.4 143.9,578.0 144.7,576.9 145.5,579.6 146.3,577.9 147.1,576.1 147.9,582.5 148.7,578.9 149.5,578.7 150.3,581.0 151.1,578.0 151.9,578.5 152.7,579.5 153.5,579.2 154.3,580.4 155.1,582.1 155.9,579.6 156.7,581.4 157.5,582.0 158.3,579.8 159.1,581.7 159.9,580.0 160.7,583.3 161.5,582.7 162.3,582.3 163.1,580.4 163.9,582.6 164.7,580.4 165.5,582.9 166.3,581.8 167.1,580.8 167.9,584.0 168.7,583.4 169.5,581.4 170.3,583.4 171.1,581.4 171.9,581.7 172.7,581.7 173.5,580.7 174.3,581.3 175.1,581.6 175.9,583.5 176.7,583.3 177.5,580.9 178.3,583.5 179.1,580.6 179.9,581.1 180.7,581.1 181.5,579.9 182.3,583.5 183.1,580.6 183.9,578.0 184.7,581.8 185.5,579.1 186.3,579.4 187.1,575.1 187.9,582.3 188.7,581.8 189.5,581.7 190.3,581.5 191.1,582.7 191.9,579.3 192.7,580.6 193.5,578.2 194.3,579.3 195.1,581.1 195.9,579.8 196.7,576.5 197.5,578.8 198.3,577.2 199.1,575.8 199.9,576.1 200.7,572.0 201.5,564.7 202.3,557.4 203.1,551.6 203.9,535.8 204.7,535.6 205.5,544.0 206.3,554.4 207.1,560.4 207.9,567.7 208.7,572.5 209.5,575.9 210.3,575.3 211.1,575.7 211.9,580.0 212.7,580.3 213.5,579.1 214.3,577.4 215.1,578.9 215.9,578.3 216.7,579.6 217.5,576.0 218.3,578.4 219.1,578.3 219.9,576.9 220.7,579.7 221.5,579.5 222.3,578.8 223.1,580.0 223.9,577.1 224.7,579.1 225.5,580.1 226.3,579.4 227.1,580.2 227.9,576.3 228.7,576.4 229.5,579.2 230.3,579.8 231.1,582.4 231.9,579.9 232.7,576.9 233.5,579.6 234.3,577.6 235.1,576.2 235.9,582.6 236.7,578.6 237.5,578.9 238.3,578.9 239.1,581.1 239.9,578.9 240.7,580.0 241.5,576.0 242.3,575.4 243.1,580.1 243.9,580.3 244.7,578.8 245.5,577.8 246.3,577.4 247.1,575.6 247.9,579.8 248.7,578.2 249.5,578.3 250.3,577.2 251.1,578.1 251.9,577.5 252.7,577.9 253.5,574.4 254.3,577.5 255.1,579.5 255.9,575.1 256.7,575.7 257.5,577.3 258.3,577.7 259.1,576.5 259.9,573.5 260.7,577.6 261.5,574.6 262.3,575.3 263.1,577.2 263.9,575.5 264.7,577.6 265.5,580.6 266.3,577.0 267.1,576.0 267.9,572.5 268.7,572.2 269.5,571.6 270.3,572.0 271.1,570.1 271.9,569.0 272.7,568.7 273.5,564.6 274.3,561.8 275.1,560.4 275.9,562.2 276.7,560.5 277.5,562.3 278.3,561.2 279.1,555.7 279.9,549.5 280.7,533.9 281.5,526.0 282.3,521.9 283.1,533.1 283.9,546.7 284.7,559.9 285.5,562.9 286.3,567.9 287.1,571.2 287.9,571.3 288.7,571.1 289.5,573.7 290.3,570.3 291.1,572.3 291.9,571.0 292.7,570.1 293.5,572.2 294.3,570.5 295.1,575.2 295.9,571.0 296.7,575.2 297.5,570.4 298.3,573.5 299.1,570.2 299.9,569.4 300.7,570.1 301.5,568.4 302.3,561.5 303.1,560.8 303.9,554.3 304.7,556.6 305.5,560.5 306.3,564.9 307.1,564.3 307.9,571.7 308.7,571.0 309.5,570.0 310.3,568.3 311.1,564.9 311.9,562.3 312.7,561.8 313.5,560.7 314.3,562.9 315.1,567.3 315.9,572.8 316.7,570.4 317.5,570.7 318.3,574.3 319.1,572.5 319.9,571.9 320.7,570.9 321.5,569.8 322.3,570.4 323.1,571.4 323.9,571.1 324.7,572.2 325.5,571.8 326.3,570.9 327.1,570.0 327.9,566.2 328.7,561.2 329.5,559.2 330.3,555.3 331.1,558.9 331.9,563.6 332.7,565.1 333.5,566.8 334.3,569.2 335.1,570.0 335.9,568.8 336.7,570.7 337.5,569.7 338.3,567.9 339.1,569.2 339.9,572.1 340.7,568.5 341.5,571.5 342.3,572.3 343.1,573.0 343.9,569.4 344.7,573.9 345.5,571.0 346.3,570.6 347.1,570.6 347.9,571.8 348.7,570.9 349.5,570.3 350.3,572.2 351.1,569.1 351.9,568.6 352.7,571.8 353.5,572.0 354.3,572.6 355.1,568.8 355.9,572.3 356.7,571.4 357.5,573.4 358.3,568.3 359.1,571.2 359.9,570.1 360.7,567.9 361.5,569.4 362.3,572.3 363.1,569.7 363.9,569.6 364.7,572.4 365.5,572.9 366.3,572.4 367.1,569.8 367.9,571.2 368.7,572.9 369.5,570.3 370.3,570.1 371.1,572.4 371.9,573.4 372.7,569.1 373.5,566.1 374.3,568.2 375.1,569.2 375.9,571.0 376.7,572.2 377.5,570.7 378.3,569.6 379.1,570.6 379.9,568.9 380.7,570.7 381.5,569.7 382.3,574.7 383.1,570.9 383.9,568.4 384.7,568.1 385.5,568.6 386.3,566.7 387.1,568.0 387.9,568.3 388.7,570.3 389.5,568.1 390.3,568.5 391.1,567.7 391.9,568.3 392.7,570.4 393.5,570.0 394.3,572.4 395.1,569.4 395.9,572.6 396.7,571.7 397.5,571.0 398.3,567.7 399.1,569.1 399.9,572.0 400.7,573.0 401.5,570.9 402.3,571.5 403.1,569.6 403.9,568.9 404.7,568.7 405.5,571.6 406.3,570.4 407.1,569.7 407.9,570.0 408.7,571.7 409.5,571.2 410.3,569.2 411.1,573.6 411.9,570.8 412.7,570.4 413.5,572.9 414.3,572.0 415.1,570.1 415.9,570.7 416.7,568.5 417.5,568.9 418.3,566.4 419.1,572.0 419.9,566.8 420.7,570.6 421.5,568.0 422.3,568.1 423.1,569.6 423.9,570.5 424.7,571.4 425.5,573.1 426.3,571.2 427.1,571.9 427.9,569.9 428.7,572.0 429.5,570.9 430.3,569.9 431.1,570.0 431.9,570.0 432.7,570.3 433.5,570.6 434.3,568.5 435.1,567.8 435.9,570.4 436.7,566.5 437.5,568.2 438.3,571.8 439.1,564.9 439.9,568.2 440.7,570.2 441.5,566.8 442.3,573.6 443.1,565.1 443.9,571.3 444.7,571.8 445.5,570.5 446.3,569.1 447.1,569.3 447.9,566.6 448.7,569.0 449.5,565.8 450.3,567.5 451.1,569.4 451.9,565.8 452.7,567.3 453.5,567.8 454.3,565.6 455.1,569.7 455.9,569.3 456.7,565.9 457.5,568.1 458.3,567.4 459.1,567.7 459.9,568.5 460.7,567.3 461.5,570.5 462.3,568.5 463.1,570.4 463.9,569.6 464.7,571.1 465.5,568.8 466.3,569.1 467.1,568.2 467.9,570.6 468.7,571.0 469.5,573.0 470.3,572.1 471.1,570.3 471.9,570.1 472.7,570.5 473.5,569.7 474.3,572.0 475.1,571.6 475.9,568.7 476.7,568.8 477.5,571.7 478.3,569.8 479.1,567.9 479.9,570.6 480.7,567.7 481.5,568.1 482.3,567.5 483.1,565.0 483.9,569.4 484.7,566.3 485.5,567.6 486.3,567.9 487.1,570.0 487.9,568.4 488.7,568.7 489.5,566.3 490.3,569.2 491.1,566.2 491.9,568.7 492.7,568.0 493.5,567.1 494.3,570.7 495.1,568.8 495.9,568.7 496.7,567.9 497.5,567.3 498.3,569.6 499.1,570.4 499.9,567.1 500.7,570.5 501.5,569.3 502.3,570.2 503.1,569.3 503.9,566.5 504.7,566.3 505.5,571.0 506.3,568.7 507.1,565.9 507.9,569.0 508.7,567.2 509.5,564.3 510.3,563.2 511.1,563.9 511.9,567.2 512.7,567.0 513.5,565.9 514.3,567.0 515.1,567.9 515.9,564.2 516.7,567.4 517.5,566.6 518.3,566.1 519.1,566.7 519.9,566.9 520.7,567.3 521.5,564.9 522.3,566.0 523.1,570.0 523.9,564.9 524.7,564.2 525.5,567.9 526.3,568.6 527.1,568.3 527.9,565.4 528.7,569.2 529.5,566.4 530.3,566.1 531.1,567.4 531.9,568.1 532.7,569.2 533.5,569.6 534.3,568.7 535.1,570.1 535.9,568.5 536.7,570.1 537.5,566.5 538.3,565.7 539.1,569.6 539.9,566.5 540.7,568.1 541.5,568.3 542.3,567.9 543.1,568.4 543.9,571.4 544.7,565.0 545.5,570.4 546.3,572.6 547.1,568.2 547.9,568.0 548.7,569.4 549.5,571.4 550.3,566.3 551.1,568.1 551.9,567.5 552.7,568.7 553.5,568.4 554.3,569.6 555.1,568.0 555.9,568.7 556.7,567.5 557.5,567.4 558.3,568.2 559.1,568.4 559.9,567.2 560.7,571.5 561.5,568.9 562.3,567.1 563.1,571.5 563.9,568.7 564.7,571.4 565.5,570.7 566.3,571.2 567.1,571.1 567.9,569.8 568.7,571.0 569.5,574.3 570.3,567.7 571.1,571.2 571.9,571.3 572.7,569.0 573.5,568.5 574.3,574.4 575.1,570.5 575.9,574.3 576.7,571.8 577.5,570.7 578.3,571.5 579.1,572.6 579.9,573.9 580.7,572.9 581.5,572.3 582.3,572.3 583.1,574.4 583.9,573.4 584.7,570.7 585.5,571.3 586.3,572.4 587.1,570.5 587.9,570.9 588.7,570.3 589.5,571.8 590.3,572.4 591.1,573.1 591.9,571.1 592.7,574.4 593.5,571.2 594.3,576.6 595.1,572.9 595.9,571.9 596.7,570.1 597.5,566.4 598.3,570.7 599.1,571.4 599.9,574.8 600.7,569.1 601.5,574.7 602.3,571.7 603.1,573.2 603.9,568.3 604.7,572.8 605.5,572.4 606.3,574.5 607.1,573.3 607.9,571.9 608.7,575.3 609.5,574.7 610.3,574.7 611.1,575.4 611.9,575.9 612.7,573.9 613.5,571.7 614.3,571.8 615.1,575.7 615.9,575.0 616.7,573.7 617.5,572.6 618.3,573.5 619.1,573.0 619.9,572.5 620.7,571.5 621.5,575.8 622.3,573.0 623.1,571.2 623.9,570.7 624.7,572.1 625.5,574.7 626.3,575.4 627.1,574.0 627.9,575.2 628.7,574.8 629.5,573.4 630.3,577.6 631.1,576.1 631.9,579.4 632.7,574.2 633.5,575.3 634.3,576.7 635.1,574.7 635.9,572.7 636.7,573.7 637.5,574.8 638.3,575.4 639.1,574.8 639.9,576.3 640.7,576.1 641.5,575.1 642.3,574.7 643.1,574.7 643.9,576.1 644.7,576.4 645.5,574.7 646.3,575.3 647.1,574.4 647.9,573.1 648.7,573.7 649.5,576.7 650.3,576.0 651.1,577.8 651.9,576.0 652.7,577.6 653.5,578.2 654.3,577.7 655.1,574.5 655.9,575.2 656.7,575.8 657.5,574.2 658.3,576.1 659.1,576.8 659.9,574.2 660.7,578.8 661.5,575.4 662.3,576.1 663.1,576.0 663.9,575.1 664.7,577.1 665.5,577.1 666.3,580.1 667.1,578.4 667.9,578.3 668.7,577.3 669.5,575.2 670.3,577.6 671.1,577.0 671.9,579.6 672.7,578.3 673.5,581.5 674.3,579.9 675.1,579.7 675.9,578.3 676.7,578.5 677.5,579.6 678.3,580.0 679.1,577.8 679.9,579.4 680.7,582.7 681.5,578.6 682.3,578.2 683.1,578.2 683.9,576.7 684.7,580.8 685.5,578.5 686.3,578.6 687.1,580.5 687.9,581.6 688.7,576.1 689.5,579.2 690.3,577.9 691.1,577.6 691.9,577.6 692.7,576.9 693.5,580.4 694.3,579.6 695.1,579.2 695.9,580.5 696.7,580.1 697.5,579.3 698.3,579.5 699.1,582.1 699.9,580.1 700.7,578.6 701.5,577.0 702.3,577.3 703.1,576.8 703.9,578.3 704.7,578.6 705.5,574.7 706.3,577.9 707.1,579.0 707.9,578.5 708.7,577.0 709.5,581.0 710.3,577.8 711.1,577.6 711.9,577.7 712.7,579.6 713.5,581.2 714.3,581.1 715.1,579.4 715.9,577.0 716.7,578.0 717.5,577.9 718.3,578.3 719.1,576.2 719.9,579.7 720.7,581.1 721.5,580.5 722.3,581.6 723.1,579.1 723.9,577.9 724.7,579.1 725.5,582.9 726.3,582.5 727.1,579.6 727.9,582.2 728.7,578.9 729.5,581.8 730.3,581.0 731.1,580.4 731.9,582.2 732.7,579.9 733.5,579.8 734.3,578.9 735.1,581.0 735.9,581.2 736.7,581.2 737.5,580.9 738.3,583.4 739.1,580.6 739.9,579.2 740.7,582.9 741.5,583.3 742.3,582.2 743.1,578.1 743.9,580.3 744.7,581.9 745.5,580.8 746.3,583.2 747.1,579.2 747.9,582.4 748.7,580.4 749.5,584.1 750.3,582.4 751.1,583.8 751.9,580.8 752.7,579.1 753.5,579.4 754.3,580.4 755.1,579.6 755.9,582.9 756.7,582.9 757.5,580.7 758.3,578.8 759.1,580.5 759.9,580.5 760.7,584.0 761.5,582.2 762.3,582.9 763.1,581.6 763.9,579.2 764.7,581.3 765.5,580.4 766.3,582.8 767.1,582.2 767.9,581.1 768.7,581.4 769.5,584.0 770.3,580.3 771.1,580.7 771.9,582.2 772.7,581.6 773.5,582.2 774.3,583.9 775.1,586.0 775.9,580.6 776.7,584.2 777.5,584.1 778.3,583.6 779.1,583.1 779.9,583.2 780.7,584.8 781.5,582.4 782.3,582.9 783.1,582.9 783.9,582.9 784.7,582.2 785.5,583.9 786.3,582.9 787.1,583.0 787.9,583.0 788.7,581.7 789.5,581.9 790.3,582.2 791.1,583.8 791.9,582.8 792.7,582.1 793.5,583.8 794.3,584.4 795.1,580.6 795.9,585.9 796.7,583.5 797.5,582.2 798.3,583.8 799.1,581.7 799.9,581.3 800.7,586.1 801.5,580.9 802.3,582.3 803.1,584.2 803.9,580.9 804.7,583.1 805.5,583.7 806.3,587.7 807.1,582.3 807.9,583.9 808.7,585.5 809.5,584.9 810.3,582.6 811.1,585.5 811.9,585.1 812.7,586.1 813.5,587.0 814.3,586.6 815.1,585.7 815.9,585.5 816.7,583.3 817.5,585.4 818.3,585.4 819.1,584.3 819.9,585.6 820.7,584.1 821.5,587.6 822.3,588.8 823.1,584.7 823.9,585.7 824.7,584.4 825.5,587.0 826.3,585.4 827.1,584.4 827.9,583.9 828.7,584.6 829.5,582.4 830.3,584.7 831.1,582.9 831.9,584.7 832.7,584.5 833.5,586.3 834.3,584.3 835.1,585.8 835.9,582.9 836.7,585.9 837.5,585.0 838.3,585.6 839.1,585.7 839.9,586.6 840.7,582.3 841.5,586.3 842.3,583.9 843.1,588.5 843.9,583.0 844.7,584.5 845.5,583.3 846.3,588.4 847.1,584.3 847.9,587.4 848.7,586.6 849.5,584.4 850.3,586.3 851.1,588.3 851.9,586.4 852.7,588.3 853.5,586.3 854.3,586.3 855.1,585.1 855.9,586.3 856.7,588.6 857.5,586.3 858.3,585.4 859.1,584.2 859.9,584.3 860.7,587.9 861.5,584.2 862.3,584.2 863.1,585.1 863.9,584.8 864.7,588.4 865.5,581.8 866.3,586.9 867.1,587.7 867.9,584.5 868.7,585.1 869.5,587.1 870.3,589.6 871.1,585.0 871.9,584.2 872.7,588.4 873.5,589.2 874.3,585.7 875.1,583.0 875.9,588.8 876.7,586.4 877.5,588.2 878.3,586.7 879.1,586.2 879.9,586.3 880.7,589.2 881.5,589.1 882.3,583.3 883.1,584.9 883.9,588.5 884.7,584.6 885.5,582.7 886.3,584.8 887.1,584.1 887.9,584.1 888.7,584.0 889.5,584.1 890.3,583.9 891.1,585.6 891.9,583.6 892.7,584.3 893.5,584.9 894.3,587.6 895.1,586.2 895.9,585.2 896.7,586.0 897.5,585.9 898.3,587.0 899.1,586.3 899.9,588.7 900.7,587.5 901.5,584.8 902.3,584.1 903.1,586.4 903.9,585.8 904.7,584.7 905.5,582.2 906.3,582.0 907.1,585.4 907.9,586.3 908.7,586.1 909.5,582.3 910.3,586.0 911.1,584.0 911.9,585.5 912.7,585.4 913.5,583.6 914.3,584.1 915.1,581.6 915.9,584.2 916.7,583.1 917.5,586.9 918.3,586.3 919.1,587.8 919.9,587.1 920.7,585.3 921.5,586.6 922.3,585.3 923.1,587.0 923.9,586.1 924.7,584.0 925.5,585.4 926.3,585.6 927.1,585.2 927.9,587.3 928.7,589.2 929.5,586.1 930.3,585.8 931.1,583.1 931.9,586.7 932.7,586.4 933.5,583.4 934.3,587.1 935.1,587.3 935.9,584.9 936.7,585.6 937.5,585.3 938.3,587.7 939.1,583.8 939.9,585.6 940.7,589.3 941.5,586.3 942.3,587.0 943.1,586.1 943.9,584.6 944.7,585.5 945.5,587.0 946.3,584.3 947.1,586.8 947.9,588.5 948.7,588.6 949.5,584.6 950.3,585.9 951.1,584.6 951.9,589.1 952.7,588.2 953.5,588.6 954.3,586.2 955.1,585.2 955.9,586.8 956.7,587.0 957.5,584.8 958.3,586.4 959.1,587.9 959.9,587.4 960.7,585.0 961.5,583.1 962.3,586.9 963.1,587.8 963.9,587.0 964.7,587.1 965.5,586.5 966.3,588.1 967.1,586.7 967.9,587.2 968.7,585.6 969.5,585.8 970.3,586.2 971.1,584.2 971.9,583.8 972.7,585.6 973.5,588.2 974.3,586.2 975.1,588.5 975.9,585.4 976.7,585.3 977.5,584.1 978.3,585.2 979.1,588.7 979.9,586.2 980.7,586.7 981.5,586.9 982.3,585.3 983.1,585.4 983.9,585.7 984.7,586.5 985.5,587.0 986.3,586.7 987.1,586.7 987.9,585.2 988.7,585.7 989.5,584.9 990.3,588.0 991.1,583.0 991.9,586.0 992.7,589.8 993.5,585.0 994.3,583.7 995.1,585.7 995.9,587.8 996.7,585.3 997.5,586.3 998.3,585.2 999.1,585.1 999.9,590.8 1000.7,586.6 1001.5,585.7 1002.3,586.1 1003.1,587.9 1003.9,588.3 1004.7,589.6 1005.5,588.8 1006.3,585.8 1007.1,588.8 1007.9,586.2 1008.7,585.9 1009.5,583.8 1010.3,585.2 1011.1,584.5 1011.9,585.3 1012.7,583.4 1013.5,585.6 1014.3,586.1 1015.1,585.5 1015.9,586.8 1016.7,586.1 1017.5,589.2 1018.3,583.8 1019.1,586.9 1019.9,584.5 1020.7,586.4 1021.5,588.4 1022.3,585.8 1023.1,587.2 1023.9,586.0 1024.7,589.9 1025.5,588.3 1026.3,588.9 1027.1,584.9 1027.9,586.1 1028.7,589.3 1029.5,586.9 1030.3,586.8 1031.1,587.8 1031.9,585.4 1032.7,588.6 1033.5,587.3 1034.3,588.4 1035.1,586.0 1035.9,587.9 1036.7,586.2 1037.5,588.8 1038.3,589.0 1039.1,587.9 1039.9,587.1 1040.7,587.0 1041.5,581.4 1042.3,586.9 1043.1,585.4 1043.9,586.1 1044.7,585.2 1045.5,583.3 1046.3,585.9 1047.1,587.9 1047.9,589.4 1048.7,586.6 1049.5,586.1 1050.3,589.2 1051.1,585.4 1051.9,590.0 1052.7,586.8 1053.5,585.1 1054.3,588.3 1055.1,589.3 1055.9,584.2 1056.7,589.0 1057.5,586.6 1058.3,589.4 1059.1,586.6 1059.9,584.6 1060.7,587.5 1061.5,588.1 1062.3,589.8 1063.1,588.7 1063.9,587.2 1064.7,585.7 1065.5,585.1 1066.3,585.4 1067.1,584.6 1067.9,585.6 1068.7,582.0 1069.5,586.4 1070.3,586.6 1071.1,590.3 1071.9,587.7 1072.7,585.3 1073.5,586.7 1074.3,584.1 1075.1,585.0 1075.9,582.8 1076.7,588.4 1077.5,586.6 1078.3,583.9 1079.1,584.9 1079.9,586.9 1080.7,586.3 1081.5,586.0 1082.3,584.2 1083.1,584.5 1083.9,586.0 1084.7,587.5 1085.5,584.1 1086.3,583.6 1087.1,587.8 1087.9,584.6 1088.7,587.5 1089.5,585.7 1090.3,586.7 1091.1,588.0 1091.9,586.5 1092.7,587.6 1093.5,585.4 1094.3,584.8 1095.1,587.2 1095.9,588.7 1096.7,588.6 1097.5,590.7 1098.3,587.1 1099.1,587.3 1099.9,588.1 1100.7,586.4 1101.5,587.0 1102.3,585.0 1103.1,588.7 1103.9,585.7 1104.7,587.9 1105.5,585.0 1106.3,588.9 1107.1,585.4 1107.9,588.8 1108.7,584.8 1109.5,586.9 1110.3,588.9 1111.1,585.5 1111.9,587.0 1112.7,585.8 1113.5,582.6 1114.3,586.7 1115.1,586.9 1115.9,584.3 1116.7,587.0 1117.5,585.4 1118.3,585.1 1119.1,586.2 1119.9,585.4 1120.7,590.5 1121.5,584.4 1122.3,587.9 1123.1,588.5 1123.9,583.6 1124.7,583.6" fill="none" stroke="#f47d18" stroke-width="1.9" stroke-linejoin="round"/><path d="M125.5,656.5L126.3,655.7 127.1,655.6 127.9,654.6 128.7,654.3 129.5,655.7 130.3,656.6 131.1,657.3 131.9,658.0 132.7,656.7 133.5,657.4 134.3,657.8 135.1,653.0 135.9,654.1 136.7,652.9 137.5,653.5 138.3,653.0 139.1,651.7 139.9,650.5 140.7,653.1 141.5,650.7 142.3,643.2 143.1,641.0 143.9,631.1 144.7,628.9 145.5,620.9 146.3,626.7 147.1,636.2 147.9,642.3 148.7,647.4 149.5,653.4 150.3,652.3 151.1,654.3 151.9,655.3 152.7,650.9 153.5,657.2 154.3,654.8 155.1,656.0 155.9,651.2 156.7,655.1 157.5,654.0 158.3,650.0 159.1,653.8 159.9,648.2 160.7,643.9 161.5,645.0 162.3,648.5 163.1,652.0 163.9,652.5 164.7,654.5 165.5,656.3 166.3,651.7 167.1,653.3 167.9,652.0 168.7,654.7 169.5,657.3 170.3,655.4 171.1,652.1 171.9,653.2 172.7,656.3 173.5,652.2 174.3,653.0 175.1,653.6 175.9,646.6 176.7,649.1 177.5,644.6 178.3,642.2 179.1,641.5 179.9,644.9 180.7,648.9 181.5,652.4 182.3,653.1 183.1,653.9 183.9,657.4 184.7,656.6 185.5,652.6 186.3,652.1 187.1,657.0 187.9,653.0 188.7,655.8 189.5,656.4 190.3,651.9 191.1,652.2 191.9,652.7 192.7,650.3 193.5,650.8 194.3,653.1 195.1,655.2 195.9,653.2 196.7,653.8 197.5,653.0 198.3,650.9 199.1,656.5 199.9,647.2 200.7,648.7 201.5,649.4 202.3,645.7 203.1,650.7 203.9,653.4 204.7,650.5 205.5,653.5 206.3,650.1 207.1,653.9 207.9,652.6 208.7,652.8 209.5,655.7 210.3,654.9 211.1,656.6 211.9,654.3 212.7,650.9 213.5,653.7 214.3,653.9 215.1,650.8 215.9,657.1 216.7,653.6 217.5,652.9 218.3,650.4 219.1,652.7 219.9,652.7 220.7,652.3 221.5,653.2 222.3,647.4 223.1,654.7 223.9,649.7 224.7,647.7 225.5,649.5 226.3,649.9 227.1,652.7 227.9,649.7 228.7,652.3 229.5,650.6 230.3,656.9 231.1,653.3 231.9,656.0 232.7,649.8 233.5,653.4 234.3,651.3 235.1,653.9 235.9,653.8 236.7,648.7 237.5,649.9 238.3,649.8 239.1,649.8 239.9,651.2 240.7,650.3 241.5,648.5 242.3,652.6 243.1,653.7 243.9,649.4 244.7,650.6 245.5,651.8 246.3,650.2 247.1,647.1 247.9,647.2 248.7,645.7 249.5,647.0 250.3,647.8 251.1,654.6 251.9,655.0 252.7,650.9 253.5,651.6 254.3,654.4 255.1,650.0 255.9,651.9 256.7,651.0 257.5,649.7 258.3,650.3 259.1,647.6 259.9,649.0 260.7,645.8 261.5,654.8 262.3,653.7 263.1,653.4 263.9,651.6 264.7,653.4 265.5,654.1 266.3,652.9 267.1,653.4 267.9,649.7 268.7,653.1 269.5,650.7 270.3,649.2 271.1,648.9 271.9,650.8 272.7,651.1 273.5,644.5 274.3,648.5 275.1,645.8 275.9,641.1 276.7,641.5 277.5,643.8 278.3,647.2 279.1,644.9 279.9,643.2 280.7,646.2 281.5,640.1 282.3,644.0 283.1,645.5 283.9,644.1 284.7,644.9 285.5,643.7 286.3,643.9 287.1,642.4 287.9,639.9 288.7,640.5 289.5,639.3 290.3,640.5 291.1,637.6 291.9,632.2 292.7,628.8 293.5,630.4 294.3,633.9 295.1,639.3 295.9,638.2 296.7,636.7 297.5,632.0 298.3,630.8 299.1,623.7 299.9,621.3 300.7,626.8 301.5,637.4 302.3,639.3 303.1,646.6 303.9,648.3 304.7,647.3 305.5,649.7 306.3,648.5 307.1,647.8 307.9,649.6 308.7,647.6 309.5,650.3 310.3,649.4 311.1,649.9 311.9,650.2 312.7,641.6 313.5,647.6 314.3,641.9 315.1,644.3 315.9,640.6 316.7,641.1 317.5,642.0 318.3,633.8 319.1,635.9 319.9,634.5 320.7,630.5 321.5,635.5 322.3,633.9 323.1,630.7 323.9,624.7 324.7,623.6 325.5,603.7 326.3,588.8 327.1,588.9 327.9,601.6 328.7,615.9 329.5,627.0 330.3,632.3 331.1,640.4 331.9,641.3 332.7,641.1 333.5,642.9 334.3,644.1 335.1,646.7 335.9,646.8 336.7,645.1 337.5,646.6 338.3,647.5 339.1,651.3 339.9,645.5 340.7,647.4 341.5,648.0 342.3,644.4 343.1,646.4 343.9,646.8 344.7,645.0 345.5,647.0 346.3,648.1 347.1,647.9 347.9,645.7 348.7,646.1 349.5,651.2 350.3,644.6 351.1,647.1 351.9,648.9 352.7,646.8 353.5,648.0 354.3,647.3 355.1,648.6 355.9,649.6 356.7,646.3 357.5,646.8 358.3,646.4 359.1,645.7 359.9,646.5 360.7,643.3 361.5,647.2 362.3,649.3 363.1,649.7 363.9,648.8 364.7,643.8 365.5,648.9 366.3,644.0 367.1,645.5 367.9,649.3 368.7,642.9 369.5,646.6 370.3,645.3 371.1,644.6 371.9,642.8 372.7,645.9 373.5,644.2 374.3,647.5 375.1,648.1 375.9,642.4 376.7,644.7 377.5,645.3 378.3,643.0 379.1,643.2 379.9,645.7 380.7,644.8 381.5,641.9 382.3,644.4 383.1,646.8 383.9,642.7 384.7,643.3 385.5,648.2 386.3,647.5 387.1,640.7 387.9,641.6 388.7,645.5 389.5,643.0 390.3,645.3 391.1,644.7 391.9,647.1 392.7,641.3 393.5,642.2 394.3,644.3 395.1,648.4 395.9,645.5 396.7,642.2 397.5,646.5 398.3,647.9 399.1,646.4 399.9,645.8 400.7,647.2 401.5,648.7 402.3,646.6 403.1,647.0 403.9,645.2 404.7,644.8 405.5,643.1 406.3,644.7 407.1,643.9 407.9,644.1 408.7,646.8 409.5,646.1 410.3,647.0 411.1,642.0 411.9,645.7 412.7,643.2 413.5,643.2 414.3,643.1 415.1,646.9 415.9,646.4 416.7,642.9 417.5,640.9 418.3,643.1 419.1,642.6 419.9,646.9 420.7,640.1 421.5,639.5 422.3,643.2 423.1,642.6 423.9,642.6 424.7,644.9 425.5,647.9 426.3,642.2 427.1,641.4 427.9,638.6 428.7,641.9 429.5,642.4 430.3,640.6 431.1,644.0 431.9,641.3 432.7,643.4 433.5,641.2 434.3,638.0 435.1,638.9 435.9,637.6 436.7,637.8 437.5,642.2 438.3,643.2 439.1,645.8 439.9,642.7 440.7,642.4 441.5,641.4 442.3,645.3 443.1,644.3 443.9,642.1 444.7,644.1 445.5,643.9 446.3,638.2 447.1,643.0 447.9,641.4 448.7,640.0 449.5,639.8 450.3,643.7 451.1,642.3 451.9,642.6 452.7,635.8 453.5,635.4 454.3,635.4 455.1,624.6 455.9,615.5 456.7,603.4 457.5,609.1 458.3,616.2 459.1,625.2 459.9,631.0 460.7,634.2 461.5,635.8 462.3,639.4 463.1,637.2 463.9,641.8 464.7,638.6 465.5,638.4 466.3,642.8 467.1,640.1 467.9,641.2 468.7,640.2 469.5,636.1 470.3,642.7 471.1,638.7 471.9,644.2 472.7,639.4 473.5,638.1 474.3,642.6 475.1,642.1 475.9,640.8 476.7,638.2 477.5,643.6 478.3,638.7 479.1,641.5 479.9,640.5 480.7,641.9 481.5,644.9 482.3,642.9 483.1,645.6 483.9,646.0 484.7,639.9 485.5,640.4 486.3,641.2 487.1,640.4 487.9,642.6 488.7,637.4 489.5,642.3 490.3,642.3 491.1,640.3 491.9,637.8 492.7,641.2 493.5,640.4 494.3,642.1 495.1,640.2 495.9,642.3 496.7,639.4 497.5,643.5 498.3,635.5 499.1,637.7 499.9,641.0 500.7,636.5 501.5,641.4 502.3,637.4 503.1,640.1 503.9,639.4 504.7,639.6 505.5,641.1 506.3,640.7 507.1,640.2 507.9,645.6 508.7,640.6 509.5,639.2 510.3,642.8 511.1,641.6 511.9,642.7 512.7,643.5 513.5,637.7 514.3,641.8 515.1,642.4 515.9,640.6 516.7,640.8 517.5,634.2 518.3,639.4 519.1,644.9 519.9,637.9 520.7,640.5 521.5,641.9 522.3,642.3 523.1,644.7 523.9,637.1 524.7,641.6 525.5,643.1 526.3,638.8 527.1,641.3 527.9,645.9 528.7,644.0 529.5,643.0 530.3,636.3 531.1,641.3 531.9,641.9 532.7,641.3 533.5,641.7 534.3,647.9 535.1,640.4 535.9,639.9 536.7,641.3 537.5,640.2 538.3,640.5 539.1,641.6 539.9,642.6 540.7,641.7 541.5,638.9 542.3,641.1 543.1,642.2 543.9,641.0 544.7,643.9 545.5,643.4 546.3,639.2 547.1,641.9 547.9,645.0 548.7,644.5 549.5,641.2 550.3,642.7 551.1,639.0 551.9,637.9 552.7,641.4 553.5,640.6 554.3,640.9 555.1,639.7 555.9,640.3 556.7,638.4 557.5,641.0 558.3,642.6 559.1,641.3 559.9,643.1 560.7,638.2 561.5,640.8 562.3,645.5 563.1,646.0 563.9,643.2 564.7,642.7 565.5,639.8 566.3,642.6 567.1,643.8 567.9,638.5 568.7,642.9 569.5,643.4 570.3,643.2 571.1,639.9 571.9,642.8 572.7,638.1 573.5,644.7 574.3,642.3 575.1,639.2 575.9,644.0 576.7,643.4 577.5,640.1 578.3,646.3 579.1,639.5 579.9,642.4 580.7,644.3 581.5,636.7 582.3,643.7 583.1,641.8 583.9,641.9 584.7,639.2 585.5,642.4 586.3,639.7 587.1,639.9 587.9,640.9 588.7,639.4 589.5,645.9 590.3,640.0 591.1,640.5 591.9,641.4 592.7,642.0 593.5,643.5 594.3,644.0 595.1,641.8 595.9,642.2 596.7,642.5 597.5,644.3 598.3,644.2 599.1,642.3 599.9,639.2 600.7,647.6 601.5,645.1 602.3,643.5 603.1,643.0 603.9,641.7 604.7,640.0 605.5,641.3 606.3,641.6 607.1,640.6 607.9,639.1 608.7,640.9 609.5,643.7 610.3,641.9 611.1,643.1 611.9,638.8 612.7,642.8 613.5,642.9 614.3,640.0 615.1,639.7 615.9,644.7 616.7,641.5 617.5,643.6 618.3,641.3 619.1,643.5 619.9,641.8 620.7,639.2 621.5,642.5 622.3,641.5 623.1,643.7 623.9,641.7 624.7,642.1 625.5,644.7 626.3,645.7 627.1,645.2 627.9,645.7 628.7,644.6 629.5,645.1 630.3,645.4 631.1,644.0 631.9,643.1 632.7,643.6 633.5,648.7 634.3,643.5 635.1,643.5 635.9,643.5 636.7,644.3 637.5,644.6 638.3,642.0 639.1,640.1 639.9,644.9 640.7,640.0 641.5,643.5 642.3,642.7 643.1,644.2 643.9,645.6 644.7,642.8 645.5,640.4 646.3,639.4 647.1,640.0 647.9,642.9 648.7,638.4 649.5,643.3 650.3,643.1 651.1,644.1 651.9,642.2 652.7,643.2 653.5,641.3 654.3,642.2 655.1,639.5 655.9,643.6 656.7,646.5 657.5,644.0 658.3,645.4 659.1,643.2 659.9,648.6 660.7,644.4 661.5,647.5 662.3,645.5 663.1,643.4 663.9,647.6 664.7,645.4 665.5,644.7 666.3,644.9 667.1,643.9 667.9,642.2 668.7,644.3 669.5,642.9 670.3,643.7 671.1,642.2 671.9,640.3 672.7,642.6 673.5,642.4 674.3,643.0 675.1,646.1 675.9,640.8 676.7,644.0 677.5,638.9 678.3,641.5 679.1,643.2 679.9,639.8 680.7,640.6 681.5,644.8 682.3,644.6 683.1,643.6 683.9,642.5 684.7,649.5 685.5,644.0 686.3,642.2 687.1,647.0 687.9,645.5 688.7,644.1 689.5,647.4 690.3,644.8 691.1,646.0 691.9,645.1 692.7,643.9 693.5,648.3 694.3,647.2 695.1,644.1 695.9,644.3 696.7,647.8 697.5,645.3 698.3,645.6 699.1,646.4 699.9,644.4 700.7,640.9 701.5,645.1 702.3,646.1 703.1,646.2 703.9,648.5 704.7,646.2 705.5,647.4 706.3,649.3 707.1,645.4 707.9,650.0 708.7,649.6 709.5,648.0 710.3,650.7 711.1,648.6 711.9,644.7 712.7,648.4 713.5,646.6 714.3,646.8 715.1,646.4 715.9,649.1 716.7,647.0 717.5,644.4 718.3,646.3 719.1,647.3 719.9,645.1 720.7,645.5 721.5,645.6 722.3,644.7 723.1,646.5 723.9,647.4 724.7,648.3 725.5,647.2 726.3,646.4 727.1,646.4 727.9,647.0 728.7,643.2 729.5,645.6 730.3,644.6 731.1,643.7 731.9,643.7 732.7,643.6 733.5,643.9 734.3,641.8 735.1,646.1 735.9,645.7 736.7,645.8 737.5,647.0 738.3,649.1 739.1,646.2 739.9,647.7 740.7,644.0 741.5,643.2 742.3,643.6 743.1,649.7 743.9,643.3 744.7,648.2 745.5,650.1 746.3,646.4 747.1,650.3 747.9,651.4 748.7,648.9 749.5,651.9 750.3,649.0 751.1,645.8 751.9,648.1 752.7,646.0 753.5,643.9 754.3,644.8 755.1,653.3 755.9,647.1 756.7,648.1 757.5,646.2 758.3,647.7 759.1,647.1 759.9,646.1 760.7,644.0 761.5,642.7 762.3,643.7 763.1,646.1 763.9,650.0 764.7,648.6 765.5,650.7 766.3,647.9 767.1,647.3 767.9,644.8 768.7,647.7 769.5,642.8 770.3,647.1 771.1,651.5 771.9,648.2 772.7,650.1 773.5,646.5 774.3,644.4 775.1,646.7 775.9,646.6 776.7,649.8 777.5,651.0 778.3,645.0 779.1,645.9 779.9,646.1 780.7,645.6 781.5,643.4 782.3,646.1 783.1,646.4 783.9,646.9 784.7,643.2 785.5,644.7 786.3,641.4 787.1,646.7 787.9,643.4 788.7,644.8 789.5,644.9 790.3,645.8 791.1,645.0 791.9,644.4 792.7,652.7 793.5,649.6 794.3,649.9 795.1,653.8 795.9,649.5 796.7,650.3 797.5,648.2 798.3,650.5 799.1,648.7 799.9,647.8 800.7,646.8 801.5,648.0 802.3,649.5 803.1,642.9 803.9,647.3 804.7,646.8 805.5,646.7 806.3,643.2 807.1,649.6 807.9,646.8 808.7,647.2 809.5,646.7 810.3,644.2 811.1,646.9 811.9,645.0 812.7,646.7 813.5,647.8 814.3,647.8 815.1,647.7 815.9,647.5 816.7,652.7 817.5,649.2 818.3,645.5 819.1,645.5 819.9,645.5 820.7,646.9 821.5,645.9 822.3,645.0 823.1,650.7 823.9,647.2 824.7,646.2 825.5,646.3 826.3,647.0 827.1,650.6 827.9,648.4 828.7,650.5 829.5,641.6 830.3,649.2 831.1,649.9 831.9,652.1 832.7,647.9 833.5,644.7 834.3,649.6 835.1,647.5 835.9,645.2 836.7,647.5 837.5,650.7 838.3,651.5 839.1,650.2 839.9,646.0 840.7,653.0 841.5,645.2 842.3,646.9 843.1,643.5 843.9,648.9 844.7,647.5 845.5,648.5 846.3,647.4 847.1,647.2 847.9,647.2 848.7,642.9 849.5,648.5 850.3,648.1 851.1,645.0 851.9,644.1 852.7,642.5 853.5,640.8 854.3,633.9 855.1,628.3 855.9,626.7 856.7,630.8 857.5,637.7 858.3,643.2 859.1,644.4 859.9,645.9 860.7,648.3 861.5,647.3 862.3,646.8 863.1,648.0 863.9,646.7 864.7,647.3 865.5,648.0 866.3,643.5 867.1,650.3 867.9,644.0 868.7,648.6 869.5,647.5 870.3,650.0 871.1,647.8 871.9,645.0 872.7,649.4 873.5,647.8 874.3,647.5 875.1,648.4 875.9,650.8 876.7,649.9 877.5,648.4 878.3,645.1 879.1,647.1 879.9,648.4 880.7,652.0 881.5,648.7 882.3,647.0 883.1,649.5 883.9,646.4 884.7,646.5 885.5,646.5 886.3,643.7 887.1,648.5 887.9,647.9 888.7,646.7 889.5,645.1 890.3,647.8 891.1,650.6 891.9,646.3 892.7,646.0 893.5,649.2 894.3,645.4 895.1,644.1 895.9,647.7 896.7,647.5 897.5,648.5 898.3,647.8 899.1,650.3 899.9,648.3 900.7,647.6 901.5,647.7 902.3,649.8 903.1,651.2 903.9,651.1 904.7,650.4 905.5,642.4 906.3,646.8 907.1,648.4 907.9,648.9 908.7,645.4 909.5,651.8 910.3,648.5 911.1,646.3 911.9,648.4 912.7,647.3 913.5,646.3 914.3,649.7 915.1,647.6 915.9,645.8 916.7,647.8 917.5,648.9 918.3,647.0 919.1,651.8 919.9,646.9 920.7,653.0 921.5,650.8 922.3,646.9 923.1,649.0 923.9,650.8 924.7,648.4 925.5,645.9 926.3,648.4 927.1,652.3 927.9,645.3 928.7,649.7 929.5,649.0 930.3,648.3 931.1,646.7 931.9,647.3 932.7,650.9 933.5,649.7 934.3,646.1 935.1,651.6 935.9,646.0 936.7,650.3 937.5,650.1 938.3,653.2 939.1,651.3 939.9,652.5 940.7,650.6 941.5,653.3 942.3,652.1 943.1,655.9 943.9,649.6 944.7,653.5 945.5,651.7 946.3,651.1 947.1,648.5 947.9,650.5 948.7,646.3 949.5,646.2 950.3,650.3 951.1,645.2 951.9,651.6 952.7,648.6 953.5,649.6 954.3,650.2 955.1,651.4 955.9,650.2 956.7,650.2 957.5,650.2 958.3,653.1 959.1,653.2 959.9,653.5 960.7,651.5 961.5,650.4 962.3,647.3 963.1,651.9 963.9,651.7 964.7,649.3 965.5,652.2 966.3,652.7 967.1,650.1 967.9,653.0 968.7,651.1 969.5,646.9 970.3,649.2 971.1,649.6 971.9,651.9 972.7,648.3 973.5,648.6 974.3,647.8 975.1,649.1 975.9,649.8 976.7,651.7 977.5,651.6 978.3,650.7 979.1,651.1 979.9,650.9 980.7,652.0 981.5,654.3 982.3,645.9 983.1,651.3 983.9,652.3 984.7,654.5 985.5,649.6 986.3,652.6 987.1,654.1 987.9,651.1 988.7,648.1 989.5,651.0 990.3,648.5 991.1,651.9 991.9,647.9 992.7,653.8 993.5,649.9 994.3,647.6 995.1,647.8 995.9,646.9 996.7,650.2 997.5,652.5 998.3,649.4 999.1,652.7 999.9,648.4 1000.7,650.6 1001.5,655.2 1002.3,647.8 1003.1,653.3 1003.9,652.8 1004.7,646.8 1005.5,647.8 1006.3,648.1 1007.1,651.9 1007.9,649.8 1008.7,650.3 1009.5,652.6 1010.3,651.2 1011.1,651.6 1011.9,650.1 1012.7,652.9 1013.5,649.1 1014.3,654.4 1015.1,650.0 1015.9,649.0 1016.7,651.6 1017.5,651.2 1018.3,646.2 1019.1,650.8 1019.9,647.7 1020.7,648.7 1021.5,652.4 1022.3,648.3 1023.1,650.9 1023.9,649.8 1024.7,655.0 1025.5,651.2 1026.3,649.1 1027.1,649.4 1027.9,649.3 1028.7,651.9 1029.5,652.7 1030.3,655.0 1031.1,653.0 1031.9,653.0 1032.7,653.2 1033.5,652.2 1034.3,653.3 1035.1,654.9 1035.9,654.3 1036.7,651.0 1037.5,648.5 1038.3,650.2 1039.1,651.6 1039.9,645.9 1040.7,649.3 1041.5,651.9 1042.3,649.9 1043.1,649.3 1043.9,655.4 1044.7,654.1 1045.5,650.7 1046.3,654.8 1047.1,654.5 1047.9,650.2 1048.7,657.9 1049.5,650.2 1050.3,651.1 1051.1,648.9 1051.9,651.8 1052.7,648.7 1053.5,651.6 1054.3,654.7 1055.1,653.4 1055.9,652.3 1056.7,656.3 1057.5,652.1 1058.3,656.7 1059.1,654.2 1059.9,655.8 1060.7,655.2 1061.5,654.8 1062.3,653.7 1063.1,652.1 1063.9,652.0 1064.7,653.9 1065.5,652.6 1066.3,650.8 1067.1,651.9 1067.9,651.6 1068.7,653.4 1069.5,654.1 1070.3,654.3 1071.1,653.2 1071.9,654.3 1072.7,651.8 1073.5,648.0 1074.3,653.7 1075.1,650.8 1075.9,652.0 1076.7,651.7 1077.5,654.8 1078.3,651.0 1079.1,653.8 1079.9,652.2 1080.7,651.0 1081.5,650.4 1082.3,654.4 1083.1,655.3 1083.9,655.9 1084.7,658.5 1085.5,654.9 1086.3,655.8 1087.1,654.6 1087.9,655.3 1088.7,653.8 1089.5,653.0 1090.3,658.0 1091.1,650.3 1091.9,654.6 1092.7,655.0 1093.5,654.1 1094.3,651.5 1095.1,652.6 1095.9,652.6 1096.7,650.6 1097.5,653.1 1098.3,652.0 1099.1,651.5 1099.9,654.5 1100.7,650.9 1101.5,654.3 1102.3,652.3 1103.1,654.6 1103.9,654.7 1104.7,654.8 1105.5,652.1 1106.3,652.6 1107.1,652.2 1107.9,654.4 1108.7,656.0 1109.5,656.9 1110.3,653.8 1111.1,654.7 1111.9,651.0 1112.7,649.9 1113.5,653.7 1114.3,653.7 1115.1,651.7 1115.9,651.2 1116.7,656.0 1117.5,653.5 1118.3,652.2 1119.1,661.0 1119.9,656.3 1120.7,654.9 1121.5,657.5 1122.3,654.5 1123.1,659.3 1123.9,652.8 1124.7,652.5" fill="none" stroke="#1b5e2b" stroke-width="1.9" stroke-linejoin="round"/><path d="M125.5,727.4L126.3,727.7 127.1,726.0 127.9,728.3 128.7,730.8 129.5,729.9 130.3,728.3 131.1,722.8 131.9,729.5 132.7,728.7 133.5,726.4 134.3,726.2 135.1,728.4 135.9,724.6 136.7,727.3 137.5,723.2 138.3,723.6 139.1,724.2 139.9,721.5 140.7,724.3 141.5,725.5 142.3,721.6 143.1,726.1 143.9,723.3 144.7,726.4 145.5,725.8 146.3,724.9 147.1,725.4 147.9,723.6 148.7,725.6 149.5,725.2 150.3,730.1 151.1,729.0 151.9,723.3 152.7,727.0 153.5,725.7 154.3,723.8 155.1,724.8 155.9,725.0 156.7,722.3 157.5,722.3 158.3,723.2 159.1,721.2 159.9,724.1 160.7,723.6 161.5,721.7 162.3,721.0 163.1,723.0 163.9,724.5 164.7,723.5 165.5,721.2 166.3,723.9 167.1,723.5 167.9,724.5 168.7,726.7 169.5,722.8 170.3,724.4 171.1,723.7 171.9,723.4 172.7,729.2 173.5,727.6 174.3,721.6 175.1,725.8 175.9,724.3 176.7,727.8 177.5,725.3 178.3,724.2 179.1,724.6 179.9,725.1 180.7,724.1 181.5,723.7 182.3,723.5 183.1,724.0 183.9,721.0 184.7,723.9 185.5,724.0 186.3,723.6 187.1,726.4 187.9,722.4 188.7,723.7 189.5,722.2 190.3,725.5 191.1,723.4 191.9,723.9 192.7,724.4 193.5,719.8 194.3,723.0 195.1,720.1 195.9,720.7 196.7,720.0 197.5,719.8 198.3,716.0 199.1,713.6 199.9,705.3 200.7,702.5 201.5,706.0 202.3,713.5 203.1,718.8 203.9,719.6 204.7,719.3 205.5,721.5 206.3,721.1 207.1,721.4 207.9,719.7 208.7,716.1 209.5,719.7 210.3,722.8 211.1,721.0 211.9,716.6 212.7,721.1 213.5,718.0 214.3,725.5 215.1,721.9 215.9,719.3 216.7,723.7 217.5,721.3 218.3,723.6 219.1,721.4 219.9,718.4 220.7,721.9 221.5,717.8 222.3,723.6 223.1,721.1 223.9,718.8 224.7,717.0 225.5,724.4 226.3,725.1 227.1,720.4 227.9,726.4 228.7,723.4 229.5,722.2 230.3,722.2 231.1,721.6 231.9,724.7 232.7,722.2 233.5,717.7 234.3,725.5 235.1,722.9 235.9,719.2 236.7,720.6 237.5,719.4 238.3,721.7 239.1,723.1 239.9,723.0 240.7,721.6 241.5,721.2 242.3,724.4 243.1,722.1 243.9,727.8 244.7,721.4 245.5,724.5 246.3,723.0 247.1,720.5 247.9,724.0 248.7,721.4 249.5,719.0 250.3,719.8 251.1,721.3 251.9,717.3 252.7,722.4 253.5,720.5 254.3,719.0 255.1,721.8 255.9,722.9 256.7,721.0 257.5,720.1 258.3,723.6 259.1,722.3 259.9,717.0 260.7,718.0 261.5,717.6 262.3,717.4 263.1,715.0 263.9,719.6 264.7,718.3 265.5,718.0 266.3,720.3 267.1,717.1 267.9,717.6 268.7,718.6 269.5,717.3 270.3,717.4 271.1,718.4 271.9,716.0 272.7,717.4 273.5,711.5 274.3,710.2 275.1,703.0 275.9,699.0 276.7,689.0 277.5,682.2 278.3,676.3 279.1,680.8 279.9,692.2 280.7,698.6 281.5,701.5 282.3,701.5 283.1,700.9 283.9,704.4 284.7,705.7 285.5,707.0 286.3,708.2 287.1,706.2 287.9,712.4 288.7,707.3 289.5,708.2 290.3,710.5 291.1,706.4 291.9,713.3 292.7,714.6 293.5,713.9 294.3,713.4 295.1,715.7 295.9,711.8 296.7,717.9 297.5,714.9 298.3,713.4 299.1,713.3 299.9,715.5 300.7,715.8 301.5,707.4 302.3,704.9 303.1,698.6 303.9,699.0 304.7,698.9 305.5,708.2 306.3,708.4 307.1,710.9 307.9,713.1 308.7,717.7 309.5,713.4 310.3,718.0 311.1,716.8 311.9,715.4 312.7,714.6 313.5,718.0 314.3,719.6 315.1,714.6 315.9,716.5 316.7,718.8 317.5,714.1 318.3,714.7 319.1,713.5 319.9,715.9 320.7,715.9 321.5,715.3 322.3,714.8 323.1,713.0 323.9,713.5 324.7,714.2 325.5,717.5 326.3,714.8 327.1,714.2 327.9,716.9 328.7,716.4 329.5,712.7 330.3,713.2 331.1,716.2 331.9,716.1 332.7,713.7 333.5,716.1 334.3,715.4 335.1,718.1 335.9,714.0 336.7,718.1 337.5,716.7 338.3,713.7 339.1,717.9 339.9,717.4 340.7,712.7 341.5,719.4 342.3,712.9 343.1,713.2 343.9,714.4 344.7,716.3 345.5,715.5 346.3,713.5 347.1,716.5 347.9,714.4 348.7,716.4 349.5,719.2 350.3,714.8 351.1,708.9 351.9,713.6 352.7,712.5 353.5,714.6 354.3,714.2 355.1,711.7 355.9,711.5 356.7,713.8 357.5,713.9 358.3,709.5 359.1,716.7 359.9,715.0 360.7,715.2 361.5,716.0 362.3,713.2 363.1,715.5 363.9,717.5 364.7,717.3 365.5,716.0 366.3,714.4 367.1,712.7 367.9,716.4 368.7,715.4 369.5,713.2 370.3,709.4 371.1,711.5 371.9,709.3 372.7,715.5 373.5,714.3 374.3,712.3 375.1,713.4 375.9,719.1 376.7,716.8 377.5,710.7 378.3,713.7 379.1,711.7 379.9,710.4 380.7,713.5 381.5,718.1 382.3,716.3 383.1,712.6 383.9,711.1 384.7,712.4 385.5,714.6 386.3,708.9 387.1,708.1 387.9,715.7 388.7,712.4 389.5,715.7 390.3,712.7 391.1,715.3 391.9,711.3 392.7,712.6 393.5,714.7 394.3,713.6 395.1,710.5 395.9,712.9 396.7,708.9 397.5,707.1 398.3,711.1 399.1,712.9 399.9,712.0 400.7,707.2 401.5,711.8 402.3,710.8 403.1,708.7 403.9,704.9 404.7,711.8 405.5,711.6 406.3,710.8 407.1,705.6 407.9,706.7 408.7,712.5 409.5,712.1 410.3,711.9 411.1,710.4 411.9,712.2 412.7,710.0 413.5,710.4 414.3,710.3 415.1,713.0 415.9,710.9 416.7,714.3 417.5,713.6 418.3,710.3 419.1,716.3 419.9,710.2 420.7,713.1 421.5,714.4 422.3,714.0 423.1,707.1 423.9,713.0 424.7,713.5 425.5,714.1 426.3,706.1 427.1,708.9 427.9,710.6 428.7,709.4 429.5,713.5 430.3,709.0 431.1,713.9 431.9,712.2 432.7,708.1 433.5,708.8 434.3,710.8 435.1,712.2 435.9,714.9 436.7,713.0 437.5,715.4 438.3,710.3 439.1,707.1 439.9,713.0 440.7,714.9 441.5,712.8 442.3,711.6 443.1,713.8 443.9,717.1 444.7,712.1 445.5,710.4 446.3,710.3 447.1,715.7 447.9,711.0 448.7,712.8 449.5,713.8 450.3,713.0 451.1,707.9 451.9,712.0 452.7,712.0 453.5,711.3 454.3,712.2 455.1,709.5 455.9,709.9 456.7,708.4 457.5,710.6 458.3,706.6 459.1,707.1 459.9,700.7 460.7,701.9 461.5,702.9 462.3,705.7 463.1,708.3 463.9,708.8 464.7,709.2 465.5,706.0 466.3,712.5 467.1,709.0 467.9,710.1 468.7,709.4 469.5,713.2 470.3,709.3 471.1,712.2 471.9,713.7 472.7,714.8 473.5,714.2 474.3,713.5 475.1,709.4 475.9,713.8 476.7,713.8 477.5,713.2 478.3,713.7 479.1,712.9 479.9,711.4 480.7,714.8 481.5,714.8 482.3,710.4 483.1,715.4 483.9,714.3 484.7,715.7 485.5,714.2 486.3,715.8 487.1,715.3 487.9,714.9 488.7,710.8 489.5,714.8 490.3,712.5 491.1,709.7 491.9,713.4 492.7,709.1 493.5,713.5 494.3,715.2 495.1,710.5 495.9,713.4 496.7,712.6 497.5,713.3 498.3,708.6 499.1,712.9 499.9,712.3 500.7,712.9 501.5,711.9 502.3,714.3 503.1,712.1 503.9,712.9 504.7,714.1 505.5,711.7 506.3,713.2 507.1,711.2 507.9,712.2 508.7,710.1 509.5,712.6 510.3,713.3 511.1,711.2 511.9,713.7 512.7,713.0 513.5,710.3 514.3,713.2 515.1,715.2 515.9,711.8 516.7,708.3 517.5,712.2 518.3,710.2 519.1,715.0 519.9,710.9 520.7,710.9 521.5,709.6 522.3,710.9 523.1,708.4 523.9,708.8 524.7,711.6 525.5,709.2 526.3,713.7 527.1,708.8 527.9,710.0 528.7,708.5 529.5,706.9 530.3,713.2 531.1,705.7 531.9,712.6 532.7,707.6 533.5,710.8 534.3,715.5 535.1,707.3 535.9,708.6 536.7,714.5 537.5,712.6 538.3,710.3 539.1,711.1 539.9,709.3 540.7,711.8 541.5,714.4 542.3,709.9 543.1,711.6 543.9,714.0 544.7,715.2 545.5,710.3 546.3,712.5 547.1,710.3 547.9,710.7 548.7,711.8 549.5,711.9 550.3,709.8 551.1,710.2 551.9,713.4 552.7,714.7 553.5,716.9 554.3,713.3 555.1,712.9 555.9,714.3 556.7,714.3 557.5,712.2 558.3,711.2 559.1,715.1 559.9,710.3 560.7,710.1 561.5,707.8 562.3,712.3 563.1,710.1 563.9,715.0 564.7,709.9 565.5,712.1 566.3,712.3 567.1,714.1 567.9,707.7 568.7,712.8 569.5,709.4 570.3,710.1 571.1,709.3 571.9,709.6 572.7,710.1 573.5,706.0 574.3,711.8 575.1,710.8 575.9,710.1 576.7,711.8 577.5,717.0 578.3,712.9 579.1,711.9 579.9,716.0 580.7,710.9 581.5,712.5 582.3,711.9 583.1,712.0 583.9,714.1 584.7,713.3 585.5,710.5 586.3,711.5 587.1,712.2 587.9,710.5 588.7,711.1 589.5,709.7 590.3,709.3 591.1,711.6 591.9,709.6 592.7,713.0 593.5,711.3 594.3,709.7 595.1,711.1 595.9,711.1 596.7,711.9 597.5,712.8 598.3,711.5 599.1,710.1 599.9,714.2 600.7,713.5 601.5,711.6 602.3,712.6 603.1,712.2 603.9,710.7 604.7,710.7 605.5,716.5 606.3,712.8 607.1,712.1 607.9,709.1 608.7,711.8 609.5,715.8 610.3,712.2 611.1,713.7 611.9,715.0 612.7,713.1 613.5,715.3 614.3,714.2 615.1,715.0 615.9,712.5 616.7,718.4 617.5,712.9 618.3,712.2 619.1,714.9 619.9,711.1 620.7,712.2 621.5,709.8 622.3,711.9 623.1,710.6 623.9,713.3 624.7,712.9 625.5,712.5 626.3,712.5 627.1,713.4 627.9,712.8 628.7,716.4 629.5,714.6 630.3,714.0 631.1,710.5 631.9,713.8 632.7,710.1 633.5,713.2 634.3,713.0 635.1,711.5 635.9,710.4 636.7,711.9 637.5,717.3 638.3,712.7 639.1,712.7 639.9,715.6 640.7,715.1 641.5,716.3 642.3,711.3 643.1,712.3 643.9,721.3 644.7,714.9 645.5,715.5 646.3,715.7 647.1,717.2 647.9,712.7 648.7,715.0 649.5,714.2 650.3,715.1 651.1,713.5 651.9,712.0 652.7,710.7 653.5,707.8 654.3,714.3 655.1,709.1 655.9,712.0 656.7,716.9 657.5,712.9 658.3,715.1 659.1,713.1 659.9,715.3 660.7,713.8 661.5,713.3 662.3,717.1 663.1,713.7 663.9,711.1 664.7,713.1 665.5,714.8 666.3,711.7 667.1,715.1 667.9,714.8 668.7,717.0 669.5,711.5 670.3,714.3 671.1,710.3 671.9,712.8 672.7,713.2 673.5,713.7 674.3,712.4 675.1,712.3 675.9,711.6 676.7,712.1 677.5,713.2 678.3,713.1 679.1,713.4 679.9,714.2 680.7,714.8 681.5,709.3 682.3,712.9 683.1,713.0 683.9,712.2 684.7,715.6 685.5,715.6 686.3,713.6 687.1,714.9 687.9,716.9 688.7,713.5 689.5,712.9 690.3,715.9 691.1,714.8 691.9,717.5 692.7,715.4 693.5,715.6 694.3,712.6 695.1,711.3 695.9,713.4 696.7,708.3 697.5,713.9 698.3,714.5 699.1,712.2 699.9,711.3 700.7,715.3 701.5,713.3 702.3,716.3 703.1,719.4 703.9,716.1 704.7,717.0 705.5,716.2 706.3,715.8 707.1,716.3 707.9,715.8 708.7,717.8 709.5,712.0 710.3,713.8 711.1,715.4 711.9,712.5 712.7,714.8 713.5,712.7 714.3,714.0 715.1,714.8 715.9,715.5 716.7,714.0 717.5,711.4 718.3,714.1 719.1,715.0 719.9,716.3 720.7,710.2 721.5,716.1 722.3,711.4 723.1,717.7 723.9,717.4 724.7,717.7 725.5,718.0 726.3,716.7 727.1,714.5 727.9,716.3 728.7,717.8 729.5,715.2 730.3,714.9 731.1,712.2 731.9,717.2 732.7,714.3 733.5,713.6 734.3,714.8 735.1,714.1 735.9,715.7 736.7,718.7 737.5,718.2 738.3,719.6 739.1,719.8 739.9,714.8 740.7,717.4 741.5,719.0 742.3,720.4 743.1,712.7 743.9,713.3 744.7,716.2 745.5,714.4 746.3,713.4 747.1,716.5 747.9,715.2 748.7,711.8 749.5,716.1 750.3,716.7 751.1,716.8 751.9,718.7 752.7,717.2 753.5,716.1 754.3,715.1 755.1,712.6 755.9,715.5 756.7,718.5 757.5,717.6 758.3,720.4 759.1,715.5 759.9,711.7 760.7,716.4 761.5,716.8 762.3,712.6 763.1,711.4 763.9,715.1 764.7,715.9 765.5,713.1 766.3,714.1 767.1,714.3 767.9,713.7 768.7,713.4 769.5,716.2 770.3,715.4 771.1,715.2 771.9,712.0 772.7,720.0 773.5,714.8 774.3,716.6 775.1,715.3 775.9,718.3 776.7,714.5 777.5,718.0 778.3,717.1 779.1,719.5 779.9,715.3 780.7,716.5 781.5,716.4 782.3,721.1 783.1,714.5 783.9,718.1 784.7,716.3 785.5,718.7 786.3,718.9 787.1,717.9 787.9,718.5 788.7,719.0 789.5,716.8 790.3,717.4 791.1,714.7 791.9,716.5 792.7,715.4 793.5,716.5 794.3,719.5 795.1,718.4 795.9,718.4 796.7,719.9 797.5,712.5 798.3,717.6 799.1,717.4 799.9,717.0 800.7,715.1 801.5,719.0 802.3,719.9 803.1,719.4 803.9,716.8 804.7,717.9 805.5,718.8 806.3,720.6 807.1,719.9 807.9,716.8 808.7,715.4 809.5,715.3 810.3,716.2 811.1,715.5 811.9,717.7 812.7,714.5 813.5,714.3 814.3,716.7 815.1,715.6 815.9,716.9 816.7,714.1 817.5,719.6 818.3,717.4 819.1,718.3 819.9,720.1 820.7,719.2 821.5,716.8 822.3,721.4 823.1,716.5 823.9,719.5 824.7,720.7 825.5,716.4 826.3,717.9 827.1,716.2 827.9,719.9 828.7,717.1 829.5,716.0 830.3,720.4 831.1,718.8 831.9,715.6 832.7,719.3 833.5,716.8 834.3,721.4 835.1,720.4 835.9,716.5 836.7,717.5 837.5,716.5 838.3,719.6 839.1,719.4 839.9,721.5 840.7,720.4 841.5,717.4 842.3,717.9 843.1,722.7 843.9,722.2 844.7,719.8 845.5,719.3 846.3,719.5 847.1,719.0 847.9,715.2 848.7,720.4 849.5,717.4 850.3,718.5 851.1,712.5 851.9,718.4 852.7,720.6 853.5,713.6 854.3,721.7 855.1,720.1 855.9,718.2 856.7,716.9 857.5,722.2 858.3,720.9 859.1,721.0 859.9,719.2 860.7,718.2 861.5,721.2 862.3,717.3 863.1,720.5 863.9,715.5 864.7,716.9 865.5,715.8 866.3,721.7 867.1,716.0 867.9,716.8 868.7,720.1 869.5,718.5 870.3,722.7 871.1,721.2 871.9,719.1 872.7,719.6 873.5,713.8 874.3,715.0 875.1,716.4 875.9,717.5 876.7,715.8 877.5,716.9 878.3,717.7 879.1,721.6 879.9,720.4 880.7,719.8 881.5,720.0 882.3,720.9 883.1,718.5 883.9,719.1 884.7,716.0 885.5,720.4 886.3,720.6 887.1,719.1 887.9,719.0 888.7,718.9 889.5,722.2 890.3,718.4 891.1,716.4 891.9,717.1 892.7,721.3 893.5,722.5 894.3,720.9 895.1,721.4 895.9,720.2 896.7,716.6 897.5,717.8 898.3,715.5 899.1,717.8 899.9,715.1 900.7,718.3 901.5,718.7 902.3,714.4 903.1,720.1 903.9,720.5 904.7,716.4 905.5,719.2 906.3,720.7 907.1,718.8 907.9,721.2 908.7,719.1 909.5,721.3 910.3,719.7 911.1,718.8 911.9,720.0 912.7,719.9 913.5,719.1 914.3,717.6 915.1,716.7 915.9,718.5 916.7,718.3 917.5,719.6 918.3,720.0 919.1,719.8 919.9,720.0 920.7,720.7 921.5,723.8 922.3,723.1 923.1,718.7 923.9,721.0 924.7,720.4 925.5,721.0 926.3,720.2 927.1,719.8 927.9,718.0 928.7,715.8 929.5,720.8 930.3,723.5 931.1,718.8 931.9,721.1 932.7,718.8 933.5,720.7 934.3,718.9 935.1,719.9 935.9,720.3 936.7,715.5 937.5,720.5 938.3,719.9 939.1,715.5 939.9,721.8 940.7,720.8 941.5,720.5 942.3,720.9 943.1,719.5 943.9,718.7 944.7,719.8 945.5,719.5 946.3,724.7 947.1,723.8 947.9,718.9 948.7,719.4 949.5,721.0 950.3,721.9 951.1,719.7 951.9,719.7 952.7,725.6 953.5,723.7 954.3,718.9 955.1,718.2 955.9,720.8 956.7,722.3 957.5,722.3 958.3,720.1 959.1,716.9 959.9,721.8 960.7,722.0 961.5,720.8 962.3,719.9 963.1,720.9 963.9,719.7 964.7,717.1 965.5,719.8 966.3,717.6 967.1,721.8 967.9,721.3 968.7,717.6 969.5,720.2 970.3,722.9 971.1,716.8 971.9,721.7 972.7,725.9 973.5,719.3 974.3,722.2 975.1,719.2 975.9,722.8 976.7,717.6 977.5,719.6 978.3,721.1 979.1,721.9 979.9,721.4 980.7,721.1 981.5,722.5 982.3,721.8 983.1,721.9 983.9,718.5 984.7,720.4 985.5,727.4 986.3,726.0 987.1,724.1 987.9,723.2 988.7,723.3 989.5,720.5 990.3,725.7 991.1,721.1 991.9,721.4 992.7,726.0 993.5,717.1 994.3,721.1 995.1,717.9 995.9,719.4 996.7,720.0 997.5,719.7 998.3,721.1 999.1,718.7 999.9,721.1 1000.7,719.0 1001.5,721.5 1002.3,719.0 1003.1,724.5 1003.9,721.3 1004.7,724.2 1005.5,722.1 1006.3,722.6 1007.1,725.4 1007.9,723.3 1008.7,718.5 1009.5,723.5 1010.3,716.3 1011.1,722.9 1011.9,722.0 1012.7,719.7 1013.5,723.0 1014.3,722.0 1015.1,726.7 1015.9,722.0 1016.7,726.8 1017.5,725.0 1018.3,721.0 1019.1,720.6 1019.9,725.0 1020.7,721.6 1021.5,721.6 1022.3,720.2 1023.1,717.3 1023.9,719.2 1024.7,718.3 1025.5,717.5 1026.3,720.3 1027.1,724.7 1027.9,724.6 1028.7,721.9 1029.5,722.2 1030.3,723.8 1031.1,725.6 1031.9,724.6 1032.7,722.4 1033.5,721.7 1034.3,725.3 1035.1,729.2 1035.9,721.9 1036.7,720.4 1037.5,726.4 1038.3,725.1 1039.1,724.5 1039.9,726.7 1040.7,724.5 1041.5,721.0 1042.3,718.0 1043.1,722.8 1043.9,718.9 1044.7,722.1 1045.5,718.6 1046.3,720.5 1047.1,718.3 1047.9,721.0 1048.7,721.1 1049.5,724.0 1050.3,725.2 1051.1,722.1 1051.9,720.1 1052.7,725.6 1053.5,722.6 1054.3,723.6 1055.1,724.1 1055.9,726.2 1056.7,725.6 1057.5,725.0 1058.3,725.9 1059.1,723.0 1059.9,724.0 1060.7,724.9 1061.5,724.9 1062.3,724.9 1063.1,725.0 1063.9,724.1 1064.7,722.9 1065.5,720.4 1066.3,726.1 1067.1,725.4 1067.9,721.5 1068.7,724.6 1069.5,723.9 1070.3,723.1 1071.1,719.0 1071.9,720.6 1072.7,720.7 1073.5,725.0 1074.3,720.1 1075.1,722.2 1075.9,720.0 1076.7,720.9 1077.5,723.0 1078.3,718.2 1079.1,716.3 1079.9,725.0 1080.7,723.6 1081.5,721.4 1082.3,725.2 1083.1,725.6 1083.9,719.3 1084.7,723.6 1085.5,725.5 1086.3,722.2 1087.1,721.6 1087.9,723.8 1088.7,722.4 1089.5,720.4 1090.3,721.3 1091.1,719.8 1091.9,724.1 1092.7,719.9 1093.5,725.7 1094.3,721.2 1095.1,724.8 1095.9,721.4 1096.7,722.7 1097.5,726.1 1098.3,726.1 1099.1,726.0 1099.9,722.9 1100.7,723.5 1101.5,723.8 1102.3,725.1 1103.1,722.9 1103.9,727.0 1104.7,724.8 1105.5,726.5 1106.3,724.5 1107.1,724.4 1107.9,721.2 1108.7,721.5 1109.5,719.5 1110.3,721.5 1111.1,721.5 1111.9,723.3 1112.7,719.1 1113.5,728.7 1114.3,722.9 1115.1,726.1 1115.9,725.3 1116.7,717.8 1117.5,722.6 1118.3,726.9 1119.1,718.9 1119.9,726.2 1120.7,723.8 1121.5,723.7 1122.3,724.8 1123.1,720.9 1123.9,725.4 1124.7,723.4" fill="none" stroke="#1b5e2b" stroke-width="1.9" stroke-linejoin="round"/><path d="M125.5,791.4L126.3,792.6 127.1,791.5 127.9,795.2 128.7,793.2 129.5,792.0 130.3,789.6 131.1,791.6 131.9,790.8 132.7,789.2 133.5,788.6 134.3,787.0 135.1,788.7 135.9,790.1 136.7,790.2 137.5,789.8 138.3,789.5 139.1,787.7 139.9,787.4 140.7,789.3 141.5,788.0 142.3,786.6 143.1,789.0 143.9,790.4 144.7,791.4 145.5,791.5 146.3,790.7 147.1,792.2 147.9,795.0 148.7,792.9 149.5,792.4 150.3,794.0 151.1,791.8 151.9,793.5 152.7,792.4 153.5,794.2 154.3,793.5 155.1,794.2 155.9,796.1 156.7,792.1 157.5,791.0 158.3,792.5 159.1,791.5 159.9,792.2 160.7,790.5 161.5,790.4 162.3,787.7 163.1,781.2 163.9,779.7 164.7,777.0 165.5,777.1 166.3,777.8 167.1,781.0 167.9,786.7 168.7,785.9 169.5,788.2 170.3,789.6 171.1,790.8 171.9,789.6 172.7,788.4 173.5,791.1 174.3,788.7 175.1,788.5 175.9,791.8 176.7,789.8 177.5,786.8 178.3,787.3 179.1,787.8 179.9,787.6 180.7,786.2 181.5,790.0 182.3,790.3 183.1,789.7 183.9,788.8 184.7,790.1 185.5,790.2 186.3,787.2 187.1,787.2 187.9,786.4 188.7,787.4 189.5,785.9 190.3,782.8 191.1,782.5 191.9,784.2 192.7,779.2 193.5,778.8 194.3,775.6 195.1,775.5 195.9,771.6 196.7,768.5 197.5,765.2 198.3,765.0 199.1,765.2 199.9,765.0 200.7,763.3 201.5,768.9 202.3,768.6 203.1,769.6 203.9,773.5 204.7,774.7 205.5,776.1 206.3,777.6 207.1,779.7 207.9,780.1 208.7,779.6 209.5,783.5 210.3,782.3 211.1,785.3 211.9,784.2 212.7,785.2 213.5,784.8 214.3,786.2 215.1,784.1 215.9,783.1 216.7,785.0 217.5,781.0 218.3,783.8 219.1,785.2 219.9,784.3 220.7,787.1 221.5,786.3 222.3,785.2 223.1,784.5 223.9,786.8 224.7,784.3 225.5,785.0 226.3,786.3 227.1,786.0 227.9,787.3 228.7,784.8 229.5,782.7 230.3,786.4 231.1,787.5 231.9,785.3 232.7,787.8 233.5,788.5 234.3,784.9 235.1,785.7 235.9,784.3 236.7,787.1 237.5,787.4 238.3,786.9 239.1,784.5 239.9,785.3 240.7,784.1 241.5,784.0 242.3,783.8 243.1,783.4 243.9,785.5 244.7,786.4 245.5,786.8 246.3,785.8 247.1,784.5 247.9,785.4 248.7,786.4 249.5,785.4 250.3,786.2 251.1,785.3 251.9,785.0 252.7,785.5 253.5,784.0 254.3,786.9 255.1,783.3 255.9,785.8 256.7,783.1 257.5,786.6 258.3,785.6 259.1,782.6 259.9,783.1 260.7,781.8 261.5,783.6 262.3,784.3 263.1,786.9 263.9,781.4 264.7,785.1 265.5,782.4 266.3,783.7 267.1,784.8 267.9,784.3 268.7,783.8 269.5,782.2 270.3,782.6 271.1,782.4 271.9,783.4 272.7,778.9 273.5,779.3 274.3,776.6 275.1,774.8 275.9,772.4 276.7,771.9 277.5,769.8 278.3,767.2 279.1,765.4 279.9,770.2 280.7,771.9 281.5,776.4 282.3,779.1 283.1,779.2 283.9,780.2 284.7,779.4 285.5,777.4 286.3,777.3 287.1,780.3 287.9,780.7 288.7,781.9 289.5,779.5 290.3,779.5 291.1,778.8 291.9,778.4 292.7,776.2 293.5,773.9 294.3,776.9 295.1,776.8 295.9,777.4 296.7,776.1 297.5,778.2 298.3,776.4 299.1,776.2 299.9,778.0 300.7,776.9 301.5,777.6 302.3,778.7 303.1,775.6 303.9,776.4 304.7,770.5 305.5,768.3 306.3,760.5 307.1,757.0 307.9,755.2 308.7,759.0 309.5,765.5 310.3,767.0 311.1,772.7 311.9,773.2 312.7,775.2 313.5,776.2 314.3,775.3 315.1,775.2 315.9,774.6 316.7,777.4 317.5,775.6 318.3,777.5 319.1,775.1 319.9,779.1 320.7,775.4 321.5,778.4 322.3,776.2 323.1,777.5 323.9,776.2 324.7,777.3 325.5,776.2 326.3,777.9 327.1,776.8 327.9,776.7 328.7,777.9 329.5,774.3 330.3,777.0 331.1,775.0 331.9,772.5 332.7,774.8 333.5,774.0 334.3,776.8 335.1,774.1 335.9,775.1 336.7,775.6 337.5,772.6 338.3,776.3 339.1,774.4 339.9,777.7 340.7,777.7 341.5,775.0 342.3,772.4 343.1,774.7 343.9,774.8 344.7,775.4 345.5,773.4 346.3,771.7 347.1,772.6 347.9,771.3 348.7,774.9 349.5,771.9 350.3,772.3 351.1,773.6 351.9,772.7 352.7,774.4 353.5,775.2 354.3,774.9 355.1,775.1 355.9,777.0 356.7,775.6 357.5,773.1 358.3,773.9 359.1,775.4 359.9,773.7 360.7,774.4 361.5,774.3 362.3,774.8 363.1,773.8 363.9,773.3 364.7,772.8 365.5,775.1 366.3,773.0 367.1,776.1 367.9,774.0 368.7,774.3 369.5,776.0 370.3,775.1 371.1,775.4 371.9,774.9 372.7,773.3 373.5,773.6 374.3,774.3 375.1,776.2 375.9,772.8 376.7,772.8 377.5,772.3 378.3,773.8 379.1,775.4 379.9,771.7 380.7,773.0 381.5,771.5 382.3,770.8 383.1,771.5 383.9,768.2 384.7,770.6 385.5,769.2 386.3,766.8 387.1,769.7 387.9,768.4 388.7,769.6 389.5,766.3 390.3,768.8 391.1,769.2 391.9,771.5 392.7,773.1 393.5,769.3 394.3,772.4 395.1,772.8 395.9,774.3 396.7,773.8 397.5,772.2 398.3,774.0 399.1,772.8 399.9,773.2 400.7,774.6 401.5,774.0 402.3,775.0 403.1,772.7 403.9,777.2 404.7,775.7 405.5,775.3 406.3,772.4 407.1,771.1 407.9,772.8 408.7,774.1 409.5,777.2 410.3,775.8 411.1,773.5 411.9,776.1 412.7,775.3 413.5,773.5 414.3,775.0 415.1,773.7 415.9,771.7 416.7,771.0 417.5,772.1 418.3,772.7 419.1,768.3 419.9,766.7 420.7,768.4 421.5,762.3 422.3,767.5 423.1,764.9 423.9,767.6 424.7,770.6 425.5,767.6 426.3,769.3 427.1,774.7 427.9,771.6 428.7,772.4 429.5,773.6 430.3,774.4 431.1,774.1 431.9,771.9 432.7,770.0 433.5,768.8 434.3,767.3 435.1,767.0 435.9,763.1 436.7,763.5 437.5,759.1 438.3,761.1 439.1,763.1 439.9,762.0 440.7,760.0 441.5,757.1 442.3,756.4 443.1,756.9 443.9,757.9 444.7,758.8 445.5,759.6 446.3,763.1 447.1,767.6 447.9,770.3 448.7,769.3 449.5,771.7 450.3,770.8 451.1,773.0 451.9,779.9 452.7,775.9 453.5,775.9 454.3,776.0 455.1,775.9 455.9,775.4 456.7,778.1 457.5,778.0 458.3,780.5 459.1,775.8 459.9,778.3 460.7,779.5 461.5,774.8 462.3,777.9 463.1,774.6 463.9,778.0 464.7,779.4 465.5,777.8 466.3,777.9 467.1,776.8 467.9,778.4 468.7,779.6 469.5,777.7 470.3,777.8 471.1,778.5 471.9,779.0 472.7,775.8 473.5,778.5 474.3,777.5 475.1,779.0 475.9,780.2 476.7,779.5 477.5,780.8 478.3,777.8 479.1,778.7 479.9,777.8 480.7,779.0 481.5,779.2 482.3,778.8 483.1,776.7 483.9,778.7 484.7,778.3 485.5,779.5 486.3,778.2 487.1,779.8 487.9,778.9 488.7,775.6 489.5,778.1 490.3,776.8 491.1,779.7 491.9,780.1 492.7,778.0 493.5,778.8 494.3,776.6 495.1,775.6 495.9,778.2 496.7,778.6 497.5,776.9 498.3,779.6 499.1,780.2 499.9,780.9 500.7,782.4 501.5,781.1 502.3,779.7 503.1,780.6 503.9,781.3 504.7,778.9 505.5,781.8 506.3,781.1 507.1,779.8 507.9,779.5 508.7,785.9 509.5,781.8 510.3,782.1 511.1,783.2 511.9,782.2 512.7,781.1 513.5,782.2 514.3,779.5 515.1,782.1 515.9,778.9 516.7,781.5 517.5,781.5 518.3,778.6 519.1,783.5 519.9,779.3 520.7,782.1 521.5,780.0 522.3,780.5 523.1,779.5 523.9,783.9 524.7,782.1 525.5,782.9 526.3,781.4 527.1,781.1 527.9,780.5 528.7,780.3 529.5,781.7 530.3,780.8 531.1,780.5 531.9,778.8 532.7,781.0 533.5,781.8 534.3,780.6 535.1,781.6 535.9,780.5 536.7,779.2 537.5,779.2 538.3,778.7 539.1,779.0 539.9,778.6 540.7,781.3 541.5,778.1 542.3,776.6 543.1,780.2 543.9,778.6 544.7,779.3 545.5,783.6 546.3,782.0 547.1,780.7 547.9,780.3 548.7,779.4 549.5,780.6 550.3,778.3 551.1,778.5 551.9,779.0 552.7,782.0 553.5,782.4 554.3,779.4 555.1,782.6 555.9,780.5 556.7,783.0 557.5,781.8 558.3,782.9 559.1,781.6 559.9,781.7 560.7,782.0 561.5,782.8 562.3,781.5 563.1,780.6 563.9,783.9 564.7,781.2 565.5,779.6 566.3,778.9 567.1,777.6 567.9,780.5 568.7,783.3 569.5,779.1 570.3,781.1 571.1,779.3 571.9,783.2 572.7,782.5 573.5,782.3 574.3,783.9 575.1,784.3 575.9,783.6 576.7,781.3 577.5,780.4 578.3,781.5 579.1,780.4 579.9,784.9 580.7,782.1 581.5,782.5 582.3,783.3 583.1,785.7 583.9,782.2 584.7,784.9 585.5,783.6 586.3,782.9 587.1,781.2 587.9,785.5 588.7,783.4 589.5,783.0 590.3,784.0 591.1,784.2 591.9,785.4 592.7,783.2 593.5,784.6 594.3,784.2 595.1,783.9 595.9,784.8 596.7,784.2 597.5,786.2 598.3,783.6 599.1,782.6 599.9,784.1 600.7,785.5 601.5,783.3 602.3,783.1 603.1,783.3 603.9,783.8 604.7,783.3 605.5,783.8 606.3,781.3 607.1,786.0 607.9,785.3 608.7,783.5 609.5,786.5 610.3,785.1 611.1,786.5 611.9,782.8 612.7,786.3 613.5,784.3 614.3,780.9 615.1,784.7 615.9,783.3 616.7,782.4 617.5,784.5 618.3,782.2 619.1,785.8 619.9,785.5 620.7,784.9 621.5,787.4 622.3,785.2 623.1,784.1 623.9,783.8 624.7,784.5 625.5,785.8 626.3,783.8 627.1,783.3 627.9,786.1 628.7,785.2 629.5,785.5 630.3,788.9 631.1,784.2 631.9,785.9 632.7,783.4 633.5,785.6 634.3,786.6 635.1,787.1 635.9,783.3 636.7,785.9 637.5,785.3 638.3,784.3 639.1,788.2 639.9,785.5 640.7,784.2 641.5,785.9 642.3,783.5 643.1,788.6 643.9,787.8 644.7,786.3 645.5,787.9 646.3,787.4 647.1,789.2 647.9,785.7 648.7,784.7 649.5,783.5 650.3,786.1 651.1,784.7 651.9,786.8 652.7,787.3 653.5,786.8 654.3,786.1 655.1,789.1 655.9,786.9 656.7,787.1 657.5,788.4 658.3,785.2 659.1,785.4 659.9,790.2 660.7,786.1 661.5,784.6 662.3,785.4 663.1,785.3 663.9,785.0 664.7,785.8 665.5,786.7 666.3,786.5 667.1,788.0 667.9,784.9 668.7,785.5 669.5,789.0 670.3,787.5 671.1,789.9 671.9,789.0 672.7,786.0 673.5,789.3 674.3,786.9 675.1,788.9 675.9,789.8 676.7,790.8 677.5,787.9 678.3,788.9 679.1,788.6 679.9,789.9 680.7,785.3 681.5,787.7 682.3,789.3 683.1,790.0 683.9,788.7 684.7,790.8 685.5,791.1 686.3,789.5 687.1,789.3 687.9,789.4 688.7,790.8 689.5,792.2 690.3,792.6 691.1,789.8 691.9,789.2 692.7,789.8 693.5,792.3 694.3,791.2 695.1,791.4 695.9,791.1 696.7,791.0 697.5,790.6 698.3,789.1 699.1,789.5 699.9,790.2 700.7,790.1 701.5,788.9 702.3,788.5 703.1,791.9 703.9,788.8 704.7,790.0 705.5,789.6 706.3,789.8 707.1,789.0 707.9,791.0 708.7,790.3 709.5,792.5 710.3,789.3 711.1,790.5 711.9,791.5 712.7,790.1 713.5,790.7 714.3,791.2 715.1,787.6 715.9,789.5 716.7,789.4 717.5,793.1 718.3,791.1 719.1,792.3 719.9,794.5 720.7,791.6 721.5,792.2 722.3,792.5 723.1,791.7 723.9,794.0 724.7,792.9 725.5,793.8 726.3,792.6 727.1,791.7 727.9,791.9 728.7,792.0 729.5,790.7 730.3,793.4 731.1,793.3 731.9,792.2 732.7,791.0 733.5,791.6 734.3,791.6 735.1,791.6 735.9,793.7 736.7,789.9 737.5,791.7 738.3,792.0 739.1,791.7 739.9,791.2 740.7,790.4 741.5,791.8 742.3,793.8 743.1,795.0 743.9,792.2 744.7,794.0 745.5,794.8 746.3,795.3 747.1,794.3 747.9,794.6 748.7,795.1 749.5,792.2 750.3,793.9 751.1,791.8 751.9,791.5 752.7,793.2 753.5,792.1 754.3,794.9 755.1,795.3 755.9,793.5 756.7,793.7 757.5,793.9 758.3,793.6 759.1,794.0 759.9,794.1 760.7,793.3 761.5,793.0 762.3,793.6 763.1,795.6 763.9,793.6 764.7,795.9 765.5,793.7 766.3,796.0 767.1,792.4 767.9,793.1 768.7,795.1 769.5,795.0 770.3,794.0 771.1,797.5 771.9,795.3 772.7,795.6 773.5,794.3 774.3,797.6 775.1,796.8 775.9,795.8 776.7,793.4 777.5,796.6 778.3,794.8 779.1,795.1 779.9,796.1 780.7,794.3 781.5,795.3 782.3,795.9 783.1,794.9 783.9,794.3 784.7,792.8 785.5,793.7 786.3,793.2 787.1,796.1 787.9,794.7 788.7,793.6 789.5,795.3 790.3,793.3 791.1,790.6 791.9,797.2 792.7,797.4 793.5,794.3 794.3,795.3 795.1,796.8 795.9,795.4 796.7,794.9 797.5,795.4 798.3,796.0 799.1,795.0 799.9,795.5 800.7,794.8 801.5,794.1 802.3,795.0 803.1,793.1 803.9,797.2 804.7,793.0 805.5,795.0 806.3,796.0 807.1,796.7 807.9,796.9 808.7,798.1 809.5,794.9 810.3,796.4 811.1,796.7 811.9,795.7 812.7,795.5 813.5,798.2 814.3,795.4 815.1,795.4 815.9,795.7 816.7,795.9 817.5,796.2 818.3,795.6 819.1,796.7 819.9,796.6 820.7,797.2 821.5,798.1 822.3,795.1 823.1,799.0 823.9,796.4 824.7,798.0 825.5,797.4 826.3,796.7 827.1,794.5 827.9,799.1 828.7,796.4 829.5,796.4 830.3,798.3 831.1,796.5 831.9,798.8 832.7,798.3 833.5,797.2 834.3,796.6 835.1,797.8 835.9,795.1 836.7,797.0 837.5,797.5 838.3,796.8 839.1,798.2 839.9,796.4 840.7,799.8 841.5,800.4 842.3,796.3 843.1,797.9 843.9,799.8 844.7,797.8 845.5,796.2 846.3,796.2 847.1,798.6 847.9,799.4 848.7,795.7 849.5,797.1 850.3,796.0 851.1,796.4 851.9,797.2 852.7,796.9 853.5,796.2 854.3,799.6 855.1,797.0 855.9,796.7 856.7,798.3 857.5,797.0 858.3,796.6 859.1,798.1 859.9,794.7 860.7,796.8 861.5,797.2 862.3,796.6 863.1,795.3 863.9,796.2 864.7,794.1 865.5,796.7 866.3,797.7 867.1,799.3 867.9,798.7 868.7,798.1 869.5,797.4 870.3,798.5 871.1,798.4 871.9,800.0 872.7,798.3 873.5,797.8 874.3,798.1 875.1,797.9 875.9,798.6 876.7,796.1 877.5,797.3 878.3,797.4 879.1,799.9 879.9,799.3 880.7,799.5 881.5,800.5 882.3,797.8 883.1,800.5 883.9,799.5 884.7,798.2 885.5,801.7 886.3,797.4 887.1,797.9 887.9,798.8 888.7,800.2 889.5,798.9 890.3,796.6 891.1,798.9 891.9,799.2 892.7,802.9 893.5,802.0 894.3,800.0 895.1,799.1 895.9,801.0 896.7,799.2 897.5,800.6 898.3,801.3 899.1,800.2 899.9,800.8 900.7,799.4 901.5,799.1 902.3,801.8 903.1,800.4 903.9,799.3 904.7,799.0 905.5,800.2 906.3,800.6 907.1,801.1 907.9,802.5 908.7,801.4 909.5,799.0 910.3,802.9 911.1,801.7 911.9,801.0 912.7,801.6 913.5,798.0 914.3,799.4 915.1,798.9 915.9,801.3 916.7,798.3 917.5,799.6 918.3,802.1 919.1,801.2 919.9,799.7 920.7,802.0 921.5,797.5 922.3,800.1 923.1,799.1 923.9,799.5 924.7,798.4 925.5,797.5 926.3,798.8 927.1,797.0 927.9,800.4 928.7,799.6 929.5,801.1 930.3,799.1 931.1,799.0 931.9,800.3 932.7,801.5 933.5,797.1 934.3,800.1 935.1,800.3 935.9,797.6 936.7,798.7 937.5,800.6 938.3,798.9 939.1,799.8 939.9,802.9 940.7,799.7 941.5,800.1 942.3,798.2 943.1,799.6 943.9,799.3 944.7,803.5 945.5,802.7 946.3,799.2 947.1,803.5 947.9,801.8 948.7,800.1 949.5,801.5 950.3,801.1 951.1,799.2 951.9,797.6 952.7,798.7 953.5,799.7 954.3,799.4 955.1,798.7 955.9,801.4 956.7,798.5 957.5,801.0 958.3,799.2 959.1,800.2 959.9,798.9 960.7,800.6 961.5,799.8 962.3,798.4 963.1,800.6 963.9,800.3 964.7,802.2 965.5,801.6 966.3,800.0 967.1,800.2 967.9,797.5 968.7,799.0 969.5,802.4 970.3,802.2 971.1,801.8 971.9,801.0 972.7,801.7 973.5,801.5 974.3,798.6 975.1,799.8 975.9,802.7 976.7,802.5 977.5,801.3 978.3,800.1 979.1,799.8 979.9,799.1 980.7,798.3 981.5,796.8 982.3,799.4 983.1,798.8 983.9,799.1 984.7,802.1 985.5,801.0 986.3,799.6 987.1,801.3 987.9,798.7 988.7,801.9 989.5,800.8 990.3,800.1 991.1,801.0 991.9,802.3 992.7,799.9 993.5,798.9 994.3,803.3 995.1,800.3 995.9,802.5 996.7,799.7 997.5,801.0 998.3,799.8 999.1,801.0 999.9,799.9 1000.7,799.6 1001.5,802.4 1002.3,801.3 1003.1,798.4 1003.9,800.8 1004.7,799.8 1005.5,799.1 1006.3,800.4 1007.1,799.9 1007.9,800.2 1008.7,798.9 1009.5,796.9 1010.3,799.1 1011.1,801.1 1011.9,798.6 1012.7,801.9 1013.5,801.5 1014.3,800.6 1015.1,801.9 1015.9,800.6 1016.7,801.3 1017.5,800.0 1018.3,801.8 1019.1,803.0 1019.9,800.1 1020.7,802.5 1021.5,797.5 1022.3,799.5 1023.1,799.5 1023.9,803.3 1024.7,800.0 1025.5,802.0 1026.3,798.2 1027.1,800.5 1027.9,801.3 1028.7,800.5 1029.5,796.7 1030.3,800.8 1031.1,801.7 1031.9,802.8 1032.7,801.4 1033.5,798.3 1034.3,801.3 1035.1,802.9 1035.9,801.0 1036.7,802.7 1037.5,801.0 1038.3,802.2 1039.1,803.0 1039.9,801.4 1040.7,806.1 1041.5,801.7 1042.3,801.9 1043.1,800.5 1043.9,801.5 1044.7,800.9 1045.5,798.7 1046.3,798.4 1047.1,800.3 1047.9,800.1 1048.7,797.1 1049.5,797.7 1050.3,800.1 1051.1,800.7 1051.9,801.8 1052.7,799.7 1053.5,802.5 1054.3,801.7 1055.1,801.0 1055.9,801.2 1056.7,802.3 1057.5,801.7 1058.3,801.9 1059.1,799.5 1059.9,800.2 1060.7,798.9 1061.5,799.2 1062.3,799.3 1063.1,799.2 1063.9,801.0 1064.7,801.0 1065.5,801.3 1066.3,800.9 1067.1,801.8 1067.9,800.7 1068.7,802.6 1069.5,802.3 1070.3,803.0 1071.1,801.9 1071.9,800.0 1072.7,799.7 1073.5,804.2 1074.3,802.2 1075.1,801.9 1075.9,800.8 1076.7,800.3 1077.5,804.4 1078.3,798.9 1079.1,800.7 1079.9,800.9 1080.7,799.7 1081.5,799.2 1082.3,799.8 1083.1,800.3 1083.9,800.4 1084.7,802.2 1085.5,799.8 1086.3,801.9 1087.1,803.6 1087.9,802.5 1088.7,800.0 1089.5,797.5 1090.3,802.6 1091.1,802.0 1091.9,801.0 1092.7,803.1 1093.5,800.5 1094.3,800.7 1095.1,799.4 1095.9,800.7 1096.7,799.8 1097.5,800.2 1098.3,802.4 1099.1,800.6 1099.9,798.6 1100.7,801.9 1101.5,802.5 1102.3,800.0 1103.1,801.0 1103.9,802.0 1104.7,801.1 1105.5,801.7 1106.3,802.8 1107.1,801.1 1107.9,804.7 1108.7,800.7 1109.5,801.1 1110.3,804.6 1111.1,804.9 1111.9,801.7 1112.7,801.1 1113.5,799.8 1114.3,803.2 1115.1,802.0 1115.9,801.1 1116.7,802.6 1117.5,804.4 1118.3,803.6 1119.1,806.1 1119.9,804.6 1120.7,803.9 1121.5,802.8 1122.3,803.2 1123.1,803.8 1123.9,803.4 1124.7,803.3" fill="none" stroke="#2b48a6" stroke-width="1.9" stroke-linejoin="round"/><path d="M125.5,868.4L126.3,866.2 127.1,867.8 127.9,865.9 128.7,863.7 129.5,865.3 130.3,866.6 131.1,866.8 131.9,863.7 132.7,865.0 133.5,865.3 134.3,866.2 135.1,867.3 135.9,865.6 136.7,864.3 137.5,866.4 138.3,865.6 139.1,866.7 139.9,864.9 140.7,866.5 141.5,864.7 142.3,866.1 143.1,866.1 143.9,866.9 144.7,864.9 145.5,865.8 146.3,865.0 147.1,865.7 147.9,866.8 148.7,869.7 149.5,865.3 150.3,866.3 151.1,865.1 151.9,866.6 152.7,865.7 153.5,866.8 154.3,866.0 155.1,868.6 155.9,867.0 156.7,863.2 157.5,865.6 158.3,865.6 159.1,862.2 159.9,863.8 160.7,863.9 161.5,863.1 162.3,864.2 163.1,861.6 163.9,864.6 164.7,864.0 165.5,862.6 166.3,861.3 167.1,861.5 167.9,861.0 168.7,864.2 169.5,864.3 170.3,867.1 171.1,863.9 171.9,866.7 172.7,864.2 173.5,864.8 174.3,863.7 175.1,866.2 175.9,865.2 176.7,865.9 177.5,866.7 178.3,863.9 179.1,864.6 179.9,865.3 180.7,863.7 181.5,862.9 182.3,864.0 183.1,864.4 183.9,864.6 184.7,864.7 185.5,863.4 186.3,864.7 187.1,865.4 187.9,863.1 188.7,864.0 189.5,862.6 190.3,863.9 191.1,866.4 191.9,864.1 192.7,862.3 193.5,863.9 194.3,863.9 195.1,864.9 195.9,861.4 196.7,861.1 197.5,861.2 198.3,857.8 199.1,859.8 199.9,853.4 200.7,851.8 201.5,848.5 202.3,850.6 203.1,855.3 203.9,858.3 204.7,860.9 205.5,861.9 206.3,859.0 207.1,862.5 207.9,860.5 208.7,862.5 209.5,862.5 210.3,862.8 211.1,864.2 211.9,862.3 212.7,865.6 213.5,864.4 214.3,864.8 215.1,864.0 215.9,864.5 216.7,863.1 217.5,865.7 218.3,861.8 219.1,864.3 219.9,863.9 220.7,863.1 221.5,864.2 222.3,862.8 223.1,865.1 223.9,865.0 224.7,864.1 225.5,864.9 226.3,862.0 227.1,861.0 227.9,862.8 228.7,862.8 229.5,866.5 230.3,862.4 231.1,864.4 231.9,863.8 232.7,865.5 233.5,863.2 234.3,863.6 235.1,862.8 235.9,862.3 236.7,861.8 237.5,862.4 238.3,865.4 239.1,863.9 239.9,863.5 240.7,863.9 241.5,863.2 242.3,863.4 243.1,863.3 243.9,864.3 244.7,864.4 245.5,860.9 246.3,863.3 247.1,864.9 247.9,861.4 248.7,862.2 249.5,863.3 250.3,864.6 251.1,864.1 251.9,863.2 252.7,864.1 253.5,864.8 254.3,863.1 255.1,864.7 255.9,863.0 256.7,860.7 257.5,861.3 258.3,862.2 259.1,861.7 259.9,862.9 260.7,863.0 261.5,865.1 262.3,864.2 263.1,864.8 263.9,861.8 264.7,861.7 265.5,862.8 266.3,862.3 267.1,862.7 267.9,861.6 268.7,860.3 269.5,863.4 270.3,862.6 271.1,858.6 271.9,859.6 272.7,859.9 273.5,859.8 274.3,858.1 275.1,853.7 275.9,853.0 276.7,845.5 277.5,839.9 278.3,835.9 279.1,841.8 279.9,848.7 280.7,854.4 281.5,855.7 282.3,859.6 283.1,859.2 283.9,857.5 284.7,858.4 285.5,857.4 286.3,857.5 287.1,856.8 287.9,852.9 288.7,854.9 289.5,854.2 290.3,853.8 291.1,857.7 291.9,856.0 292.7,856.6 293.5,859.4 294.3,860.0 295.1,858.2 295.9,860.9 296.7,861.4 297.5,859.3 298.3,862.1 299.1,859.9 299.9,860.4 300.7,856.9 301.5,861.1 302.3,859.7 303.1,860.6 303.9,857.9 304.7,862.0 305.5,863.1 306.3,864.2 307.1,857.3 307.9,862.3 308.7,861.7 309.5,856.8 310.3,860.5 311.1,861.1 311.9,863.0 312.7,859.5 313.5,860.6 314.3,860.5 315.1,861.1 315.9,860.3 316.7,862.3 317.5,862.7 318.3,859.2 319.1,862.3 319.9,859.9 320.7,860.5 321.5,862.4 322.3,861.3 323.1,862.4 323.9,862.5 324.7,861.9 325.5,860.8 326.3,860.6 327.1,862.8 327.9,863.0 328.7,862.1 329.5,861.1 330.3,861.9 331.1,860.9 331.9,858.8 332.7,860.9 333.5,861.2 334.3,861.6 335.1,859.4 335.9,859.5 336.7,860.5 337.5,859.4 338.3,859.9 339.1,861.5 339.9,861.2 340.7,863.2 341.5,861.4 342.3,863.2 343.1,862.6 343.9,864.8 344.7,861.7 345.5,861.5 346.3,863.0 347.1,860.4 347.9,860.3 348.7,861.1 349.5,860.9 350.3,858.8 351.1,861.2 351.9,860.3 352.7,860.6 353.5,860.8 354.3,859.9 355.1,861.8 355.9,860.6 356.7,859.9 357.5,860.0 358.3,861.1 359.1,860.6 359.9,861.4 360.7,859.9 361.5,860.7 362.3,862.9 363.1,860.2 363.9,862.0 364.7,861.3 365.5,859.5 366.3,857.9 367.1,860.9 367.9,858.6 368.7,858.6 369.5,857.4 370.3,861.7 371.1,860.8 371.9,860.0 372.7,860.4 373.5,860.5 374.3,860.1 375.1,860.9 375.9,859.8 376.7,856.3 377.5,860.3 378.3,859.7 379.1,859.4 379.9,861.9 380.7,858.4 381.5,856.4 382.3,862.4 383.1,860.7 383.9,858.3 384.7,860.4 385.5,861.8 386.3,859.5 387.1,861.5 387.9,863.3 388.7,862.4 389.5,860.7 390.3,860.9 391.1,859.0 391.9,860.8 392.7,860.1 393.5,858.9 394.3,859.0 395.1,863.8 395.9,861.2 396.7,859.3 397.5,860.3 398.3,862.8 399.1,862.3 399.9,859.2 400.7,860.4 401.5,861.0 402.3,858.9 403.1,857.8 403.9,857.9 404.7,859.5 405.5,858.6 406.3,857.9 407.1,859.4 407.9,861.0 408.7,860.7 409.5,859.3 410.3,862.3 411.1,859.2 411.9,859.9 412.7,858.1 413.5,860.9 414.3,859.7 415.1,857.6 415.9,858.9 416.7,862.5 417.5,860.9 418.3,859.6 419.1,860.8 419.9,857.2 420.7,858.5 421.5,857.9 422.3,858.2 423.1,858.7 423.9,859.9 424.7,860.6 425.5,860.7 426.3,863.0 427.1,859.3 427.9,859.9 428.7,860.8 429.5,859.1 430.3,859.6 431.1,860.2 431.9,858.3 432.7,860.0 433.5,860.9 434.3,857.0 435.1,855.2 435.9,858.2 436.7,856.9 437.5,858.3 438.3,857.8 439.1,859.3 439.9,860.8 440.7,860.4 441.5,858.7 442.3,857.6 443.1,855.9 443.9,856.3 444.7,858.6 445.5,860.1 446.3,858.5 447.1,858.6 447.9,856.9 448.7,857.9 449.5,857.9 450.3,860.8 451.1,857.6 451.9,861.2 452.7,859.0 453.5,860.8 454.3,860.3 455.1,861.5 455.9,861.3 456.7,858.7 457.5,858.5 458.3,858.8 459.1,858.1 459.9,859.5 460.7,858.7 461.5,858.8 462.3,859.5 463.1,858.5 463.9,860.5 464.7,856.3 465.5,859.2 466.3,859.6 467.1,858.6 467.9,859.1 468.7,861.5 469.5,859.4 470.3,857.0 471.1,857.8 471.9,861.1 472.7,858.8 473.5,861.9 474.3,861.4 475.1,858.8 475.9,859.7 476.7,857.9 477.5,858.9 478.3,858.2 479.1,860.1 479.9,857.1 480.7,858.7 481.5,859.1 482.3,860.0 483.1,856.3 483.9,856.8 484.7,857.6 485.5,858.6 486.3,859.1 487.1,859.2 487.9,861.4 488.7,859.8 489.5,859.6 490.3,858.0 491.1,859.7 491.9,859.8 492.7,859.9 493.5,859.0 494.3,859.7 495.1,860.9 495.9,857.2 496.7,855.2 497.5,859.4 498.3,859.1 499.1,857.9 499.9,857.5 500.7,861.6 501.5,858.1 502.3,857.3 503.1,858.8 503.9,860.0 504.7,858.5 505.5,859.0 506.3,859.9 507.1,858.9 507.9,859.8 508.7,859.0 509.5,857.2 510.3,859.0 511.1,857.6 511.9,860.1 512.7,857.3 513.5,858.0 514.3,855.9 515.1,857.6 515.9,856.3 516.7,860.1 517.5,857.6 518.3,858.4 519.1,855.1 519.9,856.0 520.7,857.4 521.5,855.8 522.3,859.2 523.1,857.3 523.9,858.3 524.7,858.7 525.5,857.9 526.3,859.4 527.1,857.9 527.9,859.9 528.7,861.3 529.5,860.0 530.3,860.2 531.1,859.8 531.9,860.0 532.7,861.3 533.5,860.2 534.3,858.1 535.1,860.0 535.9,859.6 536.7,860.3 537.5,859.5 538.3,861.5 539.1,857.7 539.9,857.6 540.7,859.9 541.5,857.3 542.3,859.7 543.1,858.9 543.9,857.0 544.7,860.4 545.5,861.3 546.3,860.3 547.1,858.4 547.9,860.9 548.7,858.5 549.5,859.3 550.3,860.5 551.1,858.6 551.9,857.8 552.7,859.9 553.5,859.5 554.3,858.6 555.1,858.6 555.9,860.8 556.7,859.4 557.5,858.5 558.3,858.3 559.1,859.1 559.9,858.9 560.7,858.4 561.5,856.4 562.3,858.1 563.1,857.6 563.9,858.8 564.7,860.5 565.5,859.9 566.3,859.3 567.1,858.7 567.9,858.4 568.7,859.3 569.5,858.4 570.3,858.9 571.1,858.2 571.9,859.5 572.7,859.5 573.5,862.2 574.3,859.8 575.1,858.3 575.9,859.8 576.7,858.1 577.5,860.3 578.3,859.9 579.1,862.6 579.9,857.7 580.7,859.0 581.5,859.6 582.3,860.6 583.1,861.1 583.9,858.9 584.7,859.0 585.5,860.2 586.3,860.9 587.1,857.7 587.9,857.5 588.7,861.4 589.5,861.1 590.3,862.0 591.1,859.0 591.9,860.3 592.7,861.5 593.5,862.4 594.3,861.7 595.1,861.8 595.9,862.7 596.7,860.9 597.5,860.3 598.3,860.8 599.1,860.3 599.9,860.8 600.7,860.0 601.5,860.2 602.3,862.6 603.1,861.2 603.9,860.2 604.7,862.4 605.5,860.0 606.3,861.0 607.1,860.8 607.9,860.3 608.7,860.3 609.5,860.8 610.3,858.6 611.1,859.6 611.9,860.6 612.7,860.8 613.5,860.5 614.3,863.5 615.1,861.0 615.9,860.2 616.7,860.3 617.5,860.7 618.3,862.0 619.1,861.1 619.9,863.3 620.7,860.0 621.5,861.6 622.3,861.7 623.1,859.7 623.9,862.2 624.7,862.0 625.5,860.3 626.3,864.1 627.1,862.4 627.9,861.1 628.7,861.4 629.5,861.1 630.3,861.9 631.1,861.2 631.9,859.6 632.7,860.1 633.5,860.4 634.3,860.5 635.1,860.9 635.9,860.4 636.7,862.4 637.5,862.9 638.3,861.8 639.1,858.6 639.9,861.0 640.7,861.9 641.5,861.4 642.3,862.0 643.1,861.9 643.9,859.6 644.7,858.1 645.5,862.1 646.3,860.8 647.1,862.2 647.9,861.3 648.7,861.1 649.5,863.1 650.3,859.9 651.1,861.4 651.9,860.3 652.7,862.3 653.5,862.8 654.3,863.1 655.1,862.2 655.9,860.0 656.7,861.4 657.5,861.5 658.3,861.6 659.1,863.2 659.9,860.7 660.7,858.7 661.5,859.4 662.3,860.5 663.1,861.8 663.9,859.7 664.7,863.2 665.5,862.7 666.3,861.2 667.1,863.3 667.9,861.3 668.7,862.1 669.5,861.3 670.3,862.3 671.1,859.8 671.9,862.0 672.7,858.7 673.5,860.3 674.3,860.2 675.1,862.8 675.9,861.6 676.7,860.8 677.5,860.4 678.3,861.7 679.1,860.6 679.9,864.2 680.7,858.1 681.5,861.9 682.3,859.5 683.1,864.3 683.9,861.7 684.7,864.6 685.5,862.1 686.3,864.3 687.1,862.8 687.9,863.9 688.7,862.5 689.5,858.1 690.3,860.5 691.1,859.4 691.9,862.9 692.7,862.4 693.5,861.6 694.3,862.3 695.1,862.2 695.9,860.9 696.7,864.3 697.5,862.2 698.3,862.0 699.1,860.0 699.9,860.8 700.7,861.5 701.5,861.4 702.3,860.2 703.1,860.7 703.9,859.7 704.7,861.1 705.5,859.2 706.3,859.8 707.1,860.3 707.9,862.9 708.7,862.9 709.5,863.0 710.3,861.4 711.1,862.2 711.9,863.6 712.7,863.9 713.5,860.7 714.3,862.1 715.1,862.5 715.9,862.8 716.7,862.6 717.5,863.5 718.3,860.7 719.1,864.6 719.9,861.2 720.7,863.1 721.5,863.8 722.3,864.8 723.1,863.7 723.9,863.7 724.7,864.6 725.5,862.5 726.3,864.4 727.1,865.3 727.9,862.9 728.7,862.2 729.5,862.7 730.3,866.4 731.1,866.3 731.9,863.9 732.7,864.8 733.5,864.3 734.3,865.3 735.1,860.9 735.9,862.6 736.7,862.9 737.5,863.3 738.3,863.0 739.1,862.8 739.9,863.8 740.7,860.7 741.5,867.8 742.3,865.1 743.1,865.3 743.9,863.0 744.7,864.4 745.5,866.2 746.3,866.1 747.1,863.8 747.9,862.4 748.7,863.6 749.5,862.9 750.3,864.0 751.1,861.6 751.9,863.6 752.7,864.3 753.5,862.9 754.3,865.2 755.1,862.3 755.9,862.3 756.7,863.7 757.5,865.5 758.3,863.8 759.1,863.0 759.9,865.0 760.7,864.5 761.5,863.3 762.3,863.6 763.1,863.7 763.9,864.6 764.7,864.0 765.5,862.8 766.3,863.4 767.1,863.6 767.9,864.7 768.7,864.9 769.5,863.3 770.3,864.2 771.1,865.1 771.9,866.0 772.7,865.0 773.5,866.6 774.3,864.0 775.1,864.8 775.9,862.8 776.7,862.3 777.5,863.6 778.3,864.1 779.1,864.0 779.9,863.9 780.7,863.9 781.5,863.2 782.3,864.1 783.1,865.8 783.9,865.9 784.7,860.5 785.5,865.4 786.3,865.9 787.1,866.3 787.9,865.4 788.7,865.6 789.5,863.8 790.3,864.3 791.1,865.5 791.9,863.3 792.7,863.5 793.5,865.0 794.3,863.0 795.1,864.5 795.9,862.7 796.7,865.5 797.5,865.4 798.3,865.1 799.1,864.8 799.9,866.1 800.7,863.5 801.5,865.5 802.3,865.9 803.1,867.8 803.9,865.3 804.7,865.5 805.5,867.1 806.3,867.2 807.1,863.4 807.9,866.3 808.7,866.6 809.5,866.1 810.3,863.4 811.1,863.4 811.9,865.5 812.7,867.9 813.5,865.0 814.3,867.7 815.1,867.7 815.9,863.9 816.7,864.9 817.5,868.0 818.3,867.3 819.1,866.5 819.9,865.9 820.7,866.5 821.5,864.8 822.3,869.0 823.1,863.7 823.9,862.7 824.7,865.3 825.5,867.2 826.3,864.8 827.1,865.3 827.9,864.3 828.7,865.7 829.5,864.1 830.3,864.6 831.1,864.2 831.9,865.2 832.7,868.4 833.5,866.1 834.3,866.3 835.1,868.9 835.9,865.6 836.7,865.1 837.5,867.0 838.3,864.5 839.1,866.6 839.9,867.2 840.7,864.3 841.5,865.3 842.3,868.0 843.1,863.8 843.9,864.1 844.7,865.4 845.5,864.6 846.3,863.7 847.1,867.1 847.9,864.0 848.7,865.2 849.5,864.8 850.3,864.8 851.1,863.4 851.9,866.5 852.7,864.7 853.5,867.0 854.3,864.0 855.1,865.3 855.9,866.6 856.7,865.8 857.5,865.3 858.3,866.0 859.1,864.5 859.9,866.2 860.7,862.4 861.5,866.0 862.3,867.4 863.1,866.7 863.9,866.4 864.7,864.7 865.5,865.8 866.3,864.7 867.1,865.2 867.9,865.7 868.7,861.5 869.5,867.0 870.3,866.5 871.1,867.0 871.9,864.6 872.7,867.2 873.5,866.9 874.3,863.9 875.1,864.4 875.9,866.7 876.7,865.7 877.5,866.6 878.3,866.5 879.1,869.6 879.9,864.7 880.7,865.5 881.5,865.5 882.3,864.9 883.1,866.0 883.9,866.8 884.7,865.0 885.5,867.2 886.3,868.0 887.1,868.1 887.9,869.2 888.7,868.4 889.5,866.6 890.3,869.2 891.1,867.7 891.9,869.4 892.7,866.4 893.5,864.0 894.3,865.1 895.1,866.9 895.9,867.5 896.7,867.2 897.5,868.6 898.3,866.1 899.1,865.9 899.9,868.4 900.7,867.0 901.5,867.4 902.3,868.9 903.1,868.5 903.9,865.5 904.7,866.7 905.5,863.9 906.3,867.0 907.1,867.2 907.9,865.1 908.7,868.9 909.5,870.0 910.3,867.6 911.1,868.2 911.9,869.2 912.7,866.6 913.5,868.1 914.3,867.0 915.1,864.0 915.9,864.8 916.7,864.7 917.5,867.1 918.3,866.0 919.1,867.1 919.9,865.6 920.7,864.5 921.5,869.4 922.3,870.5 923.1,867.6 923.9,867.2 924.7,868.9 925.5,866.1 926.3,867.5 927.1,865.6 927.9,867.7 928.7,867.1 929.5,865.7 930.3,865.6 931.1,864.2 931.9,865.2 932.7,867.8 933.5,865.8 934.3,868.3 935.1,865.8 935.9,867.2 936.7,867.1 937.5,867.0 938.3,868.4 939.1,864.6 939.9,868.1 940.7,868.0 941.5,866.5 942.3,866.5 943.1,865.8 943.9,866.9 944.7,866.1 945.5,865.0 946.3,866.3 947.1,867.3 947.9,866.6 948.7,866.6 949.5,867.1 950.3,866.3 951.1,866.6 951.9,865.2 952.7,867.3 953.5,868.8 954.3,866.9 955.1,866.5 955.9,868.6 956.7,867.3 957.5,867.4 958.3,867.8 959.1,867.6 959.9,866.7 960.7,865.5 961.5,868.9 962.3,866.7 963.1,865.9 963.9,867.4 964.7,868.6 965.5,865.1 966.3,868.9 967.1,866.8 967.9,869.6 968.7,868.5 969.5,867.0 970.3,869.0 971.1,868.9 971.9,867.1 972.7,867.9 973.5,867.0 974.3,869.5 975.1,866.6 975.9,867.7 976.7,865.1 977.5,868.2 978.3,864.7 979.1,865.7 979.9,867.2 980.7,866.8 981.5,865.9 982.3,865.2 983.1,865.7 983.9,864.1 984.7,867.2 985.5,868.0 986.3,868.3 987.1,867.4 987.9,869.2 988.7,868.4 989.5,869.0 990.3,868.5 991.1,868.2 991.9,866.9 992.7,864.2 993.5,868.0 994.3,867.0 995.1,869.0 995.9,864.0 996.7,867.7 997.5,865.7 998.3,867.0 999.1,866.3 999.9,868.0 1000.7,867.8 1001.5,869.0 1002.3,868.2 1003.1,868.7 1003.9,869.9 1004.7,868.2 1005.5,867.3 1006.3,868.8 1007.1,866.7 1007.9,867.3 1008.7,866.6 1009.5,866.4 1010.3,863.5 1011.1,868.4 1011.9,866.8 1012.7,869.6 1013.5,870.7 1014.3,867.0 1015.1,870.1 1015.9,868.8 1016.7,869.1 1017.5,867.0 1018.3,868.5 1019.1,868.3 1019.9,869.6 1020.7,870.6 1021.5,868.0 1022.3,867.3 1023.1,870.9 1023.9,868.3 1024.7,868.4 1025.5,868.6 1026.3,869.2 1027.1,869.8 1027.9,867.8 1028.7,868.8 1029.5,870.8 1030.3,870.2 1031.1,868.2 1031.9,868.4 1032.7,867.9 1033.5,869.4 1034.3,867.5 1035.1,868.7 1035.9,867.7 1036.7,867.7 1037.5,868.5 1038.3,868.6 1039.1,867.7 1039.9,868.2 1040.7,868.4 1041.5,867.6 1042.3,867.5 1043.1,868.5 1043.9,869.7 1044.7,870.0 1045.5,868.6 1046.3,867.5 1047.1,868.1 1047.9,870.7 1048.7,869.1 1049.5,866.4 1050.3,867.5 1051.1,866.8 1051.9,867.4 1052.7,865.7 1053.5,868.1 1054.3,866.4 1055.1,867.1 1055.9,869.9 1056.7,869.7 1057.5,866.9 1058.3,866.9 1059.1,867.0 1059.9,865.9 1060.7,867.3 1061.5,867.7 1062.3,866.4 1063.1,869.1 1063.9,867.8 1064.7,867.7 1065.5,870.8 1066.3,869.5 1067.1,868.8 1067.9,871.2 1068.7,871.1 1069.5,869.1 1070.3,870.3 1071.1,869.3 1071.9,867.8 1072.7,871.9 1073.5,871.4 1074.3,867.8 1075.1,870.4 1075.9,867.5 1076.7,870.9 1077.5,869.6 1078.3,869.5 1079.1,871.6 1079.9,870.1 1080.7,869.6 1081.5,870.8 1082.3,868.8 1083.1,870.1 1083.9,868.8 1084.7,869.5 1085.5,869.1 1086.3,869.1 1087.1,866.3 1087.9,870.1 1088.7,868.1 1089.5,870.8 1090.3,868.0 1091.1,868.6 1091.9,868.8 1092.7,870.6 1093.5,868.6 1094.3,870.2 1095.1,867.3 1095.9,868.4 1096.7,869.2 1097.5,868.9 1098.3,866.5 1099.1,869.4 1099.9,867.5 1100.7,871.3 1101.5,867.9 1102.3,871.1 1103.1,869.3 1103.9,869.1 1104.7,867.6 1105.5,868.7 1106.3,869.5 1107.1,866.3 1107.9,870.2 1108.7,867.9 1109.5,869.7 1110.3,866.0 1111.1,870.2 1111.9,870.7 1112.7,869.4 1113.5,869.4 1114.3,868.3 1115.1,869.1 1115.9,870.0 1116.7,867.5 1117.5,869.3 1118.3,869.6 1119.1,868.1 1119.9,868.9 1120.7,869.4 1121.5,869.0 1122.3,872.8 1123.1,869.5 1123.9,872.4 1124.7,871.2" fill="none" stroke="#2b48a6" stroke-width="1.9" stroke-linejoin="round"/><rect x="124.8" y="412.7" width="1000.9000000000001" height="480.3" fill="none" stroke="#111" stroke-width="1.5"/><text x="111.5" y="900.0" font-size="28.5" text-anchor="end" fill="#111">0.5</text><text x="111.5" y="829.0" font-size="28.5" text-anchor="end" fill="#111">1.0</text><text x="111.5" y="758.0" font-size="28.5" text-anchor="end" fill="#111">1.5</text><text x="111.5" y="687.0" font-size="28.5" text-anchor="end" fill="#111">2.0</text><text x="111.5" y="616.0" font-size="28.5" text-anchor="end" fill="#111">2.5</text><text x="111.5" y="545.0" font-size="28.5" text-anchor="end" fill="#111">3.0</text><text x="111.5" y="474.0" font-size="28.5" text-anchor="end" fill="#111">3.5</text><path d="M116.2,893.0H124.8M120.6,857.5H124.8M116.2,822.0H124.8M120.6,786.5H124.8M116.2,751.0H124.8M120.6,715.5H124.8M116.2,680.0H124.8M120.6,644.5H124.8M116.2,609.0H124.8M120.6,573.5H124.8M116.2,538.0H124.8M120.6,502.5H124.8M116.2,467.0H124.8M138.8,893.0V898.0M208.5,893.0V902.5M278.2,893.0V898.0M347.9,893.0V902.5M417.6,893.0V898.0M487.3,893.0V902.5M557.0,893.0V898.0M626.7,893.0V902.5M696.3,893.0V898.0M766.0,893.0V902.5M835.7,893.0V898.0M905.4,893.0V902.5M975.1,893.0V898.0M1044.8,893.0V902.5M1114.5,893.0V898.0" stroke="#111" stroke-width="1.4" fill="none"/><text x="202.3" y="930.6" font-size="28" text-anchor="middle" fill="#111" textLength="45.5" lengthAdjust="spacingAndGlyphs">500</text><text x="345.0" y="930.6" font-size="28" text-anchor="middle" fill="#111" textLength="61" lengthAdjust="spacingAndGlyphs">1000</text><text x="485.8" y="930.6" font-size="28" text-anchor="middle" fill="#111" textLength="61" lengthAdjust="spacingAndGlyphs">1500</text><text x="626.7" y="930.6" font-size="28" text-anchor="middle" fill="#111" textLength="61" lengthAdjust="spacingAndGlyphs">2000</text><text x="766.0" y="930.6" font-size="28" text-anchor="middle" fill="#111" textLength="61" lengthAdjust="spacingAndGlyphs">2500</text><text x="905.4" y="930.6" font-size="28" text-anchor="middle" fill="#111" textLength="61" lengthAdjust="spacingAndGlyphs">3000</text><text x="1044.8" y="930.6" font-size="28" text-anchor="middle" fill="#111" textLength="61" lengthAdjust="spacingAndGlyphs">3500</text><text x="554.5" y="969.3" font-size="32" fill="#111" textLength="240" lengthAdjust="spacingAndGlyphs">Raman shift (cm</text><text x="795" y="958" font-size="16.5" fill="#111">-</text><text x="802" y="958" font-size="16.5" fill="#111">1</text><text x="810.5" y="969.3" font-size="32" fill="#111">)</text><text font-size="32" fill="#111" transform="translate(55.6,868) rotate(-90)" textLength="391" lengthAdjust="spacingAndGlyphs">Raman Intensity (×10<tspan font-size="19" dy="-12">3</tspan><tspan dy="12"> counts)</tspan></text><text x="1113.6" y="507.5" font-size="27.8" text-anchor="end" fill="#111" textLength="163" lengthAdjust="spacingAndGlyphs">α middle site</text><text x="1113.6" y="579.6" font-size="27.8" text-anchor="end" fill="#111" textLength="126" lengthAdjust="spacingAndGlyphs">α end site</text><text x="1113.6" y="646.5" font-size="27.8" text-anchor="end" fill="#111" textLength="162" lengthAdjust="spacingAndGlyphs">β middle site</text><text x="1113.6" y="717.3" font-size="27.8" text-anchor="end" fill="#111" textLength="125" lengthAdjust="spacingAndGlyphs">β end site</text><text x="1113.6" y="792.7" font-size="27.8" text-anchor="end" fill="#111" textLength="160.5" lengthAdjust="spacingAndGlyphs">γ middle site</text><text x="1113.6" y="856.8" font-size="27.8" text-anchor="end" fill="#111" textLength="124.5" lengthAdjust="spacingAndGlyphs">γ end site</text><text x="580.4" y="460.4" font-size="25.5" fill="#111" textLength="262" lengthAdjust="spacingAndGlyphs">C-H stretching mode</text><path d="M866,442V461" stroke="#111" stroke-width="1.6"/><path d="M866,467 L859.5,450 L866,456 L872.5,450 Z" fill="#111"/><path d="M855,591.8V613" stroke="#111" stroke-width="1.6"/><path d="M855,619 L848.5,602 L855,608 L861.5,602 Z" fill="#111"/><path d="M126.4,1020.3V1272.3999999999999 M45.8,1150.5H203.39999999999998" stroke="#d8d4ec" stroke-opacity="0.85" stroke-width="1.8" stroke-dasharray="7 8" fill="none"/><path d="M328.9,1020.3V1272.3999999999999 M252,1150.5H410.8" stroke="#d8d4ec" stroke-opacity="0.85" stroke-width="1.8" stroke-dasharray="7 8" fill="none"/><path d="M565.3,1021.3V1273.6 M484.5,1152.8H642.9" stroke="#d8d4ec" stroke-opacity="0.85" stroke-width="1.8" stroke-dasharray="7 8" fill="none"/><path d="M767.4,1021.3V1273.3999999999999 M690.9,1152.8H848.9" stroke="#d8d4ec" stroke-opacity="0.85" stroke-width="1.8" stroke-dasharray="7 8" fill="none"/><path d="M981.4,1022.9V1275.3 M900.8,1153.2H1058.3" stroke="#d8d4ec" stroke-opacity="0.85" stroke-width="1.8" stroke-dasharray="7 8" fill="none"/><path d="M1183.4,1022.9V1275.3 M1107,1153.2H1264.6" stroke="#d8d4ec" stroke-opacity="0.85" stroke-width="1.8" stroke-dasharray="7 8" fill="none"/><text x="94.3" y="1011.4" font-size="27.5" fill="#111" textLength="61.5" lengthAdjust="spacingAndGlyphs">STM</text><text x="253.2" y="1011.4" font-size="27.5" fill="#111" textLength="159" lengthAdjust="spacingAndGlyphs">Raman exp.</text><rect x="48.1" y="1027.7" width="90.6" height="2" fill="#fff"/><text x="57.6" y="1052.2" font-size="20" fill="#fff" textLength="56" lengthAdjust="spacingAndGlyphs">1 nm</text><defs><linearGradient id="jetg" x1="0" y1="1" x2="0" y2="0"><stop offset="0" stop-color="#2c3391"/><stop offset="0.11" stop-color="#3050b0"/><stop offset="0.2" stop-color="#3070c8"/><stop offset="0.28" stop-color="#10a0e0"/><stop offset="0.35" stop-color="#20b0c0"/><stop offset="0.43" stop-color="#40b088"/><stop offset="0.53" stop-color="#50b848"/><stop offset="0.64" stop-color="#a8cc40"/><stop offset="0.73" stop-color="#e8dc20"/><stop offset="0.81" stop-color="#f5a020"/><stop offset="0.91" stop-color="#f06030"/><stop offset="1.0" stop-color="#e8202a"/></linearGradient><linearGradient id="ramg" x1="0" y1="1" x2="0" y2="0"><stop offset="0" stop-color="#0a0a10"/><stop offset="0.13" stop-color="#141838"/><stop offset="0.22" stop-color="#242860"/><stop offset="0.32" stop-color="#2e4078"/><stop offset="0.39" stop-color="#4a6080"/><stop offset="0.46" stop-color="#607488"/><stop offset="0.54" stop-color="#9a7860"/><stop offset="0.62" stop-color="#d88838"/><stop offset="0.72" stop-color="#f0a840"/><stop offset="0.81" stop-color="#fcc848"/><stop offset="0.9" stop-color="#fde8a8"/><stop offset="1.0" stop-color="#fffbe8"/></linearGradient></defs><rect x="212.4" y="1092.4" width="25.5" height="121.9" fill="url(#jetg)" stroke="#7a7470" stroke-width="1.2"/><rect x="423.2" y="1092" width="25" height="122.1" fill="url(#ramg)" stroke="#5a5450" stroke-width="1.2"/><text x="216" y="1085.8" font-size="19.5" fill="#111" textLength="19" lengthAdjust="spacingAndGlyphs">Hi</text><text x="214.6" y="1236.8" font-size="19.5" fill="#111" textLength="22" lengthAdjust="spacingAndGlyphs">Lo</text><text x="426.2" y="1085.8" font-size="19.5" fill="#111" textLength="18.5" lengthAdjust="spacingAndGlyphs">Hi</text><text x="424" y="1236.8" font-size="19.5" fill="#111" textLength="22" lengthAdjust="spacingAndGlyphs">Lo</text><text x="175" y="1261" font-size="31" fill="#fff">α</text><text x="381.5" y="1260" font-size="31" fill="#fff">α</text><text x="614.5" y="1257.5" font-size="31" fill="#fff">β</text><text x="821" y="1254.5" font-size="31" fill="#fff">β</text><text x="1029.5" y="1265" font-size="31" fill="#fff">γ</text><text x="1234.5" y="1263" font-size="31" fill="#fff">γ</text><path d="M1214.3,485.8L1224.7,496.2M1214.3,496.2L1224.7,485.8" stroke="#111" stroke-width="1.9"/><path d="M1201.6,516.8L1212.0,527.2M1201.6,527.2L1212.0,516.8" stroke="#111" stroke-width="1.9"/><path d="M1210.8,652.1999999999999L1221.2,662.6M1210.8,662.6L1221.2,652.1999999999999" stroke="#111" stroke-width="1.9"/><path d="M1198.1,687.4L1208.5,697.8000000000001M1198.1,697.8000000000001L1208.5,687.4" stroke="#111" stroke-width="1.9"/><path d="M1215.3,815.3L1225.7,825.7M1215.3,825.7L1225.7,815.3" stroke="#111" stroke-width="1.9"/><path d="M1200.7,854.0999999999999L1211.1000000000001,864.5M1200.7,864.5L1211.1000000000001,854.0999999999999" stroke="#111" stroke-width="1.9"/><text x="1223" y="560.5" font-size="30" fill="#fff">α</text><text x="1227.5" y="716.5" font-size="30" fill="#fff">β</text><text x="1225.5" y="881" font-size="30" fill="#fff">γ</text><rect x="1213.3" y="902.4" width="45.7" height="3.8" fill="#111"/><text x="1203.5" y="936" font-size="25.5" fill="#111" textLength="60" lengthAdjust="spacingAndGlyphs">1 nm</text>
</svg></body></html>
